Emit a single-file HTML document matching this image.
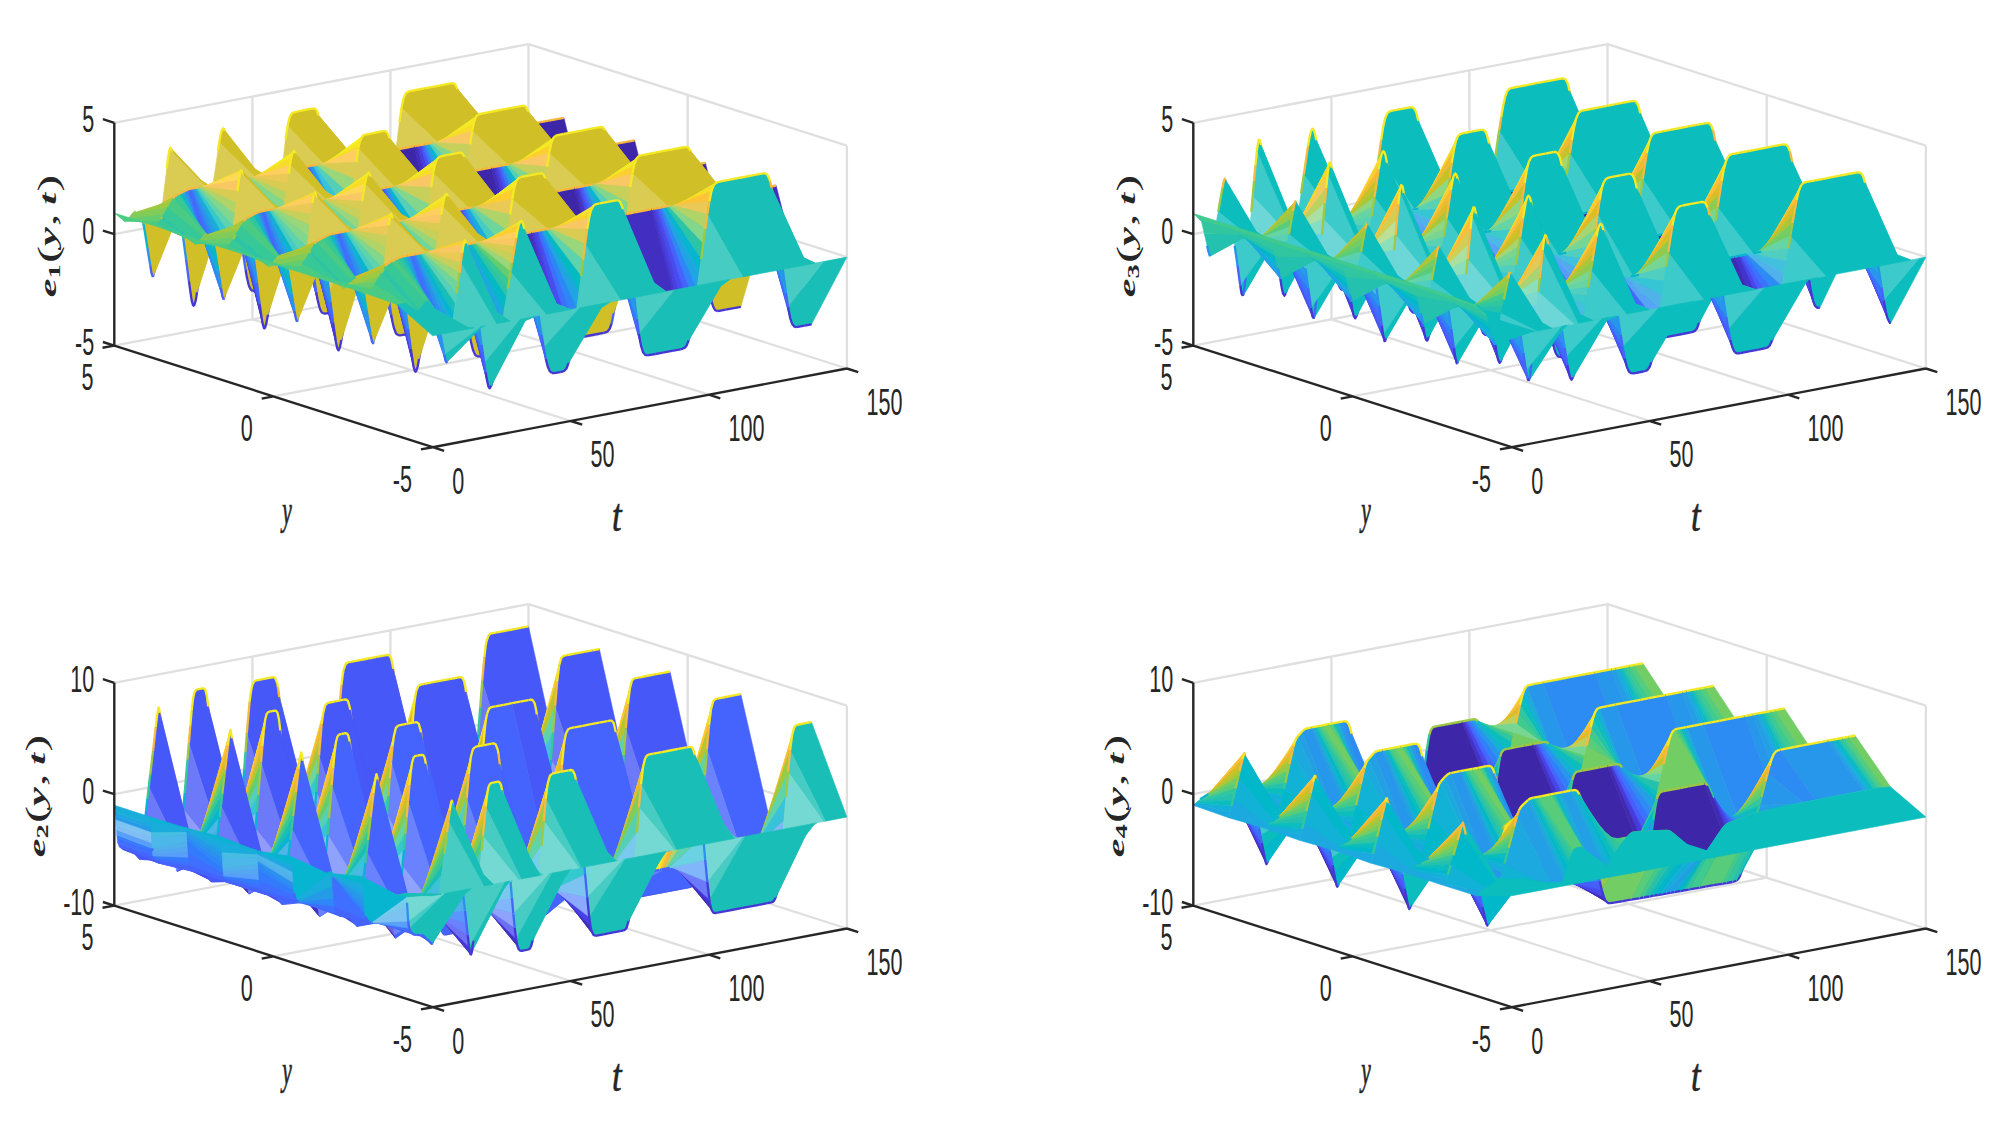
<!DOCTYPE html>
<html lang="en"><head><meta charset="utf-8"><title>e(y,t) mesh plots</title>
<style>
html,body{margin:0;padding:0;background:#fff}
svg{display:block}
.g{fill:none;stroke:#dfdfdf;stroke-width:2.3}
.a{fill:none;stroke:#262626;stroke-width:2.4}
.k{font-family:"Liberation Sans",Arial,sans-serif;font-size:37.5px;fill:#262626}
.m{font-family:"Liberation Serif","DejaVu Serif",serif;font-style:italic;font-size:40.5px;fill:#262626;stroke:#262626;stroke-width:.7px}
.n{font-size:46px}
.b{font-family:"Liberation Serif","DejaVu Serif",serif;font-style:italic;font-weight:bold;font-size:43px;fill:#262626}
.p{font-style:normal;font-weight:normal;font-size:52px}
.s{font-size:29px;font-style:normal}
.q path{stroke-width:.6}
.q path.l{fill:none;stroke-width:2.3;stroke-linejoin:round}
.c0{fill:#3e26a8;stroke:#3e26a8}.c1{fill:#402ab4;stroke:#402ab4}.c2{fill:#422ec0;stroke:#422ec0}.c3{fill:#4332cb;stroke:#4332cb}.c4{fill:#4537d5;stroke:#4537d5}.c5{fill:#463cde;stroke:#463cde}.c6{fill:#4741e5;stroke:#4741e5}.c7{fill:#4747eb;stroke:#4747eb}.c8{fill:#484df0;stroke:#484df0}.c9{fill:#4852f4;stroke:#4852f4}.c10{fill:#4758f8;stroke:#4758f8}.c11{fill:#465efb;stroke:#465efb}.c12{fill:#4563fd;stroke:#4563fd}.c13{fill:#4269fe;stroke:#4269fe}.c14{fill:#3e6fff;stroke:#3e6fff}.c15{fill:#3875fe;stroke:#3875fe}.c16{fill:#327cfc;stroke:#327cfc}.c17{fill:#2f81fa;stroke:#2f81fa}.c18{fill:#2e87f7;stroke:#2e87f7}.c19{fill:#2d8cf3;stroke:#2d8cf3}.c20{fill:#2b91ef;stroke:#2b91ef}.c21{fill:#2797eb;stroke:#2797eb}.c22{fill:#259be8;stroke:#259be8}.c23{fill:#23a0e5;stroke:#23a0e5}.c24{fill:#20a5e3;stroke:#20a5e3}.c25{fill:#1ca9df;stroke:#1ca9df}.c26{fill:#18addb;stroke:#18addb}.c27{fill:#12b1d6;stroke:#12b1d6}.c28{fill:#08b5d0;stroke:#08b5d0}.c29{fill:#01b8ca;stroke:#01b8ca}.c30{fill:#02bac3;stroke:#02bac3}.c31{fill:#0bbdbd;stroke:#0bbdbd}.c32{fill:#19bfb6;stroke:#19bfb6}.c33{fill:#24c1ae;stroke:#24c1ae}.c34{fill:#2cc4a7;stroke:#2cc4a7}.c35{fill:#31c69f;stroke:#31c69f}.c36{fill:#37c897;stroke:#37c897}.c37{fill:#3fca8e;stroke:#3fca8e}.c38{fill:#4acb84;stroke:#4acb84}.c39{fill:#57cc7a;stroke:#57cc7a}.c40{fill:#64cd6f;stroke:#64cd6f}.c41{fill:#72cd64;stroke:#72cd64}.c42{fill:#81cc59;stroke:#81cc59}.c43{fill:#8fcb4e;stroke:#8fcb4e}.c44{fill:#9dc943;stroke:#9dc943}.c45{fill:#abc739;stroke:#abc739}.c46{fill:#b9c431;stroke:#b9c431}.c47{fill:#c5c22a;stroke:#c5c22a}.c48{fill:#d1bf27;stroke:#d1bf27}.c49{fill:#dcbd29;stroke:#dcbd29}.c50{fill:#e6bb2d;stroke:#e6bb2d}.c51{fill:#f0ba36;stroke:#f0ba36}.c52{fill:#f8ba3d;stroke:#f8ba3d}.c53{fill:#febe3c;stroke:#febe3c}.c54{fill:#fec338;stroke:#fec338}.c55{fill:#fec934;stroke:#fec934}.c56{fill:#fccf30;stroke:#fccf30}.c57{fill:#fad62d;stroke:#fad62d}.c58{fill:#f7dc2a;stroke:#f7dc2a}.c59{fill:#f5e327;stroke:#f5e327}.c60{fill:#f5e924;stroke:#f5e924}.c61{fill:#f6ef20;stroke:#f6ef20}.c62{fill:#f7f51b;stroke:#f7f51b}.c63{fill:#f9fb15;stroke:#f9fb15}
.o2{fill-opacity:.2;stroke:none}.o3{fill-opacity:.3;stroke:none}.o4{fill-opacity:.4;stroke:none}.o5{fill-opacity:.5;stroke:none}.o6{fill-opacity:.6;stroke:none}.o7{fill-opacity:.7;stroke:none}.o8{fill-opacity:.8;stroke:none}.o9{fill-opacity:.9;stroke:none}
</style></head><body>
<svg width="2006" height="1133" viewBox="0 0 2006 1133">
<rect width="2006" height="1133" fill="#fff"/>
<g>
<path class="g" d="M114.3 345.6L528.5 266.9M846.9 368.5L528.5 266.9M273.5 396.4L687.7 317.7M570.8 421L252.4 319.4M708.8 394.7L390.4 293.1M252.4 319.4L252.4 96.6M390.4 293.1L390.4 70.3M528.5 266.9L528.5 44.1M114.3 234.2L528.5 155.5M114.3 122.8L528.5 44.1M687.7 317.7L687.7 94.9M846.9 368.5L846.9 145.7M846.9 257.1L528.5 155.5M846.9 145.7L528.5 44.1"/>
<g class="q"><path class="c48" d="M507.3 128.5l56.6-10.7-35.4 121.2-44.2 8.4-2.1 .1-2-1.2-2.1-4.6-.7-2.6-1.4-7-2-14.3-2.1-16.9z"/><path class="c4 l" d="M528.5 239l-6.9 1.4"/><path class="c4 l" d="M521.6 240.4l-8.3 1.5"/><path class="c4 l" d="M513.3 241.9l-8.3 1.6"/><path class="c4 l" d="M505 243.5l-8.3 1.6"/><path class="c4 l" d="M496.7 245.1l-8.2 1.6"/><path class="c4 l" d="M488.5 246.7l-4.2 .7-2.1 .1-2-1.2"/><path class="c4 l" d="M480.2 246.3l-2.1-4.6-.7-2.6-1.4-7-2-14.3"/><path class="c12 l" d="M474 217.8l-2.1-16.9"/><path fill="#dacc52" stroke="#dacc52" d="M496.9 130.5l10.4-2-35.4 72.4-10.4-88z"/><path class="c20 l" d="M471.9 200.9l-2.1-17.7"/><path class="c28 l" d="M469.8 183.2l-2-17.8"/><path class="c36 l" d="M467.8 165.4l-4.2-35.6"/><path class="c48" d="M492.8 131.3l4.1-.8-35.4-17.6-2-14.3-1.4-7-.7-2.6z"/><path class="c60 l" d="M459.5 98.6l-1.4-7-.7-2.6"/><path class="c48" d="M401.5 108.1l2-9.5 2.1-4.9 2.1-1.8 2.1-.7 2-.4 39.4-7.5 2.1 0 2 1.2 2.1 4.5 35.4 42.3-55.9 10.6z"/><path class="c60 l" d="M457.4 89l-2.1-4.5-2-1.2-2.1 0-2.1 .4"/><path class="c60 l" d="M449.1 83.7l-8.3 1.6"/><path class="c60 l" d="M440.8 85.3l-8.3 1.5"/><path class="c60 l" d="M432.5 86.8l-8.2 1.6"/><path class="c60 l" d="M424.3 88.4l-8.3 1.6"/><path class="c60 l" d="M416 90l-6.2 1.2-2.1 .7"/><path class="c60 l" d="M407.7 91.9l-2.1 1.8-2.1 4.9-2 9.5"/><path fill="#dacc52" stroke="#dacc52" d="M393.2 171.8l6.2-49.9 2.1-13.8 35.4 33.8-8.3 1.6z"/><path class="c60 l" d="M401.5 108.1l-2.1 13.8"/><path class="c48" d="M382.8 252.1l2.1-13.5 2.1-16 6.2-50.8 35.4-28.3-10.4 1.9z"/><path class="c36 l" d="M393.2 171.8l-2.1 17"/><path class="c28 l" d="M391.1 188.8l-2 17"/><path class="c20 l" d="M389.1 205.8l-4.2 32.8"/><path class="c12 l" d="M384.9 238.6l-2.1 13.5"/><path class="c48" d="M368.5 154.9l49.7-9.5-35.4 106.7-1.2 6.1-.8 3.1-2.1 4.6-2.1 1.7-2 .7-29 5.5-2.1 .4-2.1 0-2.1-1.4-2-5.1-.7-3-1.4-7.8-2.1-16.1z"/><path class="c4 l" d="M382.8 252.1l-1.2 6.1-.8 3.1-2.1 4.6-2.1 1.7-2 .7"/><path class="c4 l" d="M374.6 268.3l-8.3 1.6"/><path class="c4 l" d="M366.3 269.9l-8.3 1.5"/><path class="c4 l" d="M358 271.4l-8.3 1.6"/><path class="c4 l" d="M349.7 273l-6.2 1.2-2.1 0"/><path class="c4 l" d="M341.4 274.2l-2.1-1.4-2-5.1-.7-3-1.4-7.8"/><path class="c12 l" d="M335.2 256.9l-2.1-16.1"/><path fill="#dacc52" stroke="#dacc52" d="M362.3 156.1l6.2-1.2-35.4 85.9-6.2-58.8z"/><path class="c12 l" d="M333.1 240.8l-2-18.9"/><path class="c20 l" d="M331.1 221.9l-2.1-19.8"/><path fill="#e4d97d" stroke="#e4d97d" d="M360.2 156.5l2.1-.4-35.4 25.9-2-19.8z"/><path class="c28 l" d="M329 202.1l-2.1-20.1"/><path class="c36 l" d="M326.9 182l-2-19.8"/><path fill="#dacc52" stroke="#dacc52" d="M356.1 157.3l4.1-.8-35.3 5.7-2.1-19-2.1-16.4z"/><path class="c48" d="M354 157.6l2.1-.3-35.4-30.5-2.1-11.2z"/><path class="c60 l" d="M320.7 126.8l-2.1-11.2"/><path class="c48" d="M287.6 126l.7-3.4 1.3-5.1 2.1-3.9 2.1-1.3 2.1-.6 14.5-2.8 2-.3 2.1 0 2.1 1.6 2 5.4 35.4 42-31 6z"/><path class="c60 l" d="M318.6 115.6l-2-5.4-2.1-1.6-2.1 0-2 .3"/><path class="c60 l" d="M310.4 108.9l-8.3 1.6"/><path class="c60 l" d="M302.1 110.5l-8.3 1.8"/><path class="c60 l" d="M293.8 112.3l-2.1 1.3-2.1 3.9-1.3 5.1-.7 3.4"/><path fill="#dacc52" stroke="#dacc52" d="M279.3 192.3l6.2-52.9 2.1-13.4 35.4 37.6-8.3 1.5z"/><path class="c60 l" d="M287.6 126l-2.1 13.4"/><path class="c48" d="M268.9 276.4l2.1-13.2 2.1-16.5 6.2-54.4 35.4-27.2-10.4 2z"/><path class="c36 l" d="M279.3 192.3l-2.1 18.2"/><path class="c28 l" d="M277.2 210.5l-2.1 18.3"/><path class="c20 l" d="M275.1 228.8l-4.1 34.4"/><path class="c12 l" d="M271 263.2l-2.1 13.2"/><path class="c48" d="M273.9 172.9l30.4-5.8-35.4 109.3-.5 2.6-1.5 5.5-2.1 3.6-2.1 1.3-2 .5-6.3 1.1-2-.2-1.4-1-1.4-2.4-1.4-4.1-1.4-6.2-1.3-7.8-6.9-47.9z"/><path class="c4 l" d="M268.9 276.4l-.5 2.6-1.5 5.5-2.1 3.6-2.1 1.3-2 .5"/><path class="c4 l" d="M260.7 289.9l-6.3 1.1-2-.2"/><path class="c4 l" d="M252.4 290.8l-1.4-1-1.4-2.4-1.1-3.1-1.7-7.2-1.3-7.8"/><path class="c12 l" d="M245.5 269.3l-2.8-18.5"/><path class="c20 l" d="M242.7 250.8l-2.8-19.5"/><path class="c28 l" d="M239.9 231.3l-1.3-9.9"/><path fill="#dacc52" stroke="#dacc52" d="M264.3 174.7l9.6-1.8-35.3 48.5-9.7-68.6z"/><path class="c28 l" d="M238.6 221.4l-2.8-19.7"/><path class="c36 l" d="M235.8 201.7l-2.8-19.6"/><path class="c48" d="M260.1 175.5l4.2-.8-35.4-21.9-2.8-16.8-1.3-5.4z"/><path class="c60 l" d="M227.5 143.8l-1.4-7.8-1.3-5.4"/><path class="c48" d="M219.2 142.4l1.4-7.5 1.4-5.1 1.4-1.5 1.4 2.3 35.3 44.9-5.5 1z"/><path class="c60 l" d="M224.8 130.6l-1.4-2.3-1.4 1.5-1.4 5.1-1.4 7.5"/><path fill="#dacc52" stroke="#dacc52" d="M210.9 198.2l8.3-55.8 35.4 34.1-8.3 1.6z"/><path class="c60 l" d="M219.2 142.4l-1.4 8.7"/><path class="c48" d="M197.1 292.2l13.8-94 35.4-20.1-13.8 2.6z"/><path class="c36 l" d="M210.9 198.2l-2.7 18.9"/><path class="c28 l" d="M208.2 217.1l-4.2 28.3"/><path class="c20 l" d="M204 245.4l-2.7 18.9"/><path class="c12 l" d="M201.3 264.3l-4.2 27.9"/><path class="c48" d="M218.7 183.4l13.8-2.7-35.4 111.5-1.3 7.9-1.4 4.9-.8 .8-.6-.6-1.4-5.1-1.4-8.8-6.9-52.7z"/><path class="c4 l" d="M197.1 292.2l-1.3 7.9-1.4 4.9-.8 .8-.6-.6-1.4-5.1-2.7-19"/><path class="c12 l" d="M188.9 281.1l-2.8-21.2"/><path class="c20 l" d="M186.1 259.9l-2.8-21.3"/><path fill="#dacc52" stroke="#dacc52" d="M209 185.2l9.7-1.8-35.4 55.2-9.6-74.2z"/><path class="c28 l" d="M183.3 238.6l-2.7-21.2"/><path class="c36 l" d="M180.6 217.4l-2.8-21.2"/><path class="c48" d="M206.3 185.7l2.7-.5-35.3-20.8-1.4-9.7-1.4-6.4z"/><path class="c48" d="M169.5 149.4l.9-1.7 .5 .6 35.4 37.4-1.4 .3z"/><path class="c60 l" d="M172.3 154.7l-1.4-6.4-.5-.6-.9 1.7"/><path fill="#dacc52" stroke="#dacc52" d="M161.2 214.1l6.9-56.6 1.4-8.1 35.4 36.6-8.3 1.6z"/><path class="c60 l" d="M169.5 149.4l-1.4 8.1-1.3 11"/><path class="c48" d="M153 277l1.3-6.4 6.9-56.5 35.4-26.5-8.3 1.7z"/><path class="c36 l" d="M161.2 214.1l-1.3 11.4"/><path class="c28 l" d="M159.9 225.5l-2.8 22.8"/><path class="c20 l" d="M157.1 248.3l-2.8 22.3"/><path class="c12 l" d="M154.3 270.6l-1.3 6.4"/><path class="c48" d="M174.5 196.5l1.4-1 12.4-6.2-35.3 87.7-1.4-3.5-6.9-42.8-1.4-7.3-1.4-3.3-2.7-4z"/><path class="c12 l" d="M153 277l-1.4-3.5-1.4-8.2"/><path class="c20 l" d="M150.2 265.3l-2.8-17.3"/><path class="c28 l" d="M147.4 248l-2.7-17.3-1.4-7.3"/><path class="c46" d="M171.8 200.8l2.7-4.3-35.3 19.6-2.8-3.9z"/><path class="c36 l" d="M143.3 223.4l-1.4-3.3-5.5-7.9"/><path class="c44" d="M132.2 213.6l1.4-1.7 1.4-1.1 1.4 1.4 35.4-11.4-4.2 6.9z"/><path class="c42" d="M128.1 218.7l4.1-5.1 35.4-5.9-4.1 6.9z"/><path class="c40" d="M124 220.9l1.3 1 2.8-3.2 35.4-4.1-4.2 7z"/><path class="c38" d="M122.6 219.8l1.4 1.1 35.3 .7-1.3 2.1z"/><path class="c38" d="M149.7 224.3l8.3-.6-35.4-3.9-8.3-6.8z"/></g>
<g class="q"><path class="c0" d="M517.6 126.6l46.3-8.8 35.4 143.8-42.2 8-2 .4-2.1 .1z"/><path class="c52 l" d="M563.9 117.8l-6.9 1.3"/><path class="c52 l" d="M557 119.1l-8.3 1.6"/><path class="c52 l" d="M548.7 120.7l-8.3 1.5"/><path class="c52 l" d="M540.4 122.2l-8.3 1.6"/><path class="c52 l" d="M532.1 123.8l-8.3 1.6"/><path class="c2" d="M515.6 127l2-.4 35.4 143.5-2.1-1.3z"/><path class="c4" d="M512.8 127.5l2.8-.5 35.3 141.8-2-4.5-.7-2.6z"/><path class="c52 l" d="M523.8 125.4l-8.2 1.6"/><path class="c6" d="M511.4 127.7l1.4-.2 35.4 134.2-1.4-7z"/><path class="c12" d="M509.3 128.1l2.1-.4 35.4 127-2.1-14.3z"/><path class="c18" d="M542.6 223.5l2.1 16.9-35.4-112.3-2 .4z"/><path class="c24" d="M540.6 205.8l2 17.7-35.3-95-2.1 .4z"/><path class="c52 l" d="M515.6 127l-8.3 1.5"/><path class="c32" d="M538.5 187.9l2.1 17.9-35.4-76.9-2.1 .4z"/><path class="c38" d="M536.4 170.1l2.1 17.8-35.4-58.6-2 .4z"/><path fill="#b1d468" stroke="#b1d468" d="M534.4 152.4l2 17.7-35.3-40.4-2.1 .4z"/><path class="c52 l" d="M507.3 128.5l-6.2 1.2"/><path fill="#f9c864" stroke="#f9c864" d="M532.3 135.5l2.1 16.9-35.4-22.3-2.1 .4z"/><path fill="#fdd959" stroke="#fdd959" d="M530.2 121.2l2.1 14.3-35.4-5-2.1 .4z"/><path class="c60" d="M528.2 111.6l.6 2.6 1.4 7-35.4 9.7-2 .4z"/><path class="c62" d="M476.4 116.3l2-1.8 2.1-.7 41.4-7.9 2.1-.1 2.1 1.3 2.1 4.5-35.4 19.7-51.8 9.8z"/><path class="c52 l" d="M492.8 131.3l-8.3 1.6"/><path class="c52 l" d="M484.5 132.9l-8.3 1.5"/><path class="c52 l" d="M476.2 134.4l-8.3 1.6"/><path class="c52 l" d="M467.9 136l-8.3 1.6"/><path class="c52 l" d="M459.6 137.6l-8.2 1.6"/><path class="c52 l" d="M451.4 139.2l-8.3 1.5"/><path class="c60" d="M438.2 141.6l2.8-.5 35.4-24.8-2.1 4.9-.7 2.6z"/><path class="c52 l" d="M443.1 140.7l-2.1 .4"/><path class="c58" d="M436.9 141.9l1.3-.3 35.4-17.8-1.4 6.9z"/><path fill="#f9c864" stroke="#f9c864" d="M434.8 142.3l2.1-.4 35.3-11.2-2 13.7z"/><path fill="#c7d05a" stroke="#c7d05a" d="M432.7 142.7l2.1-.4 35.4 2.1-2.1 16.1z"/><path fill="#83d78c" stroke="#83d78c" d="M430.6 143.1l2.1-.4 35.4 17.8-2.1 16.9z"/><path fill="#56cfb9" stroke="#56cfb9" d="M428.6 143.5l2-.4 35.4 34.3-2 17z"/><path class="c28" d="M426.5 143.9l2.1-.4 35.4 50.9-2.1 17z"/><path class="c22" d="M424.4 144.3l2.1-.4 35.4 67.5-2.1 17z"/><path class="c16" d="M422.4 144.7l2-.4 35.4 84.1-2.1 16.8z"/><path class="c52 l" d="M432.7 142.7l-8.3 1.6"/><path class="c10" d="M420.3 145.1l2.1-.4 35.3 100.5-2 16z"/><path class="c6" d="M418.2 145.4l2.1-.3 35.4 116.1-2.1 13.5z"/><path class="c4" d="M417 145.7l1.2-.3 35.4 129.3-1.2 6.1z"/><path class="c2" d="M414.1 146.2l2.9-.5 35.4 135.1-.9 3.1-2 4.6z"/><path class="c52 l" d="M424.4 144.3l-8.3 1.5"/><path class="c52 l" d="M416.1 145.8l-2 .4"/><path class="c0" d="M376.8 153.3l37.3-7.1 35.4 142.3-2.1 1.7-2.1 .7-29 5.5-2.1 .4-2 0z"/><path class="c52 l" d="M414.1 146.2l-8.3 1.6"/><path class="c52 l" d="M405.8 147.8l-8.3 1.6"/><path class="c52 l" d="M397.5 149.4l-8.3 1.6"/><path class="c52 l" d="M389.2 151l-8.3 1.5"/><path class="c2" d="M374.7 153.7l2.1-.4 35.4 143.5-2.1-1.4z"/><path class="c4" d="M372 154.2l2.7-.5 35.4 141.7-2.1-5.2-.7-2.9z"/><path class="c52 l" d="M380.9 152.5l-8.2 1.6"/><path class="c8" d="M370.6 154.5l1.4-.3 35.3 133.1-1.3-7.9z"/><path class="c14" d="M403.9 263.4l2.1 16-35.4-124.9-2.1 .4z"/><path class="c20" d="M401.8 244.5l2.1 18.9-35.4-108.5-2.1 .4z"/><path class="c28" d="M399.7 224.6l2.1 19.9-35.4-89.2-2 .4z"/><path class="c36" d="M397.7 204.6l2 20-35.3-68.9-2.1 .4z"/><path class="c52 l" d="M372.7 154.1l-8.3 1.6"/><path fill="#9ad67a" stroke="#9ad67a" d="M395.6 184.7l2.1 19.9-35.4-48.5-2.1 .4z"/><path fill="#ebc957" stroke="#ebc957" d="M393.5 165.7l2.1 19-35.4-28.2-2 .4z"/><path class="c52 l" d="M364.4 155.7l-4.2 .8"/><path fill="#fdd959" stroke="#fdd959" d="M391.5 149.4l2 16.3-35.3-8.8-2.1 .4z"/><path fill="#f7ed50" stroke="#f7ed50" d="M389.9 140.6l1.6 8.8-35.4 7.9-1.5 .2z"/><path class="c60" d="M389.4 138.2l.5 2.4-35.3 16.9-.6 .1z"/><path class="c62" d="M362.5 136.2l2-1.4 2.1-.5 16.6-3.1 2.1 0 2 1.6 2.1 5.4-35.4 19.4-26.9 5.2z"/><path class="c52 l" d="M354 157.6l-8.3 1.6"/><path class="c52 l" d="M345.7 159.2l-8.3 1.6"/><path class="c52 l" d="M337.4 160.8l-8.2 1.6"/><path class="c62" d="M325 163.2l2.1-.4 35.4-26.6-2.1 3.9z"/><path class="c60" d="M323.6 163.4l1.4-.2 35.4-23.1-1.4 5z"/><path class="c52 l" d="M329.2 162.4l-4.2 .8"/><path class="c58" d="M323 163.6l.6-.2 35.4-18.3-.7 3.5z"/><path fill="#fecf60" stroke="#fecf60" d="M320.9 163.9l2.1-.3 35.3-15-2 13.4z"/><path fill="#dacc52" stroke="#dacc52" d="M318.8 164.3l2.1-.4 35.4-1.9-2.1 16.7z"/><path fill="#9ad67a" stroke="#9ad67a" d="M316.7 164.7l2.1-.4 35.4 14.4-2.1 17.9z"/><path fill="#56cfb9" stroke="#56cfb9" d="M314.7 165.1l2-.4 35.4 31.9-2.1 18.3z"/><path fill="#39c3da" stroke="#39c3da" d="M312.6 165.5l2.1-.4 35.3 49.8-2 18.2z"/><path class="c22" d="M310.5 165.9l2.1-.4 35.4 67.6-2.1 18.3z"/><path class="c16" d="M308.5 166.3l2-.4 35.4 85.5-2.1 17.9z"/><path class="c52 l" d="M318.8 164.3l-8.3 1.6"/><path class="c10" d="M306.4 166.7l2.1-.4 35.3 103-2 16.5z"/><path class="c4" d="M303.8 167.2l2.6-.5 35.4 119.1-2.7 15.8z"/><path class="c2" d="M302.2 167.5l1.6-.3 35.3 134.4-1.5 5.5z"/><path class="c52 l" d="M310.5 165.9l-8.3 1.6"/><path class="c0" d="M287.7 170.2l14.5-2.7 35.4 139.6-2.1 3.6-2 1.3-2.1 .5-6.2 1.1-2.1-.2z"/><path class="c52 l" d="M302.2 167.5l-8.2 1.6"/><path class="c2" d="M285 170.8l2.7-.6 35.4 143.2-1.4-1-1.3-2.4z"/><path class="c52 l" d="M294 169.1l-7.6 1.4"/><path class="c4" d="M283.6 171l1.4-.2 35.4 139.2-1.4-4.2z"/><path class="c6" d="M282.2 171.3l1.4-.3 35.4 134.8-1.4-6.1z"/><path class="c10" d="M280.8 171.6l1.4-.3 35.4 128.4-1.4-7.8z"/><path class="c12" d="M279.5 171.8l1.3-.2 35.4 120.3-1.4-9z"/><path class="c16" d="M313.5 273.4l1.3 9.5-35.3-111.1-1.4 .3z"/><path class="c20" d="M312.1 263.7l1.4 9.7-35.4-101.3-1.4 .2z"/><path class="c52 l" d="M286.4 170.5l-8.3 1.6"/><path class="c24" d="M310.7 253.8l1.4 9.9-35.4-91.4-1.4 .3z"/><path class="c28" d="M309.3 244l1.4 9.8-35.4-81.2-1.4 .3z"/><path class="c30" d="M307.9 234.2l1.4 9.8-35.4-71.1-1.3 .2z"/><path class="c34" d="M306.6 224.3l1.3 9.9-35.3-61.1-1.4 .3z"/><path class="c38" d="M305.2 214.5l1.4 9.8-35.4-50.9-1.4 .2z"/><path class="c42" d="M303.8 204.7l1.4 9.8-35.4-40.9-1.4 .3z"/><path class="c52 l" d="M278.1 172.1l-8.3 1.5"/><path fill="#c7d05a" stroke="#c7d05a" d="M302.4 194.8l1.4 9.9-35.4-30.8-1.4 .3z"/><path class="c52 l" d="M269.8 173.6l-1.4 .3"/><path fill="#ebc957" stroke="#ebc957" d="M301 185l1.4 9.8-35.4-20.6-1.3 .2z"/><path fill="#f9c864" stroke="#f9c864" d="M299.7 175.4l1.3 9.6-35.3-10.6-1.4 .3z"/><path fill="#fdd959" stroke="#fdd959" d="M298.3 166.3l1.4 9.1-35.4-.7-1.4 .3z"/><path fill="#f8e355" stroke="#f8e355" d="M296.9 158.6l1.4 7.7-35.4 8.7-1.4 .2z"/><path class="c62" d="M292.7 152.4l1.4-1.5 1.4 2.2 1.4 5.5-35.4 16.6-4.1 .8z"/><path class="c60" d="M256 176.3l1.4-.3 35.3-23.6-1.3 5z"/><path class="c52 l" d="M261.5 175.2l-4.1 .8"/><path class="c58" d="M254.6 176.5l1.4-.2 35.4-18.9-1.4 7.5z"/><path fill="#fecf60" stroke="#fecf60" d="M253.2 176.8l1.4-.3 35.4-11.6-1.4 8.8z"/><path fill="#ebc957" stroke="#ebc957" d="M251.8 177.1l1.4-.3 35.4-3.1-1.4 9.3z"/><path fill="#dacc52" stroke="#dacc52" d="M250.5 177.3l1.3-.2 35.4 5.9-1.4 9.4z"/><path fill="#b1d468" stroke="#b1d468" d="M249.1 177.6l1.4-.3 35.3 15.1-1.3 9.5z"/><path fill="#83d78c" stroke="#83d78c" d="M247.7 177.8l1.4-.2 35.4 24.3-1.4 9.4z"/><path fill="#6ed69d" stroke="#6ed69d" d="M246.3 178.1l1.4-.3 35.4 33.5-1.4 9.5z"/><path class="c34" d="M244.9 178.4l1.4-.3 35.4 42.7-1.4 9.4z"/><path class="c30" d="M243.6 178.6l1.3-.2 35.4 51.8-1.4 9.5z"/><path class="c28" d="M242.2 178.9l1.4-.3 35.3 61.1-1.3 9.4z"/><path class="c24" d="M240.8 179.2l1.4-.3 35.4 70.2-1.4 9.4z"/><path class="c20" d="M239.4 179.4l1.4-.2 35.4 79.3-1.4 9.5z"/><path class="c52 l" d="M249.1 177.6l-8.3 1.6"/><path class="c18" d="M238 179.7l1.4-.3 35.4 88.6-1.4 9.4z"/><path class="c14" d="M236.7 179.9l1.3-.2 35.4 97.7-1.4 9.5z"/><path class="c10" d="M235.3 180.2l1.4-.3 35.3 107-1.3 9.4z"/><path class="c8" d="M233.9 180.5l1.4-.3 35.4 116.1-1.4 9.4z"/><path class="c4" d="M232.5 180.7l1.4-.2 35.4 125.2-1.4 9.1z"/><path class="c2" d="M231.1 181l1.4-.3 35.4 134.1-1.4 7.8z"/><path class="c52 l" d="M240.8 179.2l-8.3 1.5"/><path class="c0" d="M228.4 181.5l2.7-.5 35.4 141.6-1.4 5-.8 .8-.5-.6z"/><path class="c2" d="M227 181.8l1.4-.3 35.4 146.3-1.4-5.2z"/><path class="c4" d="M225.6 182l1.4-.2 35.4 140.8-1.4-8.7z"/><path class="c8" d="M259.6 303.6l1.4 10.3-35.4-131.9-1.4 .3z"/><path class="c12" d="M258.2 293.1l1.4 10.5-35.4-121.3-1.3 .3z"/><path class="c52 l" d="M232.5 180.7l-8.3 1.6"/><path class="c16" d="M256.9 282.4l1.3 10.7-35.3-110.5-1.4 .2z"/><path class="c20" d="M255.5 271.8l1.4 10.6-35.4-99.6-1.4 .3z"/><path class="c24" d="M254.1 261.2l1.4 10.6-35.4-88.7-1.4 .3z"/><path class="c28" d="M252.7 250.6l1.4 10.6-35.4-77.8-1.4 .2z"/><path class="c32" d="M251.3 240l1.4 10.6-35.4-67-1.4 .3z"/><path class="c36" d="M249.9 229.4l1.4 10.6-35.4-56.1-1.3 .2z"/><path class="c52 l" d="M224.2 182.3l-8.3 1.6"/><path class="c40" d="M248.6 218.8l1.3 10.6-35.3-45.3-1.4 .3z"/><path fill="#b1d468" stroke="#b1d468" d="M247.2 208.2l1.4 10.6-35.4-34.4-1.4 .3z"/><path class="c52 l" d="M215.9 183.9l-2.7 .5"/><path fill="#dacc52" stroke="#dacc52" d="M245.8 197.5l1.4 10.7-35.4-23.5-1.4 .2z"/><path fill="#f9c864" stroke="#f9c864" d="M244.4 187l1.4 10.5-35.4-12.6-1.4 .3z"/><path fill="#fdd959" stroke="#fdd959" d="M243 177.2l1.4 9.8-35.4-1.8-1.3 .3z"/><path class="c58" d="M241.1 170.3l.6 .6 1.3 6.3-35.3 8.3-2 .3z"/><path class="c58" d="M204.9 186l.8-.2 35.4-15.5-.8 1.7z"/><path fill="#fdd959" stroke="#fdd959" d="M203.5 186.2l1.4-.2 35.4-14-1.4 8.1z"/><path fill="#f9c864" stroke="#f9c864" d="M202.1 186.5l1.4-.3 35.4-6.1-1.4 11z"/><path fill="#dacc52" stroke="#dacc52" d="M200.8 186.8l1.3-.3 35.4 4.6-1.4 11.4z"/><path fill="#b1d468" stroke="#b1d468" d="M199.4 187l1.4-.2 35.3 15.7-1.3 11.4z"/><path fill="#83d78c" stroke="#83d78c" d="M198 187.3l1.4-.3 35.4 26.9-1.4 11.4z"/><path fill="#5fd3ac" stroke="#5fd3ac" d="M196.6 187.6l1.4-.3 35.4 38-1.4 11.4z"/><path fill="#34c8cf" stroke="#34c8cf" d="M195.2 187.8l1.4-.2 35.4 49.1-1.4 11.4z"/><path class="c26" d="M193.9 188.1l1.3-.3 35.4 60.3-1.4 11.4z"/><path class="c22" d="M192.5 188.3l1.4-.2 35.3 71.4-1.3 11.4z"/><path class="c18" d="M191.1 188.6l1.4-.3 35.4 82.6-1.4 11.4z"/><path class="c14" d="M189.7 188.9l1.4-.3 35.4 93.7-1.4 10.9z"/><path class="c52 l" d="M199.4 187l-8.3 1.6"/><path class="c12" d="M188.3 189.3l1.4-.4 35.4 104.3-1.4 6.4z"/><path class="c14" d="M187 189.8l1.3-.5 35.4 110.3-1.4-3.5z"/><path class="c18" d="M185.6 190.5l1.4-.7 35.3 106.3-1.3-8.3z"/><path class="c20" d="M219.6 279.2l1.4 8.6-35.4-97.3-1.4 .8z"/><path class="c24" d="M218.2 270.5l1.4 8.7-35.4-87.9-1.4 .7z"/><path class="c26" d="M216.8 261.9l1.4 8.6-35.4-78.5-1.4 .7z"/><path class="c52 l" d="M191.1 188.6l-2.8 .7-5.5 2.7"/><path class="c30" d="M215.4 253.3l1.4 8.6-35.4-69.2-1.3 .7z"/><path class="c32" d="M214 246l1.4 7.3-35.3-59.9-1.4 .7z"/><path class="c34" d="M177.3 194.8l1.4-.7 35.3 51.9-1.3-3.4z"/><path class="c52 l" d="M182.8 192l-5.5 2.8"/><path class="c36" d="M173.1 198.5l1.4-2 2.8-1.7 35.4 47.8-4.2-5.9z"/><path class="c52 l" d="M177.3 194.8l-2.8 1.7-1.4 2"/><path class="c38" d="M167.6 207.7l5.5-9.2 35.4 38.2-1.4-1.9-1.3-1.5-1.4 1.2-1.4 1.7z"/><path class="c36" d="M162.1 216.9l5.5-9.2 35.4 28.5-5.5 6.8z"/><path class="c34" d="M160.7 219.3l1.4-2.4 35.4 26.1-1.4 1.4z"/><path class="c44 l" d="M162.1 216.9l-1.4 2.4"/><path class="c36" d="M155.2 224l2.8-.3 2.7-4.4 35.4 25.1-1.4-.9-4.1-3.4z"/><path class="c38" d="M152.4 224.2l2.8-.2 35.4 16.1-2.8-2.2z"/><path class="c38" d="M185.1 235.6l2.7 2.3-35.4-13.7-2.7 .1z"/></g>
<g class="q"><path class="c48" d="M578 151.1l56.6-10.7-35.3 121.2-44.2 8.4-2.1 .1-2.1-1.3-2-4.5-.7-2.6-1.4-7-2.1-14.3-2.1-16.9z"/><path class="c4 l" d="M599.3 261.6l-6.9 1.3"/><path class="c4 l" d="M592.4 262.9l-8.3 1.6"/><path class="c4 l" d="M584.1 264.5l-8.3 1.6"/><path class="c4 l" d="M575.8 266.1l-8.3 1.6"/><path class="c4 l" d="M567.5 267.7l-8.3 1.5"/><path class="c4 l" d="M559.2 269.2l-4.1 .8-2.1 .1-2.1-1.3"/><path class="c4 l" d="M550.9 268.8l-2-4.5-.7-2.6-1.4-7-2.1-14.3"/><path class="c12 l" d="M544.7 240.4l-2.1-16.9"/><path fill="#dacc52" stroke="#dacc52" d="M567.7 153.1l10.3-2-35.4 72.4-10.3-88z"/><path class="c20 l" d="M542.6 223.5l-2-17.7"/><path class="c28 l" d="M540.6 205.8l-2.1-17.9"/><path class="c36 l" d="M538.5 187.9l-4.1-35.5"/><path class="c48" d="M563.5 153.9l4.2-.8-35.4-17.6-2.1-14.3-1.4-7-.6-2.6z"/><path class="c60 l" d="M530.2 121.2l-1.4-7-.6-2.6"/><path class="c48" d="M472.2 130.7l2.1-9.5 2.1-4.9 2-1.8 2.1-.7 2.1-.4 39.3-7.5 2.1-.1 2.1 1.3 2.1 4.5 35.3 42.3-55.9 10.6z"/><path class="c60 l" d="M528.2 111.6l-2.1-4.5-2.1-1.3-2.1 .1-2 .4"/><path class="c60 l" d="M519.9 106.3l-8.3 1.5"/><path class="c60 l" d="M511.6 107.8l-8.3 1.6"/><path class="c60 l" d="M503.3 109.4l-8.3 1.6"/><path class="c60 l" d="M495 111l-8.3 1.6"/><path class="c60 l" d="M486.7 112.6l-6.2 1.2-2.1 .7"/><path class="c60 l" d="M478.4 114.5l-2 1.8-2.1 4.9-2.1 9.5"/><path fill="#dacc52" stroke="#dacc52" d="M464 194.4l6.2-50 2-13.7 35.4 33.8-8.3 1.6z"/><path class="c60 l" d="M472.2 130.7l-2 13.7"/><path class="c48" d="M453.6 274.7l2.1-13.5 2-16 6.3-50.8 35.3-28.3-10.3 1.9z"/><path class="c36 l" d="M464 194.4l-2.1 17"/><path class="c28 l" d="M461.9 211.4l-2.1 17"/><path class="c20 l" d="M459.8 228.4l-4.1 32.8"/><path class="c12 l" d="M455.7 261.2l-2.1 13.5"/><path class="c48" d="M439.3 177.5l49.7-9.5-35.4 106.7-1.2 6.1-.9 3.1-2 4.6-2.1 1.7-2.1 .7-29 5.5-2.1 .4-2 0-2.1-1.4-2.1-5.2-.7-2.9-1.3-7.9-2.1-16z"/><path class="c4 l" d="M453.6 274.7l-1.2 6.1-.9 3.1-2 4.6-2.1 1.7-2.1 .7"/><path class="c4 l" d="M445.3 290.9l-8.3 1.6"/><path class="c4 l" d="M437 292.5l-8.3 1.5"/><path class="c4 l" d="M428.7 294l-8.2 1.6"/><path class="c4 l" d="M420.5 295.6l-6.3 1.2-2 0"/><path class="c4 l" d="M412.2 296.8l-2.1-1.4-2.1-5.2-.7-2.9-1.3-7.9"/><path class="c12 l" d="M406 279.4l-2.1-16"/><path fill="#dacc52" stroke="#dacc52" d="M433.1 178.7l6.2-1.2-35.4 85.9-6.2-58.8z"/><path class="c12 l" d="M403.9 263.4l-2.1-18.9"/><path class="c20 l" d="M401.8 244.5l-2.1-19.9"/><path fill="#e4d97d" stroke="#e4d97d" d="M431 179l2.1-.3-35.4 25.9-2.1-19.9z"/><path class="c28 l" d="M399.7 224.6l-2-20"/><path class="c36 l" d="M397.7 204.6l-2.1-19.9"/><path fill="#dacc52" stroke="#dacc52" d="M426.8 179.8l4.2-.8-35.4 5.7-2.1-19-2-16.3z"/><path class="c48" d="M424.8 180.2l2-.4-35.3-30.4-2.1-11.2z"/><path class="c60 l" d="M391.5 149.4l-2.1-11.2"/><path class="c48" d="M358.3 148.6l.7-3.5 1.4-5 2.1-3.9 2-1.4 2.1-.5 14.5-2.8 2.1-.3 2.1 0 2 1.6 2.1 5.4 35.4 42-31.1 5.9z"/><path class="c60 l" d="M389.4 138.2l-2.1-5.4-2-1.6-2.1 0-2.1 .3"/><path class="c60 l" d="M381.1 131.5l-8.3 1.6"/><path class="c60 l" d="M372.8 133.1l-8.3 1.7"/><path class="c60 l" d="M364.5 134.8l-2 1.4-2.1 3.9-1.4 5-.7 3.5"/><path fill="#dacc52" stroke="#dacc52" d="M350 214.9l6.3-52.9 2-13.4 35.4 37.5-8.3 1.6z"/><path class="c60 l" d="M358.3 148.6l-2 13.4"/><path class="c48" d="M339.7 298.9l2.1-13.1 2-16.5 6.2-54.4 35.4-27.2-10.3 2z"/><path class="c36 l" d="M350 214.9l-2 18.2"/><path class="c28 l" d="M348 233.1l-2.1 18.3"/><path class="c20 l" d="M345.9 251.4l-4.1 34.4"/><path class="c12 l" d="M341.8 285.8l-2.1 13.1"/><path class="c48" d="M344.7 195.4l30.4-5.7-35.4 109.2-.6 2.7-1.5 5.5-2.1 3.6-2 1.3-2.1 .5-6.2 1.1-2.1-.2-1.4-1-1.3-2.4-1.4-4.2-1.4-6.1-1.4-7.8-6.9-47.9z"/><path class="c4 l" d="M339.7 298.9l-.6 2.7-1.5 5.5-2.1 3.6-2 1.3-2.1 .5"/><path class="c4 l" d="M331.4 312.5l-6.2 1.1-2.1-.2"/><path class="c4 l" d="M323.1 313.4l-1.4-1-1.3-2.4-1.1-3.2-1.7-7.1-1.4-7.8"/><path class="c12 l" d="M316.2 291.9l-2.7-18.5"/><path class="c20 l" d="M313.5 273.4l-2.8-19.6"/><path class="c28 l" d="M310.7 253.8l-1.4-9.8"/><path fill="#dacc52" stroke="#dacc52" d="M335 197.3l9.7-1.9-35.4 48.6-9.6-68.6z"/><path class="c28 l" d="M309.3 244l-2.7-19.7"/><path class="c36 l" d="M306.6 224.3l-2.8-19.6"/><path class="c48" d="M330.9 198.1l4.1-.8-35.3-21.9-2.8-16.8-1.4-5.5z"/><path class="c60 l" d="M298.3 166.3l-1.4-7.7-1.4-5.5"/><path class="c48" d="M290 164.9l1.4-7.5 1.3-5 1.4-1.5 1.4 2.2 35.4 45-5.5 1z"/><path class="c60 l" d="M295.5 153.1l-1.4-2.2-1.4 1.5-1.3 5-1.4 7.5"/><path fill="#dacc52" stroke="#dacc52" d="M281.7 220.8l8.3-55.9 35.4 34.2-8.3 1.6z"/><path class="c60 l" d="M290 164.9l-1.4 8.8"/><path class="c48" d="M267.9 314.8l13.8-94 35.4-20.1-13.8 2.6z"/><path class="c36 l" d="M281.7 220.8l-2.8 18.9"/><path class="c28 l" d="M278.9 239.7l-4.1 28.3"/><path class="c20 l" d="M274.8 268l-2.8 18.9"/><path class="c12 l" d="M272 286.9l-4.1 27.9"/><path class="c48" d="M289.5 205.9l13.8-2.6-35.4 111.5-1.4 7.8-1.4 5-.8 .8-.5-.6-1.4-5.2-1.4-8.7-6.9-52.7z"/><path class="c4 l" d="M267.9 314.8l-1.4 7.8-1.4 5-.8 .8-.5-.6-1.4-5.2-2.8-19"/><path class="c12 l" d="M259.6 303.6l-2.7-21.2"/><path class="c20 l" d="M256.9 282.4l-2.8-21.2"/><path fill="#dacc52" stroke="#dacc52" d="M279.8 207.8l9.7-1.9-35.4 55.3-9.7-74.2z"/><path class="c28 l" d="M254.1 261.2l-2.8-21.2"/><path class="c36 l" d="M251.3 240l-2.7-21.2"/><path class="c48" d="M277 208.3l2.8-.5-35.4-20.8-1.4-9.8-1.3-6.3z"/><path class="c48" d="M240.3 172l.8-1.7 .6 .6 35.3 37.4-1.3 .3z"/><path class="c60 l" d="M243 177.2l-1.3-6.3-.6-.6-.8 1.7"/><path fill="#dacc52" stroke="#dacc52" d="M232 236.7l6.9-56.6 1.4-8.1 35.4 36.6-8.3 1.5z"/><path class="c60 l" d="M240.3 172l-1.4 8.1-1.4 11"/><path class="c48" d="M223.7 299.6l1.4-6.4 6.9-56.5 35.4-26.6-8.3 1.7z"/><path class="c36 l" d="M232 236.7l-1.4 11.4"/><path class="c28 l" d="M230.6 248.1l-2.7 22.8"/><path class="c20 l" d="M227.9 270.9l-2.8 22.3"/><path class="c12 l" d="M225.1 293.2l-1.4 6.4"/><path class="c48" d="M245.3 219.1l1.4-1 12.4-6.3-35.4 87.8-1.4-3.5-6.9-42.8-1.4-7.3-1.3-3.4-2.8-3.9z"/><path class="c12 l" d="M223.7 299.6l-1.4-3.5-1.3-8.3"/><path class="c20 l" d="M221 287.8l-2.8-17.3"/><path class="c28 l" d="M218.2 270.5l-2.8-17.2-1.4-7.3"/><path class="c46" d="M242.5 223.4l2.8-4.3-35.4 19.6-2.8-3.9z"/><path class="c36 l" d="M214 246l-1.3-3.4-5.6-7.8"/><path class="c44" d="M203 236.2l1.4-1.7 1.4-1.2 1.3 1.5 35.4-11.4-4.1 6.9z"/><path class="c42" d="M198.9 241.3l4.1-5.1 35.4-5.9-4.2 6.9z"/><path class="c40" d="M194.7 243.5l1.4 .9 2.8-3.1 35.3-4.1-4.1 6.9z"/><path class="c38" d="M193.3 242.4l1.4 1.1 35.4 .6-1.4 2.2z"/><path class="c38" d="M220.4 246.9l8.3-.6-35.4-3.9-8.2-6.8z"/></g>
<g class="q"><path class="c0" d="M596.7 147.6l37.9-7.2 35.4 143.8-35.9 6.8-2.1 .3z"/><path class="c52 l" d="M634.6 140.4l-6.9 1.3"/><path class="c52 l" d="M627.7 141.7l-8.3 1.5"/><path class="c52 l" d="M619.4 143.2l-8.2 1.6"/><path class="c52 l" d="M611.2 144.8l-8.3 1.6"/><path class="c52 l" d="M602.9 146.4l-6.2 1.2"/><path class="c2" d="M592.5 148.4l4.2-.8 35.3 143.7-2-.6-2.1-3.1z"/><path class="c4" d="M591.1 148.6l1.4-.2 35.4 139.2-1.5-4.8z"/><path class="c6" d="M590.5 148.7l.6-.1 35.3 134.2-.6-2.7z"/><path class="c10" d="M588.4 149.1l2.1-.4 35.3 131.4-2-12.6z"/><path class="c16" d="M621.7 251.7l2.1 15.8-35.4-118.4-2.1 .4z"/><path class="c52 l" d="M596.7 147.6l-8.3 1.5"/><path class="c22" d="M619.6 234.4l2.1 17.3-35.4-102.2-2.1 .4z"/><path class="c28" d="M617.5 216.9l2.1 17.5-35.4-84.5-2 .4z"/><path class="c36" d="M615.5 199.3l2 17.6-35.3-66.6-2.1 .4z"/><path fill="#9ad67a" stroke="#9ad67a" d="M613.4 181.7l2.1 17.6-35.4-48.6-2.1 .4z"/><path class="c52 l" d="M588.4 149.1l-8.3 1.6"/><path fill="#dacc52" stroke="#dacc52" d="M611.3 164.6l2.1 17.1-35.4-30.6-2 .4z"/><path class="c52 l" d="M580.1 150.7l-2.1 .4"/><path fill="#fecf60" stroke="#fecf60" d="M609.3 149l2 15.6-35.3-13.1-2.1 .4z"/><path fill="#f8e355" stroke="#f8e355" d="M607.2 137l2.1 12-35.4 2.9-2.1 .4z"/><path class="c60" d="M606.8 135.4l.4 1.6-35.4 15.3-.4 .1z"/><path class="c62" d="M553.3 138l2.1-2.1 2.1-.7 43.5-8.2 2 .4 2.1 2.7 1.7 5.3-35.4 17-53.4 10.1z"/><path class="c52 l" d="M571.4 152.4l-7.9 1.5"/><path class="c52 l" d="M563.5 153.9l-8.3 1.5"/><path class="c52 l" d="M555.2 155.4l-8.2 1.6"/><path class="c52 l" d="M547 157l-8.3 1.6"/><path class="c52 l" d="M538.7 158.6l-8.3 1.6"/><path class="c52 l" d="M530.4 160.2l-8.3 1.5"/><path class="c60" d="M515.4 163l2.6-.5 35.3-24.5-2 5.2-.5 2z"/><path class="c52 l" d="M522.1 161.7l-4.1 .8"/><path class="c56" d="M513.8 163.3l1.6-.3 35.4-17.8-1.6 7.8z"/><path fill="#f9c864" stroke="#f9c864" d="M511.8 163.7l2-.4 35.4-10.3-2.1 13.8z"/><path fill="#c7d05a" stroke="#c7d05a" d="M509.7 164.1l2.1-.4 35.3 3.1-2 15.9z"/><path fill="#83d78c" stroke="#83d78c" d="M507.6 164.5l2.1-.4 35.4 18.6-2.1 16.6z"/><path fill="#56cfb9" stroke="#56cfb9" d="M505.5 164.9l2.1-.4 35.4 34.8-2.1 16.8z"/><path class="c28" d="M503.5 165.3l2-.4 35.4 51.2-2.1 16.7z"/><path class="c22" d="M501.4 165.7l2.1-.4 35.3 67.5-2 16.8z"/><path class="c16" d="M499.3 166.1l2.1-.4 35.4 83.9-2.1 16.6z"/><path class="c52 l" d="M509.7 164.1l-8.3 1.6"/><path class="c10" d="M497.3 166.5l2-.4 35.4 100.1-2.1 15.8z"/><path class="c6" d="M495.2 166.8l2.1-.3 35.3 115.5-2 13.5z"/><path class="c4" d="M493.8 167.1l1.4-.3 35.4 128.7-1.4 6.7z"/><path class="c2" d="M491 167.6l2.8-.5 35.4 135.1-.7 2.6-2.1 4.9z"/><path class="c52 l" d="M501.4 165.7l-8.3 1.5"/><path class="c52 l" d="M493.1 167.2l-2.1 .4"/><path class="c0" d="M453.8 174.7l37.2-7.1 35.4 142.1-2 1.8-2.1 .7-31.1 6-2.1 .2z"/><path class="c52 l" d="M491 167.6l-8.2 1.6"/><path class="c52 l" d="M482.8 169.2l-8.3 1.6"/><path class="c52 l" d="M474.5 170.8l-8.3 1.6"/><path class="c52 l" d="M466.2 172.4l-8.3 1.5"/><path class="c52 l" d="M457.9 173.9l-4.1 .8"/><path class="c2" d="M449.6 175.5l4.2-.8 35.3 143.7-2-.7-2.1-3.4z"/><path class="c4" d="M448.1 175.8l1.5-.3 35.4 138.8-1.5-5.4z"/><path class="c6" d="M447.6 175.9l.5-.1 35.4 133.1-.6-2.9z"/><path class="c10" d="M445.5 176.3l2.1-.4 35.3 130.1-2-14z"/><path class="c18" d="M478.8 274.3l2.1 17.7-35.4-115.7-2.1 .4z"/><path class="c52 l" d="M453.8 174.7l-8.3 1.6"/><path class="c24" d="M476.7 255l2.1 19.3-35.4-97.6-2.1 .4z"/><path class="c32" d="M474.6 235.3l2.1 19.7-35.4-77.9-2 .4z"/><path fill="#83d78c" stroke="#83d78c" d="M472.6 215.6l2 19.7-35.3-57.8-2.1 .4z"/><path fill="#c7d05a" stroke="#c7d05a" d="M470.5 196.3l2.1 19.3-35.4-37.7-2.1 .4z"/><path class="c52 l" d="M445.5 176.3l-8.3 1.6"/><path fill="#f9c864" stroke="#f9c864" d="M468.4 178.6l2.1 17.7-35.4-18-2 .4z"/><path fill="#f8e355" stroke="#f8e355" d="M466.4 164.8l2 13.8-35.3 .1-2.1 .3z"/><path class="c60" d="M465.8 162.2l.6 2.6-35.4 14.2-.5 .1z"/><path class="c62" d="M437.4 158.6l2-1.8 2.1-.7 16.6-3.2 2-.2 2.1 .6 2.1 3.3 1.5 5.6-35.3 16.9-28.5 5.5z"/><path class="c52 l" d="M430.5 179.1l-7.8 1.5"/><path class="c52 l" d="M422.7 180.6l-8.3 1.6"/><path class="c52 l" d="M414.4 182.2l-8.3 1.6"/><path class="c60" d="M399.1 185.1l2.9-.5 35.4-26-2.1 4.9-.8 3.3z"/><path class="c52 l" d="M406.1 183.8l-4.1 .8"/><path class="c58" d="M397.8 185.3l1.3-.2 35.4-18.3-1.3 6.4z"/><path fill="#f9c864" stroke="#f9c864" d="M395.8 185.7l2-.4 35.4-12.1-2 14.2z"/><path fill="#c7d05a" stroke="#c7d05a" d="M393.7 186.1l2.1-.4 35.4 1.7-2.1 16.9z"/><path fill="#83d78c" stroke="#83d78c" d="M391.6 186.5l2.1-.4 35.4 18.2-2.1 17.8z"/><path fill="#56cfb9" stroke="#56cfb9" d="M389.6 186.9l2-.4 35.4 35.6-2.1 18z"/><path class="c28" d="M387.5 187.3l2.1-.4 35.3 53.2-2 18z"/><path class="c20" d="M385.4 187.7l2.1-.4 35.4 70.8-2.1 17.9z"/><path class="c14" d="M383.4 188.1l2-.4 35.4 88.3-2.1 17.6z"/><path class="c52 l" d="M393.7 186.1l-8.3 1.6"/><path class="c8" d="M381.3 188.5l2.1-.4 35.3 105.5-2 15.9z"/><path class="c4" d="M378.9 188.9l2.4-.4 35.4 121-2.4 13.9z"/><path class="c2" d="M377.1 189.3l1.8-.4 35.4 134.5-1.8 6z"/><path class="c52 l" d="M385.4 187.7l-8.3 1.6"/><path class="c0" d="M362.6 192l14.5-2.7 35.4 140.1-2.1 3.2-2 1.2-8.3 1.6-2.1-.2z"/><path class="c52 l" d="M377.1 189.3l-8.2 1.5"/><path class="c2" d="M360.6 192.4l2-.4 35.4 143.2-2.1-1.9z"/><path class="c4" d="M358.5 192.8l2.1-.4 35.3 140.9-2-5.4z"/><path class="c52 l" d="M368.9 190.8l-8.3 1.6"/><path class="c6" d="M357.1 193.1l1.4-.3 35.4 135.1-1.4-6z"/><path class="c8" d="M355.7 193.3l1.4-.2 35.4 128.8-1.4-7.6z"/><path class="c12" d="M354.4 193.6l1.3-.3 35.4 121-1.4-8.7z"/><path class="c16" d="M388.4 296.2l1.3 9.4-35.3-112-1.4 .3z"/><path class="c20" d="M387 286.6l1.4 9.6-35.4-102.3-1.4 .2z"/><path class="c52 l" d="M360.6 192.4l-7.6 1.5"/><path class="c22" d="M385.6 277l1.4 9.6-35.4-92.5-1.4 .3z"/><path class="c26" d="M384.2 267.3l1.4 9.7-35.4-82.6-1.4 .3z"/><path class="c30" d="M382.8 257.6l1.4 9.7-35.4-72.6-1.3 .2z"/><path class="c34" d="M381.5 247.9l1.3 9.7-35.3-62.7-1.4 .3z"/><path class="c38" d="M380.1 238.2l1.4 9.7-35.4-52.7-1.4 .2z"/><path class="c40" d="M378.7 228.5l1.4 9.7-35.4-42.8-1.4 .3z"/><path class="c52 l" d="M353 193.9l-8.3 1.5"/><path fill="#b1d468" stroke="#b1d468" d="M377.3 218.8l1.4 9.7-35.4-32.8-1.4 .3z"/><path class="c52 l" d="M344.7 195.4l-1.4 .3"/><path fill="#dacc52" stroke="#dacc52" d="M375.9 209.2l1.4 9.6-35.4-22.8-1.3 .2z"/><path fill="#f9c864" stroke="#f9c864" d="M374.5 199.6l1.4 9.6-35.3-13-1.4 .3z"/><path fill="#fdd959" stroke="#fdd959" d="M373.2 190.5l1.3 9.1-35.3-3.1-1.4 .3z"/><path fill="#f8e355" stroke="#f8e355" d="M371.8 182.4l1.4 8.1-35.4 6.3-1.4 .2z"/><path class="c60" d="M370.4 176.3l1.4 6.1-35.4 14.6-1.4 .3z"/><path class="c62" d="M367.6 173.4l1-.7 .4 .3 1.4 3.3-35.4 21-2.7 .5z"/><path class="c60" d="M330.9 198.1l1.4-.3 35.3-24.4-1.3 3.9z"/><path class="c52 l" d="M335 197.3l-2.7 .5"/><path class="c58" d="M329.5 198.3l1.4-.2 35.4-20.8-1.4 6.7z"/><path fill="#fdd959" stroke="#fdd959" d="M328.1 198.6l1.4-.3 35.4-14.3-1.4 8.3z"/><path fill="#f9c864" stroke="#f9c864" d="M326.7 198.9l1.4-.3 35.4-6.3-1.4 9z"/><path fill="#dacc52" stroke="#dacc52" d="M325.4 199.1l1.3-.2 35.4 2.4-1.4 9.3z"/><path fill="#c7d05a" stroke="#c7d05a" d="M324 199.4l1.4-.3 35.3 11.5-1.3 9.3z"/><path fill="#9ad67a" stroke="#9ad67a" d="M322.6 199.6l1.4-.2 35.4 20.5-1.4 9.3z"/><path fill="#6ed69d" stroke="#6ed69d" d="M321.2 199.9l1.4-.3 35.4 29.6-1.4 9.3z"/><path class="c36" d="M319.8 200.2l1.4-.3 35.4 38.6-1.4 9.3z"/><path class="c32" d="M318.5 200.4l1.3-.2 35.4 47.6-1.4 9.3z"/><path class="c30" d="M317.1 200.7l1.4-.3 35.3 56.7-1.3 9.3z"/><path class="c26" d="M315.7 200.9l1.4-.2 35.4 65.7-1.4 9.3z"/><path class="c22" d="M314.3 201.2l1.4-.3 35.4 74.8-1.4 9.3z"/><path class="c52 l" d="M324 199.4l-8.3 1.5"/><path class="c20" d="M312.9 201.5l1.4-.3 35.4 83.8-1.4 9.3z"/><path class="c16" d="M311.6 201.7l1.3-.2 35.4 92.8-1.4 9.3z"/><path class="c12" d="M310.2 202l1.4-.3 35.3 101.9-1.3 9.4z"/><path class="c10" d="M308.8 202.3l1.4-.3 35.4 111-1.4 9.3z"/><path class="c6" d="M307.4 202.5l1.4-.2 35.4 120-1.4 9.1z"/><path class="c4" d="M306 202.8l1.4-.3 35.4 128.9-1.4 8.6z"/><path class="c52 l" d="M315.7 200.9l-8.3 1.6"/><path class="c52 l" d="M307.4 202.5l-1.4 .3"/><path class="c0" d="M301.9 203.6l4.1-.8 35.4 137.2-1.4 6.9-1.3 3.4-.4 0-1-1.8z"/><path class="c2" d="M300.5 203.8l1.4-.2 35.4 144.9-1.4-6.5z"/><path class="c6" d="M299.1 204.1l1.4-.3 35.4 138.2-1.4-9.3z"/><path class="c10" d="M333.1 322.4l1.4 10.3-35.4-128.6-1.3 .3z"/><path class="c14" d="M331.7 311.9l1.4 10.5-35.3-118-1.4 .2z"/><path class="c52 l" d="M306 202.8l-8.2 1.6"/><path class="c18" d="M330.4 301.5l1.3 10.4-35.3-107.3-1.4 .3z"/><path class="c22" d="M329 291l1.4 10.5-35.4-96.6-1.4 .2z"/><path class="c26" d="M327.6 280.6l1.4 10.4-35.4-85.9-1.4 .3z"/><path class="c30" d="M326.2 270.1l1.4 10.5-35.4-75.2-1.4 .3z"/><path class="c34" d="M324.8 259.7l1.4 10.4-35.4-64.4-1.3 .2z"/><path class="c38" d="M323.5 249.2l1.3 10.5-35.3-53.8-1.4 .3z"/><path class="c52 l" d="M297.8 204.4l-8.3 1.5"/><path class="c42" d="M322.1 238.8l1.4 10.4-35.4-43-1.4 .3z"/><path fill="#c7d05a" stroke="#c7d05a" d="M320.7 228.3l1.4 10.5-35.4-32.3-1.4 .2z"/><path class="c52 l" d="M289.5 205.9l-2.8 .6"/><path fill="#dacc52" stroke="#dacc52" d="M319.3 217.9l1.4 10.4-35.4-21.6-1.4 .3z"/><path fill="#f9c864" stroke="#f9c864" d="M317.9 207.5l1.4 10.4-35.4-10.9-1.3 .2z"/><path fill="#fdd959" stroke="#fdd959" d="M316.6 198.2l1.3 9.3-35.3-.3-1.4 .3z"/><path class="c58" d="M314.8 192.3l.4 .3 1.4 5.6-35.4 9.3-1.8 .3z"/><path class="c58" d="M278.4 208l1-.2 35.4-15.5-1 2.2z"/><path fill="#fecf60" stroke="#fecf60" d="M277 208.3l1.4-.3 35.4-13.5-1.4 8.5z"/><path fill="#ebc957" stroke="#ebc957" d="M275.7 208.6l1.3-.3 35.4-5.3-1.4 10.9z"/><path fill="#c7d05a" stroke="#c7d05a" d="M274.3 208.8l1.4-.2 35.3 5.3-1.3 11.3z"/><path fill="#9ad67a" stroke="#9ad67a" d="M272.9 209.1l1.4-.3 35.4 16.4-1.4 11.2z"/><path fill="#83d78c" stroke="#83d78c" d="M271.5 209.3l1.4-.2 35.4 27.3-1.4 11.2z"/><path fill="#5fd3ac" stroke="#5fd3ac" d="M270.1 209.6l1.4-.3 35.4 38.3-1.4 11.3z"/><path fill="#47ccc4" stroke="#47ccc4" d="M268.8 209.9l1.3-.3 35.4 49.3-1.4 11.2z"/><path class="c28" d="M267.4 210.1l1.4-.2 35.3 60.2-1.3 11.3z"/><path class="c24" d="M266 210.4l1.4-.3 35.4 71.3-1.4 11.2z"/><path class="c20" d="M264.6 210.7l1.4-.3 35.4 82.2-1.4 11.2z"/><path class="c52 l" d="M274.3 208.8l-8.3 1.6"/><path class="c16" d="M263.2 210.9l1.4-.2 35.4 93.1-1.4 10.8z"/><path class="c12" d="M261.7 211.2l1.5-.3 35.4 103.7-1.5 7.1z"/><path class="c14" d="M260.5 211.5l1.2-.3 35.4 110.5-1.2-2.9z"/><path class="c16" d="M259.1 211.8l1.4-.3 35.4 107.3-1.4-7.9z"/><path class="c20" d="M293.1 302.3l1.4 8.6-35.4-99.1-1.4 .6z"/><path class="c24" d="M291.7 293.8l1.4 8.5-35.4-89.9-1.4 .7z"/><path class="c52 l" d="M266 210.4l-5.5 1.1-2.8 .9"/><path class="c26" d="M290.3 285.3l1.4 8.5-35.4-80.7-1.3 .7z"/><path class="c30" d="M288.9 276.8l1.4 8.5-35.3-71.5-1.4 .7z"/><path class="c32" d="M287.3 268.1l1.6 8.7-35.3-62.3-1.7 .9z"/><path class="c34" d="M249.4 216.7l2.5-1.3 35.4 52.7-1.1-2.9-1.4-2z"/><path class="c36" d="M246.7 218.1l2.7-1.4 35.4 46.5-2.8-3.9z"/><path class="c52 l" d="M257.7 212.4l-8.3 4.3"/><path class="c52 l" d="M249.4 216.7l-2.7 1.4"/><path class="c38" d="M241.1 225.7l4.2-6.6 1.4-1 35.3 41.2-2.7-3.7-.4-.1-1 .6-1.4 1.7z"/><path class="c52 l" d="M246.7 218.1l-1.4 1-1.4 2"/><path class="c36" d="M235.6 234.9l5.5-9.2 35.4 32.1-5.5 6.7z"/><path class="c34" d="M232.9 239.5l2.7-4.6 35.4 29.6-1.9 2.1-.9-.5z"/><path class="c44 l" d="M235.6 234.9l-2.7 4.6"/><path class="c36" d="M227.3 246.5l1.4-.2 4.2-6.8 35.3 26.6-5.5-4.4z"/><path class="c38" d="M224.6 246.7l2.7-.2 35.4 15.2-2.7-2.2z"/><path class="c38" d="M257.9 257.8l2.1 1.7-35.4-12.8-2.1 .1z"/><path class="c38" d="M220.4 246.9l2.1-.1 35.4 11-2.1 .4z"/></g>
<g class="q"><path class="c48" d="M657.1 172.1l48.3-9.2-35.4 121.3-35.9 6.8-2.1 .3-2-.6-2.1-3.1-1.5-4.8-.6-2.7-2-12.6-2.1-15.8z"/><path class="c4 l" d="M670 284.2l-6.9 1.3"/><path class="c4 l" d="M663.1 285.5l-8.3 1.6"/><path class="c4 l" d="M654.8 287.1l-8.3 1.6"/><path class="c4 l" d="M646.5 288.7l-8.2 1.5"/><path class="c4 l" d="M638.3 290.2l-6.3 1.1-2-.6"/><path class="c4 l" d="M630 290.7l-2.1-3.1-1.5-4.8-.6-2.7-2-12.6"/><path class="c12 l" d="M623.8 267.5l-2.1-15.8"/><path fill="#dacc52" stroke="#dacc52" d="M644.6 174.5l12.5-2.4-35.4 79.6-10.4-87.1-2-15.6z"/><path class="c20 l" d="M621.7 251.7l-4.2-34.8"/><path class="c28 l" d="M617.5 216.9l-2-17.6"/><path class="c36 l" d="M615.5 199.3l-2.1-17.6"/><path class="c48" d="M640.5 175.3l4.1-.8-35.3-25.5-2.1-12-2.1-6.9z"/><path class="c60 l" d="M607.2 137l-2.1-6.9"/><path class="c48" d="M549.2 153l2.1-9.8 2-5.2 2.1-2.1 2.1-.7 2.1-.4 41.4-7.8 2 .4 2.1 2.7 35.4 45.2-55.9 10.6z"/><path class="c60 l" d="M605.1 130.1l-2.1-2.7-2-.4-4.2 .7"/><path class="c60 l" d="M596.8 127.7l-8.2 1.5"/><path class="c60 l" d="M588.6 129.2l-8.3 1.6"/><path class="c60 l" d="M580.3 130.8l-8.3 1.6"/><path class="c60 l" d="M572 132.4l-8.3 1.6"/><path class="c60 l" d="M563.7 134l-6.2 1.2-2.1 .7"/><path class="c60 l" d="M555.4 135.9l-2.1 2.1-2 5.2-2.1 9.8"/><path fill="#dacc52" stroke="#dacc52" d="M540.9 216.1l6.2-49.3 2.1-13.8 35.4 32.9-8.3 1.6z"/><path class="c60 l" d="M549.2 153l-2.1 13.8"/><path class="c48" d="M530.6 295.5l2-13.5 2.1-15.8 6.2-50.1 35.4-28.6-10.4 1.9z"/><path class="c36 l" d="M540.9 216.1l-2.1 16.7"/><path class="c28 l" d="M538.8 232.8l-2 16.8"/><path class="c20 l" d="M536.8 249.6l-4.2 32.4"/><path class="c12 l" d="M532.6 282l-2 13.5"/><path class="c48" d="M514.2 199.3l51.7-9.9-35.3 106.1-2.1 9.3-2.1 4.9-2 1.8-2.1 .7-2.1 .5-29 5.5-2.1 .2-2-.7-2.1-3.4-1.5-5.4-.6-2.9-2-14-2.1-17.7z"/><path class="c4 l" d="M530.6 295.5l-2.1 9.3-2.1 4.9-2 1.8-2.1 .7"/><path class="c4 l" d="M522.3 312.2l-8.3 1.6"/><path class="c4 l" d="M514 313.8l-8.3 1.6"/><path class="c4 l" d="M505.7 315.4l-8.3 1.6"/><path class="c4 l" d="M497.4 317l-6.2 1.2-2.1 .2"/><path class="c4 l" d="M489.1 318.4l-2-.7-2.1-3.4-1.5-5.4-.6-2.9-2-14"/><path class="c12 l" d="M480.9 292l-2.1-17.7"/><path fill="#dacc52" stroke="#dacc52" d="M510 200l4.2-.7-35.4 75-4.2-39z"/><path class="c20 l" d="M478.8 274.3l-2.1-19.3"/><path class="c28 l" d="M476.7 255l-2.1-19.7"/><path fill="#e4d97d" stroke="#e4d97d" d="M505.9 200.8l4.1-.8-35.4 35.3-4.1-39z"/><path class="c36 l" d="M474.6 235.3l-2-19.7"/><path fill="#dacc52" stroke="#dacc52" d="M503.8 201.2l2.1-.4-35.4-4.5-2.1-17.7z"/><path class="c48" d="M499.7 202l4.1-.8-35.4-22.6-2-13.8-.6-2.6-1.5-5.6z"/><path class="c60 l" d="M466.4 164.8l-.6-2.6-1.5-5.6"/><path class="c48" d="M433.2 173.2l1.3-6.4 .8-3.3 2.1-4.9 2-1.8 2.1-.7 2.1-.4 14.5-2.8 2-.2 2.1 .6 2.1 3.3 35.4 45.4-31.1 5.9z"/><path class="c60 l" d="M464.3 156.6l-2.1-3.3-2.1-.6-4.1 .6"/><path class="c60 l" d="M456 153.3l-8.3 1.6"/><path class="c60 l" d="M447.7 154.9l-6.2 1.2-2.1 .7"/><path class="c60 l" d="M439.4 156.8l-2 1.8-2.1 4.9-.8 3.3-1.3 6.4"/><path fill="#dacc52" stroke="#dacc52" d="M424.9 240.1l6.3-52.7 2-14.2 35.4 34.7-8.3 1.6z"/><path class="c60 l" d="M433.2 173.2l-2 14.2"/><path class="c48" d="M414.6 321.9l2.1-12.4 2-15.9 6.2-53.5 35.4-30.6-10.3 2z"/><path class="c36 l" d="M424.9 240.1l-2 18"/><path class="c28 l" d="M422.9 258.1l-2.1 17.9"/><path class="c20 l" d="M420.8 276l-2.1 17.6"/><path class="c12 l" d="M418.7 293.6l-2 15.9-2.1 12.4"/><path class="c48" d="M419.6 217.2l30.4-5.7-35.4 110.4-2.1 7.5-2.1 3.2-2 1.2-8.3 1.6-2.1-.2-2.1-1.9-2-5.4-1.4-6-1.4-7.6-6.9-47z"/><path class="c4 l" d="M414.6 321.9l-2.1 7.5-2.1 3.2-2 1.2-2.1 .5"/><path class="c4 l" d="M406.3 334.3l-6.2 1.1-2.1-.2"/><path class="c4 l" d="M398 335.2l-2.1-1.9-2-5.4-1.4-6-1.4-7.6"/><path class="c12 l" d="M391.1 314.3l-2.7-18.1"/><path class="c20 l" d="M388.4 296.2l-4.2-28.9"/><path fill="#dacc52" stroke="#dacc52" d="M409.9 219.1l9.7-1.9-35.4 50.1-9.7-67.7z"/><path class="c28 l" d="M384.2 267.3l-2.7-19.4"/><path class="c36 l" d="M381.5 247.9l-2.8-19.4"/><path class="c48" d="M405.8 219.9l4.1-.8-35.4-19.5-2.7-17.2-1.4-6.1z"/><path class="c60 l" d="M373.2 190.5l-1.4-8.1-1.4-6.1"/><path class="c48" d="M364.9 184l1.4-6.7 1.3-3.9 1-.7 .4 .3 1.4 3.3 35.4 43.6-5.5 1z"/><path class="c60 l" d="M370.4 176.3l-1.4-3.3-.4-.3-1 .7-1.3 3.9-1.4 6.7"/><path fill="#dacc52" stroke="#dacc52" d="M356.6 238.5l5.5-37.2 2.8-17.3 35.4 36.9-8.3 1.6z"/><path class="c60 l" d="M364.9 184l-2.8 17.3"/><path class="c48" d="M341.4 340l15.2-101.5 35.4-16-15.2 2.9z"/><path class="c36 l" d="M356.6 238.5l-4.1 27.9"/><path class="c28 l" d="M352.5 266.4l-2.8 18.6"/><path class="c20 l" d="M349.7 285l-4.1 28"/><path class="c12 l" d="M345.6 313l-2.8 18.4"/><path class="c4 l" d="M342.8 331.4l-1.4 8.6"/><path class="c48" d="M364.4 227.7l12.4-2.3-35.4 114.6-1.4 6.9-1.3 3.4-.4 0-1-1.8-1.4-6.5-1.4-9.3-5.5-41.7z"/><path class="c4 l" d="M341.4 340l-1.4 6.9-1.3 3.4-.4 0-1-1.8-1.4-6.5-2.8-19.6"/><path class="c12 l" d="M333.1 322.4l-2.7-20.9"/><path class="c20 l" d="M330.4 301.5l-1.4-10.5"/><path fill="#dacc52" stroke="#dacc52" d="M353.3 229.8l11.1-2.1-35.4 63.3-11.1-83.5z"/><path class="c20 l" d="M329 291l-1.4-10.4"/><path class="c28 l" d="M327.6 280.6l-2.8-20.9"/><path class="c36 l" d="M324.8 259.7l-2.7-20.9"/><path class="c48" d="M350.6 230.3l2.7-.5-35.4-22.3-1.3-9.3-1.4-5.6z"/><path class="c48" d="M313.8 194.5l1-2.2 .4 .3 35.4 37.7-1.4 .3z"/><path class="c60 l" d="M316.6 198.2l-1.4-5.6-.4-.3-1 2.2"/><path fill="#dacc52" stroke="#dacc52" d="M305.5 258.9l6.9-55.9 1.4-8.5 35.4 36.1-8.3 1.6z"/><path class="c60 l" d="M313.8 194.5l-1.4 8.5"/><path class="c48" d="M297.1 321.7l1.5-7.1 6.9-55.7 35.4-26.7-8.4 1.6z"/><path class="c36 l" d="M305.5 258.9l-2.7 22.5"/><path class="c28 l" d="M302.8 281.4l-2.8 22.4"/><path class="c20 l" d="M300 303.8l-1.4 10.8-1.5 7.1"/><path class="c48" d="M316 241.6l1.4-.9 11.1-5.7 1.3-.6 2.7-.6-35.4 87.9-1.2-2.9-7-42-1.6-8.7-1.1-2.9-5.5-7.8z"/><path class="c12 l" d="M297.1 321.7l-1.2-2.9-1.4-7.9"/><path class="c20 l" d="M294.5 310.9l-2.8-17.1"/><path class="c28 l" d="M291.7 293.8l-4.1-24.7"/><path class="c46" d="M314.7 243.7l1.3-2.1-35.3 15.8-1.4-1.8z"/><path class="c46" d="M277.9 256.1l1-.6 .4 .1 35.4-11.9-1.4 2.3z"/><path class="c36 l" d="M287.6 269.1l-1.4-3.9-6.9-9.6"/><path class="c36 l" d="M279.3 255.6l-.4-.1-1 .6"/><path class="c44" d="M273.8 261.1l4.1-5 35.4-10.1-4.2 6.9z"/><path class="c42" d="M269.6 266.2l4.2-5.1 35.3-8.2-4.1 6.9z"/><path class="c40" d="M265.5 263.9l2.7 2.2 .9 .5 .5-.4 35.4-6.4-4.1 6.9z"/><path class="c38" d="M264.1 262.8l1.4 1.1 35.4 2.8-1.4 2.2z"/><path class="c38" d="M293.3 269.4l6.2-.5-35.4-6.1-6.2-5z"/><path class="c38" d="M255.8 258.2l2.1-.4 35.4 11.6-2.1 .1z"/></g>
<g class="q"><path class="c0" d="M681.9 167.4l23.5-4.5 35.4 143.9-21.4 4-2.1 .2z"/><path class="c52 l" d="M705.4 162.9l-6.9 1.3"/><path class="c52 l" d="M698.5 164.2l-8.3 1.6"/><path class="c52 l" d="M690.2 165.8l-8.3 1.6"/><path class="c2" d="M677.8 168.2l4.1-.8 35.4 143.6-2.1-.8-2-3.5z"/><path class="c4" d="M676.6 168.4l1.2-.2 35.4 138.5-1.3-4.1z"/><path class="c6" d="M675.7 168.6l.9-.2 35.3 134.2-.8-3.8z"/><path class="c10" d="M673.6 169l2.1-.4 35.4 130.2-2.1-12.6z"/><path class="c16" d="M706.9 270.7l2.1 15.5-35.4-117.2-2 .4z"/><path class="c52 l" d="M681.9 167.4l-8.3 1.6"/><path class="c22" d="M704.9 253.9l2 16.8-35.3-101.3-2.1 .3z"/><path class="c28" d="M702.8 236.9l2.1 17-35.4-84.2-2.1 .4z"/><path class="c36" d="M700.7 219.8l2.1 17.1-35.4-66.8-2.1 .4z"/><path fill="#9ad67a" stroke="#9ad67a" d="M698.7 202.7l2 17.1-35.4-49.3-2 .4z"/><path class="c52 l" d="M673.6 169l-8.3 1.5"/><path fill="#dacc52" stroke="#dacc52" d="M696.6 186l2.1 16.7-35.4-31.8-2.1 .4z"/><path class="c52 l" d="M665.3 170.5l-2 .4"/><path fill="#fecf60" stroke="#fecf60" d="M694.5 170.6l2.1 15.4-35.4-14.7-2.1 .4z"/><path fill="#f8e355" stroke="#f8e355" d="M692.4 158.4l2.1 12.2-35.4 1.1-2 .4z"/><path class="c60" d="M690.4 150.8l1.3 4.5 .7 3.1-35.3 13.7-2.1 .4z"/><path class="c62" d="M636.5 158.5l2.1-2.2 2.1-.9 43.5-8.3 2-.2 2.1 .7 2.1 3.2-35.4 21.7-53.9 10.2z"/><path class="c52 l" d="M655 172.5l-8.3 1.6"/><path class="c52 l" d="M646.7 174.1l-8.3 1.6"/><path class="c52 l" d="M638.4 175.7l-8.3 1.5"/><path class="c52 l" d="M630.1 177.2l-8.2 1.6"/><path class="c52 l" d="M621.9 178.8l-8.3 1.6"/><path class="c52 l" d="M613.6 180.4l-8.3 1.5"/><path class="c60" d="M598.7 183.2l2.4-.5 35.4-24.2-2 5.4-.4 1.5z"/><path class="c52 l" d="M605.3 181.9l-4.2 .8"/><path class="c56" d="M597 183.5l1.7-.3 35.4-17.8-1.7 8.2z"/><path fill="#f9c864" stroke="#f9c864" d="M594.9 183.9l2.1-.4 35.4-9.9-2.1 13.5z"/><path fill="#c7d05a" stroke="#c7d05a" d="M592.9 184.3l2-.4 35.4 3.2-2.1 15.5z"/><path fill="#83d78c" stroke="#83d78c" d="M590.8 184.7l2.1-.4 35.3 18.3-2 16.1z"/><path fill="#56cfb9" stroke="#56cfb9" d="M588.7 185.1l2.1-.4 35.4 34-2.1 16.3z"/><path class="c28" d="M586.7 185.5l2-.4 35.4 49.9-2.1 16.3z"/><path class="c24" d="M584.6 185.9l2.1-.4 35.3 65.8-2 16.3z"/><path class="c18" d="M582.5 186.3l2.1-.4 35.4 81.7-2.1 16.2z"/><path class="c52 l" d="M592.9 184.3l-8.3 1.6"/><path class="c12" d="M580.4 186.7l2.1-.4 35.4 97.5-2.1 15.6z"/><path class="c8" d="M578.4 187.1l2-.4 35.4 112.7-2.1 13.7z"/><path class="c4" d="M576.3 187.5l2.1-.4 35.3 126-2 10.2z"/><path class="c2" d="M574.2 187.9l2.1-.4 35.4 135.8-2.1 5.7z"/><path class="c52 l" d="M584.6 185.9l-8.3 1.6"/><path class="c52 l" d="M576.3 187.5l-2.1 .4"/><path class="c0" d="M534.9 195.3l39.3-7.4 35.4 141.1-2.1 2.5-2 .9-31.1 6-4.1 .5z"/><path class="c52 l" d="M574.2 187.9l-8.3 1.5"/><path class="c52 l" d="M565.9 189.4l-8.2 1.6"/><path class="c52 l" d="M557.7 191l-8.3 1.6"/><path class="c52 l" d="M549.4 192.6l-8.3 1.5"/><path class="c52 l" d="M541.1 194.1l-6.2 1.2"/><path class="c2" d="M530.7 196.1l4.2-.8 35.4 143.6-2.1-.9-2.1-3.9z"/><path class="c4" d="M529.5 196.4l1.2-.3 35.4 138-1.2-4.7z"/><path class="c6" d="M528.7 196.5l.8-.1 35.4 133-.9-4.1z"/><path class="c12" d="M526.6 196.9l2.1-.4 35.3 128.8-2-14z"/><path class="c18" d="M559.9 293.9l2.1 17.4-35.4-114.4-2.1 .4z"/><path class="c52 l" d="M534.9 195.3l-8.3 1.6"/><path class="c24" d="M557.8 275.2l2.1 18.7-35.4-96.6-2 .4z"/><path class="c32" d="M555.8 256l2 19.2-35.3-77.5-2.1 .4z"/><path fill="#6ed69d" stroke="#6ed69d" d="M553.7 236.9l2.1 19.1-35.4-57.9-2.1 .4z"/><path fill="#c7d05a" stroke="#c7d05a" d="M551.6 218.2l2.1 18.7-35.4-38.4-2.1 .4z"/><path class="c52 l" d="M526.6 196.9l-8.3 1.6"/><path fill="#f9c864" stroke="#f9c864" d="M549.5 200.8l2.1 17.4-35.4-19.3-2 .4z"/><path fill="#f8e355" stroke="#f8e355" d="M547.5 186.9l2 13.9-35.3-1.5-2.1 .4z"/><path class="c60" d="M545.4 178.1l1.3 4.8 .8 4-35.4 12.8-2.1 .3z"/><path class="c62" d="M518.5 178.2l2.1-1 2-.5 16.6-3.2 2.1-.1 2 .9 2.1 3.8-35.4 21.9-26.9 5.2z"/><path class="c52 l" d="M510 200l-8.3 1.6"/><path class="c52 l" d="M501.7 201.6l-8.2 1.6"/><path class="c52 l" d="M493.5 203.2l-8.3 1.6"/><path class="c62" d="M481 205.6l2.1-.4 35.4-27-2.1 3z"/><path class="c60" d="M479 206l2-.4 35.4-24.4-2.1 6.7z"/><path class="c52 l" d="M485.2 204.8l-4.2 .8"/><path class="c56" d="M476.9 206.3l2.1-.3 35.3-18.1-2 11.4z"/><path fill="#ebc957" stroke="#ebc957" d="M474.8 206.7l2.1-.4 35.4-7-2.1 15.1z"/><path fill="#b1d468" stroke="#b1d468" d="M472.7 207.1l2.1-.4 35.4 7.7-2.1 16.8z"/><path fill="#6ed69d" stroke="#6ed69d" d="M470.7 207.5l2-.4 35.4 24.1-2 17.5z"/><path fill="#47ccc4" stroke="#47ccc4" d="M468.6 207.9l2.1-.4 35.4 41.2-2.1 17.5z"/><path class="c26" d="M466.5 208.3l2.1-.4 35.4 58.3-2.1 17.5z"/><path class="c20" d="M464.5 208.7l2-.4 35.4 75.4-2.1 17.4z"/><path class="c14" d="M462.4 209.1l2.1-.4 35.3 92.4-2 16.8z"/><path class="c52 l" d="M472.7 207.1l-8.2 1.6"/><path class="c8" d="M460.3 209.5l2.1-.4 35.4 108.8-2.1 15.1z"/><path class="c4" d="M458.2 209.9l2.1-.4 35.4 123.5-2.1 11.3z"/><path class="c2" d="M456.2 210.3l2-.4 35.4 134.4-2 6.6z"/><path class="c52 l" d="M464.5 208.7l-8.3 1.6"/><path class="c0" d="M441.7 213l14.5-2.7 35.4 140.6-2.1 2.9-2.1 1-8.3 1.6-2-.1z"/><path class="c52 l" d="M456.2 210.3l-8.3 1.6"/><path class="c2" d="M439.6 213.4l2.1-.4 35.4 143.3-2.1-1.7z"/><path class="c4" d="M437.5 213.8l2.1-.4 35.4 141.2-2.1-4.9z"/><path class="c52 l" d="M447.9 211.9l-8.3 1.5"/><path class="c6" d="M435.5 214.2l2-.4 35.4 135.9-2.1-8.5z"/><path class="c12" d="M433.4 214.6l2.1-.4 35.3 127-2-12z"/><path class="c16" d="M466.7 315.7l2.1 13.5-35.4-114.6-2.1 .4z"/><path class="c22" d="M464.6 301.7l2.1 14-35.4-100.7-2 .4z"/><path class="c52 l" d="M439.6 213.4l-8.3 1.6"/><path class="c26" d="M463.3 292.3l1.3 9.4-35.3-86.3-1.4 .3z"/><path class="c28" d="M461.9 282.8l1.4 9.5-35.4-76.6-1.4 .2z"/><path class="c32" d="M460.5 273.4l1.4 9.4-35.4-66.9-1.4 .3z"/><path class="c36" d="M459.1 264l1.4 9.4-35.4-57.2-1.4 .2z"/><path class="c40" d="M457.7 254.6l1.4 9.4-35.4-47.6-1.3 .3z"/><path class="c52 l" d="M431.3 215l-7.6 1.4"/><path class="c42" d="M456.3 245.2l1.4 9.4-35.3-37.9-1.4 .3z"/><path fill="#c7d05a" stroke="#c7d05a" d="M455 235.8l1.3 9.4-35.3-28.2-1.4 .2z"/><path class="c52 l" d="M423.7 216.4l-2.7 .6"/><path fill="#ebc957" stroke="#ebc957" d="M453.6 226.5l1.4 9.3-35.4-18.6-1.4 .3z"/><path fill="#fecf60" stroke="#fecf60" d="M452.2 217.3l1.4 9.2-35.4-9-1.4 .3z"/><path fill="#fdd959" stroke="#fdd959" d="M450.8 208.7l1.4 8.6-35.4 .5-1.4 .2z"/><path fill="#f7ed50" stroke="#f7ed50" d="M449.4 201.4l1.4 7.3-35.4 9.3-1.3 .3z"/><path class="c62" d="M445.3 195.2l1.3-1.3 1.5 2.3 1.3 5.2-35.3 16.9-4.2 .8z"/><path class="c60" d="M408.5 219.3l1.4-.2 35.4-23.9-1.4 4.5z"/><path class="c52 l" d="M414.1 218.3l-4.2 .8"/><path class="c58" d="M407.2 219.6l1.3-.3 35.4-19.6-1.4 6.9z"/><path fill="#fecf60" stroke="#fecf60" d="M405.8 219.9l1.4-.3 35.3-13-1.3 8.2z"/><path fill="#f9c864" stroke="#f9c864" d="M404.4 220.1l1.4-.2 35.4-5.1-1.4 8.9z"/><path fill="#dacc52" stroke="#dacc52" d="M403 220.4l1.4-.3 35.4 3.6-1.4 9z"/><path fill="#c7d05a" stroke="#c7d05a" d="M401.6 220.6l1.4-.2 35.4 12.3-1.4 9.1z"/><path fill="#9ad67a" stroke="#9ad67a" d="M400.3 220.9l1.3-.3 35.4 21.2-1.4 9z"/><path fill="#6ed69d" stroke="#6ed69d" d="M398.9 221.2l1.4-.3 35.3 29.9-1.3 9.1z"/><path class="c36" d="M397.5 221.4l1.4-.2 35.4 38.7-1.4 9z"/><path class="c32" d="M396.1 221.7l1.4-.3 35.4 47.5-1.4 9.1z"/><path class="c30" d="M394.7 222l1.4-.3 35.4 56.3-1.4 9z"/><path class="c26" d="M393.4 222.2l1.3-.2 35.4 65-1.4 9.1z"/><path class="c22" d="M392 222.5l1.4-.3 35.3 73.9-1.3 9z"/><path class="c52 l" d="M401.6 220.6l-8.2 1.6"/><path class="c20" d="M390.6 222.7l1.4-.2 35.4 82.6-1.4 9.1z"/><path class="c16" d="M389.2 223l1.4-.3 35.4 91.5-1.4 9z"/><path class="c14" d="M387.8 223.3l1.4-.3 35.4 100.2-1.4 9.1z"/><path class="c10" d="M386.5 223.5l1.3-.2 35.4 109-1.4 9z"/><path class="c6" d="M385.1 223.8l1.4-.3 35.3 117.8-1.3 9z"/><path class="c4" d="M383.7 224.1l1.4-.3 35.4 126.5-1.4 8.6z"/><path class="c52 l" d="M393.4 222.2l-8.3 1.6"/><path class="c2" d="M382.3 224.3l1.4-.2 35.4 134.8-1.4 7.4z"/><path class="c0" d="M379.6 224.8l2.7-.5 35.4 142-1.4 4.7-.8 .7-.6-.5z"/><path class="c2" d="M378.2 225.1l1.4-.3 35.3 146.4-1.4-4.7z"/><path class="c4" d="M376.8 225.4l1.4-.3 35.3 141.4-1.3-8.2z"/><path class="c8" d="M375.4 225.6l1.4-.2 35.4 132.9-1.4-9.7z"/><path class="c52 l" d="M385.1 223.8l-8.3 1.6"/><path class="c12" d="M409.4 338.5l1.4 10.1-35.4-123-1.4 .3z"/><path class="c16" d="M408 328.4l1.4 10.1-35.4-112.6-1.4 .3z"/><path class="c20" d="M406.6 318.2l1.4 10.2-35.4-102.2-1.3 .2z"/><path class="c24" d="M405.3 308.1l1.3 10.1-35.3-91.8-1.4 .3z"/><path class="c28" d="M403.9 297.9l1.4 10.2-35.4-81.4-1.4 .2z"/><path class="c30" d="M402.5 287.8l1.4 10.1-35.4-71-1.4 .3z"/><path class="c52 l" d="M376.8 225.4l-8.3 1.5"/><path class="c34" d="M401.1 277.6l1.4 10.2-35.4-60.6-1.4 .3z"/><path class="c38" d="M399.7 267.5l1.4 10.1-35.4-50.1-1.3 .2z"/><path fill="#9ad67a" stroke="#9ad67a" d="M398.4 257.3l1.3 10.2-35.3-39.8-1.4 .3z"/><path fill="#c7d05a" stroke="#c7d05a" d="M397 247.2l1.4 10.1-35.4-29.3-1.4 .2z"/><path class="c52 l" d="M368.5 226.9l-5.5 1.1"/><path fill="#ebc957" stroke="#ebc957" d="M395.6 237l1.4 10.2-35.4-19-1.4 .3z"/><path fill="#fecf60" stroke="#fecf60" d="M394.2 227.1l1.4 9.9-35.4-8.5-1.4 .3z"/><path fill="#fdd959" stroke="#fdd959" d="M392.8 218.4l1.4 8.7-35.4 1.7-1.3 .2z"/><path class="c58" d="M391.2 213.8l1.6 4.6-35.3 10.6-1.6 .3z"/><path class="c58" d="M354.7 229.6l1.2-.3 35.3-15.5-1.1 2.9z"/><path fill="#fecf60" stroke="#fecf60" d="M353.3 229.8l1.4-.2 35.4-12.9-1.4 8.7z"/><path fill="#ebc957" stroke="#ebc957" d="M351.9 230.1l1.4-.3 35.4-4.4-1.4 10.6z"/><path fill="#c7d05a" stroke="#c7d05a" d="M350.6 230.3l1.3-.2 35.4 5.9-1.4 11z"/><path fill="#b1d468" stroke="#b1d468" d="M349.2 230.6l1.4-.3 35.3 16.7-1.3 10.9z"/><path fill="#83d78c" stroke="#83d78c" d="M347.8 230.9l1.4-.3 35.4 27.3-1.4 10.9z"/><path fill="#5fd3ac" stroke="#5fd3ac" d="M346.4 231.1l1.4-.2 35.4 37.9-1.4 11z"/><path fill="#47ccc4" stroke="#47ccc4" d="M345 231.4l1.4-.3 35.4 48.7-1.4 10.9z"/><path class="c28" d="M343.7 231.7l1.3-.3 35.4 59.3-1.4 10.9z"/><path class="c24" d="M342.3 231.9l1.4-.2 35.3 69.9-1.3 10.9z"/><path class="c20" d="M340.9 232.2l1.4-.3 35.4 80.6-1.4 11z"/><path class="c16" d="M339.5 232.4l1.4-.2 35.4 91.3-1.4 10.7z"/><path class="c52 l" d="M349.2 230.6l-8.3 1.6"/><path class="c14" d="M338.1 232.7l1.4-.3 35.4 101.8-1.4 8.1z"/><path class="c12" d="M337.7 232.8l.4-.1 35.4 109.6-.4 .9z"/><path class="c14" d="M336.8 233l.9-.2 35.4 110.4-1-1.3z"/><path class="c16" d="M335.4 233.2l1.4-.2 35.3 108.9-1.4-7z"/><path class="c20" d="M369.4 326.6l1.3 8.3-35.3-101.7-1.4 .3z"/><path class="c22" d="M368 318.3l1.4 8.3-35.4-93.1-1.4 .3z"/><path class="c26" d="M366.6 310.1l1.4 8.2-35.4-84.5-1.4 .2z"/><path class="c52 l" d="M340.9 232.2l-8.3 1.6"/><path class="c28" d="M365.2 301.8l1.4 8.3-35.4-76.1-1.4 .4z"/><path class="c32" d="M363 289.7l2.2 12.1-35.4-67.4-2.2 1z"/><path class="c34" d="M325.7 236.4l1.9-1 35.4 54.3-.5-1.6-1.4-2.3z"/><path class="c52 l" d="M332.6 233.8l-2.8 .6-4.1 2"/><path class="c36" d="M321.6 238.5l4.1-2.1 35.4 49.4-4.2-5.6z"/><path class="c52 l" d="M325.7 236.4l-4.1 2.1"/><path class="c38" d="M316 241.6l1.4-.9 4.2-2.2 35.3 41.7-1.3-1.9-1.4-1.1-1.4 1.2-1.4 1.6z"/><path class="c52 l" d="M321.6 238.5l-4.2 2.2-1.4 .9"/><path class="c36" d="M310.5 250.6l5.5-9 35.4 38.4-5.5 6.6z"/><path class="c52 l" d="M316 241.6l-1.3 2.1"/><path class="c34" d="M308.9 253.4l1.6-2.8 35.4 36-1.7 1.7z"/><path class="c44 l" d="M310.5 250.6l-1.6 2.8"/><path class="c36" d="M302.2 264.4l6.7-11 35.3 34.9-1.1-.6-5.5-4.3z"/><path class="c38" d="M298.1 269.1l1.4-.2 2.7-4.5 35.4 19-4.1-3.2z"/><path class="c38" d="M332.7 279.6l.8 .6-35.4-11.1-.8 0z"/><path class="c38" d="M291.2 269.5l6.1-.4 35.4 10.5-6.1 1.2z"/></g>
<g class="q"><path class="c48" d="M740.2 192.3l35.9-6.8-35.3 121.3-21.4 4-2.1 .2-2.1-.8-2-3.5-1.3-4.1-.8-3.8-2.1-12.6-4.1-32.3z"/><path class="c4 l" d="M740.8 306.8l-6.9 1.3"/><path class="c4 l" d="M733.9 308.1l-8.3 1.6"/><path class="c4 l" d="M725.6 309.7l-6.2 1.1-2.1 .2"/><path class="c4 l" d="M717.3 311l-2.1-.8-2-3.5-1.3-4.1-.8-3.8-2.1-12.6"/><path class="c12 l" d="M709 286.2l-2.1-15.5"/><path class="c20 l" d="M706.9 270.7l-2-16.8"/><path fill="#dacc52" stroke="#dacc52" d="M729.9 194.3l10.3-2-35.3 61.6-8.3-67.9-2.1-15.4z"/><path class="c20 l" d="M704.9 253.9l-2.1-17"/><path class="c28 l" d="M702.8 236.9l-2.1-17.1"/><path class="c36 l" d="M700.7 219.8l-2-17.1"/><path class="c48" d="M725.8 195.1l4.1-.8-35.4-23.7-2.1-12.2-.7-3.1-1.3-4.5z"/><path class="c60 l" d="M692.4 158.4l-.7-3.1-1.3-4.5"/><path class="c48" d="M632.4 173.6l2.1-9.7 2-5.4 2.1-2.2 2.1-.9 43.5-8.3 2-.2 2.1 .7 2.1 3.2 35.4 44.3-58 11z"/><path class="c60 l" d="M690.4 150.8l-2.1-3.2-2.1-.7-4.1 .6"/><path class="c60 l" d="M682.1 147.5l-8.3 1.6"/><path class="c60 l" d="M673.8 149.1l-8.3 1.5"/><path class="c60 l" d="M665.5 150.6l-8.3 1.6"/><path class="c60 l" d="M657.2 152.2l-8.2 1.6"/><path class="c60 l" d="M649 153.8l-8.3 1.6"/><path class="c60 l" d="M640.7 155.4l-2.1 .9-2.1 2.2-2 5.4-2.1 9.7"/><path fill="#dacc52" stroke="#dacc52" d="M624.1 235l6.2-47.9 2.1-13.5 35.4 32.5-8.3 1.6z"/><path class="c60 l" d="M632.4 173.6l-2.1 13.5"/><path class="c48" d="M613.7 313.1l2.1-13.7 2.1-15.6 6.2-48.8 35.4-27.3-10.4 1.9z"/><path class="c36 l" d="M624.1 235l-2.1 16.3"/><path class="c28 l" d="M622 251.3l-4.1 32.5"/><path class="c20 l" d="M617.9 283.8l-2.1 15.6"/><path class="c12 l" d="M615.8 299.4l-2.1 13.7"/><path class="c48" d="M595.3 219.9l53.8-10.3-35.4 103.5-2 10.2-2.1 5.7-2.1 2.5-2 .9-2.1 .5-31.1 5.9-2 .1-2.1-.9-2.1-3.9-1.2-4.7-.9-4.1-2-14-2.1-17.4z"/><path class="c12 l" d="M613.7 313.1l-2 10.2"/><path class="c4 l" d="M611.7 323.3l-2.1 5.7-2.1 2.5-2 .9-2.1 .5"/><path class="c4 l" d="M603.4 332.9l-8.3 1.6"/><path class="c4 l" d="M595.1 334.5l-8.3 1.5"/><path class="c4 l" d="M586.8 336l-8.3 1.6"/><path class="c4 l" d="M578.5 337.6l-6.2 1.2-2 .1"/><path class="c4 l" d="M570.3 338.9l-2.1-.9-2.1-3.9-1.2-4.7-.9-4.1-2-14"/><path class="c12 l" d="M562 311.3l-2.1-17.4"/><path fill="#dacc52" stroke="#dacc52" d="M584.9 221.8l10.4-1.9-35.4 74-8.3-75.7-2.1-17.4z"/><path class="c20 l" d="M559.9 293.9l-2.1-18.7"/><path class="c28 l" d="M557.8 275.2l-2-19.2"/><path class="c36 l" d="M555.8 256l-4.2-37.8"/><path class="c48" d="M580.8 222.6l4.1-.8-35.4-21-2-13.9-.8-4-1.3-4.8z"/><path class="c60 l" d="M547.5 186.9l-.8-4-1.3-4.8"/><path class="c48" d="M512.3 199.3l2-11.4 2.1-6.7 2.1-3 2.1-1 2-.5 16.6-3.2 2.1-.1 2 .9 2.1 3.8 35.4 44.5-33.2 6.3z"/><path class="c60 l" d="M545.4 178.1l-2.1-3.8-2-.9-4.2 .5"/><path class="c60 l" d="M537.1 173.9l-8.3 1.6"/><path class="c60 l" d="M528.8 175.5l-8.2 1.7"/><path class="c60 l" d="M520.6 177.2l-2.1 1-2.1 3-2.1 6.7-2 11.4"/><path fill="#dacc52" stroke="#dacc52" d="M504 266.2l6.2-51.8 2.1-15.1 35.3 29.6-8.2 1.6z"/><path class="c60 l" d="M512.3 199.3l-2.1 15.1"/><path class="c36 l" d="M506.1 248.7l-2.1 17.5"/><path class="c48" d="M495.7 333l2.1-15.1 6.2-51.7 35.4-35.7-8.3 1.6z"/><path class="c36 l" d="M504 266.2l-2.1 17.5"/><path class="c28 l" d="M501.9 283.7l-2.1 17.4"/><path class="c20 l" d="M499.8 301.1l-2 16.8"/><path class="c12 l" d="M497.8 317.9l-2.1 15.1"/><path class="c48" d="M498.6 238.2l32.5-6.1-35.4 100.9-2.1 11.3-2 6.6-2.1 2.9-2.1 1-8.3 1.6-2-.1-2.1-1.7-2.1-4.9-2.1-8.5-2-12-5.5-36.9z"/><path class="c12 l" d="M495.7 333l-2.1 11.3"/><path class="c4 l" d="M493.6 344.3l-2 6.6-2.1 2.9-2.1 1-2.1 .5"/><path class="c4 l" d="M485.3 355.3l-6.2 1.1-2-.1"/><path class="c4 l" d="M477.1 356.3l-2.1-1.7-2.1-4.9-2.1-8.5-2-12"/><path class="c12 l" d="M468.8 329.2l-2.1-13.5"/><path class="c20 l" d="M466.7 315.7l-3.4-23.4"/><path fill="#dacc52" stroke="#dacc52" d="M487.6 240.3l11-2.1-35.3 54.1-11.1-75z"/><path class="c28 l" d="M463.3 292.3l-2.8-18.9"/><path class="c36 l" d="M460.5 273.4l-2.8-18.8"/><path class="c48" d="M483.4 241.1l4.2-.8-35.4-23-2.8-15.9-1.3-5.2z"/><path class="c60 l" d="M450.8 208.7l-1.4-7.3-1.3-5.2"/><path class="c48" d="M442.5 206.6l1.4-6.9 1.4-4.5 1.3-1.3 1.5 2.3 35.3 44.9-5.5 1.1z"/><path class="c60 l" d="M448.1 196.2l-1.5-2.3-1.3 1.3-1.4 4.5-1.4 6.9"/><path fill="#dacc52" stroke="#dacc52" d="M434.3 259.9l8.2-53.3 35.4 35.6-8.3 1.5z"/><path class="c60 l" d="M442.5 206.6l-1.3 8.2"/><path class="c48" d="M419.1 358.9l15.2-99 35.3-16.2-15.2 2.9z"/><path class="c36 l" d="M434.3 259.9l-4.2 27.1"/><path class="c28 l" d="M430.1 287l-2.7 18.1"/><path class="c20 l" d="M427.4 305.1l-4.2 27.2"/><path class="c12 l" d="M423.2 332.3l-2.7 18"/><path class="c4 l" d="M420.5 350.3l-1.4 8.6"/><path class="c48" d="M440.6 249.3l13.8-2.7-35.3 112.3-1.4 7.4-1.4 4.7-.8 .7-.6-.5-1.4-4.7-2.7-17.9-5.5-40.5z"/><path class="c4 l" d="M419.1 358.9l-1.4 7.4-1.4 4.7-.8 .7-.6-.5-1.4-4.7-2.7-17.9"/><path class="c12 l" d="M410.8 348.6l-2.8-20.2"/><path class="c20 l" d="M408 328.4l-2.7-20.3"/><path fill="#dacc52" stroke="#dacc52" d="M429.6 251.4l11-2.1-35.3 58.8-11.1-81z"/><path class="c28 l" d="M405.3 308.1l-4.2-30.5"/><path class="c36 l" d="M401.1 277.6l-2.7-20.3"/><path class="c48" d="M426.6 251.9l3-.5-35.4-24.3-1.4-8.7-1.6-4.6z"/><path class="c48" d="M390.1 216.7l1.1-2.9 35.4 38.1-1.1 .2z"/><path class="c60 l" d="M392.8 218.4l-1.6-4.6-1.1 2.9"/><path fill="#dacc52" stroke="#dacc52" d="M381.8 279.8l6.9-54.4 1.4-8.7 35.4 35.4-8.3 1.6z"/><path class="c60 l" d="M390.1 216.7l-1.4 8.7"/><path class="c48" d="M373.5 342.3l1.4-8.1 6.9-54.4 35.4-26.1-8.3 1.6z"/><path class="c36 l" d="M381.8 279.8l-2.8 21.8"/><path class="c28 l" d="M379 301.6l-2.7 21.9"/><path class="c20 l" d="M376.3 323.5l-1.4 10.7-1.4 8.1"/><path class="c48" d="M389.6 262.5l11-5.5 8.3-1.7-35.4 87-.4 .9-1-1.3-1.4-7-6.9-41.1-.8-4.1-.5-1.6-1.4-2.3-5.5-7.5-1.4-1.1z"/><path class="c12 l" d="M373.5 342.3l-.4 .9-1-1.3-1.4-7"/><path class="c20 l" d="M370.7 334.9l-4.1-24.8"/><path class="c28 l" d="M366.6 310.1l-2.8-16.3"/><path class="c36 l" d="M363.8 293.8l-.8-4.1-.5-1.6-1.4-2.3-5.5-7.5"/><path class="c48" d="M351.4 280l1.4-1.6 1.4-1.2 35.4-14.7-2.8 1.7z"/><path class="c46" d="M348.7 283.3l2.7-3.3 35.4-15.8-2.8 4.3z"/><path class="c36 l" d="M355.6 278.3l-1.4-1.1-1.4 1.2-4.1 4.9"/><path class="c44" d="M344.2 288.3l4.5-5 35.3-14.8-4.4 7.4z"/><path class="c42" d="M340.4 285.6l2.7 2.1 1.1 .6 35.4-12.4-3.8 6.5z"/><path class="c40" d="M336.2 282.3l4.2 3.3 35.4-3.2-4.2 6.9z"/><path class="c38" d="M334.9 281.3l1.3 1 35.4 7-1.4 2.2z"/><path class="c38" d="M368.1 291.7l2.1-.2-35.3-10.2-2.2-1.7z"/><path class="c38" d="M326.6 280.8l6.1-1.2 35.4 12.1-6.2 .4z"/></g>
<g class="q"><path class="c2" d="M758.9 188.8l17.2-3.3 35.4 138.8-13.1 2.5-2.1 .3-2-.5z"/><path class="c52 l" d="M776.1 185.5l-6.9 1.3"/><path class="c52 l" d="M769.2 186.8l-8.2 1.6"/><path class="c4" d="M756.8 189.2l2.1-.4 35.4 137.8-2.1-2.5z"/><path class="c6" d="M754.7 189.6l2.1-.4 35.4 134.9-2.1-6.3z"/><path class="c10" d="M752.7 190l2-.4 35.4 128.2-2-10.7z"/><path class="c16" d="M786 293.2l2.1 13.9-35.4-117.1-2.1 .4z"/><path class="c52 l" d="M761 188.4l-8.3 1.6"/><path class="c22" d="M783.9 277.9l2.1 15.3-35.4-102.8-2.1 .4z"/><path class="c28" d="M781.8 262.2l2.1 15.7-35.4-87.1-2 .3z"/><path class="c32" d="M779.8 246.4l2 15.8-35.3-71.1-2.1 .4z"/><path class="c38" d="M777.7 230.6l2.1 15.8-35.4-54.9-2.1 .4z"/><path class="c52 l" d="M752.7 190l-8.3 1.5"/><path fill="#b1d468" stroke="#b1d468" d="M775.6 215l2.1 15.6-35.4-38.7-2.1 .4z"/><path class="c52 l" d="M744.4 191.5l-2.1 .4"/><path fill="#ebc957" stroke="#ebc957" d="M773.6 200.2l2 14.8-35.4-22.7-2 .4z"/><path fill="#fecf60" stroke="#fecf60" d="M771.5 187.6l2.1 12.6-35.4-7.5-2.1 .4z"/><path class="c58" d="M769.4 179l2.1 8.6-35.4 5.5-2.1 .4z"/><path class="c60" d="M715.6 183.1l2-1 2.1-.5 43.5-8.2 2.1 0 2 1.3 2.1 4.3-35.4 14.5-53.8 10.2z"/><path class="c60" d="M678.1 204.1l2.1-.4 35.4-20.6-2.1 2.6z"/><path class="c58" d="M676 204.5l2.1-.4 35.4-18.4-2.1 5.9z"/><path class="c54" d="M674 204.9l2-.4 35.4-12.9-2 9.8z"/><path fill="#ebc957" stroke="#ebc957" d="M671.9 205.3l2.1-.4 35.4-3.5-2.1 13z"/><path fill="#b1d468" stroke="#b1d468" d="M669.8 205.7l2.1-.4 35.4 9.1-2.1 14.6z"/><path fill="#83d78c" stroke="#83d78c" d="M667.8 206.1l2-.4 35.4 23.3-2.1 15z"/><path class="c34" d="M665.7 206.5l2.1-.4 35.3 37.9-2 15.1z"/><path class="c28" d="M663.6 206.9l2.1-.4 35.4 52.6-2.1 15.1z"/><path class="c24" d="M661.5 207.3l2.1-.4 35.4 67.3-2.1 15.1z"/><path class="c18" d="M659.5 207.7l2-.4 35.4 82-2 15z"/><path class="c52 l" d="M669.8 205.7l-8.3 1.6"/><path class="c12" d="M657.4 208.1l2.1-.4 35.4 96.6-2.1 14.4z"/><path class="c8" d="M655.3 208.5l2.1-.4 35.4 110.6-2.1 12.6z"/><path class="c6" d="M653.3 208.9l2-.4 35.4 122.8-2.1 9.2z"/><path class="c4" d="M651.2 209.2l2.1-.3 35.3 131.6-2 5.2z"/><path class="c52 l" d="M661.5 207.3l-8.2 1.6"/><path class="c52 l" d="M653.3 208.9l-2.1 .3"/><path class="c2" d="M609.8 217.1l41.4-7.9 35.4 136.5-2.1 2.2-2.1 .9-33.1 6.4-2.1 .2-2-.5z"/><path class="c52 l" d="M651.2 209.2l-8.3 1.6"/><path class="c52 l" d="M642.9 210.8l-8.3 1.6"/><path class="c52 l" d="M634.6 212.4l-8.3 1.6"/><path class="c52 l" d="M626.3 214l-8.2 1.5"/><path class="c4" d="M607.7 217.5l2.1-.4 35.4 137.8-2.1-2.6z"/><path class="c52 l" d="M618.1 215.5l-8.3 1.6"/><path class="c6" d="M605.6 217.9l2.1-.4 35.4 134.8-2.1-6.7z"/><path class="c10" d="M603.6 218.3l2-.4 35.4 127.7-2.1-11.6z"/><path class="c16" d="M636.9 318.7l2 15.3-35.3-115.7-2.1 .4z"/><path class="c22" d="M634.8 301.6l2.1 17.1-35.4-100-2.1 .4z"/><path class="c52 l" d="M609.8 217.1l-8.3 1.6"/><path class="c30" d="M632.7 283.9l2.1 17.7-35.4-82.5-2.1 .4z"/><path class="c36" d="M630.7 266.2l2 17.7-35.4-64.4-2 .4z"/><path fill="#9ad67a" stroke="#9ad67a" d="M628.6 248.7l2.1 17.5-35.4-46.3-2.1 .4z"/><path fill="#dacc52" stroke="#dacc52" d="M626.5 232l2.1 16.7-35.4-28.4-2.1 .4z"/><path class="c52 l" d="M601.5 218.7l-8.3 1.6"/><path fill="#fecf60" stroke="#fecf60" d="M624.4 217.6l2.1 14.4-35.4-11.3-2 .4z"/><path class="c58" d="M622.4 207.4l2 10.2-35.3 3.5-2.1 .3z"/><path class="c60" d="M618.2 200.4l2.1 1.8 2.1 5.2-35.4 14-4.1 .8z"/><path class="c62" d="M597.5 203.8l16.6-3.2 2.1-.3 2 .1-35.3 21.8-20.8 4z"/><path class="c52 l" d="M582.9 222.2l-8.3 1.6"/><path class="c52 l" d="M574.6 223.8l-8.3 1.6"/><path class="c52 l" d="M566.3 225.4l-4.2 .8"/><path class="c60" d="M593.4 205.9l2-1.5 2.1-.6-35.4 22.4-4.1 .8z"/><path class="c60" d="M555.9 227.3l2.1-.3 35.4-21.1-2.1 3.8z"/><path class="c58" d="M554.6 227.6l1.3-.3 35.4-17.6-1.3 4.3z"/><path class="c56" d="M553.9 227.7l.7-.1 35.4-13.6-.8 3.5z"/><path fill="#f9c864" stroke="#f9c864" d="M551.8 228.1l2.1-.4 35.3-10.2-2 11.9z"/><path fill="#dacc52" stroke="#dacc52" d="M549.7 228.5l2.1-.4 35.4 1.3-2.1 14.7z"/><path fill="#9ad67a" stroke="#9ad67a" d="M547.6 228.9l2.1-.4 35.4 15.6-2.1 15.9z"/><path fill="#5fd3ac" stroke="#5fd3ac" d="M545.6 229.3l2-.4 35.4 31.1-2 16.2z"/><path class="c30" d="M543.5 229.7l2.1-.4 35.4 46.9-2.1 16.2z"/><path class="c24" d="M541.4 230.1l2.1-.4 35.4 62.7-2.1 16.3z"/><path class="c18" d="M539.4 230.5l2-.4 35.4 78.6-2.1 16.1z"/><path class="c52 l" d="M549.7 228.5l-8.3 1.6"/><path class="c14" d="M537.3 230.9l2.1-.4 35.3 94.3-2 15.3z"/><path class="c8" d="M535.2 231.3l2.1-.4 35.4 109.2-2.1 13.4z"/><path class="c6" d="M533.1 231.7l2.1-.4 35.4 122.2-2.1 9.6z"/><path class="c4" d="M531.1 232.1l2-.4 35.4 131.4-2 5.4z"/><path class="c52 l" d="M541.4 230.1l-8.3 1.6"/><path class="c52 l" d="M533.1 231.7l-2 .4"/><path class="c2" d="M516.6 234.8l14.5-2.7 35.4 136.4-2.1 2.3-2.1 .8-8.3 1.6-2-.2z"/><path class="c52 l" d="M531.1 232.1l-8.3 1.5"/><path class="c4" d="M514.5 235.2l2.1-.4 35.4 138.2-2.1-1.6z"/><path class="c6" d="M512.4 235.6l2.1-.4 35.4 136.2-2.1-4.6z"/><path class="c52 l" d="M522.8 233.6l-8.3 1.6"/><path class="c8" d="M510.4 236l2-.4 35.4 131.2-2.1-8.2z"/><path class="c12" d="M508.3 236.4l2.1-.4 35.3 122.6-2-11.1z"/><path class="c18" d="M506.2 236.8l2.1-.4 35.4 111.1-2.1-12.5z"/><path class="c22" d="M539.5 322l2.1 13-35.4-98.2-2 .4z"/><path class="c52 l" d="M514.5 235.2l-8.3 1.6"/><path class="c26" d="M537.5 309l2 13-35.3-84.8-2.1 .4z"/><path class="c32" d="M535.4 295.9l2.1 13.1-35.4-71.4-2.1 .4z"/><path class="c36" d="M534 287.2l1.4 8.7-35.4-57.9-1.4 .2z"/><path class="c38" d="M532.6 278.5l1.4 8.7-35.4-49-1.4 .3z"/><path class="c52 l" d="M506.2 236.8l-7.6 1.4"/><path class="c42" d="M531.2 269.8l1.4 8.7-35.4-40-1.3 .3z"/><path class="c44" d="M529.9 261.1l1.3 8.7-35.3-31-1.4 .2z"/><path class="c52 l" d="M498.6 238.2l-2.7 .6"/><path fill="#dacc52" stroke="#dacc52" d="M528.5 252.5l1.4 8.6-35.4-22.1-1.4 .3z"/><path fill="#f9c864" stroke="#f9c864" d="M527.1 244l1.4 8.5-35.4-13.2-1.4 .2z"/><path fill="#fecf60" stroke="#fecf60" d="M525.7 236l1.4 8-35.4-4.5-1.4 .3z"/><path class="c56" d="M524.3 228.9l1.4 7.1-35.4 3.8-1.3 .3z"/><path class="c58" d="M523 223.7l1.3 5.2-35.3 11.2-1.4 .2z"/><path class="c60" d="M520.2 221.5l1-.6 .4 .2 1.4 2.6-35.4 16.6-2.8 .6z"/><path class="c58" d="M483.4 241.1l1.4-.2 35.4-19.4-1.4 3.6z"/><path class="c56" d="M482.1 241.4l1.3-.3 35.4-16-1.4 6z"/><path fill="#fecf60" stroke="#fecf60" d="M480.7 241.6l1.4-.2 35.3-10.3-1.3 7.4z"/><path fill="#f9c864" stroke="#f9c864" d="M479.3 241.9l1.4-.3 35.4-3.1-1.4 8.1z"/><path fill="#dacc52" stroke="#dacc52" d="M477.9 242.2l1.4-.3 35.4 4.7-1.4 8.4z"/><path fill="#c7d05a" stroke="#c7d05a" d="M476.5 242.4l1.4-.2 35.4 12.8-1.4 8.4z"/><path fill="#9ad67a" stroke="#9ad67a" d="M475.2 242.7l1.3-.3 35.4 21-1.4 8.4z"/><path class="c40" d="M473.8 243l1.4-.3 35.3 29.1-1.3 8.4z"/><path class="c36" d="M472.4 243.2l1.4-.2 35.4 37.2-1.4 8.4z"/><path class="c34" d="M471 243.5l1.4-.3 35.4 45.4-1.4 8.4z"/><path class="c30" d="M469.6 243.7l1.4-.2 35.4 53.5-1.4 8.4z"/><path class="c28" d="M468.3 244l1.3-.3 35.4 61.7-1.4 8.4z"/><path class="c24" d="M466.9 244.3l1.4-.3 35.3 69.8-1.3 8.4z"/><path class="c52 l" d="M476.5 242.4l-8.2 1.6"/><path class="c22" d="M465.5 244.5l1.4-.2 35.4 77.9-1.4 8.4z"/><path class="c18" d="M464.1 244.8l1.4-.3 35.4 86.1-1.4 8.4z"/><path class="c16" d="M462.7 245.1l1.4-.3 35.4 94.2-1.4 8.4z"/><path class="c12" d="M461.4 245.3l1.3-.2 35.4 102.3-1.4 8.4z"/><path class="c10" d="M460 245.6l1.4-.3 35.3 110.5-1.4 8.4z"/><path class="c6" d="M458.6 245.8l1.4-.2 35.3 118.6-1.3 8.2z"/><path class="c52 l" d="M468.3 244l-8.3 1.6"/><path class="c4" d="M457.2 246.1l1.4-.3 35.4 126.6-1.4 7.6z"/><path class="c52 l" d="M460 245.6l-2.8 .5"/><path class="c2" d="M453.1 246.9l4.1-.8 35.4 133.9-1.4 5.9-1.6 2.5-1.2-1.9z"/><path class="c4" d="M451.7 247.2l1.4-.3 35.3 139.6-1.3-5.9z"/><path class="c8" d="M450.3 247.4l1.4-.2 35.4 133.4-1.4-8.4z"/><path class="c10" d="M448.9 247.7l1.4-.3 35.4 124.8-1.4-9.1z"/><path class="c14" d="M482.9 353.7l1.4 9.4-35.4-115.4-1.4 .2z"/><path class="c52 l" d="M457.2 246.1l-8.3 1.6"/><path class="c18" d="M481.5 344.3l1.4 9.4-35.4-105.8-1.3 .3z"/><path class="c22" d="M480.2 334.9l1.3 9.4-35.3-96.1-1.4 .3z"/><path class="c24" d="M478.8 325.5l1.4 9.4-35.4-86.4-1.4 .2z"/><path class="c28" d="M477.4 316.2l1.4 9.3-35.4-76.8-1.4 .3z"/><path class="c32" d="M476 306.8l1.4 9.4-35.4-67.2-1.4 .3z"/><path class="c36" d="M474.6 297.4l1.4 9.4-35.4-57.5-1.3 .2z"/><path class="c52 l" d="M448.9 247.7l-8.3 1.6"/><path class="c40" d="M473.3 288l1.3 9.4-35.3-47.9-1.4 .3z"/><path class="c42" d="M471.9 278.6l1.4 9.4-35.4-38.2-1.4 .2z"/><path fill="#c7d05a" stroke="#c7d05a" d="M470.5 269.3l1.4 9.3-35.4-28.6-1.4 .3z"/><path class="c52 l" d="M440.6 249.3l-4.1 .7"/><path fill="#ebc957" stroke="#ebc957" d="M469.1 259.9l1.4 9.4-35.4-19-1.4 .3z"/><path fill="#f9c864" stroke="#f9c864" d="M467.7 250.8l1.4 9.1-35.4-9.3-1.3 .2z"/><path fill="#fdd959" stroke="#fdd959" d="M466.4 243.3l1.3 7.5-35.3 0-1.4 .3z"/><path class="c56" d="M465 240.4l1.4 2.9-35.4 7.8-1.4 .3z"/><path class="c56" d="M428.2 251.6l1.4-.2 35.4-11-1.4 3.9z"/><path fill="#f9c864" stroke="#f9c864" d="M426.8 251.9l1.4-.3 35.4-7.3-1.4 8.6z"/><path fill="#ebc957" stroke="#ebc957" d="M425.5 252.1l1.3-.2 35.4 1-1.4 10z"/><path fill="#c7d05a" stroke="#c7d05a" d="M424.1 252.4l1.4-.3 35.3 10.8-1.3 10.1z"/><path fill="#9ad67a" stroke="#9ad67a" d="M422.7 252.7l1.4-.3 35.4 20.6-1.4 10.1z"/><path fill="#6ed69d" stroke="#6ed69d" d="M421.3 252.9l1.4-.2 35.4 30.4-1.4 10.2z"/><path fill="#56cfb9" stroke="#56cfb9" d="M419.9 253.2l1.4-.3 35.4 40.4-1.4 10.1z"/><path class="c32" d="M418.6 253.5l1.3-.3 35.4 50.2-1.4 10.2z"/><path class="c28" d="M417.2 253.7l1.4-.2 35.3 60.1-1.4 10.1z"/><path class="c24" d="M415.8 254l1.4-.3 35.3 70-1.3 10.1z"/><path class="c20" d="M414.4 254.2l1.4-.2 35.4 79.8-1.4 10.2z"/><path class="c52 l" d="M424.1 252.4l-8.3 1.6"/><path class="c16" d="M413 254.5l1.4-.3 35.4 89.8-1.4 9.9z"/><path class="c14" d="M410.3 255l2.7-.5 35.4 99.4-1.4 7.5-.4 .9-1-1.2z"/><path class="c16" d="M408.9 255.3l1.4-.3 35.3 106.1-1.3-6.4z"/><path class="c20" d="M407.5 255.5l1.4-.2 35.4 99.4-1.4-7.7z"/><path class="c22" d="M441.5 339.4l1.4 7.6-35.4-91.5-1.4 .3z"/><path class="c52 l" d="M415.8 254l-8.3 1.5"/><path class="c26" d="M440.1 331.8l1.4 7.6-35.4-83.6-1.4 .3z"/><path class="c28" d="M438.7 324.1l1.4 7.7-35.4-75.7-1.3 .2z"/><path class="c32" d="M436.3 312.1l2.4 12-35.3-67.8-2.4 .6z"/><path class="c34" d="M397.8 258.3l3.2-1.4 35.3 55.2-.3-1.1-1.4-2.3-1.4-1.8z"/><path class="c52 l" d="M407.5 255.5l-5.5 1.1-2.8 1"/><path class="c36" d="M395.1 259.7l2.7-1.4 35.4 48.6-2.7-3.4z"/><path class="c52 l" d="M399.2 257.6l-4.1 2.1"/><path class="c38" d="M390.9 261.8l4.2-2.1 35.4 43.8-1.4-1.7-1.5-1.4-1.3 .9z"/><path class="c52 l" d="M395.1 259.7l-4.2 2.1"/><path class="c36" d="M384 268.5l2.8-4.3 1.4-1 2.7-1.4 35.4 39.5-6.9 7.7z"/><path class="c52 l" d="M390.9 261.8l-2.7 1.4-1.4 1-1.4 2"/><path class="c34" d="M381.3 273.2l2.7-4.7 35.4 40.5-2.1 2.1-.6-.3z"/><path class="c44 l" d="M384 268.5l-2.7 4.7"/><path class="c36" d="M374.4 284.7l6.9-11.5 35.4 37.6-7-4.8z"/><path class="c38" d="M361.9 292.1l8.3-.6 4.2-6.8 35.3 21.3-4.1-3-8.3 1.6z"/></g>
<g class="q"><path class="c32" d="M823.4 261.6l23.5-4.5-35.4 67.2-13.1 2.5-2.1 .3-2-.5-2.1-2.5-1.7-4.8-2.4-12.2z"/><path class="c4 l" d="M811.5 324.3l-6.9 1.4"/><path class="c4 l" d="M804.6 325.7l-8.3 1.4"/><path class="c4 l" d="M796.3 327.1l-2-.5-2.1-2.5-2.1-6.3-2-10.7"/><path fill="#47ccc4" stroke="#47ccc4" d="M815.1 263.1l8.3-1.5-35.3 45.5-2.1-13.9-6.2-46.8z"/><path class="c12 l" d="M788.1 307.1l-2.1-13.9"/><path class="c20 l" d="M786 293.2l-4.2-31"/><path class="c32" d="M806.9 264.7l8.2-1.6-35.3-16.7-6.2-46.2-2.1-12.6z"/><path class="c44 l" d="M775.6 215l-2-14.8"/><path class="c52 l" d="M773.6 200.2l-2.1-12.6"/><path class="c32" d="M707.3 214.4l2.1-13 2-9.8 2.1-5.9 2.1-2.6 2-1 43.5-8.4 2.1-.3 2.1 0 2 1.3 2.1 4.3 2.1 8.6 35.4 77.1-64.2 12.2z"/><path class="c52 l" d="M771.5 187.6l-1.5-6.5"/><path class="c60 l" d="M770 181.1l-.6-2.1-2.1-4.3-2-1.3-2.1 0"/><path class="c60 l" d="M763.2 173.4l-8.3 1.5"/><path class="c60 l" d="M754.9 174.9l-8.3 1.6"/><path class="c60 l" d="M746.6 176.5l-8.3 1.5"/><path class="c60 l" d="M738.3 178l-8.2 1.6"/><path class="c60 l" d="M730.1 179.6l-8.3 1.6"/><path class="c60 l" d="M721.8 181.2l-4.2 .9-2 1-2.1 2.6"/><path class="c60 l" d="M713.5 185.7l-2.1 5.9-2 9.8"/><path class="c52 l" d="M709.4 201.4l-2.1 13"/><path fill="#47ccc4" stroke="#47ccc4" d="M694.9 304.3l12.4-89.9 35.4 62.5-12.5 2.4z"/><path class="c52 l" d="M707.3 214.4l-2.1 14.6"/><path class="c44 l" d="M705.2 229l-4.1 30.1"/><path class="c32" d="M688.6 340.5l2.1-9.2 2.1-12.6 2.1-14.4 35.3-25-6.2 1.1z"/><path class="c20 l" d="M694.9 304.3l-2.1 14.4"/><path class="c12 l" d="M692.8 318.7l-2.1 12.6-1.8 8.1"/><path class="c4 l" d="M688.9 339.4l-.3 1.1"/><path class="c32" d="M674.3 289.9l49.7-9.5-35.4 60.1-2 5.2-2.1 2.2-2.1 .9-31 6-4.2 .6-2-.5-2.1-2.6-2.1-6.7-2.1-11.6z"/><path class="c4 l" d="M688.6 340.5l-2 5.2-2.1 2.2-2.1 .9-2 .5"/><path class="c4 l" d="M680.4 349.3l-8.3 1.5"/><path class="c4 l" d="M672.1 350.8l-8.3 1.6"/><path class="c4 l" d="M663.8 352.4l-8.3 1.6"/><path class="c4 l" d="M655.5 354l-8.3 1.4"/><path class="c4 l" d="M647.2 355.4l-2-.5-2.1-2.6-2.1-6.7-2.1-11.6"/><path fill="#47ccc4" stroke="#47ccc4" d="M666 291.5l8.3-1.6-35.4 44.1-2-15.3-6.2-52.5z"/><path class="c12 l" d="M638.9 334l-2-15.3"/><path class="c20 l" d="M636.9 318.7l-4.2-34.8"/><path class="c32" d="M658.2 293l7.8-1.5-35.3-25.3-4.2-34.2-2.1-14.4-1.6-8.5z"/><path class="c44 l" d="M628.6 248.7l-2.1-16.7"/><path class="c52 l" d="M626.5 232l-2.1-14.4-1.6-8.5"/><path class="c32" d="M585.1 244.1l2.1-14.7 2-11.9 .8-3.5 1.3-4.3 2.1-3.8 2-1.5 2.1-.6 16.6-3.2 2.1-.3 2 .1 2.1 1.8 2.1 5.2 .4 1.7 35.4 83.9-37.7 7.1z"/><path class="c60 l" d="M622.8 209.1l-.4-1.7-2.1-5.2-2.1-1.8-2-.1"/><path class="c60 l" d="M616.2 200.3l-8.3 1.5"/><path class="c60 l" d="M607.9 201.8l-8.3 1.6"/><path class="c60 l" d="M599.6 203.4l-4.2 1-2 1.5-2.1 3.8"/><path class="c60 l" d="M591.3 209.7l-1.3 4.3-.8 3.5-2 11.9"/><path class="c52 l" d="M587.2 229.4l-2.1 14.7"/><path fill="#47ccc4" stroke="#47ccc4" d="M574.7 324.8l10.4-80.7 35.4 56-10.4 2z"/><path class="c52 l" d="M585.1 244.1l-2.1 15.9"/><path class="c44 l" d="M583 260l-2 16.2"/><path class="c32" d="M568.5 363.1l2.1-9.6 2.1-13.4 2-15.3 35.4-22.7-6.2 1.2z"/><path class="c20 l" d="M574.7 324.8l-2 15.3"/><path class="c12 l" d="M572.7 340.1l-2.1 13.4-1.7 8.1"/><path class="c4 l" d="M568.9 361.6l-.4 1.5"/><path class="c32" d="M579.1 308l24.8-4.7-35.4 59.8-2 5.4-2.1 2.3-2.1 .8-6.2 1.3-2.1 .3-2-.2-2.1-1.6-2.1-4.6-2.1-8.2-2-11.1z"/><path class="c4 l" d="M568.5 363.1l-2 5.4-2.1 2.3-2.1 .8-2.1 .5"/><path class="c4 l" d="M560.2 372.1l-6.2 1.1-2-.2"/><path class="c4 l" d="M552 373l-2.1-1.6-2.1-4.6-2.1-8.2"/><path class="c12 l" d="M545.7 358.6l-2-11.1"/><path fill="#47ccc4" stroke="#47ccc4" d="M570.8 309.6l8.3-1.6-35.4 39.5-8.3-51.6z"/><path class="c12 l" d="M543.7 347.5l-2.1-12.5"/><path class="c20 l" d="M541.6 335l-4.1-26"/><path class="c32" d="M559.7 311.7l11.1-2.1-35.4-13.7-8.3-51.9-2.8-15.1z"/><path class="c44 l" d="M531.2 269.8l-2.7-17.3"/><path class="c52 l" d="M528.5 252.5l-2.8-16.5-1.4-7.1"/><path class="c32" d="M510.5 271.8l5.6-33.3 1.3-7.4 1.4-6 1.4-3.6 1-.6 .4 .2 1.4 2.6 1.3 5.2 35.4 82.8-13.8 2.6z"/><path class="c60 l" d="M524.3 228.9l-1.3-5.2-1.4-2.6-.4-.2-1 .6-1.4 3.6-1.4 6-1.3 7.4"/><path class="c52 l" d="M516.1 238.5l-4.2 24.9"/><path class="c44 l" d="M511.9 263.4l-1.4 8.4"/><path fill="#47ccc4" stroke="#47ccc4" d="M500.9 330.6l9.6-58.8 35.4 42.5-9.7 1.8z"/><path class="c44 l" d="M510.5 271.8l-2.7 16.8"/><path class="c32" d="M491.2 385.9l1.4-5.9 1.4-7.6 6.9-41.8 35.3-14.5-9.6 1.9z"/><path class="c20 l" d="M500.9 330.6l-4.2 25.2"/><path class="c12 l" d="M496.7 355.8l-2.7 16.6"/><path class="c4 l" d="M494 372.4l-1.4 7.6-1.4 5.9"/><path class="c32" d="M519.7 319.3l6.9-1.3-35.4 67.9-1.6 2.5-1.2-1.9-1.3-5.9-2.8-17.5z"/><path class="c4 l" d="M491.2 385.9l-1.6 2.5-1.2-1.9-1.3-5.9-1.4-8.4"/><path class="c12 l" d="M485.7 372.2l-1.4-9.1"/><path fill="#47ccc4" stroke="#47ccc4" d="M510 321.1l9.7-1.8-35.4 43.8-9.7-65.7z"/><path class="c12 l" d="M484.3 363.1l-2.8-18.8"/><path class="c20 l" d="M481.5 344.3l-2.7-18.8"/><path class="c32" d="M501.7 322.7l8.3-1.6-35.4-23.7-6.9-46.6-1.3-7.5z"/><path class="c44 l" d="M473.3 288l-4.2-28.1"/><path class="c52 l" d="M469.1 259.9l-1.4-9.1-1.3-7.5"/><path class="c32" d="M460.8 262.9l2.8-18.6 1.4-3.9 1.4 2.9 35.3 79.4-5.5 1z"/><path class="c60 l" d="M466.4 243.3l-1.4-2.9-1.4 3.9-1.4 8.6"/><path class="c52 l" d="M462.2 252.9l-1.4 10"/><path fill="#47ccc4" stroke="#47ccc4" d="M449.8 344l11-81.1 35.4 60.8-11 2.1z"/><path class="c52 l" d="M460.8 262.9l-1.3 10.1"/><path class="c44 l" d="M459.5 273l-2.8 20.3"/><path class="c32" d="M446.6 362.3l.4-.9 1.4-7.5 1.4-9.9 35.4-18.2-3.2 .6z"/><path class="c20 l" d="M449.8 344l-1.4 9.9-1.4 7.5"/><path class="c32" d="M479.6 326.9l2.4-.5-35.4 35.9-1-1.2-1.3-6.4z"/><path class="c12 l" d="M447 361.4l-.4 .9-1-1.2-1.3-6.4"/><path fill="#47ccc4" stroke="#47ccc4" d="M474.1 327.9l5.5-1-35.3 27.8-5.6-30.6z"/><path class="c20 l" d="M444.3 354.7l-4.2-22.9"/><path class="c32" d="M470 328.7l4.1-.8-35.4-3.8-2.4-12-.3-1.1-1.4-2.3z"/><path class="c32" d="M397.3 304.6l8.3-1.6 11.1 7.8 .6 .3 .7-.6 8.3-9.2 1.3-.9 1.5 1.4 5.5 6.9 35.4 20-37.3 7.1z"/></g>
<path class="a" d="M114.3 345.6L114.3 122.8M114.3 345.6L432.7 447.2M432.7 447.2L846.9 368.5M432.7 447.2L444.1 450.8M570.8 421L582.2 424.6M708.8 394.7L720.3 398.4M846.9 368.5L858.3 372.1M432.7 447.2L420.9 449.4M273.5 396.4L261.7 398.6M114.3 345.6L102.5 347.8M114.3 345.6L102.9 342M114.3 234.2L102.9 230.6M114.3 122.8L102.9 119.2"/>
<text class="k" text-anchor="start" transform="translate(452.3 493.5) scale(0.575 1)">0</text>
<text class="k" text-anchor="start" transform="translate(590.4 467.3) scale(0.575 1)">50</text>
<text class="k" text-anchor="start" transform="translate(728.4 441) scale(0.575 1)">100</text>
<text class="k" text-anchor="start" transform="translate(866.5 414.8) scale(0.575 1)">150</text>
<text class="k" text-anchor="end" transform="translate(411.9 491.5) scale(0.575 1)">-5</text>
<text class="k" text-anchor="end" transform="translate(252.7 440.7) scale(0.575 1)">0</text>
<text class="k" text-anchor="end" transform="translate(93.5 389.9) scale(0.575 1)">5</text>
<text class="k" text-anchor="end" transform="translate(94.3 355.2) scale(0.575 1)">-5</text>
<text class="k" text-anchor="end" transform="translate(94.3 243.8) scale(0.575 1)">0</text>
<text class="k" text-anchor="end" transform="translate(94.3 132.4) scale(0.575 1)">5</text>
<text class="m" text-anchor="middle" transform="translate(286.9 524.2) scale(.53 1)">y</text>
<text class="m n" text-anchor="middle" transform="translate(616.9 530.6) scale(.75 1)">t</text>
<text class="b" text-anchor="middle" transform="translate(56.2 236) rotate(-90) scale(.985 .56)">e<tspan class="s" dy="7">1</tspan><tspan class="p" dy="-4" dx="1">(</tspan><tspan dy="-3">y</tspan><tspan class="p" dx="1">,</tspan><tspan dx="9">t</tspan><tspan class="p" dy="3" dx="1">)</tspan></text>
</g>
<g>
<path class="g" d="M114.3 905.6L528.5 826.9M846.9 928.5L528.5 826.9M273.5 956.4L687.7 877.7M570.8 981L252.4 879.4M708.8 954.7L390.4 853.1M252.4 879.4L252.4 656.6M390.4 853.1L390.4 630.3M528.5 826.9L528.5 604.1M114.3 794.2L528.5 715.5M114.3 682.8L528.5 604.1M687.7 877.7L687.7 654.9M846.9 928.5L846.9 705.7M846.9 817.1L528.5 715.5M846.9 705.7L528.5 604.1"/>
<g class="q"><path class="c10" d="M482.2 680.9l2.1-23.5 1.4-11.5 .7-4.1 2.1-6.4 2-1.7 2.1-.5 35.9-6.8 35.4 161.7-46.3 8.7z"/><path class="c60 l" d="M528.5 626.4l-6.9 1.3"/><path class="c60 l" d="M521.6 627.7l-8.3 1.6"/><path class="c60 l" d="M513.3 629.3l-8.3 1.5"/><path class="c60 l" d="M505 630.8l-8.3 1.6"/><path class="c60 l" d="M496.7 632.4l-6.2 1.3-2 1.7"/><path class="c60 l" d="M488.5 635.4l-2.1 6.4-.7 4.1-1.4 11.5"/><path class="c52 l" d="M484.3 657.4l-2.1 23.5"/><path fill="#6c79f9" stroke="#6c79f9" d="M478.1 735.1l4.1-54.2 35.4 115.9-4.1 .8z"/><path class="c44 l" d="M482.2 680.9l-2 26.8"/><path class="c36 l" d="M480.2 707.7l-2.1 27.4"/><path fill="#919bfb" stroke="#919bfb" d="M474 787.9l4.1-52.8 35.4 62.5-4.2 .7z"/><path class="c28 l" d="M478.1 735.1l-2.1 27.2"/><path fill="#6c79f9" stroke="#6c79f9" d="M471.6 809.6l2.4-21.7 35.3 10.4-2.3 .5z"/><path class="c20 l" d="M476 762.3l-2 25.6"/><path class="c10" d="M467.8 821.3l2-3.3 1.8-8.4 35.4-10.8-3.9 .7z"/><path class="c10" d="M443.1 810.8l60-11.3-35.3 21.8-2.1 .8-53.9 10.2-2-.9-2.1-5.5z"/><path fill="#6c79f9" stroke="#6c79f9" d="M436.9 812l6.2-1.2-35.4 15.1-.7-3.7-1.4-10.6-2.1-22.1-2-25.3z"/><path class="c10" d="M428.6 813.6l8.3-1.6-35.4-47.8-6.2-76-2.1-19.5z"/><path class="c20 l" d="M401.5 764.2l-2.1-25.8"/><path class="c36 l" d="M399.4 738.4l-2.1-25.8"/><path class="c44 l" d="M397.3 712.6l-2-24.4"/><path class="c52 l" d="M395.3 688.2l-2.1-19.5"/><path class="c10" d="M339.3 709.4l2.1-23.8 1.3-10.5 .8-4.9 2.1-6.1 2-1.6 2.1-.5 37.3-7 2.1 .1 2 3.1 1.5 6.8 .6 3.7 35.4 144.9-53.9 10.1z"/><path class="c60 l" d="M393.2 668.7l-.6-3.7-1.5-6.8-2-3.1-2.1-.1-2.1 .3"/><path class="c60 l" d="M384.9 655.3l-8.3 1.6"/><path class="c60 l" d="M376.6 656.9l-8.3 1.6"/><path class="c60 l" d="M368.3 658.5l-8.2 1.6"/><path class="c60 l" d="M360.1 660.1l-8.3 1.5"/><path class="c60 l" d="M351.8 661.6l-4.2 .9-2 1.6-2.1 6.1"/><path class="c60 l" d="M343.5 670.2l-.8 4.9-1.3 10.5"/><path class="c52 l" d="M341.4 685.6l-2.1 23.8"/><path fill="#6c79f9" stroke="#6c79f9" d="M335.2 765.1l4.1-55.7 35.4 114.3-4.1 .8z"/><path class="c44 l" d="M339.3 709.4l-2 27.5"/><path class="c36 l" d="M337.3 736.9l-2.1 28.2"/><path fill="#919bfb" stroke="#919bfb" d="M331.1 818.6l4.1-53.5 35.4 59.4-4.2 .8z"/><path class="c28 l" d="M335.2 765.1l-2.1 28"/><path fill="#6c79f9" stroke="#6c79f9" d="M329 837.2l2.1-18.6 35.3 6.7-2 .4z"/><path class="c20 l" d="M333.1 793.1l-2 25.5"/><path class="c10" d="M324.9 848.6l2-2.5 2.1-8.9 35.4-11.5-4.2 .8z"/><path class="c10" d="M327.5 832.6l32.7-6.1-35.3 22.1-2.1 .7-24.9 4.7-2-.1-2.1-2.8-1.7-7.3z"/><path fill="#6c79f9" stroke="#6c79f9" d="M320.9 833.9l6.6-1.3-35.4 11.2-2.5-22.1-4.1-50.8z"/><path class="c20 l" d="M287.6 797.1l-2.1-26.2"/><path class="c10" d="M314.7 835.1l6.2-1.2-35.4-63-4.1-51.8-2.1-22.1z"/><path class="c28 l" d="M285.5 770.9l-2.1-26.3"/><path class="c36 l" d="M283.4 744.6l-2-25.5"/><path class="c44 l" d="M281.4 719.1l-2.1-22.1"/><path class="c10" d="M246.8 733.7l2.8-31.8 1.1-8.9 1.7-8.2 2-3.6 2.1-.9 14.5-2.8 2.1-.3 2 .7 2.1 5.2 .8 4.4 1.3 9.5 35.4 138.1-32.5 6.1z"/><path class="c52 l" d="M279.3 697l-1.3-9.5"/><path class="c60 l" d="M278 687.5l-.8-4.4-2.1-5.2-2-.7-2.1 .3"/><path class="c60 l" d="M271 677.5l-8.3 1.6"/><path class="c60 l" d="M262.7 679.1l-6.2 1.2-2.1 .9"/><path class="c60 l" d="M254.4 681.2l-2 3.6-1.4 6.4-1.4 10.7"/><path class="c52 l" d="M249.6 701.9l-2.8 31.8"/><path fill="#6c79f9" stroke="#6c79f9" d="M242.7 788.9l4.1-55.2 35.4 107.5-4.1 .8z"/><path class="c44 l" d="M246.8 733.7l-1.3 18.2"/><path class="c36 l" d="M245.5 751.9l-1.4 18.4"/><path class="c28 l" d="M244.1 770.3l-1.4 18.6"/><path fill="#919bfb" stroke="#919bfb" d="M238.6 840.7l4.1-51.8 35.4 53.1-4.2 .7z"/><path class="c28 l" d="M242.7 788.9l-1.4 18.3"/><path class="c20 l" d="M241.3 807.2l-1.4 17.7"/><path fill="#6c79f9" stroke="#6c79f9" d="M236.9 855.1l1.7-14.4 35.3 2-1.6 .4z"/><path class="c10" d="M233 867l1.4-1.7 1.4-4.1 1.1-6.1 35.4-12-3.9 .7z"/><path class="c10" d="M256.3 846.1l12.1-2.3-35.4 23.2-1.3 .7-4.2 .8-1.4 .2-1.3-.1-1.4-1.1-1.4-3.4-1.1-5.6z"/><path fill="#6c79f9" stroke="#6c79f9" d="M254.6 846.4l1.7-.3-35.4 12.4-1.7-14z"/><path fill="#919bfb" stroke="#919bfb" d="M253.2 846.6l1.4-.2-35.4-1.9-1.4-15.7z"/><path fill="#6c79f9" stroke="#6c79f9" d="M250.5 847.2l2.7-.6-35.4-17.8-2.7-35.6z"/><path class="c20 l" d="M216.5 811.3l-1.4-18.1"/><path class="c10" d="M243.6 848.5l6.9-1.3-35.4-54-4.2-54.5-2.7-32.4z"/><path class="c28 l" d="M215.1 793.2l-1.4-18.2"/><path class="c36 l" d="M213.7 775l-2.8-36.3"/><path class="c44 l" d="M210.9 738.7l-1.3-17.3"/><path class="c52 l" d="M209.6 721.4l-1.4-15.1"/><path class="c10" d="M188.9 743.2l2.7-31.9 1.4-12.1 1.4-6.6 1.4-2.5 1.3-.7 5.6-1.1 1.3 .1 1.4 1.7 1.4 5.5 1.4 10.7 35.4 142.2-19.4 3.6z"/><path class="c60 l" d="M208.2 706.3l-1.4-10.7-1.4-5.5-1.4-1.7-1.3-.1-2.8 .5"/><path class="c60 l" d="M199.9 688.8l-2.8 .6-1.3 .7-1.4 2.5-1.4 6.6-1.4 12.1"/><path class="c60 l" d="M191.6 711.3l-1.4 15.4"/><path class="c52 l" d="M190.2 726.7l-1.3 16.5"/><path fill="#6c79f9" stroke="#6c79f9" d="M183.3 809.5l5.6-66.3 35.3 108.9-5.5 1.1z"/><path class="c44 l" d="M188.9 743.2l-1.4 16.5"/><path class="c36 l" d="M187.5 759.7l-2.8 33.2"/><path class="c28 l" d="M184.7 792.9l-1.4 16.6"/><path fill="#919bfb" stroke="#919bfb" d="M179.2 858.5l4.1-49 35.4 43.7-4.1 .7z"/><path class="c20 l" d="M183.3 809.5l-1.3 16.6"/><path fill="#6c79f9" stroke="#6c79f9" d="M177.8 869.9l1.4-11.4 35.4-4.6-1.4 .3z"/><path class="c10" d="M177.3 871.6l.5-1.7 35.4-15.7-.6 .1z"/><path class="c10" d="M211.8 854.5l.8-.2-35.3 17.3-.9-1.2z"/><path fill="#6c79f9" stroke="#6c79f9" d="M210.4 854.7l1.4-.2-35.4 15.9-1.4-9.9z"/><path fill="#919bfb" stroke="#919bfb" d="M209 855l1.4-.3-35.4 5.8-1.3-13.2z"/><path fill="#6c79f9" stroke="#6c79f9" d="M206.3 855.5l2.7-.5-35.3-7.7-2.8-27.1z"/><path class="c10" d="M195.2 857.6l11.1-2.1-35.4-35.3-11-107.4z"/><path class="c20 l" d="M170.9 820.2l-2.8-27.1"/><path class="c28 l" d="M168.1 793.1l-1.3-13.5"/><path class="c36 l" d="M166.8 779.6l-2.8-27.1"/><path class="c44 l" d="M164 752.5l-1.4-13.5"/><path class="c52 l" d="M162.6 739l-2.7-26.2"/><path class="c10" d="M148.8 786.8l8.3-71.3 1.4-7.8 .3-.1 1.1 5.2 35.3 144.8-11 2.1z"/><path class="c60 l" d="M159.9 712.8l-1.1-5.2-.3 .1-1.4 7.8-1.4 11.8"/><path class="c52 l" d="M155.7 727.3l-2.7 23.8"/><path class="c44 l" d="M153 751.1l-2.8 23.8"/><path class="c36 l" d="M150.2 774.9l-1.4 11.9"/><path fill="#6c79f9" stroke="#6c79f9" d="M140.5 857.2l8.3-70.4 35.4 72.9-8.3 1.5z"/><path class="c36 l" d="M148.8 786.8l-1.4 11.9"/><path class="c28 l" d="M147.4 798.7l-1.3 11.9"/><path class="c20 l" d="M146.1 810.6l-2.8 23.8"/><path class="c10" d="M139.2 859.3l1.1-.7 .2-1.4 35.4 4-1.4 .3z"/><path class="c10" d="M166.2 863l8.3-1.5-35.3-2.2-8.3-9.1z"/><path class="c10" d="M122.6 849.4l8.3 .8 35.3 12.8-8.2-.1z"/><path class="c10" d="M154.9 860.5l3.1 2.4-35.4-13.5-3.1-2.4z"/><path class="c12" d="M153 855.9l1.4 3.7 .5 .9-35.4-13.5-.5-1-1.4-3.5z"/><path class="c14" d="M152.4 851l.6 4.9-35.4-13.4-.5-5z"/><path class="c16" d="M152.2 848.4l.2 2.6-35.3-13.5-.3-2.6z"/><path fill="#579ff9" stroke="#579ff9" d="M151.9 842.9l.3 5.5-35.4-13.5-.3-5.1z"/><path fill="#80bdf5" stroke="#80bdf5" d="M151.6 837.4l.3 5.5-35.4-13.1-.3-5.1z"/><path fill="#7cc3f1" stroke="#7cc3f1" d="M151.3 831.9l.3 5.5-35.4-12.7-.2-5.2z"/><path class="c22" d="M151.1 828.2l.2 3.7-35.3-12.4-.3-3.5z"/><path class="c24" d="M150.8 824.6l.3 3.6-35.4-12.2-.3-3.4z"/><path class="c26" d="M149.7 816.7l.8 4.3 .3 3.6-35.4-12-.3-3.5-.8-3.8z"/></g>
<g class="q"><path class="c62" d="M561.3 657.9l2.1-2 2-.5 33.9-6.4-35.4 139.1-38 7.1z"/><path class="c12 l" d="M563.9 788.1l-6.9 1.3"/><path class="c12 l" d="M557 789.4l-8.3 1.5"/><path class="c12 l" d="M548.7 790.9l-8.3 1.6"/><path class="c12 l" d="M540.4 792.5l-8.3 1.5"/><path class="c60" d="M559.2 665.3l2.1-7.4-35.4 137.3-2.1 .4z"/><path class="c58" d="M558.8 668.1l.4-2.8-35.4 130.3-.4 .1z"/><path class="c12 l" d="M532.1 794l-8.3 1.6"/><path class="c54" d="M521.8 796l1.6-.3 35.4-127.6-1.7 13.8z"/><path class="c46" d="M519.7 796.4l2.1-.4 35.3-114.1-2 24z"/><path fill="#5fd3ac" stroke="#5fd3ac" d="M517.6 796.8l2.1-.4 35.4-90.5-2.1 26.8z"/><path fill="#46bee2" stroke="#46bee2" d="M515.6 797.2l2-.4 35.4-64.1-2.1 27.3z"/><path fill="#84b0fd" stroke="#84b0fd" d="M513.5 797.6l2.1-.4 35.3-37.2-2 27.1z"/><path class="c12 l" d="M523.8 795.6l-8.2 1.6"/><path fill="#9194f6" stroke="#9194f6" d="M511.4 798l2.1-.4 35.4-10.5-2.1 25.1z"/><path fill="#6858cc" stroke="#6858cc" d="M509.3 798.4l2.1-.4 35.4 14.2-2.2 19.5z"/><path class="c12 l" d="M511.4 798l-2.1 .4"/><path class="c0" d="M447.2 810.1l62.1-11.7 35.3 33.3-2 9-2 2.9-2.1 .7-51.8 9.8-2 .3-2.1-.7z"/><path class="c12 l" d="M509.3 798.4l-8.2 1.5"/><path class="c12 l" d="M501.1 799.9l-8.3 1.6"/><path class="c12 l" d="M492.8 801.5l-8.3 1.5"/><path class="c12 l" d="M484.5 803l-8.3 1.6"/><path class="c12 l" d="M476.2 804.6l-8.3 1.6"/><path class="c12 l" d="M467.9 806.2l-8.3 1.5"/><path class="c12 l" d="M459.6 807.7l-8.2 1.6"/><path class="c0" d="M479.8 844.4l.7 4 2.1 5.3-35.4-43.6-2.8 .5z"/><path fill="#6a5fde" stroke="#6a5fde" d="M478.4 834.5l1.4 9.9-35.4-33.8-1.3 .2z"/><path class="c12 l" d="M451.4 809.3l-7 1.3"/><path fill="#8fa2fe" stroke="#8fa2fe" d="M476.4 812.7l2 21.8-35.3-23.7-2.1 .4z"/><path fill="#7cc3f1" stroke="#7cc3f1" d="M474.3 787.6l2.1 25.1-35.4-1.5-2.1 .4z"/><path fill="#47ccc4" stroke="#47ccc4" d="M472.2 761.9l2.1 25.7-35.4 24-2 .4z"/><path fill="#83d78c" stroke="#83d78c" d="M470.2 736.2l2 25.7-35.3 50.1-2.1 .4z"/><path class="c50" d="M468.1 711.7l2.1 24.5-35.4 76.2-2.1 .4z"/><path class="c56" d="M466 691.9l2.1 19.8-35.4 101.1-2.1 .4z"/><path class="c12 l" d="M441 811.2l-8.3 1.6"/><path class="c58" d="M465.3 687.2l.7 4.7-35.4 121.3-.6 .1z"/><path class="c60" d="M464 680.8l1.3 6.4-35.3 126.1-1.4 .3z"/><path class="c12 l" d="M432.7 812.8l-4.1 .8"/><path class="c62" d="M418.4 685.9l2.1-1.2 2-.5 37.3-7 2.1 .2 2.1 3.4-35.4 132.8-45.6 8.6z"/><path class="c12 l" d="M428.6 813.6l-8.3 1.5"/><path class="c12 l" d="M420.3 815.1l-8.3 1.6"/><path class="c12 l" d="M412 816.7l-8.3 1.6"/><path class="c12 l" d="M403.7 818.3l-8.3 1.5"/><path class="c12 l" d="M395.4 819.8l-8.2 1.6"/><path class="c60" d="M416.3 691l2.1-5.1-35.4 136.3-2.1 .4z"/><path class="c58" d="M415.2 697.4l1.1-6.4-35.4 131.6-1.1 .2z"/><path class="c56" d="M378.9 823l.9-.2 35.4-125.4-1 7.3z"/><path class="c48" d="M376.8 823.3l2.1-.3 35.3-118.3-2 22.6z"/><path class="c12 l" d="M387.2 821.4l-8.3 1.6"/><path fill="#6ed69d" stroke="#6ed69d" d="M374.7 823.7l2.1-.4 35.4-96-2.1 27.1z"/><path fill="#39c3da" stroke="#39c3da" d="M372.7 824.1l2-.4 35.4-69.3-2.1 28.1z"/><path fill="#81b7fa" stroke="#81b7fa" d="M370.6 824.5l2.1-.4 35.3-41.6-2 28z"/><path class="c12 l" d="M378.9 823l-6.2 1.1"/><path fill="#9194f6" stroke="#9194f6" d="M368.5 824.9l2.1-.4 35.4-14-2.1 26.1z"/><path fill="#6858cc" stroke="#6858cc" d="M366.2 825.3l2.3-.4 35.4 11.7-2.3 22z"/><path class="c12 l" d="M368.5 824.9l-2.3 .4"/><path class="c0" d="M331.2 831.9l35-6.6 35.4 33.3-1.9 8.7-2 3.4-2.1 .8-24.8 4.7-2.1 .1-2.1-1.7z"/><path class="c12 l" d="M366.2 825.3l-8 1.6"/><path class="c12 l" d="M358.2 826.9l-8.3 1.5"/><path class="c12 l" d="M349.9 828.4l-8.3 1.6"/><path class="c12 l" d="M341.6 830l-8.3 1.5"/><path class="c2" d="M364.4 866.1l2.2 8.5-35.4-42.7-2.2 .4z"/><path fill="#6c70f3" stroke="#6c70f3" d="M362.5 849.8l1.9 16.3-35.4-33.8-1.9 .4z"/><path class="c12 l" d="M333.3 831.5l-4.3 .8"/><path fill="#84b0fd" stroke="#84b0fd" d="M360.4 826.1l2.1 23.7-35.4-17.1-2.1 .4z"/><path fill="#75ceea" stroke="#75ceea" d="M358.3 800.3l2.1 25.8-35.4 7-2 .4z"/><path fill="#56cfb9" stroke="#56cfb9" d="M356.3 774.1l2 26.2-35.3 33.2-2.1 .4z"/><path fill="#b1d468" stroke="#b1d468" d="M354.2 748.2l2.1 25.9-35.4 59.8-2.1 .4z"/><path class="c52" d="M352.1 724.8l2.1 23.4-35.4 86.1-2.1 .4z"/><path class="c58" d="M350 708.3l2.1 16.5-35.4 109.9-2 .4z"/><path class="c12 l" d="M325 833.1l-8.3 1.6"/><path class="c12 l" d="M316.7 834.7l-2 .4"/><path class="c62" d="M325.2 705.3l2.1-2.2 2-.6 14.5-2.8 2.1-.2 2.1 1.5 2 7.3-35.3 126.8-24.9 4.6z"/><path class="c12 l" d="M314.7 835.1l-8.3 1.5"/><path class="c12 l" d="M306.4 836.6l-8.3 1.6"/><path class="c58" d="M322.8 715.3l.3-1.8 2.1-8.2-35.4 134.4-2.3 .5z"/><path class="c12 l" d="M298.1 838.2l-8.3 1.5"/><path class="c54" d="M286.4 840.4l1.1-.2 35.3-124.9-1.1 8.8z"/><path class="c50" d="M285 840.7l1.4-.3 35.3-116.3-1.3 14.6z"/><path class="c44" d="M283.6 840.9l1.4-.2 35.4-102-1.4 17z"/><path fill="#6ed69d" stroke="#6ed69d" d="M282.2 841.2l1.4-.3 35.4-85.2-1.4 18.1z"/><path fill="#34c8cf" stroke="#34c8cf" d="M280.8 841.4l1.4-.2 35.4-67.4-1.4 18.4z"/><path class="c12 l" d="M289.8 839.7l-7.6 1.5"/><path fill="#79c9ee" stroke="#79c9ee" d="M279.5 841.7l1.3-.3 35.4-49.2-1.4 18.5z"/><path fill="#81b7fa" stroke="#81b7fa" d="M278.1 842l1.4-.3 35.3-31-1.3 18.2z"/><path class="c12 l" d="M282.2 841.2l-2.7 .5"/><path fill="#8fa2fe" stroke="#8fa2fe" d="M276.7 842.2l1.4-.2 35.4-13.1-1.4 17.7z"/><path fill="#918df0" stroke="#918df0" d="M275.3 842.5l1.4-.3 35.4 4.4-1.4 15.9z"/><path fill="#6858cc" stroke="#6858cc" d="M273.9 842.7l1.4-.2 35.4 20-1.4 12.5z"/><path fill="#6452ba" stroke="#6452ba" d="M273.6 842.8l.3-.1 35.4 32.3-.3 2.5z"/><path class="c12 l" d="M275.3 842.5l-1.7 .3"/><path class="c0" d="M258.8 845.6l14.8-2.8 35.4 34.7-1.1 5.8-1.3 4.2-1.4 1.8-1.4 .7-1.4 .3-4.1 .7-1.4 0-1.4-1-1.4-3.2z"/><path class="c12 l" d="M273.6 842.8l-7.9 1.5"/><path class="c2" d="M292.7 879.8l1.4 7-35.3-41.2-1.4 .3z"/><path fill="#6c67ea" stroke="#6c67ea" d="M291.4 868.2l1.3 11.6-35.3-33.9-1.4 .2z"/><path class="c12 l" d="M265.7 844.3l-8.3 1.6"/><path fill="#919bfb" stroke="#919bfb" d="M290 852.8l1.4 15.4-35.4-22.1-1.4 .3z"/><path fill="#81b7fa" stroke="#81b7fa" d="M288.6 835.5l1.4 17.3-35.4-6.4-1.4 .2z"/><path fill="#79c9ee" stroke="#79c9ee" d="M287.2 817.5l1.4 18-35.4 11.1-1.4 .3z"/><path fill="#34c8cf" stroke="#34c8cf" d="M285.8 799.3l1.4 18.2-35.4 29.4-1.3 .3z"/><path fill="#5fd3ac" stroke="#5fd3ac" d="M284.5 781.2l1.3 18.1-35.3 47.9-1.4 .2z"/><path fill="#b1d468" stroke="#b1d468" d="M283.1 763.2l1.4 18-35.4 66.2-1.4 .3z"/><path fill="#ebc957" stroke="#ebc957" d="M281.7 745.8l1.4 17.4-35.4 84.5-1.4 .3z"/><path class="c56" d="M280.3 730.3l1.4 15.5-35.4 102.2-1.4 .2z"/><path class="c60" d="M278.9 719l1.4 11.3-35.4 117.9-1.3 .3z"/><path class="c12 l" d="M253.2 846.6l-8.3 1.6"/><path class="c12 l" d="M244.9 848.2l-1.3 .3"/><path class="c62" d="M266.5 714.3l1.4-2 1.4-.6 5.5-1.1 1.4 .3 1.4 2 1.3 6.1-35.3 129.5-12.5 2.3z"/><path class="c12 l" d="M243.6 848.5l-8.3 1.5"/><path class="c60" d="M265.1 720.1l1.4-5.8-35.4 136.5-1.3 .3z"/><path class="c56" d="M228.4 851.3l1.4-.2 35.3-131-1.3 11.1z"/><path class="c52" d="M227 851.6l1.4-.3 35.4-120.1-1.4 15z"/><path class="c46" d="M225.6 851.9l1.4-.3 35.4-105.4-1.4 16.3z"/><path class="c12 l" d="M235.3 850l-8.3 1.6"/><path class="c40" d="M224.2 852.1l1.4-.2 35.4-89.4-1.4 16.5z"/><path fill="#56cfb9" stroke="#56cfb9" d="M222.9 852.4l1.3-.3 35.4-73.1-1.4 16.5z"/><path fill="#39c3da" stroke="#39c3da" d="M221.5 852.6l1.4-.2 35.3-56.9-1.3 16.5z"/><path fill="#7cc3f1" stroke="#7cc3f1" d="M220.1 852.9l1.4-.3 35.4-40.6-1.4 16.6z"/><path fill="#84b0fd" stroke="#84b0fd" d="M218.7 853.2l1.4-.3 35.4-24.3-1.4 16.5z"/><path class="c12 l" d="M227 851.6l-6.9 1.3"/><path fill="#919bfb" stroke="#919bfb" d="M217.3 853.4l1.4-.2 35.4-8.1-1.4 16.5z"/><path fill="#8f87e6" stroke="#8f87e6" d="M215.9 853.7l1.4-.3 35.4 8.2-1.4 16.1z"/><path fill="#6452ba" stroke="#6452ba" d="M214.6 853.9l1.3-.2 35.4 24-1.4 12.8z"/><path class="c0" d="M213.2 854.2l1.4-.3 35.3 36.6-.8 3.5-.5-.3z"/><path class="c2" d="M247.2 885.6l1.4 8.1-35.4-39.5-1.4 .3z"/><path fill="#6c67ea" stroke="#6c67ea" d="M245.8 872.7l1.4 12.9-35.4-31.1-1.4 .2z"/><path class="c12 l" d="M215.9 853.7l-4.1 .8"/><path fill="#8fa2fe" stroke="#8fa2fe" d="M244.4 859.3l1.4 13.4-35.4-18-1.4 .3z"/><path fill="#84b0fd" stroke="#84b0fd" d="M243 845.8l1.4 13.5-35.4-4.3-1.3 .2z"/><path fill="#51afec" stroke="#51afec" d="M241.7 832.3l1.3 13.5-35.3 9.4-1.4 .3z"/><path fill="#46bee2" stroke="#46bee2" d="M240.3 818.8l1.4 13.5-35.4 23.2-1.4 .3z"/><path fill="#47ccc4" stroke="#47ccc4" d="M238.9 805.3l1.4 13.5-35.4 37-1.4 .2z"/><path fill="#5fd3ac" stroke="#5fd3ac" d="M237.5 791.9l1.4 13.4-35.4 50.7-1.4 .3z"/><path class="c42" d="M236.1 778.4l1.4 13.5-35.4 64.4-1.3 .2z"/><path class="c46" d="M234.8 764.9l1.3 13.5-35.3 78.1-1.4 .3z"/><path class="c52" d="M233.4 751.4l1.4 13.5-35.4 91.9-1.4 .3z"/><path class="c12 l" d="M207.7 855.2l-8.3 1.6"/><path class="c56" d="M232 738.3l1.4 13.1-35.4 105.7-1.4 .2z"/><path class="c60" d="M230.5 729.9l1.5 8.4-35.4 119-1.5 .3z"/><path class="c58" d="M229.2 734.9l1.3-5-35.4 127.7-1.2 .2z"/><path class="c54" d="M192.5 858.1l1.4-.3 35.3-122.9-1.3 11.4z"/><path class="c50" d="M191.1 858.4l1.4-.3 35.4-111.8-1.4 11.9z"/><path class="c46" d="M189.7 858.6l1.4-.2 35.4-100.2-1.4 11.9z"/><path class="c12 l" d="M199.4 856.8l-8.3 1.6"/><path class="c40" d="M188.3 858.9l1.4-.3 35.4-88.5-1.4 11.8z"/><path class="c36" d="M187 859.1l1.3-.2 35.4-77-1.4 11.9z"/><path class="c32" d="M185.6 859.4l1.4-.3 35.3-65.3-1.3 11.8z"/><path class="c28" d="M184.2 859.7l1.4-.3 35.4-53.8-1.4 11.9z"/><path fill="#4cb7e8" stroke="#4cb7e8" d="M182.8 859.9l1.4-.2 35.4-42.2-1.4 11.8z"/><path fill="#55a7f2" stroke="#55a7f2" d="M181.4 860.2l1.4-.3 35.4-30.6-1.4 11.9z"/><path class="c12 l" d="M191.1 858.4l-8.3 1.5"/><path fill="#5b96fd" stroke="#5b96fd" d="M180.1 860.4l1.3-.2 35.4-19-1.4 11.8z"/><path fill="#6a82fd" stroke="#6a82fd" d="M178.7 860.7l1.4-.3 35.3-7.4-1.4 11.9z"/><path fill="#6c70f3" stroke="#6c70f3" d="M177.3 861l1.4-.3 35.3 4.2-1.3 11.6z"/><path fill="#6c67ea" stroke="#6c67ea" d="M176.6 861.1l.7-.1 35.4 15.5-.8 4.5z"/><path class="c6" d="M173.1 861.8l3.5-.7 35.3 19.9-.6 1-2.8-2.8z"/><path class="c8" d="M171.8 862l1.3-.2 35.4 17.4-1.4-1.6z"/><path class="c8" d="M204.4 874.6l2.7 3-35.3-15.6-2.8 .5z"/><path class="c10" d="M202.5 872.6l1.9 2-35.4-12.1-1.9 .4z"/><path class="c10" d="M158.8 863l6.1 0 2.2-.1 35.4 9.7-8.3-.8z"/><path class="c10" d="M193.3 871.2l.9 .6-35.4-8.8-.8-.1z"/><path class="c12" d="M189.7 866.3l1.2 2.8 2.4 2.1-35.3-8.3-3.1-2.4-.5-.9z"/><path class="c14" d="M188.9 862.3l.3 2.5 .5 1.5-35.3-6.7-.9-2.1z"/><path class="c16" d="M188.4 857.2l.5 5.1-35.4-4.8-.5-1.6z"/><path fill="#579ff9" stroke="#579ff9" d="M188.1 852.1l.3 5.1-35.4-1.3-.3-2.3z"/><path fill="#55a7f2" stroke="#55a7f2" d="M187.8 846.9l.3 5.2-35.4 1.5-.3-2.6z"/><path fill="#51afec" stroke="#51afec" d="M187.5 841.8l.3 5.1-35.4 4.1-.2-2.6z"/><path fill="#4cb7e8" stroke="#4cb7e8" d="M187 834.9l.5 6.9-35.3 6.6-.6-11z"/><path class="c12 l" d="M152.4 851l-.2-2.6"/><path fill="#46bee2" stroke="#46bee2" d="M186.7 831.5l.3 3.4-35.4 2.5-.3-5.5z"/><path class="c26" d="M185.9 827.8l.8 3.7-35.4 .4-.8-10.9z"/><path class="c28" d="M185.1 827.9l.8-.1-35.4-6.8-.8-4.3z"/></g>
<g class="q"><path class="c10" d="M555.1 705.9l2-24 1.7-13.8 .4-2.8 2.1-7.4 2.1-2 2-.5 33.9-6.4 35.3 159-44.1 8.3z"/><path class="c60 l" d="M599.3 649l-6.9 1.3"/><path class="c60 l" d="M592.4 650.3l-8.3 1.5"/><path class="c60 l" d="M584.1 651.8l-8.3 1.6"/><path class="c60 l" d="M575.8 653.4l-8.3 1.6"/><path class="c60 l" d="M567.5 655l-4.1 .9-2.1 2-2.1 7.4"/><path class="c60 l" d="M559.2 665.3l-2.1 16.6"/><path class="c52 l" d="M557.1 681.9l-2 24"/><path fill="#6c79f9" stroke="#6c79f9" d="M550.9 760l4.2-54.1 35.4 110.4-4.2 .8z"/><path class="c44 l" d="M555.1 705.9l-2.1 26.8"/><path class="c36 l" d="M553 732.7l-2.1 27.3"/><path fill="#919bfb" stroke="#919bfb" d="M546.8 812.2l4.1-52.2 35.4 57.1-4.1 .8z"/><path class="c28 l" d="M550.9 760l-2 27.1"/><path fill="#6c79f9" stroke="#6c79f9" d="M544.6 831.7l2.2-19.5 35.4 5.7-2.2 .4z"/><path class="c20 l" d="M548.9 787.1l-2.1 25.1"/><path class="c10" d="M540.6 843.6l2-2.9 2-9 35.4-13.4-4 .7z"/><path class="c10" d="M515.9 830.4l60.1-11.4-35.4 24.6-2.1 .7-53.8 10.1-2.1-.7-2.1-5.3z"/><path fill="#6c79f9" stroke="#6c79f9" d="M513.8 830.7l2.1-.3-35.4 18-.7-4-1.4-9.9z"/><path fill="#919bfb" stroke="#919bfb" d="M511.8 831.1l2-.4-35.4 3.8-2-21.8z"/><path fill="#6c79f9" stroke="#6c79f9" d="M509.7 831.5l2.1-.4-35.4-18.4-2.1-25.1z"/><path class="c10" d="M501.4 833.1l8.3-1.6-35.4-43.9-6.2-75.9-2.1-19.8z"/><path class="c20 l" d="M474.3 787.6l-2.1-25.7"/><path class="c36 l" d="M472.2 761.9l-2-25.7"/><path class="c44 l" d="M470.2 736.2l-2.1-24.5"/><path class="c52 l" d="M468.1 711.7l-2.1-19.8"/><path class="c10" d="M412.2 727.3l2-22.6 1-7.3 1.1-6.4 2.1-5.1 2.1-1.2 2-.5 37.3-7 2.1 .2 2.1 3.4 1.3 6.4 .7 4.7 35.4 141.2-53.8 10.1z"/><path class="c60 l" d="M466 691.9l-.7-4.7-1.3-6.4-2.1-3.4-2.1-.2-2.1 .3"/><path class="c60 l" d="M457.7 677.5l-8.2 1.6"/><path class="c60 l" d="M449.5 679.1l-8.3 1.6"/><path class="c60 l" d="M441.2 680.7l-8.3 1.5"/><path class="c60 l" d="M432.9 682.2l-8.3 1.6"/><path class="c60 l" d="M424.6 683.8l-4.1 .9-2.1 1.2-2.1 5.1"/><path class="c60 l" d="M416.3 691l-1.1 6.4-1 7.3-2 22.6"/><path fill="#6c79f9" stroke="#6c79f9" d="M408 782.5l4.2-55.2 35.4 115.9-4.2 .8z"/><path class="c52 l" d="M412.2 727.3l-2.1 27.1"/><path class="c36 l" d="M410.1 754.4l-2.1 28.1"/><path fill="#919bfb" stroke="#919bfb" d="M403.9 836.6l4.1-54.1 35.4 61.5-4.1 .8z"/><path class="c28 l" d="M408 782.5l-2 28"/><path fill="#6c79f9" stroke="#6c79f9" d="M401.6 858.6l2.3-22 35.4 8.2-2.3 .4z"/><path class="c20 l" d="M406 810.5l-2.1 26.1"/><path class="c10" d="M397.7 870.7l2-3.4 1.9-8.7 35.4-13.4-3.9 .8z"/><path class="c10" d="M399.8 852.3l33.3-6.3-35.4 24.7-2.1 .8-24.8 4.7-2.1 .1-2.1-1.7-2.2-8.5z"/><path fill="#6c79f9" stroke="#6c79f9" d="M393.7 853.4l6.1-1.1-35.4 13.8-1.9-16.3-4.2-49.5z"/><path class="c20 l" d="M360.4 826.1l-2.1-25.8"/><path class="c10" d="M385.7 854.9l8-1.5-35.4-53.1-4.1-52.1-2.1-23.4-1.8-15z"/><path class="c28 l" d="M358.3 800.3l-2-26.2"/><path class="c36 l" d="M356.3 774.1l-2.1-25.9"/><path class="c44 l" d="M354.2 748.2l-2.1-23.4"/><path class="c52 l" d="M352.1 724.8l-1.8-15"/><path class="c10" d="M319 755.7l2.7-31.6 1.4-10.6 2.1-8.2 2.1-2.2 2-.6 14.5-2.8 2.1-.2 2.1 1.5 2 7.3 .3 1.5 35.4 145.1-31.3 5.9z"/><path class="c60 l" d="M350.3 709.8l-.3-1.5-2-7.3-2.1-1.5-2.1 .2"/><path class="c60 l" d="M343.8 699.7l-8.3 1.6"/><path class="c60 l" d="M335.5 701.3l-6.2 1.2-2 .6"/><path class="c60 l" d="M327.3 703.1l-2.1 2.2-2.1 8.2-1.4 10.6"/><path fill="#6c79f9" stroke="#6c79f9" d="M316.2 792.2l2.8-36.5 35.4 105.1-2.8 .5z"/><path class="c52 l" d="M321.7 724.1l-2.7 31.6"/><path class="c44 l" d="M319 755.7l-1.4 18.1"/><path class="c36 l" d="M317.6 773.8l-1.4 18.4"/><path fill="#919bfb" stroke="#919bfb" d="M310.7 862.5l1.4-15.9 4.1-54.4 35.4 69.1-5.5 1.1z"/><path class="c28 l" d="M316.2 792.2l-2.7 36.7"/><path class="c20 l" d="M313.5 828.9l-1.4 17.7"/><path fill="#6c79f9" stroke="#6c79f9" d="M309 877.5l1.7-15 35.4-.1-1.7 .3z"/><path class="c10" d="M305.2 889.3l1.4-1.8 1.3-4.2 1.1-5.8 35.4-14.8-3.8 .7z"/><path class="c10" d="M328.1 865.8l12.5-2.4-35.4 25.9-1.4 .7-5.5 1-1.4 0-1.4-1-1.4-3.2-1.4-7z"/><path fill="#6c79f9" stroke="#6c79f9" d="M326.7 866l1.4-.2-35.4 14-1.3-11.6z"/><path fill="#919bfb" stroke="#919bfb" d="M324 866.6l2.7-.6-35.3 2.2-2.8-32.7z"/><path fill="#6c79f9" stroke="#6c79f9" d="M321.2 867.1l2.8-.5-35.4-31.1-2.8-36.2z"/><path class="c20 l" d="M288.6 835.5l-1.4-18"/><path class="c28 l" d="M287.2 817.5l-1.4-18.2"/><path class="c10" d="M315.7 868.1l5.5-1-35.4-67.8-4.1-53.5-1.4-15.5z"/><path class="c28 l" d="M285.8 799.3l-1.3-18.1"/><path class="c36 l" d="M284.5 781.2l-1.4-18"/><path class="c44 l" d="M283.1 763.2l-1.4-17.4"/><path class="c52 l" d="M281.7 745.8l-1.4-15.5"/><path class="c10" d="M261 762.5l2.8-31.3 1.3-11.1 1.4-5.8 1.4-2 1.4-.6 5.5-1.1 1.4 .3 1.4 2 1.3 6.1 1.4 11.3 35.4 137.8-19.3 3.7z"/><path class="c60 l" d="M280.3 730.3l-1.4-11.3-1.3-6.1-1.4-2-1.4-.3-2.8 .5"/><path class="c60 l" d="M272 711.1l-2.7 .6-1.4 .6-1.4 2-1.4 5.8-1.3 11.1"/><path class="c60 l" d="M263.8 731.2l-1.4 15"/><path class="c52 l" d="M262.4 746.2l-1.4 16.3"/><path fill="#6c79f9" stroke="#6c79f9" d="M255.5 828.6l5.5-66.1 35.4 109.3-5.6 1z"/><path class="c44 l" d="M261 762.5l-2.8 33"/><path class="c36 l" d="M258.2 795.5l-1.3 16.5"/><path class="c28 l" d="M256.9 812l-1.4 16.6"/><path fill="#919bfb" stroke="#919bfb" d="M251.3 877.7l4.2-49.1 35.3 44.2-4.1 .8z"/><path class="c20 l" d="M255.5 828.6l-2.8 33"/><path fill="#6c79f9" stroke="#6c79f9" d="M249.9 890.5l1.4-12.8 35.4-4.1-1.4 .2z"/><path class="c10" d="M249.1 894l.8-3.5 35.4-16.7-.8 .2z"/><path class="c10" d="M283.9 874.1l.6-.1-35.4 20-.5-.3z"/><path fill="#6c79f9" stroke="#6c79f9" d="M282.6 874.4l1.3-.3-35.3 19.6-1.4-8.1z"/><path fill="#919bfb" stroke="#919bfb" d="M281.2 874.6l1.4-.2-35.4 11.2-1.4-12.9z"/><path fill="#6c79f9" stroke="#6c79f9" d="M277 875.4l4.2-.8-35.4-1.9-4.1-40.4z"/><path class="c20 l" d="M243 845.8l-1.3-13.5"/><path class="c10" d="M267.4 877.2l9.6-1.8-35.3-43.1-9.7-94z"/><path class="c20 l" d="M241.7 832.3l-1.4-13.5"/><path class="c28 l" d="M240.3 818.8l-1.4-13.5"/><path class="c36 l" d="M238.9 805.3l-2.8-26.9"/><path class="c44 l" d="M236.1 778.4l-2.7-27"/><path class="c52 l" d="M233.4 751.4l-1.4-13.1"/><path class="c10" d="M221 805.6l8.2-70.7 1.3-5 1.5 8.4 35.4 138.9-11.1 2.1z"/><path class="c60 l" d="M232 738.3l-1.5-8.4-1.3 5-1.3 11.4"/><path class="c52 l" d="M227.9 746.3l-2.8 23.8"/><path class="c44 l" d="M225.1 770.1l-2.8 23.7"/><path class="c36 l" d="M222.3 793.8l-1.3 11.8"/><path fill="#6c79f9" stroke="#6c79f9" d="M211.9 881l.8-4.5 8.3-70.9 35.3 73.7-9 1.7z"/><path class="c36 l" d="M221 805.6l-1.4 11.9"/><path class="c28 l" d="M219.6 817.5l-2.8 23.7"/><path class="c20 l" d="M216.8 841.2l-2.8 23.7"/><path class="c10" d="M211.3 882l.6-1 35.4 0-.6 .1z"/><path class="c10" d="M237.9 882.8l8.8-1.7-35.4 .9-8.8-9.4z"/><path class="c10" d="M194.2 871.8l8.3 .8 35.4 10.2-2.3 .1-6 0z"/><path class="c10" d="M228.7 882.8l.9 .1-35.4-11.1-.9-.6z"/><path class="c12" d="M224.6 878.1l.8 2 3.3 2.7-35.4-11.6-2.4-2.1-1.7-4.3z"/><path class="c14" d="M223.5 873.5l.2 2.4 .9 2.2-35.4-13.3-.8-7.6-.3-5.1z"/><path class="c16" d="M222.9 868.3l.6 5.2-35.4-21.4-.6-10.3z"/><path class="c18" d="M222.6 862.8l.3 5.5-35.4-26.5-.2-3.4z"/><path class="c20" d="M222.4 857.3l.2 5.5-35.3-24.4-.3-3.5z"/><path class="c22" d="M222.1 851.9l.3 5.4-35.4-22.4-.3-3.4z"/><path class="c24" d="M221.8 848.2l.3 3.7-35.4-20.4-.3-1.3z"/><path class="c26" d="M221 839.4l.3 1.5 .5 7.3-35.4-18-.5-2.4-.3 0z"/><path class="c28" d="M220.4 836.6l.6 2.8-35.4-11.6-.5 .1z"/></g>
<g class="q"><path class="c62" d="M632 680.5l2.1-2 2.1-.5 33.8-6.5-35.4 136.5-37.9 7.1z"/><path class="c12 l" d="M634.6 808l-6.9 1.3"/><path class="c12 l" d="M627.7 809.3l-8.3 1.5"/><path class="c12 l" d="M619.4 810.8l-8.2 1.6"/><path class="c12 l" d="M611.2 812.4l-8.3 1.6"/><path class="c60" d="M630 687.9l2-7.4-35.3 134.6-2.1 .4z"/><path class="c58" d="M629.5 690.6l.5-2.7-35.4 127.6-.5 .1z"/><path class="c12 l" d="M602.9 814l-8.3 1.5"/><path class="c54" d="M592.5 815.9l1.6-.3 35.4-125-1.6 13.9z"/><path class="c46" d="M590.5 816.3l2-.4 35.4-111.4-2.1 24z"/><path fill="#5fd3ac" stroke="#5fd3ac" d="M588.4 816.7l2.1-.4 35.3-87.8-2 26.8z"/><path fill="#46bee2" stroke="#46bee2" d="M586.3 817.1l2.1-.4 35.4-61.4-2.1 27.3z"/><path fill="#84b0fd" stroke="#84b0fd" d="M584.2 817.5l2.1-.4 35.4-34.5-2.1 27z"/><path class="c12 l" d="M594.6 815.5l-8.3 1.6"/><path fill="#9194f6" stroke="#9194f6" d="M582.2 817.9l2-.4 35.4-7.9-2.1 25.2z"/><path fill="#6858cc" stroke="#6858cc" d="M580 818.3l2.2-.4 35.3 16.9-2.1 19.5z"/><path class="c12 l" d="M582.2 817.9l-2.2 .4"/><path class="c0" d="M515.9 830.4l64.1-12.1 35.4 36-2 8.9-2.1 3-2 .7-53.9 10.1-2.1-.8-2-5.2z"/><path class="c12 l" d="M580 818.3l-8.2 1.5"/><path class="c12 l" d="M571.8 819.8l-8.3 1.6"/><path class="c12 l" d="M563.5 821.4l-8.3 1.5"/><path class="c12 l" d="M555.2 822.9l-8.2 1.6"/><path class="c12 l" d="M547 824.5l-8.3 1.6"/><path class="c12 l" d="M538.7 826.1l-8.3 1.5"/><path class="c12 l" d="M530.4 827.6l-8.3 1.6"/><path class="c0" d="M550.5 867l.8 4-35.4-40.6-.8 .1z"/><path fill="#6a5fde" stroke="#6a5fde" d="M549.2 857l1.3 10-35.4-36.5-1.3 .2z"/><path class="c12 l" d="M522.1 829.2l-7 1.3"/><path fill="#8fa2fe" stroke="#8fa2fe" d="M547.1 835.3l2.1 21.7-35.4-26.3-2 .4z"/><path fill="#7cc3f1" stroke="#7cc3f1" d="M545.1 810.2l2 25.1-35.3-4.2-2.1 .4z"/><path fill="#47ccc4" stroke="#47ccc4" d="M543 784.4l2.1 25.8-35.4 21.3-2.1 .4z"/><path fill="#83d78c" stroke="#83d78c" d="M540.9 758.8l2.1 25.6-35.4 47.5-2.1 .4z"/><path fill="#ebc957" stroke="#ebc957" d="M538.8 734.3l2.1 24.5-35.4 73.5-2 .4z"/><path class="c56" d="M536.8 714.4l2 19.9-35.3 98.4-2.1 .4z"/><path class="c12 l" d="M511.8 831.1l-8.3 1.6"/><path class="c58" d="M536.1 709.7l.7 4.7-35.4 118.7-.7 .1z"/><path class="c60" d="M534.7 703.4l1.4 6.3-35.4 123.5-1.4 .3z"/><path class="c12 l" d="M503.5 832.7l-4.2 .8"/><path class="c62" d="M489.1 708.5l2.1-1.3 2.1-.4 37.3-7.1 2 .3 2.1 3.4-35.4 130.1-45.5 8.6z"/><path class="c12 l" d="M499.3 833.5l-8.3 1.5"/><path class="c12 l" d="M491 835l-8.2 1.6"/><path class="c12 l" d="M482.8 836.6l-8.3 1.6"/><path class="c12 l" d="M474.5 838.2l-8.3 1.5"/><path class="c12 l" d="M466.2 839.7l-8.3 1.6"/><path class="c60" d="M487.1 713.6l2-5.1-35.3 133.6-2.1 .4z"/><path class="c58" d="M485.9 720l1.2-6.4-35.4 128.9-1.2 .2z"/><path class="c56" d="M449.6 842.9l.9-.2 35.4-122.7-.9 7.3z"/><path class="c48" d="M447.6 843.2l2-.3 35.4-115.6-2.1 22.6z"/><path class="c12 l" d="M457.9 841.3l-8.3 1.6"/><path fill="#6ed69d" stroke="#6ed69d" d="M445.5 843.6l2.1-.4 35.3-93.3-2 27.1z"/><path fill="#39c3da" stroke="#39c3da" d="M443.4 844l2.1-.4 35.4-66.6-2.1 28.1z"/><path fill="#81b7fa" stroke="#81b7fa" d="M441.3 844.4l2.1-.4 35.4-38.9-2.1 27.9z"/><path class="c12 l" d="M449.6 842.9l-6.2 1.1"/><path fill="#9194f6" stroke="#9194f6" d="M439.3 844.8l2-.4 35.4-11.4-2.1 26.2z"/><path fill="#6858cc" stroke="#6858cc" d="M437 845.2l2.3-.4 35.3 14.4-2.3 21.9z"/><path class="c12 l" d="M439.3 844.8l-2.3 .4"/><path class="c0" d="M402 851.8l35-6.6 35.3 35.9-1.8 8.8-2.1 3.3-2 .8-24.9 4.8-2.1 .1-2-1.7z"/><path class="c12 l" d="M437 845.2l-8.1 1.6"/><path class="c12 l" d="M428.9 846.8l-8.3 1.5"/><path class="c12 l" d="M420.6 848.3l-8.3 1.6"/><path class="c12 l" d="M412.3 849.9l-8.2 1.5"/><path class="c2" d="M435.2 888.7l2.2 8.5-35.4-45.4-2.2 .5z"/><path fill="#6c70f3" stroke="#6c70f3" d="M433.2 872.4l2 16.3-35.4-36.4-2 .3z"/><path class="c12 l" d="M404.1 851.4l-4.3 .9"/><path fill="#84b0fd" stroke="#84b0fd" d="M431.2 848.7l2 23.7-35.4-19.8-2 .4z"/><path fill="#75ceea" stroke="#75ceea" d="M429.1 822.8l2.1 25.9-35.4 4.3-2.1 .4z"/><path fill="#56cfb9" stroke="#56cfb9" d="M427 796.6l2.1 26.2-35.4 30.6-2.1 .4z"/><path fill="#b1d468" stroke="#b1d468" d="M424.9 770.8l2.1 25.8-35.4 57.2-2 .4z"/><path class="c52" d="M422.9 747.4l2 23.4-35.3 83.4-2.1 .4z"/><path class="c58" d="M420.8 730.9l2.1 16.5-35.4 107.2-2.1 .4z"/><path class="c12 l" d="M395.8 853l-8.3 1.6"/><path class="c12 l" d="M387.5 854.6l-2.1 .4"/><path class="c62" d="M395.9 727.9l2.1-2.3 2.1-.5 14.5-2.8 2.1-.2 2 1.5 2.1 7.3-35.4 124.1-24.8 4.7z"/><path class="c12 l" d="M385.4 855l-8.3 1.5"/><path class="c12 l" d="M377.1 856.5l-8.2 1.6"/><path class="c58" d="M393.6 737.8l.3-1.8 2-8.1-35.3 131.8-2.4 .4z"/><path class="c12 l" d="M368.9 858.1l-8.3 1.6"/><path class="c54" d="M357.1 860.3l1.1-.2 35.4-122.3-1.1 8.9z"/><path class="c50" d="M355.7 860.6l1.4-.3 35.4-113.6-1.4 14.6z"/><path class="c44" d="M354.4 860.8l1.3-.2 35.4-99.3-1.4 17z"/><path fill="#6ed69d" stroke="#6ed69d" d="M353 861.1l1.4-.3 35.3-82.5-1.3 18.1z"/><path fill="#34c8cf" stroke="#34c8cf" d="M351.6 861.3l1.4-.2 35.4-64.7-1.4 18.4z"/><path class="c12 l" d="M360.6 859.7l-7.6 1.4"/><path fill="#79c9ee" stroke="#79c9ee" d="M350.2 861.6l1.4-.3 35.4-46.5-1.4 18.4z"/><path fill="#81b7fa" stroke="#81b7fa" d="M348.8 861.9l1.4-.3 35.4-28.4-1.4 18.3z"/><path class="c12 l" d="M353 861.1l-2.8 .5"/><path fill="#8fa2fe" stroke="#8fa2fe" d="M347.5 862.1l1.3-.2 35.4-10.4-1.4 17.7z"/><path fill="#918df0" stroke="#918df0" d="M346.1 862.4l1.4-.3 35.3 7.1-1.3 15.8z"/><path fill="#6858cc" stroke="#6858cc" d="M344.7 862.6l1.4-.2 35.4 22.6-1.4 12.6z"/><path fill="#6452ba" stroke="#6452ba" d="M344.4 862.7l.3-.1 35.4 35-.4 2.4z"/><path class="c12 l" d="M346.1 862.4l-1.7 .3"/><path class="c0" d="M329.5 865.5l14.9-2.8 35.3 37.3-1 5.8-1.4 4.3-1.4 1.8-1.4 .6-1.3 .4-4.2 .7-1.4-.1-1.3-.9-1.4-3.2z"/><path class="c12 l" d="M344.4 862.7l-8 1.5"/><path class="c2" d="M363.5 902.4l1.4 7-35.4-43.9-1.4 .3z"/><path fill="#6c67ea" stroke="#6c67ea" d="M362.1 890.8l1.4 11.6-35.4-36.6-1.4 .2z"/><path class="c12 l" d="M336.4 864.2l-8.3 1.6"/><path fill="#919bfb" stroke="#919bfb" d="M360.7 875.4l1.4 15.4-35.4-24.8-1.3 .3z"/><path fill="#81b7fa" stroke="#81b7fa" d="M359.4 858.1l1.3 17.3-35.3-9.1-1.4 .3z"/><path fill="#79c9ee" stroke="#79c9ee" d="M358 840.1l1.4 18-35.4 8.5-1.4 .2z"/><path fill="#67d6db" stroke="#67d6db" d="M356.6 821.9l1.4 18.2-35.4 26.7-1.4 .3z"/><path fill="#5fd3ac" stroke="#5fd3ac" d="M355.2 803.8l1.4 18.1-35.4 45.2-1.4 .2z"/><path fill="#b1d468" stroke="#b1d468" d="M353.8 785.7l1.4 18.1-35.4 63.5-1.3 .3z"/><path fill="#ebc957" stroke="#ebc957" d="M352.5 768.3l1.3 17.4-35.3 81.9-1.4 .3z"/><path class="c56" d="M351.1 752.9l1.4 15.4-35.4 99.6-1.4 .2z"/><path class="c60" d="M349.7 741.6l1.4 11.3-35.4 115.2-1.4 .3z"/><path class="c12 l" d="M324 866.6l-8.3 1.5"/><path class="c12 l" d="M315.7 868.1l-1.4 .3"/><path class="c62" d="M337.3 736.9l1.4-2.1 1.3-.5 5.6-1.1 1.3 .3 1.4 2 1.4 6.1-35.4 126.8-12.4 2.3z"/><path class="c12 l" d="M314.3 868.4l-8.3 1.5"/><path class="c60" d="M335.9 742.6l1.4-5.7-35.4 133.8-1.4 .3z"/><path class="c56" d="M299.1 871.2l1.4-.2 35.4-128.4-1.4 11.2z"/><path class="c52" d="M297.8 871.5l1.3-.3 35.4-117.4-1.4 14.9z"/><path class="c46" d="M296.4 871.8l1.4-.3 35.3-102.8-1.4 16.4z"/><path class="c12 l" d="M306 869.9l-8.2 1.6"/><path class="c40" d="M295 872l1.4-.2 35.3-86.7-1.3 16.5z"/><path fill="#56cfb9" stroke="#56cfb9" d="M293.6 872.3l1.4-.3 35.4-70.4-1.4 16.5z"/><path fill="#39c3da" stroke="#39c3da" d="M292.2 872.5l1.4-.2 35.4-54.2-1.4 16.5z"/><path fill="#7cc3f1" stroke="#7cc3f1" d="M290.8 872.8l1.4-.3 35.4-37.9-1.4 16.6z"/><path fill="#84b0fd" stroke="#84b0fd" d="M289.5 873.1l1.3-.3 35.4-21.6-1.4 16.5z"/><path class="c12 l" d="M297.8 871.5l-7 1.3"/><path fill="#919bfb" stroke="#919bfb" d="M288.1 873.3l1.4-.2 35.3-5.4-1.3 16.5z"/><path fill="#8f87e6" stroke="#8f87e6" d="M286.7 873.6l1.4-.3 35.4 10.9-1.4 16.1z"/><path fill="#6452ba" stroke="#6452ba" d="M285.3 873.8l1.4-.2 35.4 26.7-1.4 12.8z"/><path class="c0" d="M283.9 874.1l1.4-.3 35.4 39.3-.9 3.5-.5-.3z"/><path class="c2" d="M317.9 908.2l1.4 8.1-35.4-42.2-1.3 .3z"/><path fill="#6c67ea" stroke="#6c67ea" d="M316.6 895.3l1.3 12.9-35.3-33.8-1.4 .2z"/><path class="c12 l" d="M286.7 873.6l-4.1 .8"/><path fill="#8fa2fe" stroke="#8fa2fe" d="M315.2 881.8l1.4 13.5-35.4-20.7-1.4 .3z"/><path fill="#84b0fd" stroke="#84b0fd" d="M313.8 868.4l1.4 13.4-35.4-6.9-1.4 .2z"/><path fill="#7cc3f1" stroke="#7cc3f1" d="M312.4 854.9l1.4 13.5-35.4 6.7-1.4 .3z"/><path fill="#46bee2" stroke="#46bee2" d="M311 841.4l1.4 13.5-35.4 20.5-1.3 .3z"/><path fill="#47ccc4" stroke="#47ccc4" d="M309.7 827.9l1.3 13.5-35.3 34.3-1.4 .2z"/><path fill="#5fd3ac" stroke="#5fd3ac" d="M308.3 814.4l1.4 13.5-35.4 48-1.4 .3z"/><path fill="#9ad67a" stroke="#9ad67a" d="M306.9 800.9l1.4 13.5-35.4 61.8-1.4 .2z"/><path class="c46" d="M305.5 787.5l1.4 13.4-35.4 75.5-1.4 .3z"/><path class="c52" d="M304.1 774l1.4 13.5-35.4 89.2-1.3 .3z"/><path class="c12 l" d="M278.4 875.1l-8.3 1.6"/><path class="c56" d="M302.8 760.8l1.3 13.2-35.3 103-1.4 .2z"/><path class="c60" d="M301.3 752.5l1.5 8.3-35.4 116.4-1.5 .3z"/><path class="c58" d="M300 757.5l1.3-5-35.4 125-1.3 .3z"/><path class="c54" d="M263.2 878l1.4-.2 35.4-120.3-1.4 11.4z"/><path class="c50" d="M261.9 878.3l1.3-.3 35.4-109.1-1.4 11.9z"/><path class="c46" d="M260.5 878.5l1.4-.2 35.3-97.5-1.3 11.8z"/><path class="c12 l" d="M270.1 876.7l-8.2 1.6"/><path class="c40" d="M259.1 878.8l1.4-.3 35.4-85.9-1.4 11.9z"/><path class="c36" d="M257.7 879.1l1.4-.3 35.4-74.3-1.4 11.8z"/><path class="c32" d="M256.3 879.3l1.4-.2 35.4-62.8-1.4 11.9z"/><path class="c28" d="M255 879.6l1.3-.3 35.4-51.1-1.4 11.8z"/><path fill="#4cb7e8" stroke="#4cb7e8" d="M253.6 879.8l1.4-.2 35.3-39.6-1.4 11.9z"/><path fill="#55a7f2" stroke="#55a7f2" d="M252.2 880.1l1.4-.3 35.3-27.9-1.3 11.9z"/><path class="c12 l" d="M261.9 878.3l-8.3 1.5"/><path fill="#5b96fd" stroke="#5b96fd" d="M250.8 880.4l1.4-.3 35.4-16.3-1.4 11.8z"/><path fill="#6a82fd" stroke="#6a82fd" d="M249.4 880.6l1.4-.2 35.4-4.8-1.4 11.9z"/><path fill="#6c70f3" stroke="#6c70f3" d="M248 880.9l1.4-.3 35.4 6.9-1.4 11.6z"/><path fill="#6c67ea" stroke="#6c67ea" d="M247.3 881l.7-.1 35.4 18.2-.7 4.4z"/><path class="c6" d="M243.9 881.7l3.4-.7 35.4 22.5-.7 1.1-2.7-2.9z"/><path class="c8" d="M241.1 882.2l2.8-.5 35.4 20-2.8-3z"/><path class="c8" d="M275.1 897.2l1.4 1.5-35.4-16.5-1.3 .2z"/><path class="c10" d="M273.8 895.6l1.3 1.6-35.3-14.8-1.4 .3z"/><path class="c10" d="M229.6 882.9l7.4 0 1.4-.2 35.4 12.9-.5-.4-.9-.2-7.4-.6z"/><path class="c10" d="M264.1 893.7l.9 .7-35.4-11.5-.9-.1z"/><path class="c12" d="M260.5 888.9l1.1 2.8 2.5 2-35.4-10.9-3-2.4-.6-.9z"/><path class="c14" d="M259.7 884.9l.3 2.5 .5 1.5-35.4-9.4-.8-2.1z"/><path class="c16" d="M259.1 879.7l.6 5.2-35.4-7.5-.6-1.5z"/><path fill="#579ff9" stroke="#579ff9" d="M258.8 874.6l.3 5.1-35.4-3.8-.2-2.4z"/><path fill="#55a7f2" stroke="#55a7f2" d="M258.6 869.5l.2 5.1-35.3-1.1-.3-2.6z"/><path fill="#51afec" stroke="#51afec" d="M258.3 864.4l.3 5.1-35.4 1.4-.3-2.6z"/><path fill="#4cb7e8" stroke="#4cb7e8" d="M257.7 857.5l.6 6.9-35.4 3.9-.5-11z"/><path fill="#46bee2" stroke="#46bee2" d="M257.5 854.1l.2 3.4-35.3-.2-.3-5.4z"/><path class="c26" d="M256.6 850.3l.9 3.8-35.4-2.2-.8-11z"/><path class="c28" d="M255.8 850.5l.8-.2-35.3-9.4-.9-4.3z"/></g>
<g class="q"><path class="c10" d="M625.8 728.5l2.1-24 1.6-13.9 .5-2.7 2-7.4 2.1-2 2.1-.5 33.8-6.5 35.4 156.4-44.2 8.3z"/><path class="c60 l" d="M670 671.5l-6.9 1.3"/><path class="c60 l" d="M663.1 672.8l-8.3 1.6"/><path class="c60 l" d="M654.8 674.4l-8.3 1.6"/><path class="c60 l" d="M646.5 676l-8.2 1.6"/><path class="c60 l" d="M638.3 677.6l-4.2 .9-2.1 2-2 7.4"/><path class="c60 l" d="M630 687.9l-2.1 16.6"/><path class="c52 l" d="M627.9 704.5l-2.1 24"/><path fill="#6c79f9" stroke="#6c79f9" d="M621.7 782.6l4.1-54.1 35.4 107.7-4.1 .8z"/><path class="c44 l" d="M625.8 728.5l-2 26.8"/><path class="c36 l" d="M623.8 755.3l-2.1 27.3"/><path fill="#919bfb" stroke="#919bfb" d="M617.5 834.8l4.2-52.2 35.4 54.4-4.2 .8z"/><path class="c28 l" d="M621.7 782.6l-2.1 27"/><path fill="#6c79f9" stroke="#6c79f9" d="M615.4 854.3l2.1-19.5 35.4 3-2.1 .4z"/><path class="c20 l" d="M619.6 809.6l-2.1 25.2"/><path class="c10" d="M611.3 866.2l2.1-3 2-8.9 35.4-16.1-4.1 .7z"/><path class="c10" d="M586.7 850.3l60-11.4-35.4 27.3-2 .7-53.9 10.1-2.1-.8-2-5.2z"/><path fill="#6c79f9" stroke="#6c79f9" d="M584.6 850.7l2.1-.4-35.4 20.7-.8-4-1.3-10z"/><path fill="#919bfb" stroke="#919bfb" d="M582.5 851l2.1-.3-35.4 6.3-2.1-21.7z"/><path fill="#6c79f9" stroke="#6c79f9" d="M580.4 851.4l2.1-.4-35.4-15.7-2-25.1z"/><path class="c10" d="M572.2 853l8.2-1.6-35.3-41.2-6.3-75.9-2-19.9z"/><path class="c20 l" d="M545.1 810.2l-2.1-25.8"/><path class="c36 l" d="M543 784.4l-2.1-25.6"/><path class="c44 l" d="M540.9 758.8l-2.1-24.5"/><path class="c52 l" d="M538.8 734.3l-2-19.9"/><path class="c10" d="M511.9 703.2l18.7-3.5 2 .3 2.1 3.4 1.4 6.3 .7 4.7 35.4 138.6-24.9 4.7z"/><path class="c60 l" d="M536.8 714.4l-.7-4.7-1.4-6.3-2.1-3.4-2-.3-2.1 .4"/><path class="c60 l" d="M528.5 700.1l-8.3 1.6"/><path class="c60 l" d="M520.2 701.7l-8.3 1.5"/><path class="c12" d="M482.9 749.9l2.1-22.6 .9-7.3 1.2-6.4 2-5.1 2.1-1.3 20.7-4 35.4 154.5-29 5.5z"/><path class="c60 l" d="M511.9 703.2l-8.3 1.6"/><path class="c60 l" d="M503.6 704.8l-8.2 1.6"/><path class="c60 l" d="M495.4 706.4l-4.2 .8-2.1 1.3-2 5.1"/><path class="c60 l" d="M487.1 713.6l-1.2 6.4-.9 7.3-2.1 22.6"/><path fill="#6a82fd" stroke="#6a82fd" d="M478.8 805.1l4.1-55.2 35.4 113.3-4.1 .7z"/><path class="c52 l" d="M482.9 749.9l-2 27.1"/><path class="c36 l" d="M480.9 777l-2.1 28.1"/><path fill="#8fa2fe" stroke="#8fa2fe" d="M474.6 859.2l4.2-54.1 35.4 58.8-4.2 .8z"/><path class="c28 l" d="M478.8 805.1l-2.1 27.9"/><path fill="#6a82fd" stroke="#6a82fd" d="M472.3 881.1l2.3-21.9 35.4 5.5-2.3 .5z"/><path class="c12" d="M468.4 893.2l2.1-3.3 1.8-8.8 35.4-15.9-3.9 .7z"/><path class="c12" d="M470.6 872.2l33.2-6.3-35.4 27.3-2 .8-24.9 4.8-2.1 .1-2-1.7-2.2-8.5z"/><path fill="#6a82fd" stroke="#6a82fd" d="M468.6 872.5l2-.3-35.4 16.5-2-16.3z"/><path fill="#8fa2fe" stroke="#8fa2fe" d="M466.5 872.9l2.1-.4-35.4-.1-2-23.7z"/><path fill="#6a82fd" stroke="#6a82fd" d="M464.5 873.3l2-.4-35.3-24.2-2.1-25.9z"/><path class="c12" d="M456.4 874.8l8.1-1.5-35.4-50.5-4.2-52-2-23.4-1.9-15.1z"/><path class="c28 l" d="M429.1 822.8l-2.1-26.2"/><path class="c36 l" d="M427 796.6l-2.1-25.8"/><path class="c44 l" d="M424.9 770.8l-2-23.4"/><path class="c52 l" d="M422.9 747.4l-1.9-15.1"/><path class="c12" d="M391.1 761.3l1.4-14.6 1.4-10.7 2-8.1 2.1-2.3 2.1-.5 12.4-2.4 4.2-.6 2 1.5 2.1 7.3 .2 1.4 35.4 142.5-29.9 5.7z"/><path class="c60 l" d="M421 732.3l-.2-1.4-2.1-7.3-2-1.5-2.1 .2"/><path class="c60 l" d="M414.6 722.3l-8.3 1.6"/><path class="c60 l" d="M406.3 723.9l-6.2 1.2-2.1 .5"/><path class="c60 l" d="M398 725.6l-2.1 2.3-2 8.1-1.4 10.7"/><path class="c52 l" d="M392.5 746.7l-1.4 14.6"/><path fill="#6a82fd" stroke="#6a82fd" d="M387 814.8l4.1-53.5 35.4 119.2-4.1 .7z"/><path class="c52 l" d="M391.1 761.3l-1.4 17"/><path class="c44 l" d="M389.7 778.3l-1.3 18.1"/><path class="c36 l" d="M388.4 796.4l-1.4 18.4"/><path fill="#8fa2fe" stroke="#8fa2fe" d="M381.5 885l1.3-15.8 4.2-54.4 35.4 66.4-5.6 1.1z"/><path class="c28 l" d="M387 814.8l-2.8 36.7"/><path fill="#6a82fd" stroke="#6a82fd" d="M379.7 900l1.8-15 35.3-2.7-1.7 .3z"/><path class="c12" d="M377.3 910.1l1.4-4.3 1-5.8 35.4-17.4-2.4 .5z"/><path class="c12" d="M398.9 885.7l13.8-2.6-35.4 27-1.4 1.8-1.4 .6-5.5 1.1-1.4-.1-1.3-.9-1.4-3.2-1.4-7z"/><path fill="#6a82fd" stroke="#6a82fd" d="M397.5 885.9l1.4-.2-35.4 16.7-1.4-11.6z"/><path fill="#8fa2fe" stroke="#8fa2fe" d="M394.7 886.5l2.8-.6-35.4 4.9-2.7-32.7z"/><path fill="#6a82fd" stroke="#6a82fd" d="M392 887l2.7-.5-35.3-28.4-2.8-36.2z"/><path class="c28 l" d="M358 840.1l-1.4-18.2"/><path class="c12" d="M385.1 888.3l6.9-1.3-35.4-65.1-4.1-53.6-1.4-15.4-1.4-11.3z"/><path class="c28 l" d="M356.6 821.9l-1.4-18.1"/><path class="c36 l" d="M355.2 803.8l-1.4-18.1"/><path class="c44 l" d="M353.8 785.7l-1.3-17.4"/><path class="c52 l" d="M352.5 768.3l-1.4-15.4"/><path class="c60 l" d="M351.1 752.9l-1.4-11.3"/><path class="c12" d="M331.7 785.1l2.8-31.3 1.4-11.2 1.4-5.7 1.4-2.1 1.3-.5 5.6-1.1 1.3 .3 1.4 2 1.4 6.1 35.4 146.7-18 3.4z"/><path class="c60 l" d="M349.7 741.6l-1.4-6.1-1.4-2-1.3-.3-4.2 .8"/><path class="c60 l" d="M341.4 734l-1.4 .3-1.3 .5-1.4 2.1-1.4 5.7-1.4 11.2-1.4 14.9"/><path class="c52 l" d="M333.1 768.7l-1.4 16.4"/><path fill="#6a82fd" stroke="#6a82fd" d="M327.6 834.6l4.1-49.5 35.4 106.6-4.1 .7z"/><path class="c44 l" d="M331.7 785.1l-2.7 33"/><path class="c36 l" d="M329 818.1l-1.4 16.5"/><path fill="#8fa2fe" stroke="#8fa2fe" d="M322.1 900.3l5.5-65.7 35.4 57.8-5.5 1.1z"/><path class="c28 l" d="M327.6 834.6l-1.4 16.6"/><path fill="#6a82fd" stroke="#6a82fd" d="M320.7 913.1l1.4-12.8 35.4-6.8-1.4 .2z"/><path class="c12" d="M319.8 916.6l.9-3.5 35.4-19.4-.9 .2z"/><path class="c12" d="M354.7 894l.5-.1-35.4 22.7-.5-.3z"/><path fill="#6a82fd" stroke="#6a82fd" d="M353.3 894.3l1.4-.3-35.4 22.3-1.4-8.1z"/><path fill="#8fa2fe" stroke="#8fa2fe" d="M350.6 894.8l2.7-.5-35.4 13.9-2.7-26.4z"/><path fill="#6a82fd" stroke="#6a82fd" d="M347.8 895.3l2.8-.5-35.4-13-2.8-26.9z"/><path class="c12" d="M338.1 897.1l9.7-1.8-35.4-40.4-9.6-94.1z"/><path class="c28 l" d="M311 841.4l-1.3-13.5"/><path class="c36 l" d="M309.7 827.9l-2.8-27"/><path class="c44 l" d="M306.9 800.9l-2.8-26.9"/><path class="c52 l" d="M304.1 774l-1.3-13.2"/><path class="c12" d="M291.7 828.2l8.3-70.7 1.3-5 1.5 8.3 35.3 136.3-11 2.1z"/><path class="c60 l" d="M302.8 760.8l-1.5-8.3-1.3 5-1.4 11.4"/><path class="c52 l" d="M298.6 768.9l-2.7 23.7"/><path class="c44 l" d="M295.9 792.6l-2.8 23.7"/><path class="c36 l" d="M293.1 816.3l-1.4 11.9"/><path fill="#6a82fd" stroke="#6a82fd" d="M282.7 903.5l.7-4.4 8.3-70.9 35.4 71-9 1.7z"/><path class="c36 l" d="M291.7 828.2l-1.4 11.8"/><path class="c28 l" d="M290.3 840l-2.7 23.8"/><path class="c12" d="M282 904.6l.7-1.1 35.4-2.6-.7 .1z"/><path class="c12" d="M308.7 902.7l8.7-1.7-35.4 3.6-8.7-9.4z"/><path class="c12" d="M265 894.4l8.3 .8 35.4 7.5-2.3 .1-6.1 0z"/><path class="c12" d="M296.2 900l3.3 2.7 .8 .1-35.3-8.4-3.4-2.7-.8-2.1z"/><path class="c14" d="M294.5 895.8l1.7 4.2-35.4-10.4-.8-2.2-.9-7.7z"/><path class="c16" d="M294 890.8l.5 5-35.4-16.1-.5-10.2z"/><path class="c18" d="M293.7 888.2l.3 2.6-35.4-21.3-.3-5.1z"/><path class="c20" d="M293.4 882.8l.3 5.4-35.4-23.8-.3-3.4z"/><path fill="#51afec" stroke="#51afec" d="M293.1 877.2l.3 5.6-35.4-21.8-.3-3.5z"/><path fill="#4cb7e8" stroke="#4cb7e8" d="M292.8 871.8l.3 5.4-35.4-19.7-.2-3.4z"/><path class="c24" d="M292.6 868.1l.2 3.7-35.3-17.7-.3-1.3z"/><path class="c26" d="M292.3 864.4l.3 3.7-35.4-15.3-.3-1.2z"/><path class="c28" d="M291.2 856.5l.8 4.3 .3 3.6-35.4-12.8-.3-1.3-.8 .2z"/></g>
<g class="q"><path class="c62" d="M713.2 701.3l2-2.1 2.1-.6 23.5-4.5-35.4 133.8-27.6 5.2z"/><path class="c12 l" d="M705.4 827.9l-6.9 1.3"/><path class="c12 l" d="M698.5 829.2l-8.3 1.5"/><path class="c12 l" d="M690.2 830.7l-8.3 1.6"/><path class="c60" d="M711.1 708.9l2.1-7.6-35.4 131.8-2.1 .4z"/><path class="c58" d="M710.7 711.2l.4-2.3-35.4 124.6-.4 0z"/><path class="c54" d="M673.6 833.9l1.7-.4 35.4-122.3-1.7 14.2z"/><path class="c46" d="M671.6 834.2l2-.3 35.4-108.5-2.1 23.6z"/><path class="c12 l" d="M681.9 832.3l-8.3 1.6"/><path fill="#5fd3ac" stroke="#5fd3ac" d="M669.5 834.6l2.1-.4 35.3-85.2-2 26.3z"/><path fill="#75ceea" stroke="#75ceea" d="M667.4 835l2.1-.4 35.4-59.3-2.1 26.8z"/><path fill="#81b7fa" stroke="#81b7fa" d="M665.3 835.4l2.1-.4 35.4-32.9-2.1 26.7z"/><path class="c12 l" d="M673.6 833.9l-6.2 1.1"/><path fill="#9194f6" stroke="#9194f6" d="M663.3 835.8l2-.4 35.4-6.6-2 24.9z"/><path fill="#6858cc" stroke="#6858cc" d="M660.9 836.3l2.4-.5 35.4 17.9-2.4 21.3z"/><path class="c12 l" d="M663.3 835.8l-2.4 .5"/><path class="c0" d="M597 848.3l63.9-12 35.4 38.7-1.8 8.3-2.1 3.3-2 .9-53.9 10.2-2 .1-2.1-1.8z"/><path class="c12 l" d="M660.9 836.3l-8 1.5"/><path class="c12 l" d="M652.9 837.8l-8.3 1.5"/><path class="c12 l" d="M644.6 839.3l-8.2 1.6"/><path class="c12 l" d="M636.4 840.9l-8.3 1.5"/><path class="c12 l" d="M628.1 842.4l-8.3 1.6"/><path class="c12 l" d="M619.8 844l-8.3 1.6"/><path class="c12 l" d="M611.5 845.6l-8.3 1.5"/><path class="c0" d="M630.3 887.8l2.1 8.2-35.4-47.7-2.1 .4z"/><path class="c12 l" d="M603.2 847.1l-6.2 1.2"/><path fill="#6c70f3" stroke="#6c70f3" d="M628.2 871.5l2.1 16.3-35.4-39.1-2 .4z"/><path class="c12 l" d="M597 848.3l-2.1 .4"/><path fill="#84b0fd" stroke="#84b0fd" d="M626.2 848.6l2 22.9-35.3-22.4-2.1 .4z"/><path fill="#79c9ee" stroke="#79c9ee" d="M624.1 823.6l2.1 25-35.4 .9-2.1 .4z"/><path fill="#56cfb9" stroke="#56cfb9" d="M622 798.3l2.1 25.3-35.4 26.3-2 .4z"/><path fill="#9ad67a" stroke="#9ad67a" d="M620 773.2l2 25.1-35.3 52-2.1 .4z"/><path class="c52" d="M617.9 749.8l2.1 23.4-35.4 77.5-2.1 .3z"/><path class="c58" d="M615.6 730.7l2.3 19.1-35.4 101.2-2.3 .5z"/><path class="c12 l" d="M590.8 849.5l-8.3 1.5"/><path class="c12 l" d="M582.5 851l-2.3 .5"/><path class="c62" d="M568.2 729.2l2.1-1 2-.4 37.3-7.1 2.1 0 2 2.4 1.9 7.6-35.4 120.8-47.4 8.9z"/><path class="c12 l" d="M580.2 851.5l-8 1.5"/><path class="c12 l" d="M572.2 853l-8.3 1.6"/><path class="c12 l" d="M563.9 854.6l-8.3 1.5"/><path class="c12 l" d="M555.6 856.1l-8.3 1.6"/><path class="c12 l" d="M547.3 857.7l-8.3 1.5"/><path class="c60" d="M566.1 733.1l2.1-3.9-35.4 131.2-2.1 .4z"/><path class="c58" d="M564.5 741.1l1.6-8-35.4 127.7-1.6 .3z"/><path class="c12 l" d="M539 859.2l-8.3 1.6"/><path class="c56" d="M528.7 861.2l.4-.1 35.4-120-.5 3.4z"/><path class="c50" d="M526.6 861.6l2.1-.4 35.3-116.7-2 20.6z"/><path class="c40" d="M524.5 862l2.1-.4 35.4-96.5-2.1 25.9z"/><path fill="#34c8cf" stroke="#34c8cf" d="M522.5 862.4l2-.4 35.4-71-2.1 27.5z"/><path fill="#7cc3f1" stroke="#7cc3f1" d="M520.4 862.8l2.1-.4 35.3-43.9-2 27.6z"/><path class="c12 l" d="M530.7 860.8l-8.2 1.6"/><path fill="#8fa2fe" stroke="#8fa2fe" d="M518.3 863.2l2.1-.4 35.4-16.7-2.1 26.6z"/><path class="c12 l" d="M522.5 862.4l-2.1 .4"/><path fill="#8f87e6" stroke="#8f87e6" d="M516.2 863.5l2.1-.3 35.4 9.5-2.1 22.2z"/><path fill="#6858cc" stroke="#6858cc" d="M515.3 863.7l.9-.2 35.4 31.4-.9 7.4z"/><path class="c12 l" d="M516.2 863.5l-.9 .2"/><path class="c0" d="M479 870.6l36.3-6.9 35.4 38.6-1.2 6.2-2 5.2-2.1 1.3-26.9 5.1-2.1-.2-2.1-3.3z"/><path class="c12 l" d="M515.3 863.7l-7.3 1.4"/><path class="c12 l" d="M508 865.1l-8.3 1.6"/><path class="c12 l" d="M499.7 866.7l-8.3 1.5"/><path class="c12 l" d="M491.4 868.2l-8.3 1.6"/><path class="c2" d="M512.3 905.9l.6 4.1 1.4 6.6-35.3-46-2.1 .4z"/><path fill="#6c79f9" stroke="#6c79f9" d="M510.2 886.5l2.1 19.4-35.4-34.9-2.1 .4z"/><path class="c12 l" d="M483.1 869.8l-6.2 1.2"/><path fill="#81b7fa" stroke="#81b7fa" d="M508.1 862.2l2.1 24.3-35.4-15.1-2.1 .3z"/><path fill="#6bd2e3" stroke="#6bd2e3" d="M506.1 836.6l2 25.6-35.4 9.5-2 .4z"/><path fill="#6ed69d" stroke="#6ed69d" d="M504 810.9l2.1 25.7-35.4 35.5-2.1 .4z"/><path fill="#c7d05a" stroke="#c7d05a" d="M501.9 785.8l2.1 25.1-35.4 61.6-2.1 .4z"/><path class="c54" d="M499.8 764.1l2.1 21.7-35.4 87.1-2 .4z"/><path class="c58" d="M498.5 753.7l1.3 10.4-35.3 109.2-1.4 .3z"/><path class="c12 l" d="M472.7 871.7l-8.2 1.6"/><path class="c60" d="M497.8 749.9l.7 3.8-35.4 119.9-.7 .1z"/><path class="c12 l" d="M464.5 873.3l-2.1 .4"/><path class="c62" d="M472.9 749.3l2.1-2.2 2.1-.7 16.5-3 2.1 .9 2.1 5.6-35.4 123.8-24.9 4.7z"/><path class="c12 l" d="M462.4 873.7l-8.3 1.6"/><path class="c12 l" d="M454.1 875.3l-8.3 1.5"/><path class="c58" d="M470.5 759.3l.3-2 2.1-8-35.4 129.1-2.3 .4z"/><path class="c12 l" d="M445.8 876.8l-8.3 1.6"/><path class="c52" d="M433.4 879.2l1.8-.4 35.3-119.5-1.7 15.1z"/><path class="c44" d="M431.3 879.6l2.1-.4 35.4-104.8-2.1 24.1z"/><path fill="#56cfb9" stroke="#56cfb9" d="M429.3 879.9l2-.3 35.4-81.1-2.1 26.7z"/><path fill="#39c3da" stroke="#39c3da" d="M427.9 880.2l1.4-.3 35.3-54.7-1.3 18.1z"/><path class="c12 l" d="M437.5 878.4l-8.2 1.5"/><path fill="#7cc3f1" stroke="#7cc3f1" d="M426.5 880.5l1.4-.3 35.4-36.9-1.4 18.1z"/><path fill="#84b0fd" stroke="#84b0fd" d="M425.1 880.7l1.4-.2 35.4-19.1-1.4 17.9z"/><path class="c12 l" d="M429.3 879.9l-2.8 .6"/><path fill="#919bfb" stroke="#919bfb" d="M423.7 881l1.4-.3 35.4-1.4-1.4 16.9z"/><path fill="#8f87e6" stroke="#8f87e6" d="M422.4 881.2l1.3-.2 35.4 15.2-1.4 14.7z"/><path fill="#6452ba" stroke="#6452ba" d="M421 881.5l1.4-.3 35.3 29.7-1.4 11.1z"/><path class="c12 l" d="M422.4 881.2l-1.4 .3"/><path class="c0" d="M405.8 884.4l15.2-2.9 35.3 40.5-1.3 6.8-1.4 3.4-1.4 1.4-1.4 .5-4.1 .8-1.4 .2-1.4-.1-1.4-1.2-1.3-3.4z"/><path class="c12 l" d="M421 881.5l-8.3 1.6"/><path class="c0" d="M440.1 924.9l1.1 5.5-35.4-46-1.1 .2z"/><path class="c2" d="M439.8 923.1l.3 1.8-35.4-40.3-.3 0z"/><path fill="#6c67ea" stroke="#6c67ea" d="M438.4 911.3l1.4 11.8-35.4-38.5-1.4 .3z"/><path class="c12 l" d="M412.7 883.1l-8.3 1.5"/><path fill="#8fa2fe" stroke="#8fa2fe" d="M437 896.1l1.4 15.2-35.4-26.4-1.4 .3z"/><path fill="#81b7fa" stroke="#81b7fa" d="M435.6 879l1.4 17.1-35.4-10.9-1.3 .2z"/><path fill="#79c9ee" stroke="#79c9ee" d="M434.3 861.3l1.3 17.7-35.3 6.4-1.4 .3z"/><path fill="#67d6db" stroke="#67d6db" d="M432.9 843.5l1.4 17.8-35.4 24.4-1.4 .2z"/><path fill="#5fd3ac" stroke="#5fd3ac" d="M431.5 825.6l1.4 17.9-35.4 42.4-1.4 .3z"/><path fill="#b1d468" stroke="#b1d468" d="M430.1 807.9l1.4 17.7-35.4 60.6-1.4 .3z"/><path fill="#ebc957" stroke="#ebc957" d="M428.7 790.8l1.4 17.1-35.4 78.6-1.3 .2z"/><path class="c56" d="M427.4 775.5l1.3 15.3-35.3 95.9-1.4 .3z"/><path class="c60" d="M425.9 763.8l1.5 11.7-35.4 111.5-1.4 .2z"/><path class="c12 l" d="M400.3 885.4l-8.3 1.6"/><path class="c12 l" d="M392 887l-1.4 .2"/><path class="c62" d="M413.5 757.7l1.4-1.5 1.4-.4 5.5-1 1.4 .3 1.4 2.4 1.3 6.3-35.3 123.4-12.4 2.4z"/><path class="c12 l" d="M390.6 887.2l-8.3 1.6"/><path class="c60" d="M411.8 764l.4-1.8 1.3-4.5-35.3 131.9-1.7 .3z"/><path class="c58" d="M375.4 890.1l1.1-.2 35.3-125.9-1 7.7z"/><path class="c52" d="M374 890.4l1.4-.3 35.4-118.4-1.4 13.9z"/><path class="c48" d="M372.6 890.6l1.4-.2 35.4-104.8-1.4 15.8z"/><path class="c12 l" d="M382.3 888.8l-8.3 1.6"/><path class="c42" d="M371.3 890.9l1.3-.3 35.4-89.2-1.4 16.2z"/><path fill="#5fd3ac" stroke="#5fd3ac" d="M369.9 891.1l1.4-.2 35.3-73.3-1.3 16.3z"/><path fill="#34c8cf" stroke="#34c8cf" d="M368.5 891.4l1.4-.3 35.4-57.2-1.4 16.2z"/><path fill="#79c9ee" stroke="#79c9ee" d="M367.1 891.7l1.4-.3 35.4-41.3-1.4 16.2z"/><path fill="#81b7fa" stroke="#81b7fa" d="M365.7 891.9l1.4-.2 35.4-25.4-1.4 16.3z"/><path class="c12 l" d="M374 890.4l-6.9 1.3"/><path fill="#8fa2fe" stroke="#8fa2fe" d="M364.4 892.2l1.3-.3 35.4-9.3-1.4 16.2z"/><path fill="#9194f6" stroke="#9194f6" d="M363 892.4l1.4-.2 35.3 6.6-1.3 16.1z"/><path fill="#6858cc" stroke="#6858cc" d="M361.6 892.7l1.4-.3 35.4 22.5-1.4 14.7z"/><path class="c0" d="M360.1 893l1.5-.3 35.4 36.9-1.5 8.6z"/><path class="c0" d="M394.2 934.9l1.3 3.3-35.4-45.2-1.3 .2z"/><path fill="#6a5fde" stroke="#6a5fde" d="M392.8 923.8l1.4 11.1-35.4-41.7-1.3 .3z"/><path class="c12 l" d="M363 892.4l-4.2 .8"/><path fill="#6c79f9" stroke="#6c79f9" d="M391.5 910.7l1.3 13.1-35.3-30.3-1.4 .2z"/><path fill="#8ba9ff" stroke="#8ba9ff" d="M390.1 897.4l1.4 13.3-35.4-17-1.4 .3z"/><path fill="#81b7fa" stroke="#81b7fa" d="M388.7 884.2l1.4 13.2-35.4-3.4-1.4 .3z"/><path fill="#4cb7e8" stroke="#4cb7e8" d="M387.3 870.9l1.4 13.3-35.4 10.1-1.4 .2z"/><path fill="#39c3da" stroke="#39c3da" d="M385.9 857.7l1.4 13.2-35.4 23.6-1.3 .3z"/><path fill="#56cfb9" stroke="#56cfb9" d="M384.6 844.5l1.3 13.2-35.3 37.1-1.4 .3z"/><path fill="#6ed69d" stroke="#6ed69d" d="M383.2 831.2l1.4 13.3-35.4 50.6-1.4 .2z"/><path class="c44" d="M381.8 818l1.4 13.2-35.4 64.1-1.4 .3z"/><path class="c48" d="M380.4 804.7l1.4 13.3-35.4 77.6-1.4 .2z"/><path class="c52" d="M379 791.5l1.4 13.2-35.4 91.1-1.3 .3z"/><path class="c12 l" d="M353.3 894.3l-8.3 1.5"/><path class="c58" d="M377.7 779.2l1.3 12.3-35.3 104.6-1.4 .3z"/><path class="c60" d="M376.3 774.4l.3-.2 1.1 5-35.4 117.2-1.4 .2z"/><path class="c56" d="M374.9 782l1.4-7.6-35.4 122.2-1.4 .3z"/><path class="c52" d="M338.1 897.1l1.4-.2 35.4-114.9-1.4 11.5z"/><path class="c48" d="M336.8 897.4l1.3-.3 35.4-103.6-1.4 11.7z"/><path class="c44" d="M335.4 897.7l1.4-.3 35.3-92.2-1.4 11.6z"/><path class="c12 l" d="M345 895.8l-8.2 1.6"/><path class="c40" d="M334 897.9l1.4-.2 35.3-80.9-1.3 11.7z"/><path class="c36" d="M332.6 898.2l1.4-.3 35.4-69.4-1.4 11.6z"/><path class="c32" d="M331.2 898.4l1.4-.2 35.4-58.1-1.4 11.7z"/><path fill="#39c3da" stroke="#39c3da" d="M329.8 898.7l1.4-.3 35.4-46.6-1.4 11.6z"/><path fill="#4cb7e8" stroke="#4cb7e8" d="M328.5 899l1.3-.3 35.4-35.3-1.4 11.7z"/><path fill="#55a7f2" stroke="#55a7f2" d="M327.1 899.2l1.4-.2 35.3-23.9-1.3 11.6z"/><path class="c12 l" d="M336.8 897.4l-8.3 1.6"/><path fill="#5b96fd" stroke="#5b96fd" d="M325.7 899.5l1.4-.3 35.4-12.5-1.4 11.7z"/><path fill="#6a82fd" stroke="#6a82fd" d="M324.3 899.7l1.4-.2 35.4-1.1-1.4 11.6z"/><path fill="#6c70f3" stroke="#6c70f3" d="M322.9 900l1.4-.3 35.4 10.3-1.4 11.4z"/><path fill="#6c67ea" stroke="#6c67ea" d="M322.3 900.1l.6-.1 35.4 21.4-.6 3.9z"/><path class="c6" d="M318.8 900.8l3.5-.7 35.4 25.2-.8 1.1-2.7-2.8z"/><path class="c8" d="M314.7 901.6l4.1-.8 35.4 22.8-4.2-4.6z"/><path class="c10" d="M303.6 902.8l4.2 0 6.9-1.2 35.3 17.4-1.9-2-8.5-.8-.6-.4z"/><path class="c12" d="M336.2 913.5l2.8 2.3-35.4-13-2.8 0z"/><path class="c14" d="M334.2 906.3l.3 3 1.7 4.2-35.4-10.7-1.3-.1-.7-.5z"/><path class="c18" d="M333.5 898.3l.7 8-35.4-4.1-.7-.6z"/><path class="c22" d="M332.8 885.9l.7 12.4-35.4 3.3-.7-.5z"/><path class="c26" d="M331 872.2l.8 3.1 1 10.6-35.4 15.2-1.2-1.1-.6-1.3z"/><path class="c12 l" d="M298.1 901.6l-1.9-1.6-.6-1.3"/><path class="c28" d="M326.6 873.1l4.4-.9-35.4 26.5-1.1-2.9-.5-5-.3-2.6-.9-16.4-.8-11-.8-4.3z"/><path class="c12 l" d="M295.6 898.7l-1.1-2.9-.3-2.4"/></g>
<g class="q"><path class="c12" d="M706.9 749l2.1-23.6 1.7-14.2 .4-2.3 2.1-7.6 2-2.1 2.1-.6 23.5-4.5 35.3 153.7-33.8 6.4z"/><path class="c60 l" d="M740.8 694.1l-6.9 1.3"/><path class="c60 l" d="M733.9 695.4l-8.3 1.6"/><path class="c60 l" d="M725.6 697l-8.3 1.6"/><path class="c60 l" d="M717.3 698.6l-2.1 .6-2 2.1-2.1 7.6-2.1 16.5"/><path class="c52 l" d="M709 725.4l-2.1 23.6"/><path fill="#6a82fd" stroke="#6a82fd" d="M702.8 802.1l4.1-53.1 35.4 105.2-4.1 .7z"/><path class="c44 l" d="M706.9 749l-2 26.3"/><path class="c36 l" d="M704.9 775.3l-2.1 26.8"/><path fill="#8fa2fe" stroke="#8fa2fe" d="M698.7 853.7l4.1-51.6 35.4 52.8-4.2 .8z"/><path class="c28 l" d="M702.8 802.1l-2.1 26.7"/><path fill="#6a82fd" stroke="#6a82fd" d="M696.3 875l2.4-21.3 35.3 2-2.3 .5z"/><path class="c12" d="M692.4 886.6l2.1-3.3 1.8-8.3 35.4-18.8-3.9 .7z"/><path class="c12" d="M665.6 868.6l62.2-11.7-35.4 29.7-2 .9-2.1 .4-51.8 9.8-2 .1-2.1-1.8-2.1-8.2z"/><path fill="#6a82fd" stroke="#6a82fd" d="M663.6 869l2-.4-35.3 19.2-2.1-16.3z"/><path fill="#8fa2fe" stroke="#8fa2fe" d="M661.5 869.4l2.1-.4-35.4 2.5-2-22.9z"/><path fill="#6a82fd" stroke="#6a82fd" d="M659.5 869.8l2-.4-35.3-20.8-2.1-25z"/><path class="c12" d="M651.2 871.3l8.3-1.5-35.4-46.2-6.2-73.8-2.1-17.7z"/><path class="c28 l" d="M624.1 823.6l-2.1-25.3"/><path class="c36 l" d="M622 798.3l-2-25.1"/><path class="c44 l" d="M620 773.2l-2.1-23.4"/><path class="c52 l" d="M617.9 749.8l-2.1-17.7"/><path class="c12" d="M562 765.1l2.5-24 1.6-8 2.1-3.9 2.1-1 2-.4 37.3-7.1 2.1 0 2 2.4 2.1 9 35.4 139.2-53.9 10.2z"/><path class="c60 l" d="M615.8 732.1l-2.1-9-2-2.4-2.1 0-2.1 .4"/><path class="c60 l" d="M607.5 721.1l-8.3 1.6"/><path class="c60 l" d="M599.2 722.7l-8.2 1.5"/><path class="c60 l" d="M591 724.2l-8.3 1.6"/><path class="c60 l" d="M582.7 725.8l-8.3 1.6"/><path class="c60 l" d="M574.4 727.4l-4.1 .8-2.1 1-2.1 3.9"/><path class="c60 l" d="M566.1 733.1l-1.6 8-.5 3.4-2 20.6"/><path fill="#6a82fd" stroke="#6a82fd" d="M557.8 818.5l4.2-53.4 35.3 116.4-4.1 .8z"/><path class="c52 l" d="M562 765.1l-2.1 25.9"/><path class="c44 l" d="M559.9 791l-2.1 27.5"/><path fill="#8fa2fe" stroke="#8fa2fe" d="M551.6 894.9l2.1-22.2 4.1-54.2 35.4 63.8-6.2 1.1z"/><path class="c28 l" d="M557.8 818.5l-2 27.6"/><path fill="#6a82fd" stroke="#6a82fd" d="M550.7 902.3l.9-7.4 35.4-11.5-.9 .2z"/><path class="c12" d="M547.5 913.7l2-5.2 1.2-6.2 35.4-18.7-3.2 .6z"/><path class="c12" d="M548.2 890.8l34.7-6.6-35.4 29.5-2.1 1.3-26.9 5.1-2.1-.2-2.1-3.3-1.4-6.6z"/><path fill="#6a82fd" stroke="#6a82fd" d="M547.6 890.9l.6-.1-35.3 19.2-.6-4.1z"/><path fill="#8fa2fe" stroke="#8fa2fe" d="M545.6 891.3l2-.4-35.3 15-2.1-19.4z"/><path fill="#6a82fd" stroke="#6a82fd" d="M541.4 892l4.2-.7-35.4-4.8-4.1-49.9z"/><path class="c12" d="M535.2 893.2l6.2-1.2-35.3-55.4-4.2-50.8-2.1-21.7z"/><path class="c28 l" d="M506.1 836.6l-2.1-25.7"/><path class="c36 l" d="M504 810.9l-2.1-25.1"/><path class="c44 l" d="M501.9 785.8l-2.1-21.7"/><path class="c12" d="M466.7 798.5l2.1-24.1 2-17.1 2.1-8 2.1-2.2 2.1-.7 14.5-2.7 2-.3 2.1 .9 2.1 5.6 .7 3.8 1.3 10.4 35.4 129.1-33.1 6.3z"/><path class="c52 l" d="M499.8 764.1l-1.3-10.4"/><path class="c60 l" d="M498.5 753.7l-.7-3.8-2.1-5.6-2.1-.9-2 .3"/><path class="c60 l" d="M491.6 743.7l-8.3 1.6"/><path class="c60 l" d="M483.3 745.3l-6.2 1.1-2.1 .7"/><path class="c60 l" d="M475 747.1l-2.1 2.2-2.1 8-2 17.1"/><path class="c52 l" d="M468.8 774.4l-2.1 24.1"/><path fill="#6a82fd" stroke="#6a82fd" d="M463.3 843.3l3.4-44.8 35.4 101-3.5 .6z"/><path class="c44 l" d="M466.7 798.5l-2.1 26.7"/><path class="c36 l" d="M464.6 825.2l-1.3 18.1"/><path fill="#8fa2fe" stroke="#8fa2fe" d="M457.7 910.9l1.4-14.7 4.2-52.9 35.3 56.8-5.5 1.1z"/><path class="c28 l" d="M463.3 843.3l-1.4 18.1"/><path fill="#6a82fd" stroke="#6a82fd" d="M456.3 922l1.4-11.1 35.4-9.7-1.4 .2z"/><path class="c12" d="M453.6 932.2l1.4-3.4 1.3-6.8 35.4-20.6-2.7 .5z"/><path class="c12" d="M475.4 904.5l13.6-2.6-35.4 30.3-1.4 1.4-1.4 .5-5.5 1-1.4-.1-1.4-1.2-1.3-3.4-1.1-5.5z"/><path fill="#6a82fd" stroke="#6a82fd" d="M473.8 904.8l1.6-.3-35.3 20.4-1.7-13.6z"/><path fill="#8fa2fe" stroke="#8fa2fe" d="M471 905.3l2.8-.5-35.4 6.5-2.8-32.3z"/><path fill="#6a82fd" stroke="#6a82fd" d="M468.3 905.8l2.7-.5-35.4-26.3-2.7-35.5z"/><path class="c28 l" d="M434.3 861.3l-1.4-17.8"/><path class="c12" d="M461.3 907.1l7-1.3-35.4-62.3-4.2-52.7-1.3-15.3-1.5-11.7z"/><path class="c28 l" d="M432.9 843.5l-1.4-17.9"/><path class="c36 l" d="M431.5 825.6l-1.4-17.7"/><path class="c44 l" d="M430.1 807.9l-1.4-17.1"/><path class="c52 l" d="M428.7 790.8l-1.3-15.3"/><path class="c60 l" d="M427.4 775.5l-1.5-11.7"/><path class="c12" d="M408 801.4l2.8-29.7 1.4-9.5 1.3-4.5 1.4-1.5 1.4-.4 5.5-1 1.4 .3 1.4 2.4 1.3 6.3 35.4 143.3-17.9 3.4z"/><path class="c60 l" d="M425.9 763.8l-1.3-6.3-1.4-2.4-1.4-.3-4.1 .7"/><path class="c60 l" d="M417.7 755.5l-2.8 .7-1.4 1.5-1.3 4.5-1.4 9.5-1.4 13.9"/><path class="c52 l" d="M409.4 785.6l-1.4 15.8"/><path fill="#6a82fd" stroke="#6a82fd" d="M402.5 866.3l5.5-64.9 35.4 109.1-5.5 1.1z"/><path class="c52 l" d="M408 801.4l-1.4 16.2"/><path class="c44 l" d="M406.6 817.6l-1.3 16.3"/><path class="c36 l" d="M405.3 833.9l-1.4 16.2"/><path class="c28 l" d="M403.9 850.1l-1.4 16.2"/><path fill="#8fa2fe" stroke="#8fa2fe" d="M397 929.6l5.5-63.3 35.4 45.3-5.5 1z"/><path class="c28 l" d="M402.5 866.3l-1.4 16.3"/><path class="c12" d="M395.5 938.2l1.5-8.6 35.4-17-1.6 .3z"/><path class="c12" d="M429.6 913.1l1.2-.2-35.3 25.3-1.3-3.3z"/><path fill="#6a82fd" stroke="#6a82fd" d="M428.2 913.4l1.4-.3-35.4 21.8-1.4-11.1z"/><path fill="#8fa2fe" stroke="#8fa2fe" d="M426.8 913.7l1.4-.3-35.4 10.4-1.3-13.1z"/><path fill="#6a82fd" stroke="#6a82fd" d="M422.7 914.4l4.1-.7-35.3-3-4.2-39.8z"/><path class="c12" d="M413 916.3l9.7-1.9-35.4-43.5-9.6-91.7z"/><path class="c28 l" d="M387.3 870.9l-2.7-26.4"/><path class="c36 l" d="M384.6 844.5l-2.8-26.5"/><path class="c44 l" d="M381.8 818l-1.4-13.3"/><path class="c52 l" d="M380.4 804.7l-2.7-25.5"/><path class="c12" d="M366.6 851.8l8.3-69.8 1.4-7.6 .3-.2 1.1 5 35.3 137.1-11 2z"/><path class="c60 l" d="M377.7 779.2l-1.1-5-.3 .2-1.4 7.6-1.4 11.5"/><path class="c52 l" d="M373.5 793.5l-2.8 23.3"/><path class="c44 l" d="M370.7 816.8l-2.7 23.3"/><path class="c36 l" d="M368 840.1l-1.4 11.7"/><path fill="#6a82fd" stroke="#6a82fd" d="M357.7 925.3l.6-3.9 8.3-69.6 35.4 66.5-9 1.7z"/><path class="c36 l" d="M366.6 851.8l-1.4 11.6"/><path class="c28 l" d="M365.2 863.4l-2.7 23.3"/><path class="c12" d="M356.9 926.4l.8-1.1 35.3-5.3-.7 .2z"/><path class="c12" d="M383.4 921.8l8.9-1.6-35.4 6.2-8.8-9.4z"/><path class="c12" d="M339.6 916.2l8.5 .8 35.3 4.8-4.9 .9-3.5 0z"/><path class="c12" d="M369.5 922.1l.7 .5 4.8 .1-35.4-6.5-3.4-2.7-1.7-4.2-.3-3z"/><path class="c14" d="M366.4 918.6l.5 1.3 2.6 2.2-35.3-15.8-2.1-28.9-.3-2.1-.8-3.1z"/><path class="c14" d="M330.4 872.3l.6-.1 35.4 46.4-.6-1.4z"/><path class="c16" d="M330.2 872.4l.2-.1 35.4 44.9-.3-.7z"/><path class="c16" d="M365 913.3l.3 2.4 .2 .8-35.3-44.1-.6 .1z"/><path class="c18" d="M364.4 908.1l.6 5.2-35.4-40.8-.5 .1z"/><path class="c20" d="M364.2 902.7l.2 5.4-35.3-35.5-.3 .1z"/><path class="c28 l" d="M332.1 877.4l-.3-2.1-.8-3.1-1.9 .4"/><path class="c22" d="M363.9 897.1l.3 5.6-35.4-30-.3 0z"/><path class="c24" d="M363.6 891.7l.3 5.4-35.4-24.4-.3 .1z"/><path class="c26" d="M363 884.3l.6 7.4-35.4-18.9-.5 .1z"/><path class="c28" d="M362.5 879.2l.5 5.1-35.3-11.4-.6 .1z"/><path class="c30" d="M361.9 876.4l.6 2.8-35.4-6.2-.5 .1z"/></g>
<g class="q"><path class="c62" d="M796.3 725.1l2.1-.6 13.1-2.5-35.4 125.8-15.1 2.8z"/><path class="c12 l" d="M776.1 847.8l-6.9 1.3"/><path class="c60" d="M794.3 727.3l2-2.2-35.3 125.5-2.1 .4z"/><path class="c12 l" d="M769.2 849.1l-8.2 1.5"/><path class="c58" d="M791.9 736.5l.3-1.9 2.1-7.3-35.4 123.7-2.4 .5z"/><path class="c52" d="M754.7 851.8l1.8-.3 35.4-115-1.8 13.6z"/><path class="c44" d="M752.7 852.2l2-.4 35.4-101.7-2 21.8z"/><path fill="#5fd3ac" stroke="#5fd3ac" d="M750.6 852.6l2.1-.4 35.4-80.3-2.1 24.4z"/><path class="c12 l" d="M761 850.6l-8.3 1.6"/><path fill="#39c3da" stroke="#39c3da" d="M748.5 853l2.1-.4 35.4-56.3-2.1 24.8z"/><path fill="#81b7fa" stroke="#81b7fa" d="M746.5 853.4l2-.4 35.4-31.9-2.1 24.6z"/><path class="c12 l" d="M752.7 852.2l-4.2 .8"/><path fill="#919bfb" stroke="#919bfb" d="M744.4 853.8l2.1-.4 35.3-7.7-2 23.3z"/><path fill="#6a5fde" stroke="#6a5fde" d="M742.3 854.2l2.1-.4 35.4 15.2-2.1 18.4z"/><path fill="#6858cc" stroke="#6858cc" d="M741.8 854.2l.5 0 35.4 33.2-.5 3.2z"/><path class="c12 l" d="M742.3 854.2l-.5 0"/><path class="c0" d="M676 866.7l65.8-12.5 35.4 36.4-1.6 7.2-2 3.6-2.1 1-55.9 10.6-2.1-.2-2.1-3.2z"/><path class="c12 l" d="M741.8 854.2l-7.8 1.5"/><path class="c12 l" d="M734 855.7l-8.2 1.6"/><path class="c12 l" d="M725.8 857.3l-8.3 1.5"/><path class="c12 l" d="M717.5 858.8l-8.3 1.6"/><path class="c12 l" d="M709.2 860.4l-8.3 1.6"/><path class="c12 l" d="M700.9 862l-8.3 1.5"/><path class="c12 l" d="M692.6 863.5l-8.3 1.6"/><path class="c2" d="M710 903.7l1.4 5.9-35.4-42.9-1.4 .2z"/><path class="c12 l" d="M684.3 865.1l-8.3 1.6"/><path class="c4" d="M709.4 899.6l.6 4.1-35.4-36.8-.6 .1z"/><path class="c12 l" d="M676 866.7l-1.4 .2"/><path fill="#6c79f9" stroke="#6c79f9" d="M707.3 881.8l2.1 17.8-35.4-32.6-2.1 .4z"/><path fill="#81b7fa" stroke="#81b7fa" d="M705.2 859.8l2.1 22-35.4-14.4-2.1 .4z"/><path fill="#6bd2e3" stroke="#6bd2e3" d="M703.1 836.6l2.1 23.2-35.4 8-2 .4z"/><path fill="#5fd3ac" stroke="#5fd3ac" d="M701.1 813.2l2 23.4-35.3 31.6-2.1 .4z"/><path fill="#b1d468" stroke="#b1d468" d="M699 790.3l2.1 22.9-35.4 55.4-2.1 .4z"/><path class="c52" d="M696.9 769.6l2.1 20.7-35.4 78.7-2.1 .4z"/><path class="c56" d="M695.1 756.2l1.8 13.4-35.4 99.8-1.8 .3z"/><path class="c12 l" d="M669.8 867.8l-8.3 1.6"/><path class="c58" d="M694.9 755l.2 1.2-35.4 113.5-.2 .1z"/><path class="c12 l" d="M661.5 869.4l-2 .4"/><path class="c60" d="M645.2 758l2-2.8 2.1-.8 39.3-7.4 2.1-.2 2.1 1.5 2.1 6.7-35.4 114.8-49.7 9.3z"/><path class="c12 l" d="M659.5 869.8l-8.3 1.5"/><path class="c12 l" d="M651.2 871.3l-8.3 1.6"/><path class="c12 l" d="M642.9 872.9l-8.3 1.6"/><path class="c12 l" d="M634.6 874.5l-8.3 1.5"/><path class="c12 l" d="M626.3 876l-8.2 1.6"/><path class="c56" d="M643.1 766.8l2.1-8.8-35.4 121.1-2.1 .4z"/><path class="c12 l" d="M618.1 877.6l-8.3 1.5"/><path class="c50" d="M605.6 879.9l2.1-.4 35.4-112.7-2.1 17.4z"/><path class="c42" d="M603.6 880.3l2-.4 35.4-95.7-2.1 23.2z"/><path fill="#56cfb9" stroke="#56cfb9" d="M601.5 880.7l2.1-.4 35.3-72.9-2 25.3z"/><path fill="#79c9ee" stroke="#79c9ee" d="M599.4 881.1l2.1-.4 35.4-48-2.1 25.5z"/><path class="c12 l" d="M609.8 879.1l-8.3 1.6"/><path fill="#84b0fd" stroke="#84b0fd" d="M597.3 881.5l2.1-.4 35.4-22.9-2.1 25.1z"/><path class="c12 l" d="M601.5 880.7l-2.1 .4"/><path fill="#9194f6" stroke="#9194f6" d="M595.3 881.9l2-.4 35.4 1.8-2 22.3z"/><path fill="#6a5fde" stroke="#6a5fde" d="M593.7 882.2l1.6-.3 35.4 23.7-1.7 12.8z"/><path class="c2" d="M593.2 882.3l.5-.1 35.3 36.2-.4 2.6z"/><path class="c12 l" d="M593.7 882.2l-.5 .1"/><path class="c0" d="M558 888.9l35.2-6.6 35.4 38.7-2.1 7.1-2.1 2.1-2 .6-24.9 4.7-2.1 .3-2-.9z"/><path class="c12 l" d="M593.2 882.3l-8.3 1.5"/><path class="c12 l" d="M584.9 883.8l-8.3 1.6"/><path class="c12 l" d="M576.6 885.4l-8.2 1.6"/><path class="c12 l" d="M568.4 887l-8.3 1.5"/><path class="c2" d="M555.9 889.3l2.1-.4 35.4 46-2.1-5z"/><path class="c2" d="M590.5 926.2l.8 3.7-35.4-40.6-.7 .1z"/><path class="c6" d="M589.2 917.1l1.3 9.1-35.3-36.8-1.3 .3z"/><path class="c12 l" d="M560.1 888.5l-4.9 .9"/><path fill="#8ba9ff" stroke="#8ba9ff" d="M587.2 897.2l2 19.9-35.3-27.4-2.1 .4z"/><path fill="#7cc3f1" stroke="#7cc3f1" d="M585.1 874.2l2.1 23-35.4-7.1-2.1 .4z"/><path fill="#34c8cf" stroke="#34c8cf" d="M583 850.5l2.1 23.7-35.4 16.3-2.1 .4z"/><path fill="#83d78c" stroke="#83d78c" d="M581 826.9l2 23.6-35.4 40.4-2 .4z"/><path fill="#dacc52" stroke="#dacc52" d="M578.9 804.2l2.1 22.7-35.4 64.4-2.1 .3z"/><path class="c54" d="M576.8 785.4l2.1 18.8-35.4 87.4-2.1 .4z"/><path class="c12 l" d="M551.8 890.1l-8.3 1.5"/><path class="c56" d="M575.9 779.5l.9 5.9-35.4 106.6-.9 .2z"/><path class="c58" d="M574.7 774.3l1.2 5.2-35.4 112.7-1.1 .2z"/><path class="c12 l" d="M543.5 891.6l-4.1 .8"/><path class="c60" d="M549.9 775.9l2.1-2.2 2-.6 16.6-3.1 2.1 .4 2 3.9-35.3 118.1-24.9 4.7z"/><path class="c12 l" d="M539.4 892.4l-8.3 1.6"/><path class="c12 l" d="M531.1 894l-8.3 1.6"/><path class="c58" d="M547.8 783.2l2.1-7.3-35.4 121.2-2.1 .4z"/><path class="c12 l" d="M522.8 895.6l-8.3 1.5"/><path class="c56" d="M547.5 785.2l.3-2-35.4 114.3-.3 .1z"/><path class="c52" d="M510.4 897.9l1.7-.3 35.4-112.4-1.8 13.6z"/><path class="c44" d="M508.3 898.3l2.1-.4 35.3-99.1-2 22.2z"/><path fill="#5fd3ac" stroke="#5fd3ac" d="M506.2 898.7l2.1-.4 35.4-77.3-2.1 24.7z"/><path fill="#75ceea" stroke="#75ceea" d="M504.2 899.1l2-.4 35.4-53-2.1 25.1z"/><path class="c12 l" d="M514.5 897.1l-8.3 1.6"/><path fill="#81b7fa" stroke="#81b7fa" d="M502.1 899.5l2.1-.4 35.3-28.3-2 24.9z"/><path class="c12 l" d="M506.2 898.7l-2 .4"/><path fill="#919bfb" stroke="#919bfb" d="M500 899.9l2.1-.4 35.4-3.8-2.1 23.2z"/><path fill="#6a5fde" stroke="#6a5fde" d="M498.6 900.1l1.4-.2 35.4 19-1.4 12.6z"/><path fill="#6858cc" stroke="#6858cc" d="M497.7 900.3l.9-.2 35.4 31.4-.9 6.4z"/><path class="c2" d="M497.2 900.4l.5-.1 35.4 37.6-.5 2.7z"/><path class="c12 l" d="M498.6 900.1l-1.4 .3"/><path class="c0" d="M482.1 903.2l15.1-2.8 35.4 40.2-1.4 5.4-1.3 2.5-1.4 1-5.5 1.2-1.4 .2-1.4-.2-1.4-1.2-1.4-3.5z"/><path class="c12 l" d="M497.2 900.4l-8.2 1.5"/><path class="c2" d="M516.5 941.3l.9 4.7-35.3-42.8-1 .2z"/><path class="c4" d="M516.1 938.8l.4 2.5-35.4-37.9-.4 .1z"/><path class="c12 l" d="M489 901.9l-7.9 1.5"/><path fill="#6c70f3" stroke="#6c70f3" d="M514.7 927.7l1.4 11.1-35.4-35.3-1.4 .3z"/><path fill="#8fa2fe" stroke="#8fa2fe" d="M513.3 913.5l1.4 14.2-35.4-23.9-1.4 .2z"/><path fill="#81b7fa" stroke="#81b7fa" d="M511.9 897.7l1.4 15.8-35.4-9.5-1.4 .3z"/><path fill="#79c9ee" stroke="#79c9ee" d="M510.5 881.4l1.4 16.3-35.4 6.6-1.3 .2z"/><path fill="#34c8cf" stroke="#34c8cf" d="M509.2 864.9l1.3 16.5-35.3 23.1-1.4 .3z"/><path fill="#5fd3ac" stroke="#5fd3ac" d="M507.8 848.5l1.4 16.4-35.4 39.9-1.4 .3z"/><path fill="#9ad67a" stroke="#9ad67a" d="M506.4 832.1l1.4 16.4-35.4 56.6-1.4 .2z"/><path fill="#dacc52" stroke="#dacc52" d="M505 816.3l1.4 15.8-35.4 73.2-1.4 .3z"/><path class="c54" d="M503.6 802l1.4 14.3-35.4 89.3-1.3 .2z"/><path class="c58" d="M502.1 790.1l1.5 11.9-35.3 103.8-1.6 .3z"/><path class="c12 l" d="M476.5 904.3l-8.2 1.5"/><path class="c60" d="M499.5 782.1l1.4 2.5 1.2 5.5-35.4 116-2.6 .5z"/><path class="c12 l" d="M468.3 905.8l-4.2 .8"/><path class="c62" d="M491.2 783l6.9-1.3 1.4 .4-35.4 124.5-8.3 1.6z"/><path class="c60" d="M488.4 787.3l1.4-3.2 1.4-1.1-35.4 125.2-2.7 .5z"/><path class="c12 l" d="M464.1 906.6l-8.3 1.6"/><path class="c58" d="M487.1 794.8l1.3-7.5-35.3 121.4-1.4 .3z"/><path class="c52" d="M450.3 909.2l1.4-.2 35.4-114.2-1.4 11.9z"/><path class="c48" d="M448.9 909.5l1.4-.3 35.4-102.5-1.4 14.3z"/><path class="c42" d="M447.5 909.7l1.4-.2 35.4-88.5-1.4 14.9z"/><path class="c38" d="M446.2 910l1.3-.3 35.4-73.8-1.4 15.1z"/><path class="c12 l" d="M455.8 908.2l-8.3 1.5"/><path fill="#47ccc4" stroke="#47ccc4" d="M444.8 910.3l1.4-.3 35.3-59-1.3 15z"/><path fill="#46bee2" stroke="#46bee2" d="M443.4 910.5l1.4-.2 35.4-44.3-1.4 15z"/><path fill="#7cc3f1" stroke="#7cc3f1" d="M442 910.8l1.4-.3 35.4-29.5-1.4 15z"/><path fill="#84b0fd" stroke="#84b0fd" d="M440.6 911l1.4-.2 35.4-14.8-1.4 15z"/><path class="c12 l" d="M447.5 909.7l-5.5 1.1"/><path fill="#919bfb" stroke="#919bfb" d="M439.3 911.3l1.3-.3 35.4 0-1.4 15z"/><path fill="#918df0" stroke="#918df0" d="M437.9 911.6l1.4-.3 35.3 14.7-1.3 14.5z"/><path fill="#6858cc" stroke="#6858cc" d="M436.5 911.8l1.4-.2 35.4 28.9-1.4 11.3z"/><path class="c0" d="M435.1 912.1l1.4-.3 35.4 40-.8 2.7-.6-.3z"/><path class="c4" d="M469.1 946.8l1.4 7.4-35.4-42.1-1.4 .3z"/><path class="c12 l" d="M437.9 911.6l-2.8 .5"/><path fill="#6c70f3" stroke="#6c70f3" d="M467.7 935.1l1.4 11.7-35.4-34.4-1.3 .2z"/><path fill="#6a82fd" stroke="#6a82fd" d="M466.4 922.9l1.3 12.2-35.3-22.5-1.4 .3z"/><path fill="#5b96fd" stroke="#5b96fd" d="M465 910.7l1.4 12.2-35.4-10-1.4 .2z"/><path fill="#51afec" stroke="#51afec" d="M463.6 898.5l1.4 12.2-35.4 2.4-1.4 .3z"/><path fill="#46bee2" stroke="#46bee2" d="M462.2 886.3l1.4 12.2-35.4 14.9-1.4 .3z"/><path fill="#34c8cf" stroke="#34c8cf" d="M460.8 874.1l1.4 12.2-35.4 27.4-1.3 .2z"/><path fill="#56cfb9" stroke="#56cfb9" d="M459.5 861.9l1.3 12.2-35.3 39.8-1.4 .3z"/><path fill="#83d78c" stroke="#83d78c" d="M458.1 849.7l1.4 12.2-35.4 52.3-1.4 .2z"/><path class="c44" d="M456.7 837.5l1.4 12.2-35.4 64.7-1.4 .3z"/><path class="c48" d="M455.3 825.2l1.4 12.3-35.4 77.2-1.4 .3z"/><path class="c12 l" d="M429.6 913.1l-8.3 1.6"/><path class="c52" d="M453.9 813.1l1.4 12.1-35.4 89.8-1.3 .2z"/><path class="c56" d="M452.5 802.8l1.4 10.3-35.3 102.1-1.4 .3z"/><path class="c58" d="M451.2 801.8l.6-1.1 .7 2.1-35.3 112.7-1.4 .2z"/><path class="c54" d="M414.4 916l1.4-.3 35.4-113.9-1.4 8.8z"/><path class="c50" d="M413 916.3l1.4-.3 35.4-105.4-1.4 10.8z"/><path class="c46" d="M411.6 916.5l1.4-.2 35.4-94.9-1.4 10.8z"/><path class="c12 l" d="M421.3 914.7l-8.3 1.6"/><path class="c42" d="M410.3 916.8l1.3-.3 35.4-84.3-1.4 10.8z"/><path class="c38" d="M408.9 917l1.4-.2 35.3-73.8-1.3 10.7z"/><path class="c36" d="M407.5 917.3l1.4-.3 35.4-63.3-1.4 10.8z"/><path class="c32" d="M406.1 917.6l1.4-.3 35.4-52.8-1.4 10.8z"/><path fill="#39c3da" stroke="#39c3da" d="M404.7 917.8l1.4-.2 35.4-42.3-1.4 10.8z"/><path fill="#4cb7e8" stroke="#4cb7e8" d="M403.4 918.1l1.3-.3 35.4-31.7-1.4 10.8z"/><path class="c12 l" d="M413 916.3l-8.3 1.5"/><path fill="#55a7f2" stroke="#55a7f2" d="M402 918.3l1.4-.2 35.3-21.2-1.3 10.7z"/><path class="c12 l" d="M404.7 917.8l-1.3 .3"/><path fill="#5b96fd" stroke="#5b96fd" d="M400.6 918.6l1.4-.3 35.4-10.7-1.4 10.8z"/><path fill="#6a82fd" stroke="#6a82fd" d="M399.2 918.9l1.4-.3 35.4-.2-1.4 10.8z"/><path fill="#6c70f3" stroke="#6c70f3" d="M397.8 919.1l1.4-.2 35.4 10.3-1.4 10.5z"/><path class="c8" d="M393.7 919.9l4.1-.8 35.4 20.6-.6 3.3-.8 .9-2.7-2.6z"/><path class="c10" d="M388.2 920.9l5.5-1 35.4 21.4-5.5-5.4z"/><path class="c12" d="M378.5 922.7l9.7-1.8 35.4 15-.8-.6-.6-.2-6.9-.3-1.1-.1-.3-.2z"/><path class="c12" d="M410.8 932.2l3.1 2.3-35.4-11.8-3.1 0z"/><path class="c14" d="M409.1 928.3l1.7 3.9-35.4-9.5-1.7 0z"/><path fill="#579ff9" stroke="#579ff9" d="M408.2 921.2l.9 7.1-35.4-5.6-.9 0z"/><path fill="#7cc3f1" stroke="#7cc3f1" d="M407.3 906.7l.9 14.5-35.4 1.5-.8 0z"/><path fill="#79c9ee" stroke="#79c9ee" d="M407 902.8l.3 3.9-35.3 16-.4 0z"/><path fill="#75ceea" stroke="#75ceea" d="M406.5 896.9l.5 5.9-35.4 19.9-.5 0z"/><path class="c12 l" d="M372.8 922.7l-1.7 0"/><path class="c28" d="M397.3 895l8.3-1.6 .9 3.5-35.4 25.8-.9-.1-3.3-2.7-1.6-4.2-.9-7.6-.8-16.4-.8-11-.9-4.3z"/><path class="c12 l" d="M371.1 922.7l-.9-.1-3.3-2.7-1.4-3.4"/></g>
<g class="q"><path class="c32" d="M790.1 750.1l2.1-15.5 2.1-7.3 2-2.2 2.1-.6 13.1-2.5 35.4 95.1-21.4 4.1z"/><path class="c60 l" d="M811.5 722l-6.9 1.3"/><path class="c60 l" d="M804.6 723.3l-6.2 1.2-2.1 .6"/><path fill="#47ccc4" stroke="#47ccc4" d="M788.1 771.9l2-21.8 35.4 71.1-2.1 .4z"/><path class="c60 l" d="M796.3 725.1l-2 2.2-2.1 7.3-2.1 15.5"/><path class="c52 l" d="M790.1 750.1l-2 21.8"/><path fill="#75d9d3" stroke="#75d9d3" d="M781.8 845.7l6.3-73.8 35.3 49.7-6.2 1.1z"/><path class="c44 l" d="M788.1 771.9l-2.1 24.4"/><path fill="#47ccc4" stroke="#47ccc4" d="M779.8 869l2-23.3 35.4-23-2.1 .4z"/><path class="c20 l" d="M781.8 845.7l-2 23.3"/><path class="c32" d="M775.6 897.8l1.6-7.2 .5-3.2 2.1-18.4 35.3-45.9-4.1 .8z"/><path class="c12 l" d="M779.8 869l-2.1 18.4"/><path class="c4 l" d="M777.7 887.4l-.5 3.2-1.6 7.2"/><path class="c32" d="M744.7 836.5l66.3-12.6-35.4 73.9-2 3.6-2.1 1-55.9 10.6-2.1-.2-2.1-3.2-1.4-5.9-.6-4.1z"/><path class="c4 l" d="M775.6 897.8l-2 3.6-2.1 1-4.2 .8"/><path class="c4 l" d="M767.3 903.2l-8.2 1.6"/><path class="c4 l" d="M759.1 904.8l-8.3 1.6"/><path class="c4 l" d="M750.8 906.4l-8.3 1.5"/><path class="c4 l" d="M742.5 907.9l-8.3 1.6"/><path class="c4 l" d="M734.2 909.5l-8.3 1.6"/><path class="c4 l" d="M725.9 911.1l-8.3 1.6"/><path fill="#47ccc4" stroke="#47ccc4" d="M742.7 836.9l2-.4-35.3 63.1-2.1-17.8z"/><path class="c4 l" d="M717.6 912.7l-2 .3-2.1-.2-2.1-3.2-1.4-5.9-.6-4.1"/><path class="c4 l" d="M709.4 899.6l-2.1-17.8"/><path fill="#75d9d3" stroke="#75d9d3" d="M736.4 838.1l6.3-1.2-35.4 44.9-6.2-68.6z"/><path class="c12 l" d="M707.3 881.8l-2.1-22"/><path class="c20 l" d="M705.2 859.8l-2.1-23.2"/><path fill="#47ccc4" stroke="#47ccc4" d="M734.4 838.5l2-.4-35.3-24.9-2.1-22.9z"/><path class="c32" d="M730.2 839.3l4.2-.8-35.4-48.2-2.1-20.7-2-14.6z"/><path class="c44 l" d="M699 790.3l-2.1-20.7"/><path class="c52 l" d="M696.9 769.6l-1.8-13.4"/><path class="c60 l" d="M695.1 756.2l-.2-1.2"/><path class="c32" d="M641 784.2l2.1-17.4 2.1-8.8 2-2.8 2.1-.8 2.1-.4 37.2-7 2.1-.2 2.1 1.5 2.1 6.7 35.3 84.3-53.8 10.2z"/><path class="c60 l" d="M694.9 755l-2.1-6.7-2.1-1.5-4.1 .6"/><path class="c60 l" d="M686.6 747.4l-8.3 1.5"/><path class="c60 l" d="M678.3 748.9l-8.3 1.6"/><path class="c60 l" d="M670 750.5l-8.3 1.6"/><path class="c60 l" d="M661.7 752.1l-8.3 1.5"/><path class="c60 l" d="M653.4 753.6l-4.1 .8-2.1 .8-2 2.8"/><path fill="#47ccc4" stroke="#47ccc4" d="M638.9 807.4l2.1-23.2 35.4 65.3-2.1 .4z"/><path class="c60 l" d="M645.2 758l-2.1 8.8-2.1 17.4"/><path class="c52 l" d="M641 784.2l-2.1 23.2"/><path fill="#75d9d3" stroke="#75d9d3" d="M634.8 858.2l4.1-50.8 35.4 42.5-4.1 .8z"/><path class="c44 l" d="M638.9 807.4l-2 25.3"/><path fill="#47ccc4" stroke="#47ccc4" d="M630.7 905.6l4.1-47.4 35.4-7.5-4.2 .8z"/><path class="c32" d="M628.6 921l2.1-15.4 35.3-54.1-2 .4z"/><path class="c20 l" d="M632.7 883.3l-2 22.3"/><path class="c12 l" d="M630.7 905.6l-1.7 12.8"/><path class="c4 l" d="M629 918.4l-.4 2.6"/><path class="c32" d="M624.6 859.3l39.4-7.4-35.4 69.1-2.1 7.1-2.1 2.1-2 .6-27 5-2-.9-2.1-5-.8-3.7-1.3-9.1z"/><path class="c4 l" d="M628.6 921l-2.1 7.1-2.1 2.1-4.1 1"/><path class="c4 l" d="M620.3 931.2l-8.3 1.5"/><path class="c4 l" d="M612 932.7l-8.3 1.6"/><path class="c4 l" d="M603.7 934.3l-8.3 1.5"/><path fill="#47ccc4" stroke="#47ccc4" d="M622.5 859.7l2.1-.4-35.4 57.8-2-19.9z"/><path class="c4 l" d="M595.4 935.8l-2-.9-2.1-5-.8-3.7-1.3-9.1-2-19.9"/><path fill="#75d9d3" stroke="#75d9d3" d="M618.4 860.5l4.1-.8-35.3 37.5-4.2-46.7z"/><path class="c12 l" d="M587.2 897.2l-2.1-23"/><path fill="#47ccc4" stroke="#47ccc4" d="M616.3 860.9l2.1-.4-35.4-10-2-23.6z"/><path class="c20 l" d="M585.1 874.2l-2.1-23.7"/><path class="c32" d="M611.3 861.9l5-1-35.3-34-2.1-22.7-2.1-18.8-.9-5.9z"/><path class="c44 l" d="M581 826.9l-2.1-22.7"/><path class="c52 l" d="M578.9 804.2l-2.1-18.8-.9-5.9"/><path class="c32" d="M545.7 798.8l2.1-15.6 2.1-7.3 2.1-2.2 2-.6 16.6-3.1 2.1 .4 2 3.9 1.2 5.2 35.4 82.4-30.2 5.7z"/><path class="c60 l" d="M575.9 779.5l-1.2-5.2-2-3.9-2.1-.4-2.1 .3"/><path class="c60 l" d="M568.5 770.3l-8.3 1.6"/><path class="c60 l" d="M560.2 771.9l-6.2 1.2-2 .6"/><path fill="#47ccc4" stroke="#47ccc4" d="M543.7 821l2-22.2 35.4 68.8-2 .4z"/><path class="c60 l" d="M552 773.7l-2.1 2.2-2.1 7.3-2.1 15.6"/><path class="c52 l" d="M545.7 798.8l-2 22.2"/><path fill="#75d9d3" stroke="#75d9d3" d="M537.5 895.7l6.2-74.7 35.4 47-6.3 1.2z"/><path class="c44 l" d="M543.7 821l-2.1 24.7"/><path fill="#47ccc4" stroke="#47ccc4" d="M535.4 918.9l2.1-23.2 35.3-26.5-2 .4z"/><path class="c32" d="M532.6 940.6l1.4-9.1 1.4-12.6 35.4-49.3-2.8 .5z"/><path class="c20 l" d="M537.5 895.7l-2.1 23.2"/><path class="c12 l" d="M535.4 918.9l-1.4 12.6"/><path class="c4 l" d="M534 931.5l-1.4 9.1"/><path class="c32" d="M551.4 873.2l16.6-3.1-35.4 70.5-1.4 5.4-1.3 2.5-1.4 1-1.4 .4-5.5 1-1.4-.2-1.4-1.2-1.4-3.5-1.3-7.2z"/><path class="c4 l" d="M532.6 940.6l-1.4 5.4-1.3 2.5-1.4 1-4.2 .9"/><path fill="#47ccc4" stroke="#47ccc4" d="M548.7 873.8l2.7-.6-35.3 65.6-1.4-11.1-1.4-14.2z"/><path class="c4 l" d="M524.3 950.4l-2.7 .5-1.4-.2-1.4-1.2-1.4-3.5-1.3-7.2"/><path class="c4 l" d="M516.1 938.8l-1.4-11.1"/><path class="c12 l" d="M514.7 927.7l-1.4-14.2"/><path fill="#75d9d3" stroke="#75d9d3" d="M543.2 874.8l5.5-1-35.4 39.7-5.5-65z"/><path class="c12 l" d="M513.3 913.5l-1.4-15.8"/><path class="c20 l" d="M511.9 897.7l-1.4-16.3"/><path fill="#47ccc4" stroke="#47ccc4" d="M540.4 875.3l2.8-.5-35.4-26.3-2.8-32.2z"/><path class="c32" d="M537.5 875.9l2.9-.6-35.4-59-1.4-14.3-1.5-11.9z"/><path class="c44 l" d="M506.4 832.1l-1.4-15.8"/><path class="c52 l" d="M505 816.3l-1.4-14.3-1.5-11.9"/><path class="c32" d="M485.7 806.7l1.4-11.9 .6-4.3 .7-3.2 1.4-3.2 1.4-1.1 1.4-.4 5.5-.9 1.4 .4 1.4 2.5 1.2 5.5 35.4 85.8-16.4 3.1z"/><path class="c60 l" d="M502.1 790.1l-1.2-5.5-1.4-2.5-1.4-.4-4.1 .7"/><path fill="#47ccc4" stroke="#47ccc4" d="M482.9 835.9l2.8-29.2 35.4 72.3-2.8 .5z"/><path class="c60 l" d="M494 782.4l-2.8 .6-1.4 1.1-1.4 3.2-1.3 7.5-1.4 11.9"/><path class="c52 l" d="M485.7 806.7l-2.8 29.2"/><path fill="#75d9d3" stroke="#75d9d3" d="M477.4 896l5.5-60.1 35.4 43.6-5.5 1.1z"/><path class="c44 l" d="M482.9 835.9l-1.4 15.1"/><path fill="#47ccc4" stroke="#47ccc4" d="M474.6 926l2.8-30 35.4-15.4-2.8 .5z"/><path class="c32" d="M471.9 951.8l1.4-11.3 1.3-14.5 35.4-44.9-2.7 .5z"/><path class="c20 l" d="M477.4 896l-2.8 30"/><path class="c12 l" d="M474.6 926l-1.3 14.5"/><path class="c32" d="M504.5 882.2l2.8-.6-35.4 70.2-.8 2.7-.6-.3-1.4-7.4z"/><path class="c4 l" d="M473.3 940.5l-1.4 11.3-.8 2.7-.6-.3-1.4-7.4"/><path fill="#47ccc4" stroke="#47ccc4" d="M493.4 884.3l11.1-2.1-35.4 64.6-11-97.1z"/><path class="c4 l" d="M469.1 946.8l-1.4-11.7"/><path class="c12 l" d="M467.7 935.1l-2.7-24.4"/><path class="c20 l" d="M465 910.7l-2.8-24.4"/><path class="c32" d="M487.9 885.3l5.5-1-35.3-34.6-4.2-36.6-1.4-10.3z"/><path class="c44 l" d="M458.1 849.7l-2.8-24.5"/><path class="c52 l" d="M455.3 825.2l-2.8-22.4"/><path class="c32" d="M448.4 821.4l1.4-10.8 1.4-8.8 .6-1.1 .7 2.1 35.4 82.5-4.1 .8z"/><path class="c60 l" d="M452.5 802.8l-.7-2.1-.6 1.1-1.4 8.8"/><path class="c52 l" d="M449.8 810.6l-1.4 10.8"/><path fill="#47ccc4" stroke="#47ccc4" d="M436 918.4l12.4-97 35.4 64.7-12.4 2.4z"/><path class="c52 l" d="M448.4 821.4l-1.4 10.8"/><path class="c44 l" d="M447 832.2l-2.7 21.5"/><path class="c20 l" d="M437.4 907.6l-1.4 10.8"/><path class="c32" d="M432.6 943l.6-3.3 2.8-21.3 35.4-29.9-3.4 .6z"/><path class="c20 l" d="M436 918.4l-1.4 10.8"/><path class="c12 l" d="M434.6 929.2l-1.4 10.5-.6 3.3"/><path class="c32" d="M444.4 893.6l23.6-4.5-35.4 53.9-.8 .9-9-8.6-7.5-.5-1.1-.1-.3-.2-3.1-2.3-1.7-3.9z"/><path class="c12 l" d="M432.6 943l-.8 .9-6.9-6.7"/><path class="c12 l" d="M424.9 937.2l-2.1-1.9-6.1-.5"/><path fill="#47ccc4" stroke="#47ccc4" d="M443.6 893.7l.8-.1-35.3 34.7-.9-7.1z"/><path class="c12 l" d="M416.7 934.8l-2.5-.1-3.1-2.2-.3-.3-1.7-3.9"/><path fill="#75d9d3" stroke="#75d9d3" d="M441.8 894.1l1.8-.4-35.4 27.5-.9-14.5-.8-9.8z"/><path class="c12 l" d="M409.1 928.3l-.9-7.1"/><path class="c20 l" d="M408.2 921.2l-1.2-18.4"/><path class="c32" d="M441 894.2l.8-.1-35.3 2.8-.9-3.5z"/><path class="c32" d="M397.3 895l8.3-1.6 35.4 .8-8.3 1.6z"/></g>
<path class="a" d="M114.3 905.6L114.3 682.8M114.3 905.6L432.7 1007.2M432.7 1007.2L846.9 928.5M432.7 1007.2L444.1 1010.8M570.8 981L582.2 984.6M708.8 954.7L720.3 958.4M846.9 928.5L858.3 932.1M432.7 1007.2L420.9 1009.4M273.5 956.4L261.7 958.6M114.3 905.6L102.5 907.8M114.3 905.6L102.9 902M114.3 794.2L102.9 790.6M114.3 682.8L102.9 679.2"/>
<text class="k" text-anchor="start" transform="translate(452.3 1053.5) scale(0.575 1)">0</text>
<text class="k" text-anchor="start" transform="translate(590.4 1027.3) scale(0.575 1)">50</text>
<text class="k" text-anchor="start" transform="translate(728.4 1001) scale(0.575 1)">100</text>
<text class="k" text-anchor="start" transform="translate(866.5 974.8) scale(0.575 1)">150</text>
<text class="k" text-anchor="end" transform="translate(411.9 1051.5) scale(0.575 1)">-5</text>
<text class="k" text-anchor="end" transform="translate(252.7 1000.7) scale(0.575 1)">0</text>
<text class="k" text-anchor="end" transform="translate(93.5 949.9) scale(0.575 1)">5</text>
<text class="k" text-anchor="end" transform="translate(94.3 915.2) scale(0.575 1)">-10</text>
<text class="k" text-anchor="end" transform="translate(94.3 803.8) scale(0.575 1)">0</text>
<text class="k" text-anchor="end" transform="translate(94.3 692.4) scale(0.575 1)">10</text>
<text class="m" text-anchor="middle" transform="translate(286.9 1084.2) scale(.53 1)">y</text>
<text class="m n" text-anchor="middle" transform="translate(616.9 1090.6) scale(.75 1)">t</text>
<text class="b" text-anchor="middle" transform="translate(44.5 796) rotate(-90) scale(.985 .56)">e<tspan class="s" dy="7">2</tspan><tspan class="p" dy="-4" dx="1">(</tspan><tspan dy="-3">y</tspan><tspan class="p" dx="1">,</tspan><tspan dx="9">t</tspan><tspan class="p" dy="3" dx="1">)</tspan></text>
</g>
<g>
<path class="g" d="M1193.3 345.6L1607.5 266.9M1925.9 368.5L1607.5 266.9M1352.5 396.4L1766.7 317.7M1649.8 421L1331.4 319.4M1787.8 394.7L1469.4 293.1M1331.4 319.4L1331.4 96.6M1469.4 293.1L1469.4 70.3M1607.5 266.9L1607.5 44.1M1193.3 234.2L1607.5 155.5M1193.3 122.8L1607.5 44.1M1766.7 317.7L1766.7 94.9M1925.9 368.5L1925.9 145.7M1925.9 257.1L1607.5 155.5M1925.9 145.7L1607.5 44.1"/>
<g class="q"><path class="c31" d="M1623.5 169.8l19.4-3.7-35.4 74.1-11 1.9-2.1-.4-2.1-2.7-1.4-3.9-.7-2.7-2-11z"/><path class="c4 l" d="M1607.5 240.2l-6.9 1.3"/><path class="c4 l" d="M1600.6 241.5l-4.1 .6-2.1-.4-2.1-2.7"/><path class="c4 l" d="M1592.3 239l-1.4-3.9-.7-2.7-2-11"/><path fill="#3ccaca" stroke="#3ccaca" d="M1613.2 171.8l10.3-2-35.3 51.6-2.1-13.8-8.3-60.5z"/><path class="c12 l" d="M1588.2 221.4l-4.2-28.8"/><path class="c20 l" d="M1584 192.6l-2-15.1"/><path class="c31" d="M1604.9 173.3l8.3-1.5-35.4-24.7-6.2-44.5-2.1-11.9z"/><path class="c44 l" d="M1575.7 131.9l-4.1-29.3"/><path class="c52 l" d="M1571.6 102.6l-2.1-11.9"/><path class="c31" d="M1499.1 130.7l4.2-25.4 2-9.1 2.1-5.2 2.1-2.2 2-.8 2.1-.4 45.6-8.7 4.1-.5 2.1 .8 2.1 3.6 .8 2.6 1.2 5.3 35.4 82.6-70.4 13.4z"/><path class="c60 l" d="M1569.5 90.7l-1.2-5.3-.8-2.6-2.1-3.6-2.1-.8-2.1 .1"/><path class="c60 l" d="M1561.2 78.5l-8.2 1.6"/><path class="c60 l" d="M1553 80.1l-8.3 1.6"/><path class="c60 l" d="M1544.7 81.7l-8.3 1.5"/><path class="c60 l" d="M1536.4 83.2l-8.3 1.6"/><path class="c60 l" d="M1528.1 84.8l-8.3 1.6"/><path class="c60 l" d="M1519.8 86.4l-8.3 1.6"/><path class="c60 l" d="M1511.5 88l-2 .8-2.1 2.2-2.1 5.2-2 9.1"/><path class="c60 l" d="M1503.3 105.3l-2.1 12"/><path class="c52 l" d="M1501.2 117.3l-2.1 13.4"/><path fill="#3ccaca" stroke="#3ccaca" d="M1488.8 199.9l10.3-69.2 35.4 56-10.4 2z"/><path class="c44 l" d="M1499.1 130.7l-4.1 27.7"/><path class="c31" d="M1479.1 257.5l1.4-5.7 2-11.2 6.3-40.7 35.3-11.2-9.6 1.8z"/><path class="c20 l" d="M1488.8 199.9l-4.2 27.6"/><path class="c12 l" d="M1484.6 227.5l-2.1 13.1-2 11.2"/><path class="c4 l" d="M1480.5 251.8l-1.4 5.7"/><path class="c31" d="M1472.4 198.5l42.1-8-35.4 67-.7 2.1-2.1 4-2 1.6-2.1 .7-22.8 4.3-2.1 .4-2 .1-2.1-.9-2.1-3.6-.7-2.1-1.3-5.7-2.1-11.6z"/><path class="c4 l" d="M1479.1 257.5l-.7 2.1-2.1 4-2 1.6-2.1 .7"/><path class="c4 l" d="M1472.2 265.9l-8.3 1.5"/><path class="c4 l" d="M1463.9 267.4l-8.3 1.6"/><path class="c4 l" d="M1455.6 269l-8.3 1.6"/><path class="c4 l" d="M1447.3 270.6l-2 .1-2.1-.9-2.1-3.6-.7-2.1-1.3-5.7"/><path class="c4 l" d="M1439.1 258.4l-2.1-11.6"/><path fill="#3ccaca" stroke="#3ccaca" d="M1462 200.5l10.4-2-35.4 48.3-10.4-71.4z"/><path class="c12 l" d="M1437 246.8l-4.2-28"/><path class="c20 l" d="M1432.8 218.8l-2-14.4"/><path class="c31" d="M1453.7 202.1l8.3-1.6-35.4-25.1-6.2-42.6-2.1-12z"/><path class="c44 l" d="M1424.6 161l-4.2-28.2"/><path class="c52 l" d="M1420.4 132.8l-2.1-12"/><path class="c31" d="M1379 155.4l2.1-15.1 2-13 1.6-7.1 .5-2 2.1-4.8 2.1-1.9 2-.7 16.6-3.2 2.1-.3 2-.1 2.1 1.2 2.1 4.1 2 8.3 35.4 81.3-39.3 7.4z"/><path class="c60 l" d="M1418.3 120.8l-2-8.3-2.1-4.1-2.1-1.2-2 .1"/><path class="c60 l" d="M1410.1 107.3l-8.3 1.5"/><path class="c60 l" d="M1401.8 108.8l-8.3 1.6"/><path class="c60 l" d="M1393.5 110.4l-2.1 .4-2 .7-2.1 1.9-2.1 4.8"/><path class="c60 l" d="M1385.2 118.2l-2.1 9.1-2 13"/><path class="c52 l" d="M1381.1 140.3l-2.1 15.1"/><path fill="#3ccaca" stroke="#3ccaca" d="M1368.6 234.2l10.4-78.8 35.4 54.1-10.4 2z"/><path class="c44 l" d="M1379 155.4l-4.1 31.4"/><path class="c31" d="M1361.7 278.7l.7-2.9 2.1-11.7 4.1-29.9 35.4-22.7-6.9 1.3z"/><path class="c20 l" d="M1368.6 234.2l-2 15.5"/><path class="c12 l" d="M1366.6 249.7l-2.1 14.4-2.1 11.7"/><path class="c4 l" d="M1362.4 275.8l-.7 2.9"/><path class="c31" d="M1368.8 218.2l28.3-5.4-35.4 65.9-1.3 4.4-2.1 3.4-2.1 1.3-10.3 2.1-2.1 .2-2.1-.4-2-2.5-1.4-3.7-.7-2.5-2.1-10.4-2.1-13z"/><path class="c4 l" d="M1361.7 278.7l-1.3 4.4-2.1 3.4-2.1 1.3-2.1 .5"/><path class="c4 l" d="M1354.1 288.3l-8.2 1.6"/><path class="c4 l" d="M1345.9 289.9l-2.1 .2-2.1-.4-2-2.5-1.4-3.7-.7-2.5"/><path class="c4 l" d="M1337.6 281l-2.1-10.4"/><path class="c12 l" d="M1335.5 270.6l-2.1-13"/><path fill="#3ccaca" stroke="#3ccaca" d="M1359.8 219.9l9-1.7-35.4 39.4-8.9-61.9z"/><path class="c12 l" d="M1333.4 257.6l-2-14.1"/><path class="c20 l" d="M1331.4 243.5l-2.8-19.1"/><path class="c31" d="M1351.6 221.5l8.2-1.6-35.3-24.2-5.6-38.1-2.7-17.6z"/><path class="c44 l" d="M1321.7 176.6l-2.8-19"/><path class="c52 l" d="M1318.9 157.6l-2.7-17.6"/><path class="c31" d="M1303.8 174.6l4.1-28 1.4-8.1 1.4-6.3 1.3-3.3 .6-.3 .8 .7 1.4 4 1.4 6.7 35.4 81.5-12.5 2.3z"/><path class="c60 l" d="M1316.2 140l-1.4-6.7-1.4-4-.8-.7-.6 .3-1.3 3.3-1.4 6.3-1.4 8.1"/><path class="c52 l" d="M1307.9 146.6l-4.1 28"/><path fill="#3ccaca" stroke="#3ccaca" d="M1294.1 241.4l9.7-66.8 35.3 49.2-9.6 1.9z"/><path class="c44 l" d="M1303.8 174.6l-2.8 19.1"/><path class="c31" d="M1285.8 293.3l1.4-6 1.4-8.2 5.5-37.7 35.4-15.7-8.3 1.5z"/><path class="c20 l" d="M1294.1 241.4l-2.8 19.1"/><path class="c12 l" d="M1291.3 260.5l-4.1 26.8"/><path class="c4 l" d="M1287.2 287.3l-1.4 6"/><path class="c31" d="M1315.7 228.3l5.5-1.1-35.4 66.1-1.4 2.4-1.4-2.2-1.3-6.1-1.4-8.5z"/><path class="c4 l" d="M1285.8 293.3l-1.4 2.4-1.4-2.2-1.3-6.1-1.4-8.5"/><path fill="#3ccaca" stroke="#3ccaca" d="M1306 230.1l9.7-1.8-35.4 50.6-9.7-67.5z"/><path class="c12 l" d="M1280.3 278.9l-2.8-19.1"/><path class="c20 l" d="M1277.5 259.8l-4.1-29"/><path class="c31" d="M1296.3 232l9.7-1.9-35.4-18.7-8.3-57.9-1.3-8.5z"/><path class="c44 l" d="M1267.9 192.1l-2.8-19.4"/><path class="c52 l" d="M1265.1 172.7l-2.8-19.2"/><path class="c60 l" d="M1262.3 153.5l-1.3-8.5"/><path class="c31" d="M1256.8 151.4l1.4-9.7 .5-1.7 .9-.1 1.4 5.1 35.3 87-4.1 .8z"/><path class="c60 l" d="M1261 145l-1.4-5.1-.9 .1-.5 1.7-1.4 9.7"/><path fill="#3ccaca" stroke="#3ccaca" d="M1252.7 196.4l4.1-45 35.4 81.4-4.2 .7z"/><path class="c60 l" d="M1256.8 151.4l-1.4 14.1"/><path class="c52 l" d="M1255.4 165.5l-1.4 15.4"/><path class="c44 l" d="M1254 180.9l-1.3 15.5"/><path fill="#6dd7d7" stroke="#6dd7d7" d="M1248.5 242.9l4.2-46.5 35.3 37.1-4.1 .8z"/><path class="c44 l" d="M1252.7 196.4l-1.4 15.5"/><path fill="#3ccaca" stroke="#3ccaca" d="M1245.8 273.8l2.7-30.9 35.4-8.6-2.8 .6z"/><path class="c31" d="M1243 295.9l1.4-8 1.4-14.1 35.3-38.9-2.7 .5z"/><path class="c20 l" d="M1247.1 258.4l-1.3 15.4"/><path class="c31" d="M1275.6 235.9l2.8-.5-35.4 60.5-1.4-2.1-1.4-8.6z"/><path class="c12 l" d="M1245.8 273.8l-1.4 14.1-1.4 8"/><path class="c4 l" d="M1243 295.9l-1.4-2.1-1.4-8.6"/><path fill="#3ccaca" stroke="#3ccaca" d="M1266 237.7l9.6-1.8-35.4 49.3-9.6-69z"/><path class="c12 l" d="M1240.2 285.2l-2.7-19.7"/><path class="c20 l" d="M1237.5 265.5l-2.8-19.7"/><path class="c31" d="M1260.4 238.8l5.6-1.1-35.4-21.5-4.2-29.5-1.3-7.5z"/><path class="c44 l" d="M1227.8 196.4l-1.4-9.7-1.3-7.5"/><path class="c31" d="M1218.2 211.7l5.5-30.5 1.1-2.5 .3 .5 35.3 59.6-6.9 1.2z"/><path class="c52 l" d="M1225.1 179.2l-.3-.5-1.1 2.5-1.4 7.4"/><path class="c44 l" d="M1222.3 188.6l-4.1 23.1"/><path fill="#3ccaca" stroke="#3ccaca" d="M1212.6 242.4l5.6-30.7 35.3 28.3-5.5-2.1z"/><path class="c33" d="M1209.9 256.2l1.3-6.1 1.4-7.7 35.4-4.5-2.8-1.2z"/><path class="c33" d="M1239.7 234.4l5.5 2.3-35.3 19.5-1.4-4.5-4.2-18.1z"/><path class="c20 l" d="M1209.9 256.2l-1.4-4.5-1.4-6"/><path class="c35" d="M1234.2 229.6l5.5 4.8-35.4-.8-2.7-11.8-2.8-3z"/><path class="c37" d="M1228.7 224.8l5.5 4.8-35.4-10.8-5.5-5.3z"/></g>
<g class="q"><path class="c0" d="M1629.8 168.6l13.1-2.5 35.4 96.6-11.1 2-2.1-.5z"/><path class="c28 l" d="M1642.9 166.1l-6.9 1.3"/><path class="c1" d="M1627.7 169l2.1-.4 35.3 95.6-2-2.6z"/><path class="c3" d="M1625.6 169.4l2.1-.4 35.4 92.6-1.4-3.9-.7-2.8z"/><path class="c28 l" d="M1636 167.4l-8.3 1.6"/><path class="c7" d="M1658.9 244l2.1 10.9-35.4-85.5-2.1 .4z"/><path class="c13" d="M1656.9 230.1l2 13.9-35.4-74.2-2 .4z"/><path class="c19" d="M1654.8 215.2l2.1 14.9-35.4-59.9-2.1 .4z"/><path fill="#4abae6" stroke="#4abae6" d="M1652.7 200l2.1 15.2-35.4-44.6-2.1 .4z"/><path class="c28 l" d="M1627.7 169l-8.3 1.6"/><path fill="#34c6d5" stroke="#34c6d5" d="M1650.6 184.8l2.1 15.2-35.4-29-2 .4z"/><path fill="#5bd1b3" stroke="#5bd1b3" d="M1648.6 169.7l2 15.1-35.3-13.4-2.1 .4z"/><path fill="#8ed783" stroke="#8ed783" d="M1646.5 154.5l2.1 15.2-35.4 2.1-2.1 .4z"/><path fill="#d1ce55" stroke="#d1ce55" d="M1644.4 139.4l2.1 15.1-35.4 17.7-2 .3z"/><path class="c53" d="M1642.4 125.2l2 14.2-35.3 33.1-2.1 .4z"/><path class="c57" d="M1640.3 113.2l2.1 12-35.4 47.7-2.1 .4z"/><path class="c59" d="M1638.2 105.4l.8 2.6 1.3 5.2-35.4 60.1-2.1 .4z"/><path class="c28 l" d="M1613.2 171.8l-8.3 1.5"/><path class="c28 l" d="M1604.9 173.3l-2.1 .4"/><path class="c61" d="M1578.2 113.6l2-2.2 2.1-.8 49.7-9.5 2.1-.1 2 .8 2.1 3.6-35.4 68.3-60 11.4z"/><path class="c28 l" d="M1602.8 173.7l-8.2 1.6"/><path class="c28 l" d="M1594.6 175.3l-8.3 1.6"/><path class="c28 l" d="M1586.3 176.9l-8.3 1.6"/><path class="c28 l" d="M1578 178.5l-8.3 1.5"/><path class="c28 l" d="M1569.7 180l-8.3 1.6"/><path class="c28 l" d="M1561.4 181.6l-8.3 1.6"/><path class="c28 l" d="M1553.1 183.2l-8.2 1.5"/><path class="c59" d="M1576.1 118.8l2.1-5.2-35.4 71.5-2.1 .4z"/><path class="c57" d="M1538.6 185.9l2.1-.4 35.4-66.7-2.1 9.1z"/><path class="c51" d="M1536.6 186.3l2-.4 35.4-58-2.1 12z"/><path class="c47" d="M1534.5 186.7l2.1-.4 35.3-46.4-2 13.4z"/><path class="c28 l" d="M1544.9 184.7l-8.3 1.6"/><path fill="#a6d571" stroke="#a6d571" d="M1532.4 187.1l2.1-.4 35.4-33.4-2.1 13.8z"/><path fill="#65d5a5" stroke="#65d5a5" d="M1530.4 187.5l2-.4 35.4-20-2.1 13.9z"/><path fill="#50cebf" stroke="#50cebf" d="M1528.3 187.9l2.1-.4 35.3-6.5-2 13.8z"/><path class="c28 l" d="M1536.6 186.3l-6.2 1.2"/><path fill="#41c1de" stroke="#41c1de" d="M1526.2 188.3l2.1-.4 35.4 6.9-2.1 13.9z"/><path fill="#4fb3ea" stroke="#4fb3ea" d="M1524.1 188.7l2.1-.4 35.4 20.4-2.1 13.8z"/><path class="c17" d="M1522.1 189.1l2-.4 35.4 33.8-2.1 13.9z"/><path class="c13" d="M1520 189.5l2.1-.4 35.3 47.3-2 13.7z"/><path class="c7" d="M1517.9 189.9l2.1-.4 35.4 60.6-2.1 13.1z"/><path class="c28 l" d="M1524.1 188.7l-6.2 1.2"/><path class="c3" d="M1514.5 190.5l3.4-.6 35.4 73.3-2.1 11.2-1.3 5.6z"/><path class="c1" d="M1513.8 190.6l.7-.1 35.4 89.5-.7 2.2z"/><path class="c28 l" d="M1517.9 189.9l-4.1 .7"/><path class="c0" d="M1478.6 197.3l35.2-6.7 35.4 91.6-2.1 4-2.1 1.6-2 .6-24.9 4.8-2.1 .1-2-.9z"/><path class="c28 l" d="M1513.8 190.6l-8.3 1.6"/><path class="c28 l" d="M1505.5 192.2l-8.3 1.6"/><path class="c28 l" d="M1497.2 193.8l-8.3 1.6"/><path class="c28 l" d="M1488.9 195.4l-8.3 1.5"/><path class="c1" d="M1476.5 197.7l2.1-.4 35.4 95.1-2.1-3.7z"/><path class="c3" d="M1475.8 197.9l.7-.2 35.4 91-.7-2.1z"/><path class="c5" d="M1474.4 198.1l1.4-.2 35.4 88.7-1.4-5.6z"/><path class="c9" d="M1507.7 269.4l2.1 11.6-35.4-82.9-2 .4z"/><path class="c13" d="M1505.7 255.8l2 13.6-35.3-70.9-2.1 .4z"/><path class="c28 l" d="M1480.6 196.9l-8.2 1.6"/><path class="c19" d="M1503.6 241.4l2.1 14.4-35.4-56.9-2.1 .4z"/><path class="c25" d="M1501.5 227l2.1 14.4-35.4-42.1-2 .4z"/><path class="c28 l" d="M1472.4 198.5l-4.2 .8"/><path fill="#3ccaca" stroke="#3ccaca" d="M1499.5 212.5l2 14.5-35.3-27.3-2.1 .4z"/><path fill="#5bd1b3" stroke="#5bd1b3" d="M1497.4 198l2.1 14.5-35.4-12.4-2.1 .4z"/><path fill="#8ed783" stroke="#8ed783" d="M1495.3 183.5l2.1 14.5-35.4 2.5-2.1 .4z"/><path fill="#d1ce55" stroke="#d1ce55" d="M1493.2 169.2l2.1 14.3-35.4 17.4-2 .4z"/><path class="c51" d="M1491.2 155.4l2 13.8-35.3 32.1-2.1 .4z"/><path class="c57" d="M1489.1 143.4l2.1 12-35.4 46.3-2.1 .4z"/><path class="c59" d="M1487 135.1l2.1 8.3-35.4 58.7-2 .4z"/><path class="c28 l" d="M1462 200.5l-8.3 1.6"/><path class="c28 l" d="M1453.7 202.1l-2 .4"/><path class="c61" d="M1458 136l2.1-1.9 2.1-.7 18.6-3.6 2.1 0 2.1 1.2 2 4.1-35.3 67.4-29 5.5z"/><path class="c28 l" d="M1451.7 202.5l-8.3 1.5"/><path class="c28 l" d="M1443.4 204l-8.3 1.6"/><path class="c28 l" d="M1435.1 205.6l-8.3 1.6"/><path class="c59" d="M1456 140.8l2-4.8-35.3 72-2.1 .4z"/><path class="c59" d="M1420 208.5l.6-.1 35.4-67.6-.6 2z"/><path class="c57" d="M1418.5 208.7l1.5-.2 35.4-65.7-1.5 7.1z"/><path class="c51" d="M1416.4 209.1l2.1-.4 35.4-58.8-2.1 13z"/><path class="c28 l" d="M1426.8 207.2l-8.3 1.5"/><path class="c47" d="M1414.4 209.5l2-.4 35.4-46.2-2 15z"/><path fill="#8ed783" stroke="#8ed783" d="M1412.3 209.9l2.1-.4 35.4-31.6-2.1 15.7z"/><path fill="#5bd1b3" stroke="#5bd1b3" d="M1410.2 210.3l2.1-.4 35.4-16.3-2.1 15.8z"/><path class="c28 l" d="M1418.5 208.7l-6.2 1.2"/><path fill="#34c6d5" stroke="#34c6d5" d="M1408.2 210.7l2-.4 35.4-.9-2.1 15.8z"/><path fill="#4fb3ea" stroke="#4fb3ea" d="M1406.1 211.1l2.1-.4 35.3 14.5-2 15.8z"/><path fill="#57a3f5" stroke="#57a3f5" d="M1404 211.5l2.1-.4 35.4 29.9-2.1 15.8z"/><path class="c13" d="M1402 211.9l2-.4 35.4 45.3-2.1 15.5z"/><path class="c7" d="M1399.9 212.3l2.1-.4 35.3 60.4-2 14.4z"/><path class="c3" d="M1397.1 212.8l2.8-.5 35.4 74.4-2.1 11.7-.7 2.9z"/><path class="c28 l" d="M1406.1 211.1l-8.3 1.6"/><path class="c1" d="M1395.7 213.1l1.4-.3 35.4 88.5-1.4 4.4z"/><path class="c28 l" d="M1397.8 212.7l-2.1 .4"/><path class="c0" d="M1377.1 216.6l18.6-3.5 35.4 92.6-2.1 3.4-2 1.2-10.4 2.1-2.1 .3-2-.4z"/><path class="c28 l" d="M1395.7 213.1l-8.2 1.6"/><path class="c28 l" d="M1387.5 214.7l-8.3 1.5"/><path class="c1" d="M1375 217l2.1-.4 35.4 95.7-2.1-2.5z"/><path class="c3" d="M1373 217.4l2-.4 35.4 92.8-1.4-3.7-.7-2.5z"/><path class="c7" d="M1406.3 293.2l2 10.4-35.3-86.2-2.1 .4z"/><path class="c13" d="M1404.2 280.2l2.1 13-35.4-75.4-2.1 .4z"/><path class="c28 l" d="M1379.2 216.2l-8.3 1.6"/><path class="c17" d="M1402.1 266.1l2.1 14.1-35.4-62-2.1 .4z"/><path class="c21" d="M1400.7 256.5l1.4 9.6-35.4-47.5-1.3 .2z"/><path class="c28 l" d="M1370.9 217.8l-4.2 .8"/><path class="c25" d="M1399.4 247l1.3 9.5-35.3-37.7-1.4 .3z"/><path fill="#34c6d5" stroke="#34c6d5" d="M1398 237.4l1.4 9.6-35.4-27.9-1.4 .3z"/><path fill="#3ccaca" stroke="#3ccaca" d="M1396.6 227.9l1.4 9.5-35.4-18-1.4 .2z"/><path fill="#5bd1b3" stroke="#5bd1b3" d="M1395.2 218.3l1.4 9.6-35.4-8.3-1.4 .3z"/><path fill="#78d695" stroke="#78d695" d="M1393.8 208.7l1.4 9.6-35.4 1.6-1.3 .3z"/><path fill="#a6d571" stroke="#a6d571" d="M1392.5 199.2l1.3 9.5-35.3 11.5-1.4 .2z"/><path fill="#d1ce55" stroke="#d1ce55" d="M1391.1 189.6l1.4 9.6-35.4 21.2-1.4 .3z"/><path fill="#e3ca54" stroke="#e3ca54" d="M1389.7 180.1l1.4 9.5-35.4 31.1-1.4 .2z"/><path class="c53" d="M1388.3 171l1.4 9.1-35.4 40.8-1.4 .3z"/><path class="c57" d="M1386.9 162.6l1.4 8.4-35.4 50.2-1.3 .3z"/><path class="c59" d="M1385.6 155.9l1.3 6.7-35.3 58.9-1.4 .2z"/><path class="c28 l" d="M1359.8 219.9l-8.2 1.6"/><path class="c61" d="M1382.8 151.5l.5-.3 .9 .7 1.4 4-35.4 65.8-2.8 .6z"/><path class="c59" d="M1381.4 154.8l1.4-3.3-35.4 70.8-1.4 .2z"/><path class="c57" d="M1344.7 222.8l1.3-.3 35.4-67.7-1.4 6.2z"/><path class="c55" d="M1343.3 223l1.4-.2 35.3-61.8-1.3 8.2z"/><path class="c51" d="M1341.9 223.3l1.4-.3 35.4-53.8-1.4 9z"/><path class="c28 l" d="M1351.6 221.5l-8.3 1.5"/><path class="c47" d="M1340.5 223.6l1.4-.3 35.4-45.1-1.4 9.4z"/><path class="c45" d="M1339.1 223.8l1.4-.2 35.4-36-1.4 9.6z"/><path fill="#8ed783" stroke="#8ed783" d="M1337.8 224.1l1.3-.3 35.4-26.6-1.4 9.5z"/><path fill="#65d5a5" stroke="#65d5a5" d="M1336.4 224.4l1.4-.3 35.3-17.4-1.4 9.6z"/><path fill="#5bd1b3" stroke="#5bd1b3" d="M1335 224.6l1.4-.2 35.3-8.1-1.3 9.5z"/><path class="c28 l" d="M1343.3 223l-6.9 1.4"/><path fill="#3ccaca" stroke="#3ccaca" d="M1333.6 224.9l1.4-.3 35.4 1.2-1.4 9.6z"/><path fill="#41c1de" stroke="#41c1de" d="M1332.2 225.1l1.4-.2 35.4 10.5-1.4 9.5z"/><path fill="#4abae6" stroke="#4abae6" d="M1330.8 225.4l1.4-.3 35.4 19.8-1.4 9.5z"/><path fill="#52abef" stroke="#52abef" d="M1329.5 225.7l1.3-.3 35.4 29-1.4 9.6z"/><path class="c17" d="M1328.1 225.9l1.4-.2 35.3 38.3-1.3 9.5z"/><path class="c13" d="M1326.7 226.2l1.4-.3 35.4 47.6-1.4 9.6z"/><path class="c11" d="M1325.3 226.5l1.4-.3 35.4 56.9-1.4 9.4z"/><path class="c7" d="M1323.9 226.7l1.4-.2 35.4 66-1.4 9.2z"/><path class="c5" d="M1322.6 227l1.3-.3 35.4 75-1.4 8.2z"/><path class="c3" d="M1321.2 227.2l1.4-.2 35.3 82.9-1.3 6z"/><path class="c1" d="M1319.8 227.5l1.4-.3 35.4 88.7-1.4 2.4z"/><path class="c28 l" d="M1329.5 225.7l-8.3 1.5"/><path class="c3" d="M1318.4 227.8l1.4-.3 35.4 90.8-1.4-2.2z"/><path class="c5" d="M1317 228l1.4-.2 35.4 88.3-1.4-6.1z"/><path class="c7" d="M1351 301.5l1.4 8.5-35.4-82-1.3 .3z"/><path class="c11" d="M1349.7 292.1l1.3 9.4-35.3-73.2-1.4 .3z"/><path class="c15" d="M1348.3 282.4l1.4 9.7-35.4-63.5-1.4 .2z"/><path class="c19" d="M1346.9 272.7l1.4 9.7-35.4-53.6-1.4 .3z"/><path class="c28 l" d="M1321.2 227.2l-8.3 1.6"/><path class="c23" d="M1345.5 263.1l1.4 9.6-35.4-43.6-1.4 .2z"/><path class="c28 l" d="M1312.9 228.8l-1.4 .3"/><path fill="#41c1de" stroke="#41c1de" d="M1344.1 253.4l1.4 9.7-35.4-33.8-1.3 .3z"/><path fill="#34c6d5" stroke="#34c6d5" d="M1342.8 243.7l1.3 9.7-35.3-23.8-1.4 .3z"/><path fill="#50cebf" stroke="#50cebf" d="M1341.4 234l1.4 9.7-35.4-13.8-1.4 .2z"/><path fill="#65d5a5" stroke="#65d5a5" d="M1340 224.3l1.4 9.7-35.4-3.9-1.4 .3z"/><path fill="#8ed783" stroke="#8ed783" d="M1338.6 214.7l1.4 9.6-35.4 6.1-1.4 .3z"/><path fill="#bcd260" stroke="#bcd260" d="M1337.2 205l1.4 9.7-35.4 16-1.3 .2z"/><path fill="#d1ce55" stroke="#d1ce55" d="M1335.9 195.3l1.3 9.7-35.3 25.9-1.4 .3z"/><path fill="#f3c85e" stroke="#f3c85e" d="M1334.5 185.6l1.4 9.7-35.4 35.9-1.4 .2z"/><path class="c55" d="M1333.1 176.1l1.4 9.5-35.4 45.8-1.4 .3z"/><path class="c59" d="M1331.7 167.6l1.4 8.5-35.4 55.6-1.4 .3z"/><path class="c28 l" d="M1306 230.1l-8.3 1.6"/><path class="c61" d="M1329.5 162.6l.8-.1 1.4 5.1-35.4 64.4-2.2 .4z"/><path class="c59" d="M1328.9 164.3l.6-1.7-35.4 69.8-.5 .1z"/><path class="c57" d="M1292.2 232.8l1.4-.3 35.3-68.2-1.3 9.7z"/><path fill="#f3c85e" stroke="#f3c85e" d="M1290.8 233l1.4-.2 35.4-58.8-1.4 14.1z"/><path fill="#bcd260" stroke="#bcd260" d="M1289.4 233.3l1.4-.3 35.4-44.9-1.4 15.4z"/><path fill="#aae1a2" stroke="#aae1a2" d="M1288 233.5l1.4-.2 35.4-29.8-1.4 15.5z"/><path class="c28 l" d="M1297.7 231.7l-8.3 1.6"/><path fill="#84ddc6" stroke="#84ddc6" d="M1286.7 233.8l1.3-.3 35.4-14.5-1.4 15.5z"/><path class="c28 l" d="M1289.4 233.3l-1.4 .2"/><path fill="#67d4df" stroke="#67d4df" d="M1285.3 234.1l1.4-.3 35.3 .7-1.3 15.5z"/><path fill="#7bc6ef" stroke="#7bc6ef" d="M1283.9 234.3l1.4-.2 35.4 15.9-1.4 15.5z"/><path fill="#589bfb" stroke="#589bfb" d="M1282.5 234.6l1.4-.3 35.4 31.2-1.4 15.5z"/><path fill="#6887fe" stroke="#6887fe" d="M1281.1 234.9l1.4-.3 35.4 46.4-1.4 15.4z"/><path fill="#6c6cef" stroke="#6c6cef" d="M1279.8 235.1l1.3-.2 35.4 61.5-1.4 14z"/><path class="c5" d="M1277 235.6l2.8-.5 35.3 75.3-1.3 8.1-1.4-2.2z"/><path class="c9" d="M1311 307.8l1.4 8.5-35.4-80.7-1.4 .3z"/><path class="c13" d="M1309.6 297.9l1.4 9.9-35.4-71.9-1.4 .3z"/><path class="c28 l" d="M1283.9 234.3l-8.3 1.6"/><path class="c15" d="M1308.2 288.1l1.4 9.8-35.4-61.7-1.3 .2z"/><path class="c19" d="M1306.9 278.2l1.3 9.9-35.3-51.7-1.4 .3z"/><path class="c23" d="M1305.5 268.4l1.4 9.8-35.4-41.5-1.4 .3z"/><path class="c28 l" d="M1275.6 235.9l-4.1 .8"/><path fill="#41c1de" stroke="#41c1de" d="M1304.1 258.5l1.4 9.9-35.4-31.4-1.4 .2z"/><path fill="#3ccaca" stroke="#3ccaca" d="M1302.7 248.6l1.4 9.9-35.4-21.3-1.4 .3z"/><path fill="#5bd1b3" stroke="#5bd1b3" d="M1301.3 238.8l1.4 9.8-35.4-11.1-1.3 .2z"/><path fill="#78d695" stroke="#78d695" d="M1300 228.9l1.3 9.9-35.3-1.1-1.4 .3z"/><path fill="#8ed783" stroke="#8ed783" d="M1298.6 219l1.4 9.9-35.4 9.1-1.4 .3z"/><path fill="#bcd260" stroke="#bcd260" d="M1297.2 209.2l1.4 9.8-35.4 19.3-1.4 .2z"/><path class="c49" d="M1295.5 201.3l.3 .5 1.4 7.4-35.4 29.3-1.6 .3z"/><path class="c47" d="M1259.1 239l1.1-.2 35.3-37.5-1.1 2.5z"/><path class="c45" d="M1257.7 239.3l1.4-.3 35.3-35.2-1.4 7.4z"/><path class="c43" d="M1256.3 239.6l1.4-.3 35.3-28.1-1.3 7.7z"/><path class="c28 l" d="M1266 237.7l-8.3 1.6"/><path class="c39" d="M1254.9 239.8l1.4-.2 35.4-20.7-1.4 7.6z"/><path fill="#65d5a5" stroke="#65d5a5" d="M1253.5 240l1.4-.2 35.4-13.3-1.4 7.7z"/><path fill="#5bd1b3" stroke="#5bd1b3" d="M1252.1 239.5l1.4 .5 35.4-5.8-1.4 7.7z"/><path class="c28 l" d="M1257.7 239.3l-4.2 .7"/><path fill="#3ccaca" stroke="#3ccaca" d="M1250.8 239l1.3 .5 35.4 2.4-1.4 7.7z"/><path fill="#34c6d5" stroke="#34c6d5" d="M1249.4 238.4l1.4 .6 35.3 10.6-1.3 7.7z"/><path class="c27" d="M1248 237.9l1.4 .5 35.4 18.9-1.4 7.7z"/><path class="c23" d="M1246.6 237.3l1.4 .6 35.4 27.1-1.4 7.7z"/><path class="c21" d="M1245.2 236.7l1.4 .6 35.4 35.4-1.4 6z"/><path class="c23" d="M1279.2 274.3l1.4 4.4-35.4-42-1.3-.5z"/><path class="c25" d="M1277.9 268.3l1.3 6-35.3-38.1-1.4-.6z"/><path class="c27" d="M1276.5 262.2l1.4 6.1-35.4-32.7-1.4-.6z"/><path class="c29" d="M1275.1 256.2l1.4 6-35.4-27.2-1.4-.6z"/><path class="c36 l" d="M1249.4 238.4l-8.3-3.4"/><path class="c33" d="M1273.7 250.1l1.4 6.1-35.4-21.8-1.4-1.1z"/><path class="c35" d="M1269.6 241.4l2.7 2.9 1.4 5.8-35.4-16.8-4.1-3.7z"/><path class="c37" d="M1264.1 236.1l5.5 5.3-35.4-11.8-5.5-4.8z"/></g>
<g class="q"><path class="c31" d="M1694.3 192.4l19.3-3.7-35.3 74-11.1 2-2.1-.5-2-2.6-1.4-3.9-.7-2.8-2.1-10.9z"/><path class="c4 l" d="M1678.3 262.7l-6.9 1.4"/><path class="c4 l" d="M1671.4 264.1l-4.2 .6-2.1-.5-2-2.6"/><path class="c4 l" d="M1663.1 261.6l-1.4-3.9-.7-2.8-2.1-10.9"/><path fill="#3ccaca" stroke="#3ccaca" d="M1683.9 194.3l10.4-1.9-35.4 51.6-2-13.9-8.3-60.4z"/><path class="c12 l" d="M1658.9 244l-4.1-28.8"/><path class="c20 l" d="M1654.8 215.2l-2.1-15.2"/><path class="c31" d="M1675.7 195.9l8.2-1.6-35.3-24.6-6.2-44.5-2.1-12z"/><path class="c44 l" d="M1646.5 154.5l-4.1-29.3"/><path class="c52 l" d="M1642.4 125.2l-2.1-12"/><path class="c31" d="M1569.9 153.3l4.1-25.4 2.1-9.1 2.1-5.2 2-2.2 2.1-.8 2.1-.5 45.5-8.6 4.2-.5 2 .8 2.1 3.6 .8 2.6 1.3 5.2 35.4 82.7-70.4 13.4z"/><path class="c60 l" d="M1640.3 113.2l-1.3-5.2-.8-2.6-2.1-3.6-2-.8-2.1 .1"/><path class="c60 l" d="M1632 101.1l-8.3 1.6"/><path class="c60 l" d="M1623.7 102.7l-8.3 1.5"/><path class="c60 l" d="M1615.4 104.2l-8.2 1.6"/><path class="c60 l" d="M1607.2 105.8l-8.3 1.6"/><path class="c60 l" d="M1598.9 107.4l-8.3 1.6"/><path class="c60 l" d="M1590.6 109l-8.3 1.6"/><path class="c60 l" d="M1582.3 110.6l-2.1 .8-2 2.2-2.1 5.2-2.1 9.1"/><path class="c60 l" d="M1574 127.9l-2.1 12"/><path class="c52 l" d="M1571.9 139.9l-2 13.4"/><path fill="#3ccaca" stroke="#3ccaca" d="M1559.5 222.5l10.4-69.2 35.4 56-10.4 2z"/><path class="c44 l" d="M1569.9 153.3l-4.2 27.7"/><path class="c31" d="M1549.9 280l1.3-5.6 2.1-11.2 6.2-40.7 35.4-11.2-9.7 1.8z"/><path class="c20 l" d="M1559.5 222.5l-4.1 27.6"/><path class="c12 l" d="M1555.4 250.1l-2.1 13.1-2.1 11.2"/><path class="c4 l" d="M1551.2 274.4l-1.3 5.6"/><path class="c31" d="M1543.1 221.1l42.1-8-35.3 66.9-.7 2.2-2.1 4-2.1 1.6-2 .6-22.8 4.4-2.1 .4-2.1 .1-2-.9-2.1-3.7-.7-2.1-1.4-5.6-2.1-11.6z"/><path class="c4 l" d="M1549.9 280l-.7 2.2-2.1 4-2.1 1.6-2 .6"/><path class="c4 l" d="M1543 288.4l-8.3 1.6"/><path class="c4 l" d="M1534.7 290l-8.3 1.6"/><path class="c4 l" d="M1526.4 291.6l-8.3 1.6"/><path class="c4 l" d="M1518.1 293.2l-2.1 .1-2-.9-2.1-3.7-.7-2.1-1.4-5.6"/><path class="c4 l" d="M1509.8 281l-2.1-11.6"/><path fill="#3ccaca" stroke="#3ccaca" d="M1532.8 223.1l10.3-2-35.4 48.3-10.3-71.4z"/><path class="c12 l" d="M1507.7 269.4l-4.1-28"/><path class="c20 l" d="M1503.6 241.4l-2.1-14.4"/><path class="c31" d="M1524.5 224.6l8.3-1.5-35.4-25.1-6.2-42.6-2.1-12z"/><path class="c44 l" d="M1495.3 183.5l-4.1-28.1"/><path class="c52 l" d="M1491.2 155.4l-2.1-12"/><path class="c31" d="M1449.8 177.9l2-15 2.1-13 1.5-7.1 .6-2 2-4.8 2.1-1.9 2.1-.7 16.5-3.2 2.1-.4 2.1 0 2.1 1.2 2 4.1 2.1 8.3 35.4 81.2-39.4 7.5z"/><path class="c60 l" d="M1489.1 143.4l-2.1-8.3-2-4.1-2.1-1.2-2.1 0"/><path class="c60 l" d="M1480.8 129.8l-8.3 1.6"/><path class="c60 l" d="M1472.5 131.4l-8.2 1.6"/><path class="c60 l" d="M1464.3 133l-2.1 .4-2.1 .7-2.1 1.9-2 4.8"/><path class="c60 l" d="M1456 140.8l-2.1 9.1-2.1 13"/><path class="c52 l" d="M1451.8 162.9l-2 15"/><path fill="#3ccaca" stroke="#3ccaca" d="M1439.4 256.8l10.4-78.9 35.3 54.2-10.3 2z"/><path class="c44 l" d="M1449.8 177.9l-4.2 31.5"/><path class="c31" d="M1432.5 301.3l.7-2.9 2.1-11.7 4.1-29.9 35.4-22.7-6.9 1.3z"/><path class="c20 l" d="M1439.4 256.8l-2.1 15.5"/><path class="c12 l" d="M1437.3 272.3l-2 14.4-2.1 11.7"/><path class="c4 l" d="M1433.2 298.4l-.7 2.9"/><path class="c31" d="M1439.6 240.8l28.3-5.4-35.4 65.9-1.4 4.4-2.1 3.4-2 1.2-10.4 2.1-2.1 .3-2-.4-2.1-2.5-1.4-3.7-.7-2.5-2-10.4-2.1-13z"/><path class="c4 l" d="M1432.5 301.3l-1.4 4.4-2.1 3.4-2 1.2-2.1 .6"/><path class="c4 l" d="M1424.9 310.9l-8.3 1.5"/><path class="c4 l" d="M1416.6 312.4l-2.1 .3-2-.4-2.1-2.5-1.4-3.7-.7-2.5"/><path class="c4 l" d="M1408.3 303.6l-2-10.4"/><path class="c12 l" d="M1406.3 293.2l-2.1-13"/><path fill="#3ccaca" stroke="#3ccaca" d="M1430.6 242.5l9-1.7-35.4 39.4-9-61.9z"/><path class="c12 l" d="M1404.2 280.2l-2.1-14.1"/><path class="c20 l" d="M1402.1 266.1l-2.7-19.1"/><path class="c31" d="M1422.3 244.1l8.3-1.6-35.4-24.2-5.5-38.2-2.8-17.5z"/><path class="c44 l" d="M1392.5 199.2l-2.8-19.1"/><path class="c52 l" d="M1389.7 180.1l-2.8-17.5"/><path class="c31" d="M1374.5 197.2l4.2-28 1.3-8.2 1.4-6.2 1.4-3.3 .5-.3 .9 .7 1.4 4 1.3 6.7 35.4 81.5-12.4 2.3z"/><path class="c60 l" d="M1386.9 162.6l-1.3-6.7-1.4-4-.9-.7-.5 .3-1.4 3.3-1.4 6.2-1.3 8.2"/><path class="c52 l" d="M1378.7 169.2l-4.2 28"/><path fill="#3ccaca" stroke="#3ccaca" d="M1364.8 264l9.7-66.8 35.4 49.2-9.7 1.8z"/><path class="c44 l" d="M1374.5 197.2l-2.8 19.1"/><path class="c31" d="M1356.6 315.9l1.3-6 1.4-8.2 5.5-37.7 35.4-15.8-8.3 1.6z"/><path class="c20 l" d="M1364.8 264l-2.7 19.1"/><path class="c12 l" d="M1362.1 283.1l-4.2 26.8"/><path class="c4 l" d="M1357.9 309.9l-1.3 6"/><path class="c31" d="M1386.4 250.9l5.5-1.1-35.3 66.1-1.4 2.4-1.4-2.2-1.4-6.1-1.4-8.5z"/><path class="c4 l" d="M1356.6 315.9l-1.4 2.4-1.4-2.2-1.4-6.1-1.4-8.5"/><path fill="#3ccaca" stroke="#3ccaca" d="M1376.8 252.7l9.6-1.8-35.4 50.6-9.6-67.5z"/><path class="c12 l" d="M1351 301.5l-2.7-19.1"/><path class="c20 l" d="M1348.3 282.4l-4.2-29"/><path class="c31" d="M1367.1 254.5l9.7-1.8-35.4-18.7-8.3-57.9-1.4-8.5z"/><path class="c44 l" d="M1338.6 214.7l-2.7-19.4"/><path class="c52 l" d="M1335.9 195.3l-2.8-19.2"/><path class="c60 l" d="M1333.1 176.1l-1.4-8.5"/><path class="c31" d="M1327.6 174l1.3-9.7 .6-1.7 .8-.1 1.4 5.1 35.4 86.9-4.2 .8z"/><path class="c60 l" d="M1331.7 167.6l-1.4-5.1-.8 .1-.6 1.7-1.3 9.7"/><path fill="#3ccaca" stroke="#3ccaca" d="M1323.4 219l4.2-45 35.3 81.3-4.1 .8z"/><path class="c60 l" d="M1327.6 174l-1.4 14.1"/><path class="c52 l" d="M1326.2 188.1l-1.4 15.4"/><path class="c44 l" d="M1324.8 203.5l-1.4 15.5"/><path fill="#6dd7d7" stroke="#6dd7d7" d="M1319.3 265.5l4.1-46.5 35.4 37.1-4.1 .8z"/><path class="c44 l" d="M1323.4 219l-1.4 15.5"/><path fill="#3ccaca" stroke="#3ccaca" d="M1316.5 296.4l2.8-30.9 35.4-8.6-2.8 .5z"/><path class="c31" d="M1313.8 318.5l1.3-8.1 1.4-14 35.4-39-2.8 .6z"/><path class="c20 l" d="M1317.9 281l-1.4 15.4"/><path class="c31" d="M1346.4 258.5l2.7-.5-35.3 60.5-1.4-2.2-1.4-8.5z"/><path class="c12 l" d="M1316.5 296.4l-1.4 14-1.3 8.1"/><path class="c4 l" d="M1313.8 318.5l-1.4-2.2-1.4-8.5"/><path fill="#3ccaca" stroke="#3ccaca" d="M1336.7 260.3l9.7-1.8-35.4 49.3-9.7-69z"/><path class="c12 l" d="M1311 307.8l-2.8-19.7"/><path class="c20 l" d="M1308.2 288.1l-2.7-19.7"/><path class="c31" d="M1331.2 261.4l5.5-1.1-35.4-21.5-4.1-29.6-1.4-7.4z"/><path class="c44 l" d="M1298.6 219l-1.4-9.8-1.4-7.4"/><path class="c31" d="M1288.9 234.2l5.5-30.4 1.1-2.5 .3 .5 35.4 59.6-6.9 1.1z"/><path class="c52 l" d="M1295.8 201.8l-.3-.5-1.1 2.5-1.4 7.4"/><path class="c44 l" d="M1293 211.2l-4.1 23"/><path fill="#3ccaca" stroke="#3ccaca" d="M1283.4 265l5.5-30.8 35.4 28.3-5.5-2.1z"/><path class="c33" d="M1280.6 278.7l1.4-6 1.4-7.7 35.4-4.6-2.8-1.1z"/><path class="c33" d="M1310.5 257l5.5 2.3-35.4 19.4-1.4-4.4-4.1-18.1z"/><path class="c20 l" d="M1280.6 278.7l-1.4-4.4-1.3-6"/><path class="c35" d="M1305 252.2l5.5 4.8-35.4-.8-2.8-11.9-2.7-2.9z"/><path class="c37" d="M1299.4 247.4l5.6 4.8-35.4-10.8-5.5-5.3z"/></g>
<g class="q"><path class="c0" d="M1704.7 190.4l8.9-1.7 35.4 96.6-6.9 1.3-2.1-.1z"/><path class="c28 l" d="M1713.6 188.7l-6.9 1.3"/><path class="c1" d="M1702.6 190.8l2.1-.4 35.3 96.1-2-1.6z"/><path class="c3" d="M1700.4 191.2l2.2-.4 35.4 94.1-2.2-5.3z"/><path class="c5" d="M1698.4 191.6l2-.4 35.4 88.4-2-8.8z"/><path class="c11" d="M1731.8 257.9l2 12.9-35.4-79.2-2 .4z"/><path class="c28 l" d="M1706.7 190l-8.3 1.6"/><path class="c17" d="M1729.7 243.4l2.1 14.5-35.4-65.9-2.1 .4z"/><path class="c21" d="M1727.6 228.4l2.1 15-35.4-51-2.1 .4z"/><path class="c28 l" d="M1698.4 191.6l-4.1 .8"/><path fill="#41c1de" stroke="#41c1de" d="M1725.5 213.3l2.1 15.1-35.4-35.6-2 .4z"/><path fill="#50cebf" stroke="#50cebf" d="M1723.5 198.3l2 15-35.3-20.1-2.1 .4z"/><path fill="#78d695" stroke="#78d695" d="M1721.4 183.2l2.1 15.1-35.4-4.7-2.1 .3z"/><path fill="#bcd260" stroke="#bcd260" d="M1719.3 168.2l2.1 15-35.4 10.7-2.1 .4z"/><path fill="#e3ca54" stroke="#e3ca54" d="M1717.3 153.5l2 14.7-35.4 26.1-2 .4z"/><path class="c55" d="M1715.2 140.4l2.1 13.1-35.4 41.2-2.1 .4z"/><path class="c59" d="M1713 130l2.2 10.4-35.4 54.7-2.2 .4z"/><path class="c28 l" d="M1688.1 193.6l-8.3 1.5"/><path class="c28 l" d="M1679.8 195.1l-2.2 .4"/><path class="c61" d="M1651 136.9l2.1-3 2-1.1 51.8-9.8 2.1 .1 2 2 2 4.9-35.4 65.5-62 11.8z"/><path class="c28 l" d="M1677.6 195.5l-8.1 1.6"/><path class="c28 l" d="M1669.5 197.1l-8.3 1.6"/><path class="c28 l" d="M1661.2 198.7l-8.3 1.5"/><path class="c28 l" d="M1652.9 200.2l-8.3 1.6"/><path class="c28 l" d="M1644.6 201.8l-8.3 1.6"/><path class="c28 l" d="M1636.3 203.4l-8.3 1.6"/><path class="c28 l" d="M1628 205l-8.3 1.5"/><path class="c59" d="M1649.5 140.9l1.5-4-35.4 70.4-1.4 .3z"/><path class="c59" d="M1613.5 207.7l.7-.1 35.3-66.7-.6 2.3z"/><path class="c55" d="M1611.5 208.1l2-.4 35.4-64.5-2.1 10z"/><path class="c51" d="M1609.4 208.5l2.1-.4 35.3-54.9-2 12.4z"/><path class="c28 l" d="M1619.7 206.5l-8.2 1.6"/><path class="c45" d="M1607.3 208.9l2.1-.4 35.4-42.9-2.1 13.5z"/><path fill="#8ed783" stroke="#8ed783" d="M1605.3 209.3l2-.4 35.4-29.8-2.1 13.8z"/><path fill="#5bd1b3" stroke="#5bd1b3" d="M1603.2 209.7l2.1-.4 35.3-16.4-2 13.7z"/><path class="c28 l" d="M1611.5 208.1l-6.2 1.2"/><path fill="#3ccaca" stroke="#3ccaca" d="M1601.1 210.1l2.1-.4 35.4-3.1-2.1 13.8z"/><path fill="#41c1de" stroke="#41c1de" d="M1599 210.5l2.1-.4 35.4 10.3-2.1 13.7z"/><path fill="#52abef" stroke="#52abef" d="M1597 210.9l2-.4 35.4 23.6-2.1 13.8z"/><path class="c17" d="M1594.9 211.3l2.1-.4 35.3 37-2 13.7z"/><path class="c11" d="M1592.8 211.7l2.1-.4 35.4 50.3-2.1 13.5z"/><path class="c7" d="M1590.8 212l2-.3 35.4 63.4-2.1 12.8z"/><path class="c3" d="M1587.7 212.6l3.1-.6 35.3 75.9-2 10.5-1 3.7z"/><path class="c28 l" d="M1597 210.9l-8.3 1.5"/><path class="c1" d="M1586.6 212.8l1.1-.2 35.4 89.5-1.1 3.3z"/><path class="c28 l" d="M1588.7 212.4l-2.1 .4"/><path class="c0" d="M1553.5 219.1l33.1-6.3 35.4 92.6-2.1 3.4-2.1 1.3-2 .5-22.8 4.4-2.1 .3-2 .1z"/><path class="c28 l" d="M1586.6 212.8l-8.3 1.6"/><path class="c28 l" d="M1578.3 214.4l-8.3 1.6"/><path class="c28 l" d="M1570 216l-8.2 1.6"/><path class="c28 l" d="M1561.8 217.6l-8.3 1.5"/><path class="c1" d="M1549.3 219.9l4.2-.8 35.4 96.3-2.1-1-2.1-3.9z"/><path class="c3" d="M1548.8 220l.5-.1 35.4 90.6-.6-1.7z"/><path class="c5" d="M1547.3 220.3l1.5-.3 35.3 88.8-1.5-6.2z"/><path class="c9" d="M1580.6 290.9l2 11.7-35.3-82.3-2.1 .4z"/><path class="c15" d="M1578.5 277.3l2.1 13.6-35.4-70.2-2.1 .4z"/><path class="c28 l" d="M1553.5 219.1l-8.3 1.6"/><path class="c19" d="M1576.4 263.1l2.1 14.2-35.4-56.2-2.1 .4z"/><path class="c25" d="M1574.4 248.7l2 14.4-35.4-41.6-2 .4z"/><path class="c28 l" d="M1545.2 220.7l-4.2 .8"/><path fill="#3ccaca" stroke="#3ccaca" d="M1572.3 234.4l2.1 14.3-35.4-26.8-2.1 .4z"/><path fill="#5bd1b3" stroke="#5bd1b3" d="M1570.2 220l2.1 14.4-35.4-12.1-2.1 .4z"/><path fill="#8ed783" stroke="#8ed783" d="M1568.1 205.7l2.1 14.3-35.4 2.7-2 .4z"/><path fill="#d1ce55" stroke="#d1ce55" d="M1566.1 191.4l2 14.3-35.3 17.4-2.1 .4z"/><path class="c51" d="M1564 177.7l2.1 13.7-35.4 32.1-2.1 .4z"/><path class="c57" d="M1561.9 165.8l2.1 11.9-35.4 46.2-2 .3z"/><path class="c59" d="M1559.9 157.4l2 8.4-35.3 58.4-2.1 .4z"/><path class="c28 l" d="M1534.8 222.7l-8.2 1.5"/><path class="c28 l" d="M1526.6 224.2l-2.1 .4"/><path class="c61" d="M1530.9 157.8l2-1.6 2.1-.6 18.6-3.6 2.1 0 2.1 1.2 2.1 4.2-35.4 67.2-29 5.5z"/><path class="c28 l" d="M1524.5 224.6l-8.3 1.6"/><path class="c28 l" d="M1516.2 226.2l-8.3 1.6"/><path class="c28 l" d="M1507.9 227.8l-8.3 1.6"/><path class="c59" d="M1528 165l.8-2.9 2.1-4.3-35.4 72.3-2.9 .6z"/><path class="c57" d="M1491.3 230.9l1.3-.2 35.4-65.7-1.3 5.6z"/><path class="c53" d="M1489.3 231.3l2-.4 35.4-60.3-2 12.4z"/><path class="c28 l" d="M1499.6 229.4l-8.3 1.5"/><path class="c47" d="M1487.2 231.7l2.1-.4 35.4-48.3-2.1 14.7z"/><path fill="#8ed783" stroke="#8ed783" d="M1485.1 232.1l2.1-.4 35.4-34-2.1 15.5z"/><path fill="#65d5a5" stroke="#65d5a5" d="M1483.1 232.5l2-.4 35.4-18.9-2.1 15.7z"/><path fill="#3ccaca" stroke="#3ccaca" d="M1481 232.9l2.1-.4 35.3-3.6-2 15.7z"/><path class="c28 l" d="M1491.3 230.9l-8.2 1.6"/><path fill="#4abae6" stroke="#4abae6" d="M1478.9 233.3l2.1-.4 35.4 11.7-2.1 15.7z"/><path fill="#57a3f5" stroke="#57a3f5" d="M1476.8 233.7l2.1-.4 35.4 27-2.1 15.6z"/><path class="c13" d="M1474.8 234.1l2-.4 35.4 42.2-2 15.5z"/><path class="c9" d="M1472.7 234.5l2.1-.4 35.4 57.3-2.1 14.7z"/><path class="c5" d="M1470.6 234.9l2.1-.4 35.4 71.6-2.1 12.3z"/><path class="c3" d="M1469.5 235.1l1.1-.2 35.4 83.5-1.1 5.2z"/><path class="c28 l" d="M1478.9 233.3l-8.3 1.6"/><path class="c1" d="M1468.6 235.3l.9-.2 35.4 88.5-1 3.1z"/><path class="c28 l" d="M1470.6 234.9l-2 .4"/><path class="c0" d="M1449.9 238.8l18.7-3.5 35.3 91.4-2 4.1-2.1 1.6-2.1 .6-8.3 1.6-2 .4-2.1-.1z"/><path class="c28 l" d="M1468.6 235.3l-8.3 1.5"/><path class="c28 l" d="M1460.3 236.8l-8.3 1.6"/><path class="c1" d="M1447.9 239.2l2-.4 35.4 96.1-2.1-1.7z"/><path class="c3" d="M1445.8 239.6l2.1-.4 35.3 94-2-4.9z"/><path class="c5" d="M1443.7 240l2.1-.4 35.4 88.7-2.1-9.1z"/><path class="c11" d="M1477 306.9l2.1 12.3-35.4-79.2-2.1 .4z"/><path class="c28 l" d="M1452 238.4l-8.3 1.6"/><path class="c15" d="M1474.9 293.1l2.1 13.8-35.4-66.5-2 .4z"/><path class="c21" d="M1472.9 278.9l2 14.2-35.3-52.3-2.1 .4z"/><path class="c28 l" d="M1443.7 240l-4.1 .8"/><path class="c25" d="M1471.5 269.4l1.4 9.5-35.4-37.7-1.4 .2z"/><path fill="#34c6d5" stroke="#34c6d5" d="M1470.1 260l1.4 9.4-35.4-28-1.4 .3z"/><path fill="#3ccaca" stroke="#3ccaca" d="M1468.7 250.5l1.4 9.5-35.4-18.3-1.3 .3z"/><path fill="#5bd1b3" stroke="#5bd1b3" d="M1467.4 241l1.3 9.5-35.3-8.5-1.4 .2z"/><path fill="#78d695" stroke="#78d695" d="M1466 231.5l1.4 9.5-35.4 1.2-1.4 .3z"/><path fill="#a6d571" stroke="#a6d571" d="M1464.6 222l1.4 9.5-35.4 11-1.4 .2z"/><path fill="#bcd260" stroke="#bcd260" d="M1463.2 212.5l1.4 9.5-35.4 20.7-1.4 .3z"/><path fill="#e3ca54" stroke="#e3ca54" d="M1461.8 203.1l1.4 9.4-35.4 30.5-1.3 .3z"/><path class="c53" d="M1460.5 194l1.3 9.1-35.3 40.2-1.4 .2z"/><path class="c57" d="M1459.1 185.6l1.4 8.4-35.4 49.5-1.4 .3z"/><path class="c59" d="M1457.7 178.7l1.4 6.9-35.4 58.2-1.4 .3z"/><path class="c28 l" d="M1432 242.2l-8.3 1.6"/><path class="c61" d="M1454.9 173.7l.4-.2 1 1 1.4 4.2-35.4 65.4-2.7 .5z"/><path class="c59" d="M1453.5 176.6l1.4-2.9-35.3 70.9-1.4 .2z"/><path class="c57" d="M1416.8 245.1l1.4-.3 35.3-68.2-1.3 5.9z"/><path class="c55" d="M1415.4 245.4l1.4-.3 35.4-62.6-1.4 7.9z"/><path class="c51" d="M1414 245.6l1.4-.2 35.4-55-1.4 8.9z"/><path class="c28 l" d="M1423.7 243.8l-8.3 1.6"/><path class="c49" d="M1412.6 245.9l1.4-.3 35.4-46.3-1.4 9.3z"/><path class="c45" d="M1411.3 246.1l1.3-.2 35.4-37.3-1.4 9.5z"/><path fill="#8ed783" stroke="#8ed783" d="M1409.9 246.4l1.4-.3 35.3-28-1.3 9.5z"/><path fill="#78d695" stroke="#78d695" d="M1408.5 246.7l1.4-.3 35.4-18.8-1.4 9.5z"/><path fill="#5bd1b3" stroke="#5bd1b3" d="M1407.1 246.9l1.4-.2 35.4-9.6-1.4 9.4z"/><path class="c28 l" d="M1415.4 245.4l-6.9 1.3"/><path fill="#3ccaca" stroke="#3ccaca" d="M1405.7 247.2l1.4-.3 35.4-.4-1.4 9.5z"/><path fill="#34c6d5" stroke="#34c6d5" d="M1404.4 247.5l1.3-.3 35.4 8.8-1.4 9.5z"/><path fill="#4abae6" stroke="#4abae6" d="M1403 247.7l1.4-.2 35.3 18-1.3 9.5z"/><path fill="#52abef" stroke="#52abef" d="M1401.6 248l1.4-.3 35.4 27.3-1.4 9.4z"/><path fill="#57a3f5" stroke="#57a3f5" d="M1400.2 248.2l1.4-.2 35.4 36.4-1.4 9.5z"/><path class="c15" d="M1398.8 248.5l1.4-.3 35.4 45.7-1.4 9.5z"/><path class="c11" d="M1397.5 248.8l1.3-.3 35.4 54.9-1.4 9.4z"/><path class="c9" d="M1396.1 249l1.4-.2 35.3 64-1.3 9.2z"/><path class="c5" d="M1394.7 249.3l1.4-.3 35.4 73-1.4 8.4z"/><path class="c3" d="M1393.3 249.6l1.4-.3 35.4 81.1-1.4 6.7z"/><path class="c1" d="M1391.6 249.9l1.7-.3 35.4 87.5-1.4 3.4-.3 .1z"/><path class="c28 l" d="M1401.6 248l-8.3 1.6"/><path class="c3" d="M1390.6 250.1l1-.2 35.4 90.7-1.1-1.1z"/><path class="c5" d="M1389.2 250.3l1.4-.2 35.3 89.4-1.3-5.2z"/><path class="c7" d="M1423.2 326.4l1.4 7.9-35.4-84-1.4 .3z"/><path class="c11" d="M1421.8 317.2l1.4 9.2-35.4-75.8-1.4 .3z"/><path class="c15" d="M1420.4 307.6l1.4 9.6-35.4-66.3-1.4 .2z"/><path class="c17" d="M1419 298l1.4 9.6-35.4-56.5-1.3 .3z"/><path class="c28 l" d="M1393.3 249.6l-8.3 1.5"/><path class="c21" d="M1417.7 288.4l1.3 9.6-35.3-46.6-1.4 .3z"/><path class="c28 l" d="M1385 251.1l-1.3 .3"/><path class="c25" d="M1416.3 278.8l1.4 9.6-35.4-36.7-1.4 .2z"/><path fill="#34c6d5" stroke="#34c6d5" d="M1414.9 269.2l1.4 9.6-35.4-26.9-1.4 .3z"/><path fill="#50cebf" stroke="#50cebf" d="M1413.5 259.6l1.4 9.6-35.4-17-1.4 .2z"/><path fill="#5bd1b3" stroke="#5bd1b3" d="M1412.1 250l1.4 9.6-35.4-7.2-1.3 .3z"/><path fill="#78d695" stroke="#78d695" d="M1410.7 240.4l1.4 9.6-35.3 2.7-1.4 .3z"/><path fill="#a6d571" stroke="#a6d571" d="M1409.4 230.8l1.3 9.6-35.3 12.6-1.4 .2z"/><path fill="#d1ce55" stroke="#d1ce55" d="M1408 221.2l1.4 9.6-35.4 22.4-1.4 .3z"/><path fill="#f3c85e" stroke="#f3c85e" d="M1406.6 211.6l1.4 9.6-35.4 32.3-1.4 .3z"/><path class="c53" d="M1405.2 202l1.4 9.6-35.4 42.2-1.4 .2z"/><path class="c57" d="M1403.8 193l1.4 9-35.4 52-1.3 .3z"/><path class="c59" d="M1402.5 186.2l1.3 6.8-35.3 61.3-1.4 .2z"/><path class="c28 l" d="M1376.8 252.7l-8.3 1.6"/><path class="c61" d="M1401.1 185l1.4 1.2-35.4 68.3-1.4 .3z"/><path class="c57" d="M1364.3 255.1l1.4-.3 35.4-69.8-1.4 6.7z"/><path class="c53" d="M1362.9 255.3l1.4-.2 35.4-63.4-1.4 12.8z"/><path fill="#d1ce55" stroke="#d1ce55" d="M1361.6 255.6l1.3-.3 35.4-50.8-1.4 15z"/><path fill="#bce095" stroke="#bce095" d="M1360.2 255.9l1.4-.3 35.3-36.1-1.3 15.3z"/><path fill="#8cdfbb" stroke="#8cdfbb" d="M1358.8 256.1l1.4-.2 35.4-21.1-1.4 15.4z"/><path class="c28 l" d="M1368.5 254.3l-8.3 1.6"/><path fill="#6dd7d7" stroke="#6dd7d7" d="M1357.4 256.4l1.4-.3 35.4-5.9-1.4 15.4z"/><path class="c28 l" d="M1360.2 255.9l-1.4 .2"/><path fill="#77ccec" stroke="#77ccec" d="M1356 256.6l1.4-.2 35.4 9.2-1.4 15.4z"/><path fill="#52abef" stroke="#52abef" d="M1354.7 256.9l1.3-.3 35.4 24.4-1.4 15.4z"/><path fill="#6091fe" stroke="#6091fe" d="M1353.3 257.2l1.4-.3 35.3 39.5-1.3 15.4z"/><path fill="#6c75f6" stroke="#6c75f6" d="M1351.9 257.4l1.4-.2 35.4 54.6-1.4 14.9z"/><path class="c5" d="M1349.1 258l2.8-.6 35.4 69.3-1.4 11.5-.7 2.7-.7 .2z"/><path class="c7" d="M1347.8 258.2l1.3-.2 35.4 83.1-1.4-6.3z"/><path class="c11" d="M1381.8 325.3l1.3 9.5-35.3-76.6-1.4 .3z"/><path class="c13" d="M1380.4 315.5l1.4 9.8-35.4-66.8-1.4 .2z"/><path class="c28 l" d="M1354.7 256.9l-8.3 1.6"/><path class="c17" d="M1379 305.7l1.4 9.8-35.4-56.8-1.4 .3z"/><path class="c21" d="M1377.6 295.9l1.4 9.8-35.4-46.7-1.4 .3z"/><path class="c28 l" d="M1346.4 258.5l-2.8 .5"/><path fill="#4abae6" stroke="#4abae6" d="M1376.2 286.2l1.4 9.7-35.4-36.6-1.3 .2z"/><path fill="#34c6d5" stroke="#34c6d5" d="M1374.9 276.4l1.3 9.8-35.3-26.7-1.4 .3z"/><path fill="#50cebf" stroke="#50cebf" d="M1373.5 266.6l1.4 9.8-35.4-16.6-1.4 .3z"/><path fill="#65d5a5" stroke="#65d5a5" d="M1372.1 256.8l1.4 9.8-35.4-6.5-1.4 .2z"/><path fill="#78d695" stroke="#78d695" d="M1370.7 247l1.4 9.8-35.4 3.5-1.4 .3z"/><path fill="#a6d571" stroke="#a6d571" d="M1369.3 237.2l1.4 9.8-35.4 13.6-1.3 .2z"/><path fill="#d1ce55" stroke="#d1ce55" d="M1367.9 227.8l1.4 9.4-35.3 23.6-1.4 .3z"/><path class="c49" d="M1366.6 223.8l.3-.1 1 4.1-35.3 33.3-1.4 .3z"/><path class="c47" d="M1329.8 261.6l1.4-.2 35.4-37.6-1.4 5.3z"/><path class="c43" d="M1328.4 261.9l1.4-.3 35.4-32.5-1.4 7.6z"/><path class="c28 l" d="M1338.1 260.1l-8.3 1.5"/><path class="c41" d="M1327 262.2l1.4-.3 35.4-25.2-1.4 7.7z"/><path class="c39" d="M1325.7 262.4l1.3-.2 35.4-17.8-1.4 7.6z"/><path fill="#5bd1b3" stroke="#5bd1b3" d="M1324.3 262.5l1.4-.1 35.3-10.4-1.3 7.6z"/><path class="c28 l" d="M1329.8 261.6l-4.1 .8"/><path fill="#50cebf" stroke="#50cebf" d="M1322.9 262.1l1.4 .4 35.4-2.9-1.4 7.7z"/><path fill="#3ccaca" stroke="#3ccaca" d="M1321.5 261.6l1.4 .5 35.4 5.2-1.4 7.6z"/><path fill="#41c1de" stroke="#41c1de" d="M1320.1 261l1.4 .6 35.4 13.3-1.4 7.6z"/><path class="c25" d="M1318.8 260.4l1.3 .6 35.4 21.5-1.4 7.7z"/><path class="c23" d="M1317.4 259.9l1.4 .5 35.3 29.8-1.3 7.6z"/><path class="c21" d="M1316 259.3l1.4 .6 35.4 37.9-1 3.4-.4-.6z"/><path class="c23" d="M1350 294.8l1.4 5.8-35.4-41.3-1.4-.6z"/><path class="c25" d="M1348.6 288.8l1.4 6-35.4-36.1-1.4-.5z"/><path class="c29" d="M1347.2 282.8l1.4 6-35.4-30.6-1.3-.6z"/><path class="c36 l" d="M1321.5 261.6l-8.3-3.4"/><path class="c31" d="M1345.9 276.8l1.3 6-35.3-25.2-1.4-.6z"/><path class="c33" d="M1344.5 270.8l1.4 6-35.4-19.8-1.4-1.2z"/><path class="c35" d="M1340.3 263.5l2.8 2.7 .4 .6 1 4-35.4-15-4.1-3.6z"/><path class="c37" d="M1334.8 258.6l.4 0 5.1 4.9-35.3-11.3-5.6-4.8z"/></g>
<g class="q"><path class="c31" d="M1767.1 214.6l17.3-3.3-35.4 74-6.9 1.3-2.1-.1-2-1.6-2.2-5.3-2-8.8-2-12.9z"/><path class="c4 l" d="M1749 285.3l-6.9 1.3"/><path class="c4 l" d="M1742.1 286.6l-2.1-.1-2-1.6-2.2-5.3-2-8.8"/><path class="c4 l" d="M1733.8 270.8l-2-12.9"/><path fill="#3ccaca" stroke="#3ccaca" d="M1758.8 216.1l8.3-1.5-35.3 43.3-8.3-59.6z"/><path class="c12 l" d="M1731.8 257.9l-2.1-14.5"/><path class="c20 l" d="M1729.7 243.4l-4.2-30.1"/><path class="c31" d="M1750.6 217.7l8.2-1.6-35.3-17.8-6.2-44.8-2.1-13.1z"/><path class="c44 l" d="M1719.3 168.2l-2-14.7"/><path class="c52 l" d="M1717.3 153.5l-2.1-13.1"/><path class="c31" d="M1642.7 179.1l4.1-25.9 2.1-10 .6-2.3 1.5-4 2.1-3 2-1.1 2.1-.5 47.6-9 2.1-.3 2.1 .1 2 2 2 4.9 2.2 10.4 35.4 77.3-72.5 13.8z"/><path class="c52 l" d="M1715.2 140.4l-2.2-10.4"/><path class="c60 l" d="M1713 130l-2-4.9-2-2-2.1-.1-2.1 .3"/><path class="c60 l" d="M1704.8 123.3l-8.3 1.5"/><path class="c60 l" d="M1696.5 124.8l-8.2 1.6"/><path class="c60 l" d="M1688.3 126.4l-8.3 1.6"/><path class="c60 l" d="M1680 128l-8.3 1.6"/><path class="c60 l" d="M1671.7 129.6l-8.3 1.5"/><path class="c60 l" d="M1663.4 131.1l-8.3 1.7"/><path class="c60 l" d="M1655.1 132.8l-2 1.1-2.1 3-1.5 4-.6 2.3-2.1 10"/><path class="c52 l" d="M1646.8 153.2l-4.1 25.9"/><path fill="#3ccaca" stroke="#3ccaca" d="M1632.3 247.9l10.4-68.8 35.4 52.4-10.4 1.9z"/><path class="c44 l" d="M1642.7 179.1l-4.1 27.5"/><path class="c31" d="M1623.1 302.1l1-3.7 2-10.5 6.2-40 35.4-14.5-9.2 1.8z"/><path class="c20 l" d="M1632.3 247.9l-4.1 27.2"/><path class="c12 l" d="M1628.2 275.1l-2.1 12.8-2 10.5"/><path class="c4 l" d="M1624.1 298.4l-1 3.7"/><path class="c31" d="M1615.9 243.3l42.6-8.1-35.4 66.9-1.1 3.3-2.1 3.4-2.1 1.3-2 .5-22.8 4.4-2.1 .3-2 .1-2.1-1-2.1-3.9-2.1-7.9-2-11.7z"/><path class="c4 l" d="M1623.1 302.1l-1.1 3.3-2.1 3.4-2.1 1.3-2 .5"/><path class="c4 l" d="M1615.8 310.6l-8.3 1.6"/><path class="c4 l" d="M1607.5 312.2l-8.3 1.6"/><path class="c4 l" d="M1599.2 313.8l-8.3 1.5"/><path class="c4 l" d="M1590.9 315.3l-2 .1-2.1-1-2.1-3.9-2.1-7.9"/><path class="c4 l" d="M1582.6 302.6l-2-11.7"/><path fill="#3ccaca" stroke="#3ccaca" d="M1605.6 245.2l10.3-1.9-35.3 47.6-10.4-70.9z"/><path class="c12 l" d="M1580.6 290.9l-4.2-27.8"/><path class="c20 l" d="M1576.4 263.1l-2-14.4"/><path class="c31" d="M1597.3 246.8l8.3-1.6-35.4-25.2-6.2-42.3-2.1-11.9z"/><path class="c44 l" d="M1568.1 205.7l-4.1-28"/><path class="c52 l" d="M1564 177.7l-2.1-11.9"/><path class="c31" d="M1522.6 197.7l2.1-14.7 2-12.4 1.3-5.6 .8-2.9 2.1-4.3 2-1.6 2.1-.6 18.6-3.6 2.1 0 2.1 1.2 2.1 4.2 2 8.4 35.4 81-39.3 7.5z"/><path class="c60 l" d="M1561.9 165.8l-2-8.4-2.1-4.2-2.1-1.2-2.1 0"/><path class="c60 l" d="M1553.6 152l-8.2 1.6"/><path class="c60 l" d="M1545.4 153.6l-8.3 1.5"/><path class="c60 l" d="M1537.1 155.1l-4.2 1.1-2 1.6-2.1 4.3"/><path class="c60 l" d="M1528.8 162.1l-.8 2.9-1.3 5.6-2 12.4"/><path class="c52 l" d="M1524.7 183l-2.1 14.7"/><path fill="#3ccaca" stroke="#3ccaca" d="M1512.2 275.9l10.4-78.2 35.4 56.6-10.4 2z"/><path class="c52 l" d="M1522.6 197.7l-2.1 15.5"/><path class="c44 l" d="M1520.5 213.2l-2.1 15.7"/><path class="c31" d="M1504.9 323.6l1.1-5.2 2.1-12.3 4.1-30.2 35.4-19.6-7.4 1.4z"/><path class="c20 l" d="M1512.2 275.9l-2 15.5"/><path class="c12 l" d="M1510.2 291.4l-2.1 14.7-2.1 12.3"/><path class="c4 l" d="M1506 318.4l-1.1 5.2"/><path class="c31" d="M1512.4 263l27.8-5.3-35.3 65.9-1 3.1-2 4.1-2.1 1.6-2.1 .6-8.3 1.6-2 .4-2.1-.1-2.1-1.7-2-4.9-2.1-9.1-2.1-12.3z"/><path class="c4 l" d="M1504.9 323.6l-1 3.1-2 4.1-2.1 1.6-2.1 .6"/><path class="c4 l" d="M1497.7 333l-8.3 1.6"/><path class="c4 l" d="M1489.4 334.6l-2 .4-2.1-.1-2.1-1.7-2-4.9"/><path class="c4 l" d="M1481.2 328.3l-2.1-9.1-2.1-12.3"/><path fill="#3ccaca" stroke="#3ccaca" d="M1502.7 264.8l9.7-1.8-35.4 43.9-9.6-65.9z"/><path class="c12 l" d="M1477 306.9l-2.1-13.8"/><path class="c20 l" d="M1474.9 293.1l-3.4-23.7"/><path class="c31" d="M1493.1 266.6l9.6-1.8-35.3-23.8-6.9-47-1.4-8.4-1.4-6.9z"/><path class="c44 l" d="M1464.6 222l-2.8-18.9"/><path class="c52 l" d="M1461.8 203.1l-2.7-17.5"/><path class="c60 l" d="M1459.1 185.6l-1.4-6.9"/><path class="c31" d="M1446.6 218.1l4.2-27.7 1.4-7.9 1.3-5.9 1.4-2.9 .4-.2 1 1 1.4 4.2 35.4 87.9-11.1 2.1z"/><path class="c60 l" d="M1457.7 178.7l-1.4-4.2-1-1-.4 .2-1.4 2.9-1.3 5.9-1.4 7.9"/><path class="c52 l" d="M1450.8 190.4l-4.2 27.7"/><path fill="#3ccaca" stroke="#3ccaca" d="M1435.6 293.9l11-75.8 35.4 50.6-11 2.1z"/><path class="c44 l" d="M1446.6 218.1l-2.7 19"/><path class="c20 l" d="M1437 284.4l-1.4 9.5"/><path class="c31" d="M1428.7 337.1l1.4-6.7 1.4-8.4 4.1-28.1 35.4-23.1-6.9 1.3z"/><path class="c20 l" d="M1435.6 293.9l-1.4 9.5"/><path class="c12 l" d="M1434.2 303.4l-4.1 27"/><path class="c4 l" d="M1430.1 330.4l-1.4 6.7"/><path class="c31" d="M1457.2 273.4l6.9-1.3-35.4 65-1.4 3.4-.3 .1-1.1-1.1-1.3-5.2-2.8-17.1z"/><path class="c4 l" d="M1428.7 337.1l-1.4 3.4-.3 .1-1.1-1.1-1.3-5.2-1.4-7.9"/><path class="c12 l" d="M1423.2 326.4l-1.4-9.2"/><path fill="#3ccaca" stroke="#3ccaca" d="M1447.5 275.3l9.7-1.9-35.4 43.8-9.7-67.2z"/><path class="c12 l" d="M1421.8 317.2l-2.8-19.2"/><path class="c20 l" d="M1419 298l-2.7-19.2"/><path class="c31" d="M1439.2 276.9l8.3-1.6-35.4-25.3-8.3-57z"/><path class="c44 l" d="M1410.7 240.4l-4.1-28.8"/><path class="c52 l" d="M1406.6 211.6l-2.8-18.6"/><path class="c31" d="M1399.7 191.7l1.4-6.7 1.4 1.2 1.3 6.8 35.4 83.9-4.1 .7z"/><path class="c60 l" d="M1403.8 193l-1.3-6.8-1.4-1.2-1.4 6.7"/><path fill="#3ccaca" stroke="#3ccaca" d="M1395.6 234.8l2.7-30.3 1.4-12.8 35.4 85.9-4.2 .8z"/><path class="c60 l" d="M1399.7 191.7l-1.4 12.8"/><path class="c52 l" d="M1398.3 204.5l-2.7 30.3"/><path fill="#6dd7d7" stroke="#6dd7d7" d="M1390 296.4l5.6-61.6 35.3 43.6-5.5 1.1z"/><path class="c44 l" d="M1395.6 234.8l-1.4 15.4"/><path fill="#3ccaca" stroke="#3ccaca" d="M1387.3 326.7l2.7-30.3 35.4-16.9-2.7 .5z"/><path class="c20 l" d="M1390 296.4l-1.3 15.4"/><path class="c31" d="M1385.2 340.9l.7-2.7 1.4-11.5 35.4-46.7-2.1 .4z"/><path class="c12 l" d="M1388.7 311.8l-1.4 14.9-1.4 11.5"/><path class="c31" d="M1418.5 280.8l2.1-.4-35.4 60.5-.7 .2-1.4-6.3z"/><path class="c4 l" d="M1385.9 338.2l-.7 2.7-.7 .2-1.4-6.3"/><path fill="#3ccaca" stroke="#3ccaca" d="M1407.5 282.9l11-2.1-35.4 54-11-78z"/><path class="c4 l" d="M1383.1 334.8l-1.3-9.5"/><path class="c12 l" d="M1381.8 325.3l-2.8-19.6"/><path class="c20 l" d="M1379 305.7l-2.8-19.5"/><path class="c31" d="M1402.3 283.9l5.2-1-35.4-26.1-4.2-29-1-4.1z"/><path class="c44 l" d="M1370.7 247l-2.8-19.2-1-4.1"/><path class="c31" d="M1361 252l4.2-22.9 1.4-5.3 .3-.1 35.4 60.2-5.9 1.1z"/><path class="c52 l" d="M1366.9 223.7l-.3 .1-1.4 5.3"/><path class="c44 l" d="M1365.2 229.1l-4.2 22.9"/><path fill="#3ccaca" stroke="#3ccaca" d="M1354.1 290.2l6.9-38.2 35.4 33-1.4 .1-5.5-2.1z"/><path class="c33" d="M1351.8 301.2l1-3.4 1.3-7.6 35.4-7.2-2.3-.9z"/><path class="c20 l" d="M1352.8 297.8l-1 3.4"/><path class="c33" d="M1381.2 279.6l6 2.5-35.4 19.1-.4-.6-5.5-23.8z"/><path class="c20 l" d="M1351.8 301.2l-.4-.6-1.4-5.8"/><path class="c35" d="M1375.7 274.8l5.5 4.8-35.3-2.8-2.4-10-.4-.6-2.8-2.7z"/><path class="c37" d="M1370.2 269.9l5.5 4.9-35.4-11.3-5.1-4.9-.4 0z"/></g>
<g class="q"><path class="c0" d="M1781.6 211.8l2.8-.5 35.4 96.6-2.8-.2z"/><path class="c1" d="M1779.6 212.2l2-.4 35.4 95.9-2.1-2z"/><path class="c3" d="M1777.5 212.6l2.1-.4 35.3 93.5-2-5.4z"/><path class="c7" d="M1775.4 213l2.1-.4 35.4 87.7-2.1-9.7z"/><path class="c28 l" d="M1784.4 211.3l-6.9 1.3"/><path class="c11" d="M1808.7 277.6l2.1 13-35.4-77.6-2.1 .4z"/><path class="c17" d="M1806.7 263.2l2 14.4-35.4-64.2-2 .4z"/><path class="c23" d="M1804.6 248.4l2.1 14.8-35.4-49.4-2.1 .4z"/><path class="c28 l" d="M1777.5 212.6l-6.2 1.2"/><path fill="#41c1de" stroke="#41c1de" d="M1802.5 233.6l2.1 14.8-35.4-34.2-2.1 .4z"/><path fill="#50cebf" stroke="#50cebf" d="M1800.4 218.7l2.1 14.9-35.4-19-2 .3z"/><path fill="#78d695" stroke="#78d695" d="M1798.4 203.9l2 14.8-35.3-3.8-2.1 .4z"/><path fill="#bcd260" stroke="#bcd260" d="M1796.3 189.1l2.1 14.8-35.4 11.4-2.1 .4z"/><path fill="#e3ca54" stroke="#e3ca54" d="M1794.2 174.7l2.1 14.4-35.4 26.6-2.1 .4z"/><path class="c55" d="M1792.2 161.7l2 13-35.4 41.4-2 .4z"/><path class="c59" d="M1789.9 151.4l2.3 10.3-35.4 54.8-2.3 .5z"/><path class="c28 l" d="M1765.1 214.9l-8.3 1.6"/><path class="c28 l" d="M1756.8 216.5l-2.3 .5"/><path class="c61" d="M1728 156.8l2-1.9 2.1-.7 51.8-9.8 2 .2 2.1 2 1.9 4.8-35.4 65.6-61.9 11.7z"/><path class="c28 l" d="M1754.5 217l-8.1 1.5"/><path class="c28 l" d="M1746.4 218.5l-8.3 1.6"/><path class="c28 l" d="M1738.1 220.1l-8.2 1.5"/><path class="c28 l" d="M1729.9 221.6l-8.3 1.6"/><path class="c28 l" d="M1721.6 223.2l-8.3 1.6"/><path class="c28 l" d="M1713.3 224.8l-8.3 1.6"/><path class="c28 l" d="M1705 226.4l-8.3 1.5"/><path class="c59" d="M1725.5 162.5l2.5-5.7-35.4 71.9-2.4 .5z"/><path class="c57" d="M1688.4 229.5l1.8-.3 35.3-66.7-1.7 7.1z"/><path class="c53" d="M1686.4 229.9l2-.4 35.4-59.9-2.1 11.4z"/><path class="c28 l" d="M1696.7 227.9l-8.3 1.6"/><path class="c49" d="M1684.3 230.3l2.1-.4 35.3-48.9-2 12.9z"/><path class="c43" d="M1682.2 230.7l2.1-.4 35.4-36.4-2.1 13.5z"/><path fill="#78d695" stroke="#78d695" d="M1680.1 231.1l2.1-.4 35.4-23.3-2.1 13.5z"/><path fill="#50cebf" stroke="#50cebf" d="M1678.1 231.5l2-.4 35.4-10.2-2 13.6z"/><path class="c28 l" d="M1688.4 229.5l-8.3 1.6"/><path fill="#34c6d5" stroke="#34c6d5" d="M1676 231.9l2.1-.4 35.4 3-2.1 13.6z"/><path fill="#4abae6" stroke="#4abae6" d="M1673.9 232.3l2.1-.4 35.4 16.2-2.1 13.5z"/><path fill="#57a3f5" stroke="#57a3f5" d="M1671.9 232.7l2-.4 35.4 29.3-2.1 13.6z"/><path class="c15" d="M1669.8 233l2.1-.3 35.3 42.5-2 13.5z"/><path class="c9" d="M1667.7 233.4l2.1-.4 35.4 55.7-2.1 13.2z"/><path class="c5" d="M1665.7 233.8l2-.4 35.4 68.5-2.1 11.9z"/><path class="c3" d="M1663.4 234.3l2.3-.5 35.3 80-2.3 10z"/><path class="c28 l" d="M1673.9 232.3l-8.2 1.5"/><path class="c1" d="M1661.5 234.6l1.9-.3 35.3 89.5-1.8 4.7z"/><path class="c28 l" d="M1665.7 233.8l-4.2 .8"/><path class="c0" d="M1628.4 240.9l33.1-6.3 35.4 93.9-2.1 2.5-2.1 .9-24.8 4.9-2.1 .3-2 0z"/><path class="c28 l" d="M1661.5 234.6l-8.3 1.6"/><path class="c28 l" d="M1653.2 236.2l-8.3 1.6"/><path class="c28 l" d="M1644.9 237.8l-8.2 1.5"/><path class="c28 l" d="M1636.7 239.3l-8.3 1.6"/><path class="c1" d="M1624.2 241.7l4.2-.8 35.4 96.2-2.1-1.2-2.1-4.1z"/><path class="c3" d="M1623.8 241.8l.4-.1 35.4 90.1-.4-1.2z"/><path class="c5" d="M1622.2 242.1l1.6-.3 35.4 88.8-1.7-7z"/><path class="c9" d="M1655.5 312l2 11.6-35.3-81.5-2.1 .4z"/><path class="c15" d="M1653.4 298.5l2.1 13.5-35.4-69.5-2.1 .4z"/><path class="c28 l" d="M1628.4 240.9l-8.3 1.6"/><path class="c19" d="M1651.3 284.5l2.1 14-35.4-55.6-2.1 .4z"/><path class="c25" d="M1649.3 270.4l2 14.1-35.4-41.2-2 .4z"/><path class="c28 l" d="M1620.1 242.5l-4.2 .8"/><path fill="#3ccaca" stroke="#3ccaca" d="M1647.2 256.2l2.1 14.2-35.4-26.7-2.1 .4z"/><path fill="#5bd1b3" stroke="#5bd1b3" d="M1645.1 242.1l2.1 14.1-35.4-12.1-2.1 .4z"/><path fill="#8ed783" stroke="#8ed783" d="M1643 227.9l2.1 14.2-35.4 2.4-2 .4z"/><path fill="#d1ce55" stroke="#d1ce55" d="M1641 213.9l2 14-35.3 17-2.1 .3z"/><path class="c51" d="M1638.9 200.3l2.1 13.6-35.4 31.3-2.1 .4z"/><path class="c55" d="M1636.8 188.4l2.1 11.9-35.4 45.3-2 .4z"/><path class="c59" d="M1634.8 179.8l2 8.6-35.3 57.6-2.1 .4z"/><path class="c28 l" d="M1609.7 244.5l-8.2 1.5"/><path class="c28 l" d="M1601.5 246l-2.1 .4"/><path class="c61" d="M1603.7 182.3l2.1-3.2 2-1.2 2.1-.6 18.6-3.5 2.1 .1 2.1 1.4 2.1 4.5-35.4 66.6-31.1 5.9z"/><path class="c28 l" d="M1599.4 246.4l-8.3 1.6"/><path class="c28 l" d="M1591.1 248l-8.3 1.6"/><path class="c28 l" d="M1582.8 249.6l-8.3 1.6"/><path class="c59" d="M1602.2 186.9l1.5-4.6-35.4 70-1.5 .3z"/><path class="c57" d="M1566.2 252.7l.6-.1 35.4-65.7-.6 2.4z"/><path class="c55" d="M1564.2 253.1l2-.4 35.4-63.4-2 11.1z"/><path class="c28 l" d="M1574.5 251.2l-8.3 1.5"/><path class="c49" d="M1562.1 253.5l2.1-.4 35.4-52.7-2.1 14z"/><path fill="#a6d571" stroke="#a6d571" d="M1560 253.9l2.1-.4 35.4-39.1-2.1 15.1z"/><path fill="#78d695" stroke="#78d695" d="M1558 254.3l2-.4 35.4-24.4-2.1 15.4z"/><path fill="#50cebf" stroke="#50cebf" d="M1555.9 254.7l2.1-.4 35.3-9.4-2 15.5z"/><path class="c28 l" d="M1566.2 252.7l-8.2 1.6"/><path fill="#41c1de" stroke="#41c1de" d="M1553.8 255.1l2.1-.4 35.4 5.7-2.1 15.5z"/><path fill="#52abef" stroke="#52abef" d="M1551.7 255.5l2.1-.4 35.4 20.8-2.1 15.4z"/><path fill="#589bfb" stroke="#589bfb" d="M1549.7 255.9l2-.4 35.4 35.8-2 15.4z"/><path class="c11" d="M1547.6 256.3l2.1-.4 35.4 50.8-2.1 15z"/><path class="c7" d="M1545.5 256.7l2.1-.4 35.4 65.4-2.1 13.4z"/><path class="c3" d="M1543.4 257.1l2.1-.4 35.4 78.4-2.1 10.5z"/><path class="c28 l" d="M1551.7 255.5l-6.2 1.2"/><path class="c1" d="M1541.4 257.4l2-.3 35.4 88.5-2 5.6z"/><path class="c28 l" d="M1545.5 256.7l-4.1 .7"/><path class="c0" d="M1522.8 261l18.6-3.6 35.4 93.8-2.1 2.6-2.1 1-10.3 2-2.1 .2-2.1-.5z"/><path class="c28 l" d="M1541.4 257.4l-8.3 1.6"/><path class="c28 l" d="M1533.1 259l-8.3 1.6"/><path class="c1" d="M1520.7 261.4l2.1-.4 35.3 95.5-2-2.6z"/><path class="c3" d="M1518.6 261.8l2.1-.4 35.4 92.5-1.3-3.4-.8-2.9z"/><path class="c7" d="M1551.9 337.3l2.1 10.3-35.4-85.8-2.1 .4z"/><path class="c13" d="M1549.8 324.6l2.1 12.7-35.4-75.1-2 .4z"/><path class="c28 l" d="M1524.8 260.6l-8.3 1.6"/><path class="c17" d="M1547.8 310.8l2 13.8-35.3-62-2.1 .4z"/><path class="c23" d="M1545.7 296.8l2.1 14-35.4-47.8-2.1 .3z"/><path class="c28 l" d="M1516.5 262.2l-4.1 .8"/><path fill="#41c1de" stroke="#41c1de" d="M1543.6 282.8l2.1 14-35.4-33.5-2 .4z"/><path fill="#3ccaca" stroke="#3ccaca" d="M1542.3 273.5l1.3 9.3-35.3-19.1-1.4 .3z"/><path fill="#5bd1b3" stroke="#5bd1b3" d="M1540.9 264.1l1.4 9.4-35.4-9.5-1.4 .3z"/><path fill="#78d695" stroke="#78d695" d="M1539.5 254.8l1.4 9.3-35.4 .2-1.4 .2z"/><path fill="#8ed783" stroke="#8ed783" d="M1538.1 245.4l1.4 9.4-35.4 9.7-1.4 .3z"/><path fill="#bcd260" stroke="#bcd260" d="M1536.7 236.1l1.4 9.3-35.4 19.4-1.3 .3z"/><path fill="#e3ca54" stroke="#e3ca54" d="M1535.3 226.8l1.4 9.3-35.3 29-1.4 .2z"/><path class="c53" d="M1534 217.7l1.3 9.1-35.3 38.5-1.4 .3z"/><path class="c55" d="M1532.6 209.2l1.4 8.5-35.4 47.9-1.4 .2z"/><path class="c59" d="M1531.2 202.1l1.4 7.1-35.4 56.6-1.4 .3z"/><path class="c28 l" d="M1505.5 264.3l-8.3 1.5"/><path class="c28 l" d="M1497.2 265.8l-1.4 .3"/><path class="c61" d="M1527.1 197.7l1.3-2 1.4 1.6 1.4 4.8-35.4 64-4.1 .8z"/><path class="c59" d="M1490.3 267.2l1.4-.3 35.4-69.2-1.4 5.1z"/><path class="c55" d="M1488.9 267.4l1.4-.2 35.4-64.4-1.4 7.4z"/><path class="c53" d="M1487.5 267.7l1.4-.3 35.4-57.2-1.4 8.5z"/><path class="c49" d="M1486.2 267.9l1.3-.2 35.4-49-1.4 9.1z"/><path class="c28 l" d="M1495.8 266.1l-8.3 1.6"/><path class="c47" d="M1484.8 268.2l1.4-.3 35.3-40.1-1.3 9.3z"/><path fill="#a6d571" stroke="#a6d571" d="M1483.4 268.5l1.4-.3 35.4-31.1-1.4 9.4z"/><path fill="#78d695" stroke="#78d695" d="M1482 268.7l1.4-.2 35.4-22-1.4 9.3z"/><path fill="#65d5a5" stroke="#65d5a5" d="M1480.6 269l1.4-.3 35.4-12.9-1.4 9.4z"/><path fill="#50cebf" stroke="#50cebf" d="M1479.3 269.3l1.3-.3 35.4-3.8-1.4 9.3z"/><path class="c28 l" d="M1487.5 267.7l-6.9 1.3"/><path fill="#34c6d5" stroke="#34c6d5" d="M1477.9 269.5l1.4-.2 35.3 5.2-1.3 9.4z"/><path fill="#41c1de" stroke="#41c1de" d="M1476.5 269.8l1.4-.3 35.4 14.4-1.4 9.3z"/><path fill="#4fb3ea" stroke="#4fb3ea" d="M1475.1 270l1.4-.2 35.4 23.4-1.4 9.4z"/><path fill="#57a3f5" stroke="#57a3f5" d="M1473.7 270.3l1.4-.3 35.4 32.6-1.4 9.3z"/><path class="c17" d="M1472.4 270.6l1.3-.3 35.4 41.6-1.4 9.3z"/><path class="c13" d="M1471 270.8l1.4-.2 35.3 50.6-1.3 9.4z"/><path class="c9" d="M1469.6 271.1l1.4-.3 35.4 59.8-1.4 9.2z"/><path class="c7" d="M1468.2 271.4l1.4-.3 35.4 68.7-1.4 8.8z"/><path class="c3" d="M1465.5 271.9l2.7-.5 35.4 77.2-1.4 7.6-1.4 5.2z"/><path class="c28 l" d="M1475.1 270l-8.3 1.6"/><path class="c1" d="M1464.1 272.1l1.4-.2 35.3 89.5-1.1 1.4-.2 0z"/><path class="c3" d="M1462.7 272.4l1.4-.3 35.4 90.7-1.4-3z"/><path class="c5" d="M1461.3 272.7l1.4-.3 35.4 87.4-1.4-6.5z"/><path class="c9" d="M1495.3 344.8l1.4 8.5-35.4-80.6-1.4 .2z"/><path class="c11" d="M1493.9 335.6l1.4 9.2-35.4-71.9-1.3 .3z"/><path class="c15" d="M1492.5 326.1l1.4 9.5-35.3-62.4-1.4 .2z"/><path class="c28 l" d="M1466.8 271.6l-8.2 1.6"/><path class="c19" d="M1491.2 316.7l1.3 9.4-35.3-52.7-1.4 .3z"/><path class="c23" d="M1489.8 307.2l1.4 9.5-35.4-43-1.4 .3z"/><path class="c28 l" d="M1458.6 273.2l-2.8 .5"/><path fill="#41c1de" stroke="#41c1de" d="M1488.4 297.7l1.4 9.5-35.4-33.2-1.4 .2z"/><path fill="#34c6d5" stroke="#34c6d5" d="M1487 288.3l1.4 9.4-35.4-23.5-1.4 .3z"/><path fill="#50cebf" stroke="#50cebf" d="M1485.6 278.8l1.4 9.5-35.4-13.8-1.3 .3z"/><path fill="#65d5a5" stroke="#65d5a5" d="M1484.3 269.3l1.3 9.5-35.3-4-1.4 .2z"/><path fill="#8ed783" stroke="#8ed783" d="M1482.9 259.9l1.4 9.4-35.4 5.7-1.4 .3z"/><path fill="#a6d571" stroke="#a6d571" d="M1481.5 250.4l1.4 9.5-35.4 15.4-1.4 .2z"/><path fill="#d1ce55" stroke="#d1ce55" d="M1480.1 241l1.4 9.4-35.4 25.1-1.4 .3z"/><path fill="#f3c85e" stroke="#f3c85e" d="M1478.7 231.5l1.4 9.5-35.4 34.8-1.3 .3z"/><path class="c55" d="M1477.4 222.1l1.3 9.4-35.3 44.6-1.4 .2z"/><path class="c57" d="M1476 213.5l1.4 8.6-35.4 54.2-1.4 .3z"/><path class="c28 l" d="M1450.3 274.8l-8.3 1.5"/><path class="c61" d="M1473.2 207.9l.3-.6 1.1 .4 1.4 5.8-35.4 63.1-2.8 .5z"/><path class="c57" d="M1436.5 277.4l1.3-.3 35.4-69.2-1.4 7.9z"/><path class="c53" d="M1435.1 277.6l1.4-.2 35.3-61.6-1.3 13.2z"/><path fill="#d1ce55" stroke="#d1ce55" d="M1433.7 277.9l1.4-.3 35.4-48.6-1.4 14.9z"/><path fill="#aae1a2" stroke="#aae1a2" d="M1432.3 278.2l1.4-.3 35.4-34-1.4 15.2z"/><path class="c28 l" d="M1442 276.3l-8.3 1.6"/><path fill="#8cdfbb" stroke="#8cdfbb" d="M1430.9 278.4l1.4-.2 35.4-19.1-1.4 15.1z"/><path fill="#6dd7d7" stroke="#6dd7d7" d="M1429.6 278.7l1.3-.3 35.4-4.2-1.4 15.2z"/><path class="c28 l" d="M1433.7 277.9l-2.8 .5"/><path fill="#77ccec" stroke="#77ccec" d="M1428.2 279l1.4-.3 35.3 10.7-1.3 15.2z"/><path fill="#57a3f5" stroke="#57a3f5" d="M1426.8 279.2l1.4-.2 35.4 25.6-1.4 15.2z"/><path fill="#6091fe" stroke="#6091fe" d="M1425.4 279.5l1.4-.3 35.4 40.6-1.4 15.1z"/><path fill="#6c75f6" stroke="#6c75f6" d="M1424 279.7l1.4-.2 35.4 55.4-1.4 14.6z"/><path class="c5" d="M1421.3 280.3l2.7-.6 35.4 69.8-1.4 11.3-.6 2.5-.7 0z"/><path class="c7" d="M1419.9 280.5l1.4-.2 35.4 83-1.4-6.2z"/><path class="c11" d="M1453.9 347.8l1.4 9.3-35.4-76.6-1.4 .3z"/><path class="c28 l" d="M1428.2 279l-8.3 1.5"/><path class="c13" d="M1452.5 338.2l1.4 9.6-35.4-67-1.4 .3z"/><path class="c17" d="M1451.1 328.5l1.4 9.7-35.4-57.1-1.3 .2z"/><path class="c21" d="M1449.7 318.9l1.4 9.6-35.3-47.2-1.4 .3z"/><path class="c28 l" d="M1419.9 280.5l-4.1 .8"/><path class="c25" d="M1448.4 309.2l1.3 9.7-35.3-37.3-1.4 .2z"/><path fill="#34c6d5" stroke="#34c6d5" d="M1447 299.6l1.4 9.6-35.4-27.4-1.4 .3z"/><path fill="#3ccaca" stroke="#3ccaca" d="M1445.6 289.9l1.4 9.7-35.4-17.5-1.4 .3z"/><path fill="#5bd1b3" stroke="#5bd1b3" d="M1444.2 280.3l1.4 9.6-35.4-7.5-1.4 .2z"/><path fill="#78d695" stroke="#78d695" d="M1442.8 270.6l1.4 9.7-35.4 2.3-1.3 .3z"/><path fill="#a6d571" stroke="#a6d571" d="M1441.5 261l1.3 9.6-35.3 12.3-1.4 .3z"/><path fill="#d1ce55" stroke="#d1ce55" d="M1440.1 251.6l1.4 9.4-35.4 22.2-1.4 .2z"/><path class="c49" d="M1438.7 246.1l1.4 5.5-35.4 31.8-1.4 .3z"/><path class="c47" d="M1401.9 283.9l1.4-.2 35.4-37.6-1.4 4z"/><path class="c45" d="M1400.6 284.2l1.3-.3 35.4-33.8-1.4 7.5z"/><path class="c41" d="M1399.2 284.5l1.4-.3 35.3-26.6-1.3 7.5z"/><path class="c28 l" d="M1408.8 282.6l-8.2 1.6"/><path class="c39" d="M1397.8 284.7l1.4-.2 35.4-19.4-1.4 7.5z"/><path fill="#65d5a5" stroke="#65d5a5" d="M1396.4 285l1.4-.3 35.4-12.1-1.4 7.5z"/><path fill="#50cebf" stroke="#50cebf" d="M1395 285.1l1.4-.1 35.4-4.9-1.4 7.6z"/><path class="c28 l" d="M1400.6 284.2l-4.2 .8"/><path fill="#3ccaca" stroke="#3ccaca" d="M1393.7 284.7l1.3 .4 35.4 2.6-1.4 7.5z"/><path fill="#34c6d5" stroke="#34c6d5" d="M1392.3 284.1l1.4 .6 35.3 10.5-1.3 7.5z"/><path class="c25" d="M1390.9 283.6l1.4 .5 35.4 18.6-1.4 7.6z"/><path class="c23" d="M1389.5 283l1.4 .6 35.4 26.7-1.4 7.5z"/><path class="c21" d="M1388.1 282.4l1.4 .6 35.4 34.8-1.4 5.8z"/><path class="c23" d="M1422.1 319.3l1.4 4.3-35.4-41.2-1.3-.5z"/><path class="c25" d="M1420.8 313.4l1.3 5.9-35.3-37.4-1.4-.6z"/><path class="c27" d="M1419.4 307.5l1.4 5.9-35.4-32.1-1.4-.5z"/><path class="c29" d="M1418 301.6l1.4 5.9-35.4-26.7-1.4-.6z"/><path class="c36 l" d="M1392.3 284.1l-8.3-3.3"/><path class="c31" d="M1416.6 295.7l1.4 5.9-35.4-21.4-1.4-.6z"/><path class="c35" d="M1412.5 286.6l2.6 2.7 1.5 6.4-35.4-16.1-4.1-3.6z"/><path class="c37" d="M1405.6 281.2l1-.2 5.9 5.6-35.4-10.6-6.9-6.1z"/></g>
<g class="q"><path class="c31" d="M1844.1 236l11-2.1-35.3 74-2.8-.2-2.1-2-2-5.4-2.1-9.7-2.1-13z"/><path class="c4 l" d="M1819.8 307.9l-2.8-.2-2.1-2-2-5.4"/><path class="c4 l" d="M1812.9 300.3l-2.1-9.7-2.1-13"/><path fill="#3ccaca" stroke="#3ccaca" d="M1835.8 237.5l8.3-1.5-35.4 41.6-8.3-58.9z"/><path class="c12 l" d="M1808.7 277.6l-2-14.4"/><path class="c20 l" d="M1806.7 263.2l-4.2-29.6"/><path class="c31" d="M1827.5 239.1l8.3-1.6-35.4-18.8-6.2-44-2-13z"/><path class="c44 l" d="M1796.3 189.1l-2.1-14.4"/><path class="c52 l" d="M1794.2 174.7l-2-13"/><path class="c31" d="M1717.6 207.4l4.1-26.4 2.1-11.4 2.1-8.2 2.1-4.6 2-1.9 2.1-.7 2.1-.5 47.6-9 2.1-.3 2 .2 2.1 2 1.9 4.8 2.3 10.3 35.3 77.4-74.5 14.2z"/><path class="c52 l" d="M1792.2 161.7l-2.3-10.3"/><path class="c60 l" d="M1789.9 151.4l-1.9-4.8-2.1-2-2-.2-2.1 .3"/><path class="c60 l" d="M1781.8 144.7l-8.3 1.5"/><path class="c60 l" d="M1773.5 146.2l-8.3 1.6"/><path class="c60 l" d="M1765.2 147.8l-8.3 1.6"/><path class="c60 l" d="M1756.9 149.4l-8.2 1.6"/><path class="c60 l" d="M1748.7 151l-8.3 1.5"/><path class="c60 l" d="M1740.4 152.5l-8.3 1.7"/><path class="c60 l" d="M1732.1 154.2l-2.1 .7-2 1.9-2.1 4.6-2.1 8.2"/><path class="c60 l" d="M1723.8 169.6l-2.1 11.4"/><path class="c52 l" d="M1721.7 181l-4.1 26.4"/><path fill="#3ccaca" stroke="#3ccaca" d="M1707.2 275.2l10.4-67.8 35.4 45.9-10.4 1.9z"/><path class="c44 l" d="M1717.6 207.4l-2.1 13.5"/><path class="c31" d="M1699 323l2-9.2 2.1-11.9 4.1-26.7 35.4-20-8.3 1.6z"/><path class="c20 l" d="M1707.2 275.2l-2 13.5"/><path class="c12 l" d="M1705.2 288.7l-4.2 25.1"/><path class="c4 l" d="M1701 313.8l-2 9.2"/><path class="c31" d="M1690.8 265.1l43.5-8.3-35.3 66.2-2.1 5.5-2.1 2.5-2.1 .9-24.8 4.9-2.1 .3-2 0-2.1-1.2-2.1-4.1-2.1-8.2-2-11.6z"/><path class="c4 l" d="M1699 323l-2.1 5.5-2.1 2.5-2.1 .9-2 .5"/><path class="c4 l" d="M1690.7 332.4l-8.3 1.6"/><path class="c4 l" d="M1682.4 334l-8.3 1.6"/><path class="c4 l" d="M1674.1 335.6l-8.3 1.5"/><path class="c4 l" d="M1665.8 337.1l-2 0-2.1-1.2-2.1-4.1-2.1-8.2"/><path class="c4 l" d="M1657.5 323.6l-2-11.6"/><path fill="#3ccaca" stroke="#3ccaca" d="M1680.5 267l10.3-1.9-35.3 46.9-10.4-69.9z"/><path class="c12 l" d="M1655.5 312l-4.2-27.5"/><path class="c20 l" d="M1651.3 284.5l-2-14.1"/><path class="c31" d="M1672.2 268.6l8.3-1.6-35.4-24.9-6.2-41.8-2.1-11.9z"/><path class="c44 l" d="M1643 227.9l-4.1-27.6"/><path class="c52 l" d="M1638.9 200.3l-2.1-11.9"/><path class="c31" d="M1597.5 214.4l2.1-14 2-11.1 .6-2.4 1.5-4.6 2.1-3.2 2-1.2 2.1-.6 16.6-3.1 2-.4 2.1 .1 2.1 1.4 2.1 4.5 2 8.6 35.4 80.2-39.3 7.5z"/><path class="c60 l" d="M1636.8 188.4l-2-8.6-2.1-4.5-2.1-1.4-2.1-.1"/><path class="c60 l" d="M1628.5 173.8l-8.2 1.6"/><path class="c60 l" d="M1620.3 175.4l-8.3 1.5"/><path class="c60 l" d="M1612 176.9l-4.2 1-2 1.2-2.1 3.2"/><path class="c60 l" d="M1603.7 182.3l-1.5 4.6-.6 2.4-2 11.1"/><path class="c52 l" d="M1599.6 200.4l-2.1 14"/><path fill="#3ccaca" stroke="#3ccaca" d="M1585.1 306.7l12.4-92.3 35.4 61.7-12.5 2.4z"/><path class="c52 l" d="M1597.5 214.4l-2.1 15.1"/><path class="c44 l" d="M1595.4 229.5l-2.1 15.4"/><path class="c20 l" d="M1587.1 291.3l-2 15.4"/><path class="c31" d="M1578.8 345.6l2.1-10.5 4.2-28.4 35.3-28.2-6.3 1.1z"/><path class="c20 l" d="M1585.1 306.7l-2.1 15"/><path class="c12 l" d="M1583 321.7l-2.1 13.4"/><path class="c4 l" d="M1580.9 335.1l-2.1 10.5"/><path class="c31" d="M1585.2 285.1l28.9-5.5-35.3 66-2 5.6-2.1 2.6-2.1 1-10.3 2-2.1 .2-2.1-.5-2-2.6-1.3-3.4-.8-2.9-2.1-10.3-2.1-12.7z"/><path class="c4 l" d="M1578.8 345.6l-2 5.6-2.1 2.6-2.1 1-2 .4"/><path class="c4 l" d="M1570.6 355.2l-8.3 1.6"/><path class="c4 l" d="M1562.3 356.8l-2.1 .2-2.1-.5-2-2.6-1.3-3.4-.8-2.9"/><path class="c4 l" d="M1554 347.6l-2.1-10.3"/><path class="c12 l" d="M1551.9 337.3l-2.1-12.7"/><path fill="#3ccaca" stroke="#3ccaca" d="M1576.2 286.8l9-1.7-35.4 39.5-8.9-60.5z"/><path class="c12 l" d="M1549.8 324.6l-2-13.8"/><path class="c20 l" d="M1547.8 310.8l-4.2-28"/><path class="c31" d="M1566.6 288.7l9.6-1.9-35.3-22.7-6.9-46.4-2.8-15.6z"/><path class="c44 l" d="M1538.1 245.4l-2.8-18.6"/><path class="c52 l" d="M1535.3 226.8l-2.7-17.6"/><path class="c60 l" d="M1532.6 209.2l-1.4-7.1"/><path class="c31" d="M1520.2 237.1l4.1-26.9 1.4-7.4 1.4-5.1 1.3-2 1.4 1.6 1.4 4.8 35.4 86.6-11.1 2.1z"/><path class="c60 l" d="M1531.2 202.1l-1.4-4.8-1.4-1.6-1.3 2-1.4 5.1-2.8 15.9"/><path class="c52 l" d="M1522.9 218.7l-2.7 18.4"/><path fill="#3ccaca" stroke="#3ccaca" d="M1509.1 311.9l11.1-74.8 35.3 53.7-11 2.1z"/><path class="c44 l" d="M1520.2 237.1l-4.2 28.1"/><path class="c20 l" d="M1510.5 302.6l-1.4 9.3"/><path class="c31" d="M1500.8 361.4l1.4-5.2 1.4-7.6 5.5-36.7 35.4-19-8.3 1.6z"/><path class="c20 l" d="M1509.1 311.9l-2.7 18.7"/><path class="c12 l" d="M1506.4 330.6l-2.8 18"/><path class="c4 l" d="M1503.6 348.6l-1.4 7.6-1.4 5.2"/><path class="c31" d="M1530.7 295.5l5.5-1-35.4 66.9-1.1 1.4-.2 0-1.4-3-1.4-6.5-1.4-8.5z"/><path class="c4 l" d="M1500.8 361.4l-1.1 1.4-.2 0-1.4-3-1.4-6.5-1.4-8.5"/><path fill="#3ccaca" stroke="#3ccaca" d="M1521 297.3l9.7-1.8-35.4 49.3-9.7-66z"/><path class="c12 l" d="M1495.3 344.8l-2.8-18.7"/><path class="c20 l" d="M1492.5 326.1l-4.1-28.4"/><path class="c31" d="M1511.4 299.2l9.6-1.9-35.4-18.5-9.6-65.3z"/><path class="c44 l" d="M1482.9 259.9l-2.8-18.9"/><path class="c52 l" d="M1480.1 241l-4.1-27.5"/><path class="c31" d="M1471.8 215.8l1.4-7.9 .3-.6 1.1 .4 1.4 5.8 35.4 85.7-4.2 .8z"/><path class="c60 l" d="M1476 213.5l-1.4-5.8-1.1-.4-.3 .6-1.4 7.9"/><path fill="#3ccaca" stroke="#3ccaca" d="M1467.7 259.1l2.8-30.1 1.3-13.2 35.4 84.2-4.1 .7z"/><path class="c60 l" d="M1471.8 215.8l-1.3 13.2"/><path class="c52 l" d="M1470.5 229l-2.8 30.1"/><path fill="#6dd7d7" stroke="#6dd7d7" d="M1462.2 319.8l5.5-60.7 35.4 41.6-5.5 1.1z"/><path class="c44 l" d="M1467.7 259.1l-1.4 15.1"/><path fill="#3ccaca" stroke="#3ccaca" d="M1459.4 349.5l2.8-29.7 35.4-18-2.8 .5z"/><path class="c20 l" d="M1462.2 319.8l-1.4 15.1"/><path class="c31" d="M1457.4 363.3l.6-2.5 1.4-11.3 35.4-47.2-2 .4z"/><path class="c12 l" d="M1460.8 334.9l-1.4 14.6-1.4 11.3"/><path class="c4 l" d="M1458 360.8l-.6 2.5"/><path class="c31" d="M1489.3 303.4l3.5-.7-35.4 60.6-.7 0-1.4-6.2-1.4-9.3z"/><path class="c4 l" d="M1457.4 363.3l-.7 0-1.4-6.2-1.4-9.3"/><path fill="#3ccaca" stroke="#3ccaca" d="M1479.6 305.2l9.7-1.8-35.4 44.4-9.7-67.5z"/><path class="c12 l" d="M1453.9 347.8l-2.8-19.3"/><path class="c20 l" d="M1451.1 328.5l-2.7-19.3"/><path class="c31" d="M1474.1 306.3l5.5-1.1-35.4-24.9-4.1-28.7-1.4-5.5z"/><path class="c44 l" d="M1442.8 270.6l-2.7-19-1.4-5.5"/><path class="c31" d="M1431.8 280.1l5.5-30 1.4-4 35.4 60.2-6.9 1.3z"/><path class="c52 l" d="M1438.7 246.1l-1.4 4-1.4 7.5"/><path class="c44 l" d="M1435.9 257.6l-4.1 22.5"/><path fill="#3ccaca" stroke="#3ccaca" d="M1426.3 310.3l5.5-30.2 35.4 27.5-1.4 .1-4.1-1.6z"/><path class="c31" d="M1424.9 317.8l1.4-7.5 35.4-4.2-1.4-.5z"/><path class="c33" d="M1423.5 323.6l1.4-5.8 35.4-12.2-1.4-.6z"/><path class="c33" d="M1452 302.2l6.9 2.8-35.4 18.6-1.4-4.3-5.5-23.6z"/><path class="c20 l" d="M1423.5 323.6l-1.4-4.3-1.3-5.9"/><path class="c35" d="M1446.5 297.4l5.5 4.8-35.4-6.5-1.5-6.4-1.2-1.4-2.8-2.6z"/><path class="c37" d="M1440.9 292.5l5.6 4.9-35.4-12.1-4.5-4.3-1 .2z"/></g>
<g class="q"><path class="c3" d="M1852.4 234.4l2.7-.5 35.4 89.5-.7-.6-2-3.8z"/><path class="c5" d="M1851.9 234.5l.5-.1 35.4 84.6-.5-1.5z"/><path class="c7" d="M1850.3 234.8l1.6-.3 35.4 83-1.6-6.2z"/><path class="c11" d="M1883.6 300.2l2.1 11.1-35.4-76.5-2.1 .4z"/><path class="c15" d="M1881.5 287.3l2.1 12.9-35.4-65-2 .4z"/><path class="c28 l" d="M1855.1 233.9l-6.9 1.3"/><path class="c21" d="M1879.5 273.7l2 13.6-35.3-51.7-2.1 .4z"/><path class="c28 l" d="M1848.2 235.2l-2 .4"/><path class="c27" d="M1877.4 260l2.1 13.7-35.4-37.7-2.1 .3z"/><path fill="#3ccaca" stroke="#3ccaca" d="M1875.3 246.4l2.1 13.6-35.4-23.7-2 .4z"/><path fill="#65d5a5" stroke="#65d5a5" d="M1873.3 232.7l2 13.7-35.3-9.7-2.1 .4z"/><path fill="#8ed783" stroke="#8ed783" d="M1871.2 219l2.1 13.7-35.4 4.4-2.1 .4z"/><path fill="#d1ce55" stroke="#d1ce55" d="M1869.1 205.5l2.1 13.5-35.4 18.5-2.1 .4z"/><path class="c51" d="M1867.1 192.9l2 12.6-35.4 32.4-2 .4z"/><path class="c55" d="M1865 182.6l2.1 10.3-35.4 45.4-2.1 .4z"/><path class="c28 l" d="M1840 236.7l-8.3 1.6"/><path class="c57" d="M1862.9 175.9l1 2.8 1.1 3.9-35.4 56.1-2.1 .4z"/><path class="c28 l" d="M1831.7 238.3l-4.2 .8"/><path class="c59" d="M1800.8 185.9l2-2.5 2.1-1 51.8-9.9 2.1-.2 2 .7 2.1 2.9-35.4 63.2-62.1 11.8z"/><path class="c28 l" d="M1827.5 239.1l-8.3 1.6"/><path class="c28 l" d="M1819.2 240.7l-8.2 1.5"/><path class="c28 l" d="M1811 242.2l-8.3 1.6"/><path class="c28 l" d="M1802.7 243.8l-8.3 1.6"/><path class="c28 l" d="M1794.4 245.4l-8.3 1.6"/><path class="c28 l" d="M1786.1 247l-8.3 1.5"/><path class="c28 l" d="M1777.8 248.5l-8.3 1.6"/><path class="c57" d="M1799.1 190l1.7-4.1-35.4 65-1.7 .3z"/><path class="c57" d="M1763.3 251.3l.4-.1 35.4-61.2-.4 1.3z"/><path class="c53" d="M1761.3 251.7l2-.4 35.4-60-2.1 8.7z"/><path class="c49" d="M1759.2 252.1l2.1-.4 35.3-51.7-2 11.2z"/><path class="c28 l" d="M1769.5 250.1l-8.2 1.6"/><path class="c45" d="M1757.1 252.5l2.1-.4 35.4-40.9-2.1 12.2z"/><path class="c41" d="M1755 252.9l2.1-.4 35.4-29.1-2.1 12.5z"/><path fill="#65d5a5" stroke="#65d5a5" d="M1753 253.3l2-.4 35.4-17-2 12.6z"/><path fill="#50cebf" stroke="#50cebf" d="M1750.9 253.7l2.1-.4 35.4-4.8-2.1 12.5z"/><path class="c28 l" d="M1761.3 251.7l-8.3 1.6"/><path fill="#41c1de" stroke="#41c1de" d="M1748.8 254.1l2.1-.4 35.4 7.3-2.1 12.6z"/><path fill="#4fb3ea" stroke="#4fb3ea" d="M1746.8 254.4l2-.3 35.4 19.5-2.1 12.5z"/><path class="c19" d="M1744.7 254.8l2.1-.4 35.3 31.7-2 12.5z"/><path class="c15" d="M1742.6 255.2l2.1-.4 35.4 43.8-2.1 12.5z"/><path class="c11" d="M1740.5 255.6l2.1-.4 35.4 55.9-2.1 12z"/><path class="c7" d="M1738.5 256l2-.4 35.4 67.5-2 10.5z"/><path class="c28 l" d="M1746.8 254.4l-8.3 1.6"/><path class="c3" d="M1734.3 256.8l4.2-.8 35.4 77.6-2.1 7.7-2.1 4.3z"/><path class="c28 l" d="M1738.5 256l-4.2 .8"/><path class="c1" d="M1701.2 263.1l33.1-6.3 35.4 88.8-2.1 1.9-2 .7-24.9 4.8-2.1 .4-2-.1z"/><path class="c28 l" d="M1734.3 256.8l-8.2 1.6"/><path class="c28 l" d="M1726.1 258.4l-8.3 1.6"/><path class="c28 l" d="M1717.8 260l-8.3 1.5"/><path class="c3" d="M1699.1 263.5l2.1-.4 35.4 90.2-2.1-1.3z"/><path class="c28 l" d="M1709.5 261.5l-8.3 1.6"/><path class="c5" d="M1696.9 263.9l2.2-.4 35.4 88.5-2.2-4.7z"/><path class="c7" d="M1695 264.3l1.9-.4 35.4 83.4-1.9-7.3z"/><path class="c11" d="M1728.3 329.1l2.1 10.9-35.4-75.7-2.1 .4z"/><path class="c15" d="M1726.2 316.6l2.1 12.5-35.4-64.4-2.1 .4z"/><path class="c28 l" d="M1701.2 263.1l-8.3 1.6"/><path class="c21" d="M1724.2 303.6l2 13-35.4-51.5-2 .4z"/><path class="c28 l" d="M1692.9 264.7l-2.1 .4"/><path class="c25" d="M1722.1 290.6l2.1 13-35.4-38.1-2.1 .4z"/><path fill="#3ccaca" stroke="#3ccaca" d="M1720 277.6l2.1 13-35.4-24.7-2.1 .4z"/><path fill="#5bd1b3" stroke="#5bd1b3" d="M1717.9 264.6l2.1 13-35.4-11.3-2 .3z"/><path fill="#8ed783" stroke="#8ed783" d="M1715.9 251.5l2 13.1-35.3 2-2.1 .4z"/><path fill="#bcd260" stroke="#bcd260" d="M1713.8 238.6l2.1 12.9-35.4 15.5-2.1 .4z"/><path class="c51" d="M1711.7 226.1l2.1 12.5-35.4 28.8-2.1 .4z"/><path class="c55" d="M1709.7 215.2l2 10.9-35.4 41.7-2 .4z"/><path class="c57" d="M1707.6 207.4l2.1 7.8-35.4 53-2.1 .4z"/><path class="c28 l" d="M1682.6 266.6l-8.3 1.6"/><path class="c28 l" d="M1674.3 268.2l-2.1 .4"/><path class="c59" d="M1676.5 209.8l2.1-2.7 2.1-1.1 20.7-4 2 0 2.1 1.3 2.1 4.1-35.4 61.2-31.1 5.9z"/><path class="c28 l" d="M1672.2 268.6l-8.3 1.6"/><path class="c28 l" d="M1663.9 270.2l-8.3 1.6"/><path class="c28 l" d="M1655.6 271.8l-8.2 1.5"/><path class="c57" d="M1674.8 214.6l1.7-4.8-35.4 64.7-1.7 .3z"/><path class="c57" d="M1639.1 274.9l.3-.1 35.4-60.2-.4 1.3z"/><path class="c53" d="M1637 275.3l2.1-.4 35.3-59-2 9.9z"/><path class="c28 l" d="M1647.4 273.3l-8.3 1.6"/><path class="c49" d="M1634.9 275.7l2.1-.4 35.4-49.5-2.1 12.7z"/><path class="c43" d="M1632.9 276.1l2-.4 35.4-37.2-2.1 13.9z"/><path fill="#78d695" stroke="#78d695" d="M1630.8 276.5l2.1-.4 35.3-23.7-2 14.3z"/><path fill="#50cebf" stroke="#50cebf" d="M1628.7 276.9l2.1-.4 35.4-9.8-2.1 14.3z"/><path class="c28 l" d="M1639.1 274.9l-8.3 1.6"/><path fill="#34c6d5" stroke="#34c6d5" d="M1626.6 277.3l2.1-.4 35.4 4.1-2.1 14.3z"/><path fill="#4fb3ea" stroke="#4fb3ea" d="M1624.6 277.7l2-.4 35.4 18-2 14.3z"/><path fill="#57a3f5" stroke="#57a3f5" d="M1622.5 278.1l2.1-.4 35.4 31.9-2.1 14.2z"/><path class="c13" d="M1620.4 278.5l2.1-.4 35.4 45.7-2.1 14z"/><path class="c9" d="M1618.4 278.8l2-.3 35.4 59.3-2.1 12.8z"/><path class="c5" d="M1615.8 279.3l2.6-.5 35.3 71.8-2.5 11.9z"/><path class="c28 l" d="M1624.6 277.7l-8.3 1.5"/><path class="c3" d="M1614.2 279.6l1.6-.3 35.4 83.2-1.6 4.5z"/><path class="c28 l" d="M1616.3 279.2l-2.1 .4"/><path class="c1" d="M1595.6 283.2l18.6-3.6 35.4 87.4-2.1 2.9-2 1.1-10.4 2.1-2.1 .3-2-.2z"/><path class="c28 l" d="M1614.2 279.6l-8.3 1.6"/><path class="c28 l" d="M1605.9 281.2l-8.2 1.6"/><path class="c3" d="M1593.5 283.6l2.1-.4 35.4 90-2.1-1.7z"/><path class="c5" d="M1591.4 284l2.1-.4 35.4 87.9-2.1-4.8z"/><path class="c7" d="M1589.4 284.4l2-.4 35.4 82.7-2.1-8.4z"/><path class="c11" d="M1622.7 347l2 11.3-35.3-73.9-2.1 .3z"/><path class="c28 l" d="M1597.7 282.8l-8.3 1.6"/><path class="c17" d="M1620.6 334.5l2.1 12.5-35.4-62.3-2.1 .4z"/><path class="c21" d="M1618.5 321.7l2.1 12.8-35.4-49.4-2 .4z"/><path class="c28 l" d="M1589.4 284.4l-4.2 .7"/><path class="c27" d="M1616.5 308.8l2 12.9-35.3-36.2-2.1 .4z"/><path fill="#3ccaca" stroke="#3ccaca" d="M1614.4 295.9l2.1 12.9-35.4-22.9-2.1 .4z"/><path fill="#5bd1b3" stroke="#5bd1b3" d="M1613 287.3l1.4 8.6-35.4-9.6-1.4 .3z"/><path fill="#65d5a5" stroke="#65d5a5" d="M1611.6 278.7l1.4 8.6-35.4-.7-1.4 .2z"/><path fill="#8ed783" stroke="#8ed783" d="M1610.2 270l1.4 8.7-35.4 8.1-1.3 .3z"/><path fill="#bcd260" stroke="#bcd260" d="M1608.9 261.4l1.3 8.6-35.3 17.1-1.4 .3z"/><path fill="#d1ce55" stroke="#d1ce55" d="M1607.5 252.9l1.4 8.5-35.4 26-1.4 .2z"/><path class="c51" d="M1606.1 244.5l1.4 8.4-35.4 34.7-1.4 .3z"/><path class="c53" d="M1604.7 236.7l1.4 7.8-35.4 43.4-1.4 .3z"/><path class="c57" d="M1602 225.4l1.3 4.6 1.4 6.7-35.4 51.5-2.7 .5z"/><path class="c28 l" d="M1577.6 286.6l-8.3 1.6"/><path class="c59" d="M1599.2 225.4l1.4-1.6 1.4 1.6-35.4 63.3-2.8 .5z"/><path class="c57" d="M1562.4 289.5l1.4-.3 35.4-63.8-1.4 4.6z"/><path class="c55" d="M1561.1 289.7l1.3-.2 35.4-59.5-1.4 6.7z"/><path class="c51" d="M1559.7 290l1.4-.3 35.3-53-1.3 7.8z"/><path class="c28 l" d="M1569.3 288.2l-8.2 1.5"/><path class="c49" d="M1558.3 290.3l1.4-.3 35.4-45.5-1.4 8.4z"/><path class="c45" d="M1556.9 290.5l1.4-.2 35.4-37.4-1.4 8.6z"/><path class="c43" d="M1555.5 290.8l1.4-.3 35.4-29-1.4 8.7z"/><path fill="#78d695" stroke="#78d695" d="M1554.2 291l1.3-.2 35.4-20.6-1.4 8.6z"/><path fill="#65d5a5" stroke="#65d5a5" d="M1552.8 291.3l1.4-.3 35.3-12.2-1.3 8.7z"/><path fill="#50cebf" stroke="#50cebf" d="M1551.4 291.6l1.4-.3 35.4-3.8-1.4 8.6z"/><path class="c28 l" d="M1561.1 289.7l-8.3 1.6"/><path fill="#3ccaca" stroke="#3ccaca" d="M1550 291.8l1.4-.2 35.4 4.5-1.4 8.7z"/><path fill="#41c1de" stroke="#41c1de" d="M1548.6 292.1l1.4-.3 35.4 13-1.4 8.6z"/><path fill="#4fb3ea" stroke="#4fb3ea" d="M1547.3 292.4l1.3-.3 35.4 21.3-1.4 8.6z"/><path fill="#52abef" stroke="#52abef" d="M1545.9 292.6l1.4-.2 35.3 29.6-1.3 8.7z"/><path class="c17" d="M1544.5 292.9l1.4-.3 35.4 38.1-1.4 8.6z"/><path class="c15" d="M1543.1 293.1l1.4-.2 35.4 46.4-1.4 8.7z"/><path class="c11" d="M1541.7 293.4l1.4-.3 35.4 54.9-1.4 8.5z"/><path class="c9" d="M1540.4 293.7l1.3-.3 35.4 63.1-1.4 8.3z"/><path class="c7" d="M1539 293.9l1.4-.2 35.3 71.1-1.4 7.3z"/><path class="c5" d="M1537.6 294.2l1.4-.3 35.3 78.2-1.3 5.4z"/><path class="c3" d="M1536.2 294.5l1.4-.3 35.4 83.3-1.4 2.2z"/><path class="c28 l" d="M1545.9 292.6l-8.3 1.6"/><path class="c5" d="M1534.8 294.7l1.4-.2 35.4 85.2-1.4-1.8z"/><path class="c7" d="M1533.4 295l1.4-.3 35.4 83.2-1.4-5.3z"/><path class="c9" d="M1567.4 365.1l1.4 7.5-35.4-77.6-1.3 .2z"/><path class="c13" d="M1566.1 356.7l1.3 8.4-35.3-69.9-1.4 .3z"/><path class="c15" d="M1564.7 348l1.4 8.7-35.4-61.2-1.4 .3z"/><path class="c19" d="M1563.3 339.3l1.4 8.7-35.4-52.2-1.4 .2z"/><path class="c28 l" d="M1537.6 294.2l-8.3 1.6"/><path class="c23" d="M1561.9 330.5l1.4 8.8-35.4-43.3-1.4 .3z"/><path class="c28 l" d="M1529.3 295.8l-1.4 .2"/><path class="c25" d="M1560.5 321.8l1.4 8.7-35.4-34.2-1.3 .3z"/><path fill="#34c6d5" stroke="#34c6d5" d="M1559.2 313.1l1.3 8.7-35.3-25.2-1.4 .2z"/><path fill="#50cebf" stroke="#50cebf" d="M1557.8 304.4l1.4 8.7-35.4-16.3-1.4 .3z"/><path fill="#5bd1b3" stroke="#5bd1b3" d="M1556.4 295.7l1.4 8.7-35.4-7.3-1.4 .2z"/><path fill="#78d695" stroke="#78d695" d="M1555 287l1.4 8.7-35.4 1.6-1.4 .3z"/><path fill="#8ed783" stroke="#8ed783" d="M1553.6 278.3l1.4 8.7-35.4 10.6-1.3 .3z"/><path fill="#bcd260" stroke="#bcd260" d="M1552.3 269.5l1.3 8.8-35.3 19.6-1.4 .2z"/><path fill="#e3ca54" stroke="#e3ca54" d="M1550.9 260.8l1.4 8.7-35.4 28.6-1.4 .3z"/><path class="c51" d="M1549.5 252.1l1.4 8.7-35.4 37.6-1.4 .3z"/><path class="c55" d="M1548.1 243.9l1.4 8.2-35.4 46.6-1.4 .2z"/><path class="c57" d="M1546.7 237.2l1.4 6.7-35.4 55-1.3 .3z"/><path class="c28 l" d="M1521 297.3l-8.3 1.6"/><path class="c59" d="M1545.1 235.4l.3-.3 1.3 2.1-35.3 62-1.7 .3z"/><path class="c57" d="M1508.6 299.7l1.1-.2 35.4-64.1-1.1 4.4z"/><path class="c53" d="M1507.2 300l1.4-.3 35.4-59.9-1.4 10.8z"/><path fill="#e3ca54" stroke="#e3ca54" d="M1505.8 300.2l1.4-.2 35.4-49.4-1.4 13.4z"/><path fill="#a6d571" stroke="#a6d571" d="M1504.5 300.5l1.3-.3 35.4-36.2-1.4 14z"/><path fill="#8cdfbb" stroke="#8cdfbb" d="M1503.1 300.7l1.4-.2 35.3-22.5-1.3 14.1z"/><path class="c28 l" d="M1512.7 298.9l-8.2 1.6"/><path fill="#7cdacf" stroke="#7cdacf" d="M1501.7 301l1.4-.3 35.4-8.6-1.4 14z"/><path class="c28 l" d="M1504.5 300.5l-1.4 .2"/><path fill="#71d0e6" stroke="#71d0e6" d="M1500.3 301.3l1.4-.3 35.4 5.1-1.4 14z"/><path fill="#4fb3ea" stroke="#4fb3ea" d="M1498.9 301.5l1.4-.2 35.4 18.8-1.4 14z"/><path fill="#589bfb" stroke="#589bfb" d="M1497.6 301.8l1.3-.3 35.4 32.6-1.4 14.1z"/><path fill="#6887fe" stroke="#6887fe" d="M1496.2 302.1l1.4-.3 35.3 46.4-1.4 13.8z"/><path class="c9" d="M1494.8 302.3l1.4-.2 35.3 59.9-1.3 12.4z"/><path class="c7" d="M1492 302.8l2.8-.5 35.4 72.1-1.4 6.5-1.4-2.5z"/><path class="c11" d="M1526 370.6l1.4 7.8-35.4-75.6-1.4 .3z"/><path class="c13" d="M1524.6 361.8l1.4 8.8-35.4-67.5-1.3 .3z"/><path class="c28 l" d="M1498.9 301.5l-8.3 1.6"/><path class="c17" d="M1523.3 352.9l1.3 8.9-35.3-58.4-1.4 .2z"/><path class="c21" d="M1521.9 344l1.4 8.9-35.4-49.3-1.4 .3z"/><path class="c28 l" d="M1490.6 303.1l-2.7 .5"/><path class="c23" d="M1520.5 335.1l1.4 8.9-35.4-40.1-1.4 .3z"/><path class="c27" d="M1519.1 326.2l1.4 8.9-35.4-30.9-1.4 .2z"/><path fill="#3ccaca" stroke="#3ccaca" d="M1517.7 317.4l1.4 8.8-35.4-21.8-1.3 .3z"/><path fill="#50cebf" stroke="#50cebf" d="M1516.4 308.5l1.3 8.9-35.3-12.7-1.4 .2z"/><path fill="#65d5a5" stroke="#65d5a5" d="M1515 299.6l1.4 8.9-35.4-3.6-1.4 .3z"/><path fill="#8ed783" stroke="#8ed783" d="M1513.6 290.7l1.4 8.9-35.4 5.6-1.4 .3z"/><path fill="#a6d571" stroke="#a6d571" d="M1512.2 281.8l1.4 8.9-35.4 14.8-1.4 .2z"/><path class="c47" d="M1509.5 272.7l.6-.7 .7 1.9 1.4 7.9-35.4 23.9-2.7 .6z"/><path class="c45" d="M1472.7 306.5l1.4-.2 35.4-33.6-1.4 6z"/><path class="c43" d="M1471.3 306.8l1.4-.3 35.4-27.8-1.4 7z"/><path class="c28 l" d="M1481 304.9l-8.3 1.6"/><path class="c41" d="M1469.9 307l1.4-.2 35.4-21.1-1.4 6.9z"/><path class="c37" d="M1468.6 307.3l1.3-.3 35.4-14.4-1.4 7z"/><path class="c35" d="M1467.2 307.6l1.4-.3 35.3-7.7-1.3 7z"/><path class="c28 l" d="M1472.7 306.5l-4.1 .8"/><path class="c33" d="M1465.8 307.7l1.4-.1 35.4-1-1.4 6.9z"/><path class="c31" d="M1464.4 307.3l1.4 .4 35.4 5.8-1.4 7z"/><path class="c27" d="M1463 306.7l1.4 .6 35.4 13.2-1.4 7z"/><path class="c25" d="M1461.7 306.1l1.3 .6 35.4 20.8-1.4 6.9z"/><path class="c23" d="M1460.3 305.6l1.4 .5 35.3 28.3-1.3 7z"/><path class="c21" d="M1459.4 305.2l.9 .4 35.4 35.8-.9 3z"/><path class="c23" d="M1458.9 305l.5 .2 35.4 39.2-.5-.7z"/><path class="c25" d="M1492.9 338.5l1.4 5.2-35.4-38.7-1.4-.5z"/><path class="c27" d="M1491.5 333l1.4 5.5-35.4-34-1.4-.6z"/><path class="c29" d="M1490.1 327.6l1.4 5.4-35.4-29.1-1.3-.6z"/><path class="c36 l" d="M1463 306.7l-6.9-2.8"/><path class="c31" d="M1488.7 322.2l1.4 5.4-35.3-24.3-1.4-.5z"/><path class="c33" d="M1487.4 316.7l1.3 5.5-35.3-19.4-1.4-.6z"/><path class="c35" d="M1481.8 308.5l4.2 3.6 1.4 4.6-35.4-14.5-5.5-4.8z"/><path class="c37" d="M1476.3 305.2l1.4-.2 4.1 3.5-35.3-11.1-5.6-4.9z"/></g>
<g class="q"><path class="c31" d="M1919 258.4l6.9-1.3-35.4 66.3-.7-.6-2-3.8-.5-1.5-1.6-6.2-2.1-11.1z"/><path class="c4 l" d="M1890.5 323.4l-.7-.6-2-3.8-.5-1.5-1.6-6.2-2.1-11.1"/><path fill="#3ccaca" stroke="#3ccaca" d="M1910.7 260l8.3-1.6-35.4 41.8-8.3-53.8z"/><path class="c12 l" d="M1883.6 300.2l-2.1-12.9"/><path class="c20 l" d="M1881.5 287.3l-4.1-27.3"/><path class="c31" d="M1900.4 262l10.3-2-35.4-13.6-6.2-40.9-2-12.6-2.1-10.3z"/><path class="c44 l" d="M1871.2 219l-4.1-26.1"/><path class="c52 l" d="M1867.1 192.9l-2.1-10.3"/><path class="c31" d="M1790.4 235.9l4.2-24.7 2-11.2 2.5-10 1.7-4.1 2-2.5 2.1-1 2.1-.5 47.6-9 4.2-.6 2 .7 2.1 2.9 1 2.8 1.1 3.9 35.4 79.4-74.6 14.1z"/><path class="c60 l" d="M1865 182.6l-1.1-3.9-1-2.8-2.1-2.9-2-.7-2.1 .2"/><path class="c60 l" d="M1856.7 172.5l-8.3 1.5"/><path class="c60 l" d="M1848.4 174l-8.3 1.6"/><path class="c60 l" d="M1840.1 175.6l-8.3 1.6"/><path class="c60 l" d="M1831.8 177.2l-8.2 1.6"/><path class="c60 l" d="M1823.6 178.8l-8.3 1.5"/><path class="c60 l" d="M1815.3 180.3l-8.3 1.6"/><path class="c60 l" d="M1807 181.9l-2.1 .5-2.1 1-2 2.5-2.1 5.4"/><path class="c60 l" d="M1798.7 191.3l-2.1 8.7"/><path class="c52 l" d="M1796.6 200l-4.1 23.4"/><path class="c44 l" d="M1792.5 223.4l-2.1 12.5"/><path fill="#3ccaca" stroke="#3ccaca" d="M1782.1 286.1l8.3-50.2 35.4 40.2-8.3 1.6z"/><path class="c44 l" d="M1790.4 235.9l-2 12.6"/><path class="c31" d="M1772.1 340.5l1.8-6.9 2-10.5 6.2-37 35.4-8.4-10 1.9z"/><path class="c20 l" d="M1780.1 298.6l-2.1 12.5"/><path class="c12 l" d="M1778 311.1l-2.1 12-2 10.5"/><path class="c4 l" d="M1773.9 333.6l-1.8 6.9"/><path class="c31" d="M1763.7 287.9l43.8-8.3-35.4 60.9-2.4 5.1-2.1 1.9-2 .7-2.1 .5-22.8 4.3-2.1 .4-2-.1-2.1-1.3-2.2-4.7-1.9-7.3-2.1-10.9z"/><path class="c4 l" d="M1772.1 340.5l-2.4 5.1-2.1 1.9-2 .7"/><path class="c4 l" d="M1765.6 348.2l-8.3 1.7"/><path class="c4 l" d="M1757.3 349.9l-8.3 1.5"/><path class="c4 l" d="M1749 351.4l-8.3 1.6"/><path class="c4 l" d="M1740.7 353l-2.1 .4-2-.1-2.1-1.3"/><path class="c4 l" d="M1734.5 352l-2.2-4.7-1.9-7.3"/><path class="c12 l" d="M1730.4 340l-2.1-10.9"/><path fill="#3ccaca" stroke="#3ccaca" d="M1755.4 289.5l8.3-1.6-35.4 41.2-8.3-51.5z"/><path class="c12 l" d="M1728.3 329.1l-2.1-12.5"/><path class="c20 l" d="M1726.2 316.6l-4.1-26"/><path class="c31" d="M1745 291.5l10.4-2-35.4-11.9-6.2-39-2.1-12.5-2-10.9z"/><path class="c44 l" d="M1715.9 251.5l-4.2-25.4"/><path class="c52 l" d="M1711.7 226.1l-2-10.9"/><path class="c31" d="M1668.2 252.4l4.2-26.6 2-9.9 2.1-6.1 2.1-2.7 2.1-1.1 2-.5 16.6-3.1 2.1-.4 2 0 2.1 1.3 2.1 4.1 2.1 7.8 35.3 76.3-41.4 7.8z"/><path class="c52 l" d="M1709.7 215.2l-2.1-7.8"/><path class="c60 l" d="M1707.6 207.4l-2.1-4.1-2.1-1.3-2 0-2.1 .4"/><path class="c60 l" d="M1699.3 202.4l-8.3 1.5"/><path class="c60 l" d="M1691 203.9l-8.3 1.6"/><path class="c60 l" d="M1682.7 205.5l-2 .5-2.1 1.1-2.1 2.7-2.1 6.1"/><path class="c60 l" d="M1674.4 215.9l-2 9.9"/><path class="c52 l" d="M1672.4 225.8l-4.2 26.6"/><path fill="#3ccaca" stroke="#3ccaca" d="M1657.9 323.8l10.3-71.4 35.4 46.9-10.3 2z"/><path class="c44 l" d="M1668.2 252.4l-2 14.3"/><path class="c31" d="M1651.2 362.5l2.5-11.9 4.2-26.8 35.4-22.5-6.7 1.3z"/><path class="c20 l" d="M1657.9 323.8l-2.1 14"/><path class="c12 l" d="M1655.8 337.8l-2.1 12.8-2 10.1"/><path class="c4 l" d="M1651.7 360.7l-.5 1.8"/><path class="c31" d="M1658.1 308l28.5-5.4-35.4 59.9-1.6 4.5-2.1 2.9-2 1.1-10.4 2.1-2.1 .3-2-.2-2.1-1.7-2.1-4.8-2.1-8.4-2-11.3z"/><path class="c4 l" d="M1651.2 362.5l-1.6 4.5-2.1 2.9-2 1.1-2.1 .5"/><path class="c4 l" d="M1643.4 371.5l-8.3 1.6"/><path class="c4 l" d="M1635.1 373.1l-2.1 .3-2-.2-2.1-1.7-2.1-4.8"/><path class="c4 l" d="M1626.8 366.7l-2.1-8.4"/><path class="c12 l" d="M1624.7 358.3l-2-11.3"/><path fill="#3ccaca" stroke="#3ccaca" d="M1649.8 309.6l8.3-1.6-35.4 39-8.3-51.1z"/><path class="c12 l" d="M1622.7 347l-2.1-12.5"/><path class="c20 l" d="M1620.6 334.5l-4.1-25.7"/><path class="c31" d="M1638.7 311.7l11.1-2.1-35.4-13.7-8.3-51.4-2.8-14.5z"/><path class="c44 l" d="M1610.2 270l-2.7-17.1"/><path class="c52 l" d="M1607.5 252.9l-2.8-16.2-1.4-6.7"/><path class="c31" d="M1590.9 270.2l5.5-33.5 1.4-6.7 1.4-4.6 1.4-1.6 1.4 1.6 1.3 4.6 35.4 81.7-12.4 2.3z"/><path class="c60 l" d="M1603.3 230l-1.3-4.6-1.4-1.6-1.4 1.6-1.4 4.6-1.4 6.7"/><path class="c52 l" d="M1596.4 236.7l-4.1 24.8"/><path class="c44 l" d="M1592.3 261.5l-1.4 8.7"/><path fill="#3ccaca" stroke="#3ccaca" d="M1581.3 330.7l9.6-60.5 35.4 43.8-9.7 1.9z"/><path class="c44 l" d="M1590.9 270.2l-2.7 17.3"/><path class="c31" d="M1573 377.5l1.3-5.4 1.4-7.3 5.6-34.1 35.3-14.8-8.3 1.5z"/><path class="c20 l" d="M1581.3 330.7l-2.8 17.3"/><path class="c12 l" d="M1578.5 348l-4.2 24.1"/><path class="c4 l" d="M1574.3 372.1l-1.3 5.4"/><path class="c31" d="M1601.4 318.7l6.9-1.3-35.3 60.1-1.4 2.2-1.4-1.8-1.4-5.3-2.7-15.9z"/><path class="c4 l" d="M1573 377.5l-1.4 2.2-1.4-1.8-1.4-5.3-1.4-7.5"/><path class="c12 l" d="M1567.4 365.1l-1.3-8.4"/><path fill="#3ccaca" stroke="#3ccaca" d="M1593.2 320.3l8.2-1.6-35.3 38-8.3-52.3z"/><path class="c12 l" d="M1566.1 356.7l-1.4-8.7"/><path class="c20 l" d="M1564.7 348l-4.2-26.2"/><path class="c31" d="M1583.5 322.2l9.7-1.9-35.4-15.9-9.7-60.5z"/><path class="c44 l" d="M1553.6 278.3l-2.7-17.5"/><path class="c52 l" d="M1550.9 260.8l-2.8-16.9"/><path class="c31" d="M1542.6 250.6l1.4-10.8 1.1-4.4 .3-.3 1.3 2.1 1.4 6.7 35.4 78.3-5.5 1z"/><path class="c52 l" d="M1548.1 243.9l-1.4-6.7"/><path class="c60 l" d="M1546.7 237.2l-1.3-2.1-.3 .3-1.1 4.4-1.4 10.8"/><path fill="#3ccaca" stroke="#3ccaca" d="M1538.5 292.1l4.1-41.5 35.4 72.6-4.2 .8z"/><path class="c52 l" d="M1542.6 250.6l-2.8 27.4"/><path class="c44 l" d="M1539.8 278l-1.3 14.1"/><path fill="#6dd7d7" stroke="#6dd7d7" d="M1534.3 334.1l4.2-42 35.3 31.9-4.1 .8z"/><path fill="#3ccaca" stroke="#3ccaca" d="M1531.5 362l2.8-27.9 35.4-9.3-2.8 .5z"/><path class="c31" d="M1528.8 380.9l1.4-6.5 1.3-12.4 35.4-36.7-2.7 .5z"/><path class="c20 l" d="M1534.3 334.1l-2.8 27.9"/><path class="c31" d="M1561.4 326.4l2.8-.6-35.4 55.1-1.4-2.5-1.4-7.8z"/><path class="c12 l" d="M1531.5 362l-1.3 12.4-1.4 6.5"/><path class="c4 l" d="M1528.8 380.9l-1.4-2.5"/><path class="c12 l" d="M1527.4 378.4l-1.4-7.8"/><path fill="#3ccaca" stroke="#3ccaca" d="M1551.7 328.2l9.7-1.8-35.4 44.2-9.6-62.1z"/><path class="c12 l" d="M1526 370.6l-2.7-17.7"/><path class="c20 l" d="M1523.3 352.9l-2.8-17.8"/><path class="c31" d="M1546.2 329.2l5.5-1-35.3-19.7-5.6-34.6z"/><path class="c44 l" d="M1513.6 290.7l-2.8-16.8"/><path class="c31" d="M1501.2 313.5l6.9-34.8 1.4-6 .6-.7 .7 1.9 35.4 55.3-9.6 1.9z"/><path class="c44 l" d="M1510.8 273.9l-.7-1.9"/><path class="c52 l" d="M1510.1 272l-.6 .7-1.4 6"/><path class="c44 l" d="M1508.1 278.7l-4.2 20.9"/><path fill="#3ccaca" stroke="#3ccaca" d="M1499.8 320.5l1.4-7 35.4 17.6-1.4 .2z"/><path class="c31" d="M1494.8 344.4l.9-3 4.1-20.9 35.4 10.8-5.1 1z"/><path class="c20 l" d="M1495.7 341.4l-.9 3"/><path class="c31" d="M1521.4 334l8.7-1.7-35.3 12.1-.5-.7-6.9-27-1.4-4.6z"/><path class="c20 l" d="M1494.8 344.4l-.5-.7-1.4-5.2"/><path class="c31" d="M1476.3 305.2l1.4-.2 8.3 7.1 35.4 21.9-9.7 1.8z"/></g>
<path class="a" d="M1193.3 345.6L1193.3 122.8M1193.3 345.6L1511.7 447.2M1511.7 447.2L1925.9 368.5M1511.7 447.2L1523.1 450.8M1649.8 421L1661.2 424.6M1787.8 394.7L1799.3 398.4M1925.9 368.5L1937.3 372.1M1511.7 447.2L1499.9 449.4M1352.5 396.4L1340.7 398.6M1193.3 345.6L1181.5 347.8M1193.3 345.6L1181.9 342M1193.3 234.2L1181.9 230.6M1193.3 122.8L1181.9 119.2"/>
<text class="k" text-anchor="start" transform="translate(1531.3 493.5) scale(0.575 1)">0</text>
<text class="k" text-anchor="start" transform="translate(1669.4 467.3) scale(0.575 1)">50</text>
<text class="k" text-anchor="start" transform="translate(1807.4 441) scale(0.575 1)">100</text>
<text class="k" text-anchor="start" transform="translate(1945.5 414.8) scale(0.575 1)">150</text>
<text class="k" text-anchor="end" transform="translate(1490.9 491.5) scale(0.575 1)">-5</text>
<text class="k" text-anchor="end" transform="translate(1331.7 440.7) scale(0.575 1)">0</text>
<text class="k" text-anchor="end" transform="translate(1172.5 389.9) scale(0.575 1)">5</text>
<text class="k" text-anchor="end" transform="translate(1173.3 355.2) scale(0.575 1)">-5</text>
<text class="k" text-anchor="end" transform="translate(1173.3 243.8) scale(0.575 1)">0</text>
<text class="k" text-anchor="end" transform="translate(1173.3 132.4) scale(0.575 1)">5</text>
<text class="m" text-anchor="middle" transform="translate(1365.9 524.2) scale(.53 1)">y</text>
<text class="m n" text-anchor="middle" transform="translate(1695.9 530.6) scale(.75 1)">t</text>
<text class="b" text-anchor="middle" transform="translate(1135.2 236) rotate(-90) scale(.985 .56)">e<tspan class="s" dy="7">3</tspan><tspan class="p" dy="-4" dx="1">(</tspan><tspan dy="-3">y</tspan><tspan class="p" dx="1">,</tspan><tspan dx="9">t</tspan><tspan class="p" dy="3" dx="1">)</tspan></text>
</g>
<g>
<path class="g" d="M1193.3 905.6L1607.5 826.9M1925.9 928.5L1607.5 826.9M1352.5 956.4L1766.7 877.7M1649.8 981L1331.4 879.4M1787.8 954.7L1469.4 853.1M1331.4 879.4L1331.4 656.6M1469.4 853.1L1469.4 630.3M1607.5 826.9L1607.5 604.1M1193.3 794.2L1607.5 715.5M1193.3 682.8L1607.5 604.1M1766.7 877.7L1766.7 654.9M1925.9 928.5L1925.9 705.7M1925.9 817.1L1607.5 715.5M1925.9 705.7L1607.5 604.1"/>
<g class="q"><path class="c63" d="M1526.2 686.7l.7-.7 1.4-.7 2.1-.6 112.5-21.4-35.4 31.2-4.8 1.9-6.2 2.9-2.1 1.7-.7 .8-1.4 2.1-2.1 3.9-12.4 26.5-2.1 3.9-2 2.7-2.1 1.4-4.1 1.2-31.1 7.5-8.3 1.7-31.1 4.2-2 .1-2.1-.6-1.4-1.4-.7-1.1z"/><path class="c44 l" d="M1607.5 694.5l-6.9 2.8"/><path class="c44 l" d="M1600.6 697.3l-4.1 2-2.1 1.7-.7 .8"/><path class="c36 l" d="M1593.7 701.8l-1.4 2.1-2.1 3.9-4.1 8.8"/><path class="c36 l" d="M1586.1 716.6l-2.1 4.5"/><path class="c28 l" d="M1584 721.1l-6.2 13.2-2.1 3.9"/><path class="c20 l" d="M1575.7 738.2l-2 2.7-2.1 1.4-4.1 1.2"/><path class="c20 l" d="M1567.5 743.5l-8.3 2"/><path class="c20 l" d="M1559.2 745.5l-8.3 2"/><path class="c20 l" d="M1550.9 747.5l-8.3 2"/><path class="c20 l" d="M1542.6 749.5l-8.3 2"/><path class="c20 l" d="M1534.3 751.5l-4.1 .9-4.2 .6"/><path class="c20 l" d="M1526 753l-8.2 1.1"/><path class="c20 l" d="M1517.8 754.1l-8.3 1.1"/><path class="c20 l" d="M1509.5 755.2l-8.3 1.1"/><path class="c20 l" d="M1501.2 756.3l-6.2 .7-2.1-.6"/><path class="c61" d="M1524.1 690.1l2.1-3.4-35.4 67.2-2-4.5z"/><path class="c57" d="M1522.1 696.5l2-6.4-35.3 59.3-2.1-5.5z"/><path class="c20 l" d="M1492.9 756.4l-1.4-1.4-.7-1.1-2-4.5"/><path class="c53" d="M1520 704.9l2.1-8.4-35.4 47.4-2.1-5.9z"/><path class="c49" d="M1482.5 732.2l2.1 5.8 35.4-33.1-2.1 9.3z"/><path class="c28 l" d="M1488.8 749.4l-4.2-11.4"/><path fill="#bcd260" stroke="#bcd260" d="M1480.5 726.6l2 5.6 35.4-18-2 9.4z"/><path fill="#78d695" stroke="#78d695" d="M1478.4 722.1l2.1 4.5 35.4-3-2.1 9.4z"/><path class="c36 l" d="M1484.6 738l-4.1-11.4"/><path class="c39" d="M1477.7 721.1l.7 1 35.4 10.9-.7 3.2z"/><path class="c35" d="M1476.3 719.8l1.4 1.3 35.4 15.1-1.4 6.2z"/><path class="c31" d="M1474.3 719.2l2 .6 35.4 22.6-2.1 9.5z"/><path class="c27" d="M1472.2 719.5l2.1-.3 35.3 32.7-2 9.4z"/><path class="c21" d="M1470.1 719.9l2.1-.4 35.4 41.8-2.1 9.4z"/><path class="c17" d="M1468.1 720.3l2-.4 35.4 50.8-2.1 9.5z"/><path class="c44 l" d="M1477.7 721.1l-1.4-1.3-2-.6-4.2 .7"/><path class="c13" d="M1466 720.7l2.1-.4 35.3 59.9-2 9.4z"/><path class="c7" d="M1463.9 721.1l2.1-.4 35.4 68.9-2.1 9.4z"/><path class="c3" d="M1461.8 721.5l2.1-.4 35.4 77.9-2.1 9.1z"/><path class="c44 l" d="M1470.1 719.9l-8.3 1.6"/><path class="c0" d="M1424.6 767.2l2-16.1 2.1-13.2 .7-3.3 1.4-4.4 2-2.8 2.1-.8 26.9-5.1 35.4 86.6-2.1 7.9-1.3 3.9-.7 1.4-2.1 2.7-2.1 .9-2 .5-27 4.6z"/><path class="c44 l" d="M1461.8 721.5l-8.2 1.5"/><path class="c44 l" d="M1453.6 723l-8.3 1.6"/><path class="c44 l" d="M1445.3 724.6l-8.3 1.6"/><path class="c44 l" d="M1437 726.2l-2.1 .4-2.1 .8-2 2.8-1.4 4.4"/><path class="c36 l" d="M1429.4 734.6l-.7 3.3-2.1 13.2"/><path class="c28 l" d="M1426.6 751.1l-2 16.1"/><path fill="#6452ba" stroke="#6452ba" d="M1420.4 796.6l2.1-13.2 2.1-16.2 35.3 62.8-4.1 .7z"/><path class="c20 l" d="M1424.6 767.2l-2.1 16.2"/><path class="c12 l" d="M1422.5 783.4l-2.1 13.2"/><path class="c0" d="M1337.6 816.2l2.1 .4 2-.2 72.5-8.9 2.1-.6 2-2.7 1.4-4.4 .7-3.2 35.4 34.1-76.6 13.2-2.1 .2-2.1-.4-2-2.6z"/><path class="c12 l" d="M1420.4 796.6l-.7 3.2"/><path class="c0" d="M1372.3 839.5l.7 1.6-35.4-24.9-.7-.3z"/><path class="c1" d="M1370.9 835l1.4 4.5-35.4-23.6-1.4-1z"/><path class="c7" d="M1368.8 825.7l2.1 9.3-35.4-20.1-2.1-2.1z"/><path fill="#6887fe" stroke="#6887fe" d="M1366.7 814.9l2.1 10.8-35.4-12.9-2-2.5z"/><path fill="#589bfb" stroke="#589bfb" d="M1365.4 807.4l1.3 7.5-35.3-4.6-1.4-1.7z"/><path fill="#52abef" stroke="#52abef" d="M1364 799.9l1.4 7.5-35.4 1.2-1.4-1.7z"/><path fill="#4abae6" stroke="#4abae6" d="M1362.6 792.4l1.4 7.5-35.4 7-1.4-1.7z"/><path fill="#34c6d5" stroke="#34c6d5" d="M1361.2 784.9l1.4 7.5-35.4 12.8-1.4-1.6z"/><path fill="#50cebf" stroke="#50cebf" d="M1359.8 777.3l1.4 7.6-35.4 18.7-1.3-1.7z"/><path fill="#65d5a5" stroke="#65d5a5" d="M1358.5 769.8l1.3 7.5-35.3 24.6-1.4-1.6z"/><path class="c41" d="M1357.1 762.3l1.4 7.5-35.4 30.5-1.4-1.4z"/><path class="c12 l" d="M1330 808.6l-6.9-8.3"/><path class="c45" d="M1355.7 754.8l1.4 7.5-35.4 36.6-1.4-1.2z"/><path class="c47" d="M1354.3 747.4l1.4 7.4-35.4 42.9-1.4-.8z"/><path class="c51" d="M1352.9 740.2l1.4 7.2-35.4 49.5-1.3-.5z"/><path class="c55" d="M1351.6 733.6l1.3 6.6-35.3 56.2-1.4-.3z"/><path class="c59" d="M1349.3 725.7l.9 2.5 1.4 5.4-35.4 62.5-2.2-.5z"/><path class="c20 l" d="M1323.1 800.3l-2.8-2.6-1.4-.8-1.3-.5-2.8-.6"/><path class="c20 l" d="M1314.8 795.8l-.8-.2"/><path class="c61" d="M1346 721.4l1.4 .9 1.4 2.1 .5 1.3-35.3 69.9-3.3-.6z"/><path class="c20 l" d="M1314 795.6l-3.3-.6"/><path class="c63" d="M1319.8 725.8l23.5-4.5 1.4-.1 1.3 .2-35.3 73.6-4.2-.8-1.4-.6-1.3-1.4-1.4-2.5-1.4-4.1-1.4-5.3-4.1-17.4-1.4-3.9-1.4-2-1.4-.6-1.4 .3-2.7 1-1.4 .8-1.4 1.3z"/><path class="c20 l" d="M1310.7 795l-4.2-.8-1.4-.6-1.3-1.4-1.4-2.5"/><path class="c20 l" d="M1302.4 789.7l-1.4-4.1"/><path class="c28 l" d="M1301 785.6l-4.2-17.3"/><path class="c36 l" d="M1296.8 768.3l-1.3-5.4-1.4-3.9-1.4-2"/><path class="c44 l" d="M1292.7 757l-1.4-.6-1.4 .3-2.7 1-1.4 .8-1.4 1.3"/><path class="c63" d="M1276.1 792.2l5.6-25.2 1.3-4.5 1.4-2.7 35.4-34-8.3 1.6z"/><path class="c44 l" d="M1284.4 759.8l-1.4 2.7"/><path class="c36 l" d="M1283 762.5l-1.3 4.5-2.8 12.6"/><path class="c28 l" d="M1278.9 779.6l-2.8 12.6"/><path class="c63" d="M1306 728.6l5.5-1.2-35.4 64.8-1.3 4.4-1.4 2.1-1.4 .3-1.4-.2z"/><path class="c28 l" d="M1276.1 792.2l-1.3 4.4"/><path class="c20 l" d="M1274.8 796.6l-1.4 2.1-1.4 .3-1.4-.2"/><path class="c61" d="M1300.5 733.3l2.7-2.9 1.4-1.1 1.4-.7-35.4 70.2-4.1-1.2-1.4-.6z"/><path class="c20 l" d="M1270.6 798.8l-4.1-1.2-1.4-.6"/><path class="c59" d="M1296.3 738.4l1.4-2 2.8-3.1-35.4 63.7-4.1-2.7z"/><path class="c20 l" d="M1265.1 797l-2.8-1.7"/><path class="c57" d="M1294.9 741.4l1.4-3-35.3 55.9-1.4-1z"/><path class="c55" d="M1293.6 746.1l1.3-4.7-35.3 51.9-1.4-1z"/><path class="c51" d="M1256.8 791.3l1.4 1 35.4-46.2-1.4 5.8z"/><path class="c49" d="M1255.4 790.4l1.4 .9 35.4-39.4-1.4 6.2z"/><path class="c45" d="M1254 789.6l1.4 .8 35.4-32.3-1.4 6.2z"/><path class="c43" d="M1252.7 789.3l1.3 .3 35.4-25.3-1.4 6.2z"/><path class="c28 l" d="M1262.3 795.3l-6.9-4.9-1.4-.8"/><path class="c39" d="M1251.3 789.1l1.4 .2 35.3-18.8-1.3 6.2z"/><path class="c37" d="M1249.9 789l1.4 .1 35.4-12.4-1.4 6.2z"/><path class="c33" d="M1248.5 788.9l1.4 .1 35.4-6.1-1.4 6.2z"/><path class="c28 l" d="M1254 789.6l-1.3-.3-2.8-.3"/><path class="c31" d="M1247.1 788.8l1.4 .1 35.4 .2-1.4 6.2z"/><path class="c27" d="M1245.8 788.7l1.3 .1 35.4 6.5-1.4 6.2z"/><path class="c25" d="M1244.4 788.6l1.4 .1 35.3 12.8-1.3 6.2z"/><path class="c21" d="M1243 788.5l1.4 .1 35.4 19.1-1.4 6.3z"/><path class="c19" d="M1241.6 788.4l1.4 .1 35.4 25.5-1.4 6.2z"/><path class="c15" d="M1240.2 788.3l1.4 .1 35.4 31.8-1.4 6.2z"/><path class="c13" d="M1238.9 788.1l1.3 .2 35.4 38.1-1.4 6.2z"/><path class="c9" d="M1237.5 788.1l1.4 0 35.3 44.5-1.3 6.2z"/><path class="c7" d="M1236.1 788.2l1.4-.1 35.4 50.7-1.4 6.2z"/><path class="c3" d="M1234.7 788.3l1.4-.1 35.4 56.8-1.4 6.2z"/><path class="c1" d="M1233.3 788.4l1.4-.1 35.4 62.9-1.4 6.2z"/><path class="c28 l" d="M1243 788.5l-5.5-.4-2.8 .2"/><path class="c0" d="M1230.6 788.6l2.7-.2 35.4 69-1.4 5.5-.8 1.2-.5-.9z"/><path class="c1" d="M1264.6 857.2l1.4 6-35.4-74.6-1.4 .2z"/><path class="c5" d="M1263.2 850l1.4 7.2-35.4-68.4-1.4 .1z"/><path class="c9" d="M1261.8 842.7l1.4 7.3-35.4-61.1-1.4 .1z"/><path class="c13" d="M1260.4 835.4l1.4 7.3-35.4-53.7-1.3 .1z"/><path class="c28 l" d="M1234.7 788.3l-8.3 .7"/><path class="c17" d="M1259.1 828.2l1.3 7.2-35.3-46.3-1.4 .2z"/><path class="c19" d="M1257.7 820.9l1.4 7.3-35.4-38.9-1.4 .1z"/><path class="c23" d="M1256.3 813.7l1.4 7.2-35.4-31.5-1.4 .1z"/><path class="c28 l" d="M1226.4 789l-4.1 .4"/><path class="c27" d="M1254.9 806.4l1.4 7.3-35.4-24.2-1.4 .1z"/><path class="c31" d="M1253.5 799.2l1.4 7.2-35.4-16.8-1.3 .2z"/><path class="c35" d="M1252.1 791.9l1.4 7.3-35.3-9.4-1.4 .1z"/><path fill="#78d695" stroke="#78d695" d="M1250.8 784.6l1.3 7.3-35.3-2-1.4 .2z"/><path fill="#a6d571" stroke="#a6d571" d="M1249.4 777.4l1.4 7.2-35.4 5.5-1.4 .7z"/><path class="c47" d="M1248 770.1l1.4 7.3-35.4 13.4-1.4 .8z"/><path class="c51" d="M1246.6 762.9l1.4 7.2-35.4 21.5-1.4 .9z"/><path class="c55" d="M1244.4 752.6l.8 3 1.4 7.3-35.4 29.6-2.2 1.3z"/><path class="c55" d="M1208.5 794.1l.5-.3 35.4-41.2-.5 1z"/><path class="c53" d="M1207.1 794.9l1.4-.8 35.4-40.5-1.4 5.8z"/><path class="c28 l" d="M1216.8 789.9l-1.4 .2-6.9 4"/><path class="c49" d="M1205.7 795.7l1.4-.8 35.4-35.5-1.4 5.9z"/><path class="c47" d="M1204.3 796.6l1.4-.9 35.4-30.4-1.4 5.8z"/><path class="c45" d="M1203 797.4l1.3-.8 35.4-25.5-1.4 5.8z"/><path class="c41" d="M1201.6 798.2l1.4-.8 35.3-20.5-1.3 5.8z"/><path class="c39" d="M1200.2 799.4l1.4-1.2 35.4-15.5-1.4 5.9z"/><path class="c35" d="M1198.8 800.6l1.4-1.2 35.4-10.8-1.4 5.8z"/><path class="c28 l" d="M1208.5 794.1l-6.9 4.1-1.4 1.2"/><path class="c33" d="M1197.4 801.8l1.4-1.2 35.4-6.2-1.4 5.8z"/><path class="c31" d="M1196.1 803l1.3-1.2 35.4-1.6-1.4 5.9z"/><path class="c27" d="M1194.7 804.1l1.4-1.1 35.3 3.1-1.3 5.8z"/><path class="c25" d="M1193.3 805.3l1.4-1.2 35.4 7.8-1.4 5.8z"/></g>
<g class="q"><path class="c41" d="M1633.9 665l9-1.7 35.4 53.8-9 3.7z"/><path class="c60 l" d="M1642.9 663.3l-6.9 1.3"/><path class="c60 l" d="M1636 664.6l-2.1 .4"/><path class="c39" d="M1629.1 665.9l4.8-.9 35.4 55.8-2.1 1.1-2.1 1.7-.7 .8z"/><path class="c60 l" d="M1633.9 665l-4.8 .9"/><path class="c37" d="M1625.6 666.6l3.5-.7 35.3 58.5-1.3 2-2.1 4z"/><path class="c35" d="M1623.5 667l2.1-.4 35.4 63.8-2.1 4.4z"/><path class="c33" d="M1621.5 667.4l2-.4 35.4 67.8-2 4.4z"/><path class="c31" d="M1619.4 667.8l2.1-.4 35.4 71.8-2.1 4.5z"/><path class="c60 l" d="M1629.1 665.9l-7.6 1.5"/><path class="c27" d="M1617.3 668.1l2.1-.3 35.4 75.9-2.1 4.4z"/><path class="c25" d="M1615.3 668.5l2-.4 35.4 80-2.1 4.5z"/><path class="c60 l" d="M1621.5 667.4l-6.2 1.1"/><path class="c23" d="M1611.1 669.3l4.2-.8 35.3 84.1-4.1 8.2z"/><path class="c60 l" d="M1615.3 668.5l-4.2 .8"/><path class="c21" d="M1594.6 672.5l16.5-3.2 35.4 91.5-2.1 2.7-2 1.4-2.1 .7-10.4 2.5z"/><path class="c60 l" d="M1611.1 669.3l-8.3 1.6"/><path class="c60 l" d="M1602.8 670.9l-8.2 1.6"/><path class="c19" d="M1542.8 682.3l51.8-9.8 35.3 95.6-29 6.9-22.7 3.1z"/><path class="c60 l" d="M1594.6 672.5l-8.3 1.5"/><path class="c60 l" d="M1586.3 674l-8.3 1.6"/><path class="c60 l" d="M1578 675.6l-8.3 1.6"/><path class="c60 l" d="M1569.7 677.2l-8.3 1.6"/><path class="c60 l" d="M1561.4 678.8l-8.3 1.5"/><path class="c60 l" d="M1553.1 680.3l-8.2 1.6"/><path class="c60 l" d="M1544.9 681.9l-2.1 .4"/><path class="c21" d="M1526.9 686l1.4-.7 2.1-.6 12.4-2.4 35.4 95.8-12.5 1.5-2-.7-1.4-1.3z"/><path class="c60 l" d="M1542.8 682.3l-8.3 1.6"/><path class="c23" d="M1526.2 686.7l.7-.7 35.4 91.6-.7-1.1z"/><path class="c25" d="M1524.1 690.1l2.1-3.4 35.4 89.8-2.1-4.5z"/><path class="c60 l" d="M1534.5 683.9l-6.2 1.4-1.4 .7-.7 .7"/><path class="c27" d="M1522.1 696.5l2-6.4 35.4 81.9-2.1-5.6z"/><path class="c31" d="M1520 704.9l2.1-8.4 35.3 69.9-2-5.8z"/><path class="c35" d="M1517.9 714.2l2.1-9.3 35.4 55.7-2.1-5.9z"/><path class="c60 l" d="M1526.2 686.7l-2.1 3.4-2 6.4-2.1 8.4"/><path class="c37" d="M1515.9 723.6l2-9.4 35.4 40.5-2.1-5.5z"/><path fill="#78d695" stroke="#78d695" d="M1513.8 733l2.1-9.4 35.3 25.6-2-4.5z"/><path class="c52 l" d="M1520 704.9l-4.1 18.7"/><path class="c41" d="M1495.1 816l2.1-7.9 2.1-9.1 14.5-66 35.4 11.7-.7-1-1.4-1.4-2.1-.5-2 .3-12.5 2.3z"/><path class="c28 l" d="M1509.6 751.9l-4.1 18.8"/><path class="c20 l" d="M1505.5 770.7l-4.1 18.9"/><path class="c12 l" d="M1501.4 789.6l-4.2 18.5"/><path class="c4 l" d="M1497.2 808.1l-2.1 7.9"/><path class="c41" d="M1501.5 752.7l2.1-2.7 2.1-.8 24.8-4.8-35.4 71.6-2 5.3-2.1 2.7-2.1 .9-22.7 4z"/><path class="c4 l" d="M1495.1 816l-2 5.3-2.1 2.7-2.1 .9-2 .5"/><path class="c4 l" d="M1486.9 825.4l-8.3 1.4"/><path class="c4 l" d="M1478.6 826.8l-8.3 1.4"/><path class="c39" d="M1500.1 757.2l1.4-4.5-35.3 76.2-1.4 .3z"/><path class="c37" d="M1464.1 829.3l.7-.1 35.3-72-.6 3.2z"/><path class="c29" d="M1462 829.6l2.1-.3 35.4-68.9-2.1 13.3z"/><path class="c21" d="M1459.9 830l2.1-.4 35.4-55.9-2.1 16.1z"/><path class="c4 l" d="M1470.3 828.2l-8.3 1.4"/><path fill="#6091fe" stroke="#6091fe" d="M1457.9 830.4l2-.4 35.4-40.2-2.1 16.2z"/><path fill="#6c6cef" stroke="#6c6cef" d="M1455.8 830.7l2.1-.3 35.3-24.4-2 13.2z"/><path class="c4 l" d="M1462 829.6l-4.1 .8"/><path class="c5" d="M1455.1 830.8l.7-.1 35.4-11.5-.7 3.2z"/><path class="c3" d="M1408.2 838.9l46.9-8.1 35.4-8.4-1.4 4.4-2.1 2.7-2 .6-41.5 5.1z"/><path class="c5" d="M1379.2 843.9l29-5 35.3-3.7-29 3.6z"/><path class="c5" d="M1407.6 838.4l.7 .4 2.1 .3 4.1-.3-35.3 5.1-2.1 .2-2.1-.4-2-2.6-.7-1.6z"/><path class="c7" d="M1404.2 835.3l2.1 2.2 1.3 .9-35.3 1.1-1.4-4.5-2.1-9.3z"/><path class="c9" d="M1402.1 832.9l2.1 2.4-35.4-9.6-2.1-10.8z"/><path class="c11" d="M1399.4 829.5l2.7 3.4-35.4-18-2.7-15z"/><path class="c13" d="M1396.6 826.1l2.8 3.4-35.4-29.6-2.8-15z"/><path class="c20 l" d="M1365.4 807.4l-1.4-7.5"/><path class="c28 l" d="M1362.6 792.4l-1.4-7.5"/><path class="c15" d="M1392.5 821.4l4.1 4.7-35.4-41.2-4.1-22.6z"/><path class="c28 l" d="M1361.2 784.9l-1.4-7.6"/><path class="c36 l" d="M1359.8 777.3l-2.7-15"/><path class="c17" d="M1386.9 818.6l2.8 .9 1.4 .8 1.4 1.1-35.4-59.1-5.5-28.7z"/><path class="c44 l" d="M1357.1 762.3l-2.8-14.9"/><path class="c52 l" d="M1354.3 747.4l-2.7-13.8"/><path class="c19" d="M1341.9 721.6l2.8-.4 1.3 .2 1.4 .9 1.4 2.1 .5 1.3 .9 2.5 1.4 5.4 35.3 85-9.6-1.8z"/><path class="c60 l" d="M1351.6 733.6l-1.4-5.4-.9-2.5-.5-1.3-1.4-2.1-1.4-.9-1.3-.2-1.4 .1"/><path class="c21" d="M1339.1 722.1l2.8-.5 35.4 95.2-1.4-.7-1.4-1.3z"/><path class="c23" d="M1337.8 722.4l1.3-.3 35.4 92.7-1.4-2.6z"/><path class="c25" d="M1336.4 722.6l1.4-.2 35.3 89.8-1.4-4z"/><path class="c27" d="M1335 722.9l1.4-.3 35.3 85.6-1.3-5.3z"/><path class="c31" d="M1333.6 723.2l1.4-.3 35.4 80-1.4-6.1z"/><path class="c60 l" d="M1343.3 721.3l-8.3 1.6"/><path class="c33" d="M1367.6 790.8l1.4 6-35.4-73.6-1.4 .2z"/><path class="c37" d="M1366.2 785.5l1.4 5.3-35.4-67.4-1.4 .3z"/><path class="c39" d="M1328.1 724.2l2.7-.5 35.4 61.8-1.4-3.9-1.3-2.1z"/><path class="c60 l" d="M1335 722.9l-6.9 1.3"/><path class="c41" d="M1322.6 725.3l5.5-1.1 35.4 55.3-1.4-.5-1.4 .2-2.8 1.1z"/><path class="c39" d="M1319.8 725.8l2.8-.5 35.3 55-1.3 .8-1.4 1.3z"/><path class="c37" d="M1318.4 726.1l1.4-.3 35.4 56.6-1.4 2.7z"/><path class="c60 l" d="M1328.1 724.2l-8.3 1.6"/><path class="c35" d="M1317 726.3l1.4-.2 35.4 59-1.4 4.5z"/><path class="c33" d="M1315.7 726.6l1.3-.3 35.4 63.3-1.4 6z"/><path class="c29" d="M1314.3 726.8l1.4-.2 35.3 69-1.3 6.6z"/><path class="c27" d="M1312.9 727.1l1.4-.3 35.4 75.4-1.4 6.6z"/><path class="c23" d="M1311.5 727.4l1.4-.3 35.4 81.7-1.4 6z"/><path class="c60 l" d="M1319.8 725.8l-8.3 1.6"/><path class="c21" d="M1301.9 731.8l2.7-2.5 1.4-.7 5.5-1.2 35.4 87.4-1.4 4.3-1.4 2.1-1.3 .4-5.6-1.4z"/><path class="c60 l" d="M1311.5 727.4l-5.5 1.2-1.4 .7-1.4 1.1"/><path class="c60 l" d="M1303.2 730.4l-1.3 1.4"/><path class="c23" d="M1297.7 736.4l4.2-4.6 35.3 88.4-1.3-.6-2.8-1.7z"/><path class="c60 l" d="M1301.9 731.8l-4.2 4.6"/><path class="c25" d="M1292.2 751.9l1.4-5.8 1.3-4.7 1.4-3 1.4-2 35.4 81.5-5.5-4z"/><path class="c60 l" d="M1297.7 736.4l-1.4 2-1.4 3-1.3 4.7"/><path class="c52 l" d="M1293.6 746.1l-1.4 5.8"/><path class="c27" d="M1283.9 789.1l8.3-37.2 35.4 62-2.8-1.7-1.4-.3-4.1-.4z"/><path class="c52 l" d="M1292.2 751.9l-2.8 12.4"/><path class="c44 l" d="M1289.4 764.3l-4.1 18.6"/><path class="c36 l" d="M1285.3 782.9l-1.4 6.2"/><path class="c29" d="M1267.3 862.9l1.4-5.5 15.2-68.3 35.4 22.4-11.1-.8-5.5 .4z"/><path class="c20 l" d="M1278.4 814l-4.2 18.6"/><path class="c12 l" d="M1274.2 832.6l-2.7 12.4"/><path class="c4 l" d="M1271.5 845l-4.2 17.9"/><path class="c29" d="M1298.6 811.5l4.1-.4-35.4 51.8-.8 1.2-.5-.9-1.4-6-1.4-7.2z"/><path class="c31" d="M1295.8 811.7l2.8-.2-35.4 38.5-2.8-14.6z"/><path class="c4 l" d="M1267.3 862.9l-.8 1.2-.5-.9-1.4-6-2.8-14.5"/><path class="c12 l" d="M1261.8 842.7l-1.4-7.3"/><path fill="#3ccaca" stroke="#3ccaca" d="M1291.7 812.1l4.1-.4-35.4 23.7-4.1-21.7z"/><path class="c12 l" d="M1260.4 835.4l-1.3-7.2"/><path class="c20 l" d="M1259.1 828.2l-2.8-14.5"/><path class="c31" d="M1283.4 814.2l2.7-1.5 5.6-.6-35.4 1.6-8.3-43.6z"/><path class="c29" d="M1280.6 815.9l2.8-1.7-35.4-44.1-2.8-14.5z"/><path class="c44 l" d="M1250.8 784.6l-4.2-21.7"/><path class="c52 l" d="M1246.6 762.9l-1.4-7.3"/><path class="c29" d="M1238.3 776.9l5.6-23.3 .5-1 .8 3 35.4 60.3-6.9 4.1z"/><path class="c52 l" d="M1245.2 755.6l-.8-3"/><path class="c60 l" d="M1244.4 752.6l-.5 1-1.4 5.8"/><path class="c52 l" d="M1242.5 759.4l-2.8 11.7"/><path class="c44 l" d="M1239.7 771.1l-1.4 5.8"/><path class="c27" d="M1232.8 800.2l5.5-23.3 35.4 43.1-1.4 .8-4.1 3.5z"/><path class="c44 l" d="M1238.3 776.9l-2.7 11.7"/><path class="c36 l" d="M1235.6 788.6l-2.8 11.6"/><path class="c25" d="M1228.7 817.7l4.1-17.5 35.4 24.1-4.1 3.6z"/><path class="c36 l" d="M1232.8 800.2l-1.4 5.9"/></g>
<g class="q"><path class="c63" d="M1597 709.2l.7-.6 1.3-.8 2.1-.5 112.5-21.4-35.3 31.2-4.9 1.9-6.2 2.9-2.1 1.7-.7 .8-1.3 2-2.1 4-12.4 26.5-2.1 3.9-2.1 2.7-2 1.4-4.2 1.2-31 7.5-8.3 1.7-31.1 4.1-2.1 .2-2-.7-1.4-1.3-.7-1.1z"/><path class="c44 l" d="M1678.3 717.1l-6.9 2.8"/><path class="c44 l" d="M1671.4 719.9l-4.2 2-2.1 1.7-.7 .8"/><path class="c36 l" d="M1664.4 724.4l-1.3 2-2.1 4-4.1 8.8"/><path class="c36 l" d="M1656.9 739.2l-2.1 4.5"/><path class="c28 l" d="M1654.8 743.7l-6.2 13.2-2.1 3.9"/><path class="c20 l" d="M1646.5 760.8l-2.1 2.7-2 1.4-4.2 1.2"/><path class="c20 l" d="M1638.2 766.1l-8.3 2"/><path class="c20 l" d="M1629.9 768.1l-8.3 2"/><path class="c20 l" d="M1621.6 770.1l-8.2 2"/><path class="c20 l" d="M1613.4 772.1l-8.3 2"/><path class="c20 l" d="M1605.1 774.1l-4.2 .9-4.1 .6"/><path class="c20 l" d="M1596.8 775.6l-8.3 1.1"/><path class="c20 l" d="M1588.5 776.7l-8.3 1.1"/><path class="c20 l" d="M1580.2 777.8l-8.3 1.1"/><path class="c20 l" d="M1571.9 778.9l-6.2 .7-2-.7"/><path class="c61" d="M1594.9 712.7l2.1-3.5-35.4 67.3-2.1-4.5z"/><path class="c57" d="M1592.8 719.1l2.1-6.4-35.4 59.3-2.1-5.6z"/><path class="c20 l" d="M1563.7 778.9l-1.4-1.3-.7-1.1-2.1-4.5"/><path class="c53" d="M1590.8 727.5l2-8.4-35.4 47.3-2-5.8z"/><path class="c49" d="M1553.3 754.7l2.1 5.9 35.4-33.1-2.1 9.2z"/><path class="c28 l" d="M1559.5 772l-4.1-11.4"/><path fill="#bcd260" stroke="#bcd260" d="M1551.2 749.2l2.1 5.5 35.4-18-2.1 9.5z"/><path fill="#78d695" stroke="#78d695" d="M1549.2 744.7l2 4.5 35.4-3-2.1 9.4z"/><path class="c36 l" d="M1555.4 760.6l-4.2-11.4"/><path class="c39" d="M1548.5 743.7l.7 1 35.3 10.9-.6 3.1z"/><path class="c35" d="M1547.1 742.3l1.4 1.4 35.4 15-1.4 6.3z"/><path class="c31" d="M1545 741.8l2.1 .5 35.4 22.7-2.1 9.5z"/><path class="c27" d="M1543 742.1l2-.3 35.4 32.7-2.1 9.4z"/><path class="c21" d="M1540.9 742.5l2.1-.4 35.3 41.8-2 9.4z"/><path class="c17" d="M1538.8 742.9l2.1-.4 35.4 50.8-2.1 9.5z"/><path class="c44 l" d="M1548.5 743.7l-1.4-1.4-2.1-.5-4.1 .7"/><path class="c13" d="M1536.7 743.2l2.1-.3 35.4 59.9-2.1 9.4z"/><path class="c7" d="M1534.7 743.6l2-.4 35.4 69-2.1 9.4z"/><path class="c3" d="M1532.6 744l2.1-.4 35.3 78-2 9.1z"/><path class="c44 l" d="M1540.9 742.5l-8.3 1.5"/><path class="c0" d="M1495.3 789.8l2.1-16.1 2.1-13.3 .6-3.2 1.4-4.5 2.1-2.7 2.1-.8 26.9-5.2 35.4 86.7-2.1 7.8-1.4 4-.7 1.4-2 2.6-2.1 1-2.1 .4-26.9 4.7z"/><path class="c44 l" d="M1532.6 744l-8.3 1.6"/><path class="c44 l" d="M1524.3 745.6l-8.3 1.6"/><path class="c44 l" d="M1516 747.2l-8.3 1.6"/><path class="c44 l" d="M1507.7 748.8l-2 .4-2.1 .8-2.1 2.7-1.4 4.5"/><path class="c36 l" d="M1500.1 757.2l-.6 3.2-2.1 13.3"/><path class="c28 l" d="M1497.4 773.7l-2.1 16.1"/><path fill="#6452ba" stroke="#6452ba" d="M1491.2 819.2l2-13.2 2.1-16.2 35.4 62.8-4.1 .7z"/><path class="c20 l" d="M1495.3 789.8l-2.1 16.2"/><path class="c12 l" d="M1493.2 806l-2 13.2"/><path class="c0" d="M1408.3 838.8l2.1 .3 2.1-.1 72.5-8.9 2-.6 2.1-2.7 1.4-4.4 .7-3.2 35.4 34.1-76.7 13.1-2 .3-2.1-.5-2.1-2.5z"/><path class="c12 l" d="M1491.2 819.2l-.7 3.2"/><path class="c0" d="M1443 862.1l.7 1.6-35.4-24.9-.7-.4z"/><path class="c1" d="M1441.6 857.6l1.4 4.5-35.4-23.7-1.3-.9z"/><path class="c7" d="M1439.6 848.3l2 9.3-35.3-20.1-2.1-2.2z"/><path fill="#6887fe" stroke="#6887fe" d="M1437.5 837.5l2.1 10.8-35.4-13-2.1-2.4z"/><path fill="#589bfb" stroke="#589bfb" d="M1436.1 830l1.4 7.5-35.4-4.6-1.4-1.7z"/><path fill="#52abef" stroke="#52abef" d="M1434.7 822.5l1.4 7.5-35.4 1.2-1.3-1.7z"/><path fill="#4abae6" stroke="#4abae6" d="M1433.4 815l1.3 7.5-35.3 7-1.4-1.7z"/><path fill="#34c6d5" stroke="#34c6d5" d="M1432 807.4l1.4 7.6-35.4 12.8-1.4-1.7z"/><path fill="#50cebf" stroke="#50cebf" d="M1430.6 799.9l1.4 7.5-35.4 18.7-1.4-1.6z"/><path fill="#65d5a5" stroke="#65d5a5" d="M1429.2 792.4l1.4 7.5-35.4 24.6-1.4-1.6z"/><path class="c41" d="M1427.8 784.9l1.4 7.5-35.4 30.5-1.3-1.5z"/><path class="c12 l" d="M1400.7 831.2l-6.9-8.3"/><path class="c45" d="M1426.5 777.4l1.3 7.5-35.3 36.5-1.4-1.1z"/><path class="c47" d="M1425.1 769.9l1.4 7.5-35.4 42.9-1.4-.8z"/><path class="c51" d="M1423.7 762.7l1.4 7.2-35.4 49.6-1.4-.5z"/><path class="c55" d="M1422.3 756.2l1.4 6.5-35.4 56.3-1.4-.4z"/><path class="c59" d="M1420.1 748.3l.8 2.5 1.4 5.4-35.4 62.4-2.2-.4z"/><path class="c20 l" d="M1393.8 822.9l-2.7-2.6-1.4-.8-1.4-.5-2.7-.6"/><path class="c20 l" d="M1385.6 818.4l-.9-.2"/><path class="c61" d="M1416.8 743.9l1.4 .9 1.4 2.2 .5 1.3-35.4 69.9-3.3-.6z"/><path class="c20 l" d="M1384.7 818.2l-3.3-.6"/><path class="c63" d="M1390.6 748.4l23.4-4.5 1.4-.1 1.4 .1-35.4 73.7-4.1-.8-1.4-.7-1.4-1.3-1.4-2.6-1.4-4-1.3-5.3-4.2-17.4-1.4-3.9-1.3-2.1-1.4-.5-1.4 .2-2.8 1.1-1.3 .8-1.4 1.3z"/><path class="c20 l" d="M1381.4 817.6l-4.1-.8-1.4-.7-1.4-1.3-1.4-2.6"/><path class="c20 l" d="M1373.1 812.2l-1.4-4"/><path class="c28 l" d="M1371.7 808.2l-4.1-17.4"/><path class="c36 l" d="M1367.6 790.8l-1.4-5.3-1.4-3.9-1.3-2.1"/><path class="c44 l" d="M1363.5 779.5l-1.4-.5-1.4 .2-2.8 1.1-1.3 .8-1.4 1.3"/><path class="c63" d="M1346.9 814.8l5.5-25.2 1.4-4.5 1.4-2.7 35.4-34-8.3 1.5z"/><path class="c44 l" d="M1355.2 782.4l-1.4 2.7"/><path class="c36 l" d="M1353.8 785.1l-1.4 4.5-2.7 12.6"/><path class="c28 l" d="M1349.7 802.2l-2.8 12.6"/><path class="c63" d="M1376.8 751.2l5.5-1.3-35.4 64.9-1.4 4.3-1.4 2.1-1.3 .4-1.4-.3z"/><path class="c28 l" d="M1346.9 814.8l-1.4 4.3"/><path class="c20 l" d="M1345.5 819.1l-1.4 2.1-1.3 .4-1.4-.3"/><path class="c61" d="M1371.2 755.9l2.8-2.9 1.4-1.1 1.4-.7-35.4 70.1-4.2-1.1-1.3-.6z"/><path class="c20 l" d="M1341.4 821.3l-4.2-1.1-1.3-.6"/><path class="c59" d="M1367.1 761l1.4-2 2.7-3.1-35.3 63.7-4.2-2.7z"/><path class="c20 l" d="M1335.9 819.6l-2.8-1.7"/><path class="c57" d="M1365.7 764l1.4-3-35.4 55.9-1.4-1z"/><path class="c55" d="M1364.3 768.7l1.4-4.7-35.4 51.9-1.4-1z"/><path class="c51" d="M1327.6 813.9l1.3 1 35.4-46.2-1.4 5.8z"/><path class="c49" d="M1326.2 813l1.4 .9 35.3-39.4-1.3 6.1z"/><path class="c45" d="M1324.8 812.2l1.4 .8 35.4-32.4-1.4 6.2z"/><path class="c43" d="M1323.4 811.9l1.4 .3 35.4-25.4-1.4 6.3z"/><path class="c28 l" d="M1333.1 817.9l-6.9-4.9-1.4-.8"/><path class="c39" d="M1322 811.7l1.4 .2 35.4-18.8-1.4 6.2z"/><path class="c37" d="M1320.7 811.6l1.3 .1 35.4-12.4-1.4 6.2z"/><path class="c33" d="M1319.3 811.5l1.4 .1 35.3-6.1-1.3 6.2z"/><path class="c28 l" d="M1324.8 812.2l-1.4-.3-2.7-.3"/><path class="c31" d="M1317.9 811.4l1.4 .1 35.4 .2-1.4 6.2z"/><path class="c27" d="M1316.5 811.3l1.4 .1 35.4 6.5-1.4 6.2z"/><path class="c25" d="M1315.1 811.2l1.4 .1 35.4 12.8-1.4 6.2z"/><path class="c21" d="M1313.8 811l1.3 .2 35.4 19.1-1.4 6.2z"/><path class="c19" d="M1312.4 810.9l1.4 .1 35.3 25.5-1.3 6.2z"/><path class="c15" d="M1311 810.8l1.4 .1 35.4 31.8-1.4 6.3z"/><path class="c13" d="M1309.6 810.7l1.4 .1 35.4 38.2-1.4 6.2z"/><path class="c9" d="M1308.2 810.7l1.4 0 35.4 44.5-1.4 6.2z"/><path class="c7" d="M1306.9 810.7l1.3 0 35.4 50.7-1.4 6.2z"/><path class="c3" d="M1305.5 810.9l1.4-.2 35.3 56.9-1.3 6.2z"/><path class="c1" d="M1304.1 811l1.4-.1 35.4 62.9-1.4 6.2z"/><path class="c28 l" d="M1313.8 811l-5.6-.3-2.7 .2"/><path class="c0" d="M1301.3 811.2l2.8-.2 35.4 69-1.4 5.5-.8 1.2-.6-.9z"/><path class="c1" d="M1335.3 879.8l1.4 6-35.4-74.6-1.3 .1z"/><path class="c5" d="M1334 872.5l1.3 7.3-35.3-68.5-1.4 .2z"/><path class="c9" d="M1332.6 865.3l1.4 7.2-35.4-61-1.4 .1z"/><path class="c13" d="M1331.2 858l1.4 7.3-35.4-53.7-1.4 .1z"/><path class="c28 l" d="M1305.5 810.9l-8.3 .7"/><path class="c17" d="M1329.8 850.8l1.4 7.2-35.4-46.3-1.4 .1z"/><path class="c19" d="M1328.4 843.5l1.4 7.3-35.4-39-1.4 .2z"/><path class="c23" d="M1327 836.2l1.4 7.3-35.4-31.5-1.3 .1z"/><path class="c28 l" d="M1297.2 811.6l-4.2 .4"/><path class="c27" d="M1325.7 829l1.3 7.2-35.3-24.1-1.4 .1z"/><path class="c31" d="M1324.3 821.7l1.4 7.3-35.4-16.8-1.4 .1z"/><path class="c35" d="M1322.9 814.5l1.4 7.2-35.4-9.4-1.4 .2z"/><path fill="#78d695" stroke="#78d695" d="M1321.5 807.2l1.4 7.3-35.4-2-1.4 .2z"/><path fill="#a6d571" stroke="#a6d571" d="M1320.1 800l1.4 7.2-35.4 5.5-1.3 .7z"/><path class="c47" d="M1318.8 792.7l1.3 7.3-35.3 13.4-1.4 .8z"/><path class="c51" d="M1317.4 785.4l1.4 7.3-35.4 21.5-1.4 .8z"/><path class="c55" d="M1315.2 775.1l.8 3.1 1.4 7.2-35.4 29.6-2.2 1.3z"/><path class="c55" d="M1279.2 816.7l.6-.4 35.4-41.2-.6 1.1z"/><path class="c53" d="M1277.9 817.5l1.3-.8 35.4-40.5-1.4 5.8z"/><path class="c28 l" d="M1287.5 812.5l-1.4 .2-6.9 4"/><path class="c49" d="M1276.5 818.3l1.4-.8 35.3-35.5-1.3 5.8z"/><path class="c47" d="M1275.1 819.1l1.4-.8 35.4-30.5-1.4 5.9z"/><path class="c45" d="M1273.7 820l1.4-.9 35.4-25.4-1.4 5.8z"/><path class="c41" d="M1272.3 820.8l1.4-.8 35.4-20.5-1.4 5.8z"/><path class="c39" d="M1271 822l1.3-1.2 35.4-15.5-1.4 5.9z"/><path class="c35" d="M1269.6 823.2l1.4-1.2 35.3-10.8-1.3 5.8z"/><path class="c28 l" d="M1279.2 816.7l-6.9 4.1-1.3 1.2"/><path class="c33" d="M1268.2 824.3l1.4-1.1 35.4-6.2-1.4 5.8z"/><path class="c31" d="M1266.8 825.5l1.4-1.2 35.4-1.5-1.4 5.9z"/><path class="c27" d="M1265.4 826.7l1.4-1.2 35.4 3.2-1.4 5.8z"/><path class="c25" d="M1264.1 827.9l1.3-1.2 35.4 7.8-1.4 5.8z"/></g>
<g class="q"><path class="c41" d="M1704.7 687.6l8.9-1.7 35.4 53.8-9 3.7z"/><path class="c60 l" d="M1713.6 685.9l-6.9 1.3"/><path class="c60 l" d="M1706.7 687.2l-2 .4"/><path class="c39" d="M1699.8 688.5l4.9-.9 35.3 55.8-2 1-2.1 1.7-.7 .9z"/><path class="c60 l" d="M1704.7 687.6l-4.9 .9"/><path class="c37" d="M1696.4 689.1l3.4-.6 35.4 58.5-1.4 2-2 4z"/><path class="c35" d="M1694.3 689.5l2.1-.4 35.4 63.9-2.1 4.3z"/><path class="c33" d="M1692.2 689.9l2.1-.4 35.4 67.8-2.1 4.5z"/><path class="c31" d="M1690.2 690.3l2-.4 35.4 71.9-2.1 4.4z"/><path class="c60 l" d="M1699.8 688.5l-7.6 1.4"/><path class="c27" d="M1688.1 690.7l2.1-.4 35.3 75.9-2 4.5z"/><path class="c25" d="M1686 691.1l2.1-.4 35.4 80-2.1 4.4z"/><path class="c60 l" d="M1692.2 689.9l-6.2 1.2"/><path class="c23" d="M1681.9 691.9l4.1-.8 35.4 84-4.1 8.3z"/><path class="c60 l" d="M1686 691.1l-4.1 .8"/><path class="c21" d="M1665.3 695.1l16.6-3.2 35.4 91.5-2.1 2.7-2.1 1.4-2.1 .7-10.3 2.5z"/><path class="c60 l" d="M1681.9 691.9l-8.3 1.6"/><path class="c60 l" d="M1673.6 693.5l-8.3 1.6"/><path class="c19" d="M1615.6 704.5l49.7-9.4 35.4 95.6-26.9 6.4-22.8 3.2z"/><path class="c60 l" d="M1665.3 695.1l-8.3 1.5"/><path class="c60 l" d="M1657 696.6l-8.3 1.6"/><path class="c60 l" d="M1648.7 698.2l-8.2 1.6"/><path class="c60 l" d="M1640.5 699.8l-8.3 1.5"/><path class="c60 l" d="M1632.2 701.3l-8.3 1.6"/><path class="c60 l" d="M1623.9 702.9l-8.3 1.6"/><path class="c21" d="M1599.5 707.7l16.1-3.2 35.4 95.8-12.4 1.5-2.1-.5-1.6-1.5z"/><path class="c60 l" d="M1615.6 704.5l-8.3 1.6"/><path class="c23" d="M1599 707.8l.5-.1 35.4 92.1-.5-.7z"/><path class="c25" d="M1597 709.2l2-1.4 35.4 91.3-2.1-4.3z"/><path class="c60 l" d="M1607.3 706.1l-6.2 1.2-2.1 .5"/><path class="c27" d="M1594.9 712.7l2.1-3.5 35.3 85.6-2-5.5z"/><path class="c31" d="M1592.8 719.1l2.1-6.4 35.4 76.6-2.1-5.8z"/><path class="c33" d="M1590.8 727.5l2-8.4 35.4 64.4-2.1-5.8z"/><path class="c37" d="M1588.7 736.7l2.1-9.2 35.3 50.2-2-5.6z"/><path class="c60 l" d="M1599 707.8l-2 1.4-2.1 3.5-2.1 6.4-2 8.4"/><path class="c39" d="M1586.6 746.2l2.1-9.5 35.4 35.4-2.1-4.7z"/><path class="c52 l" d="M1590.8 727.5l-4.2 18.7"/><path class="c41" d="M1565.9 838.5l2.1-7.8 2-9.1 16.6-75.4 35.4 21.2-1-1.5-1.1-1.1-2.1-.7-2 .2-14.5 2.7z"/><path class="c28 l" d="M1580.4 774.5l-4.1 18.8"/><path class="c20 l" d="M1576.3 793.3l-4.2 18.9"/><path class="c12 l" d="M1572.1 812.2l-4.1 18.5"/><path class="c4 l" d="M1568 830.7l-2.1 7.8"/><path class="c41" d="M1574.4 773.9l2-2 2.1-.6 22.8-4.3-35.4 71.5-2.1 5.4-2 2.6-2.1 1-2.1 .4-18.6 3.3z"/><path class="c4 l" d="M1565.9 838.5l-2.1 5.4-2 2.6-2.1 1-2.1 .4"/><path class="c4 l" d="M1557.6 847.9l-8.3 1.5"/><path class="c4 l" d="M1549.3 849.4l-8.3 1.4"/><path class="c37" d="M1572.3 780.1l2.1-6.2-35.4 77.3-2.1 .3z"/><path class="c31" d="M1534.8 851.9l2.1-.4 35.4-71.4-2.1 11.9z"/><path class="c25" d="M1532.8 852.2l2-.3 35.4-59.9-2.1 15.5z"/><path fill="#589bfb" stroke="#589bfb" d="M1530.7 852.6l2.1-.4 35.3-44.7-2 16.3z"/><path class="c4 l" d="M1541 850.8l-8.2 1.4"/><path fill="#6c75f6" stroke="#6c75f6" d="M1528.6 852.9l2.1-.3 35.4-28.8-2.1 14.3z"/><path class="c4 l" d="M1532.8 852.2l-2.1 .4"/><path class="c5" d="M1526.6 853.3l2-.4 35.4-14.8-1.3 6.6-.8 2.8z"/><path class="c3" d="M1481 861.1l45.6-7.8 35.3-5.8-2 3.8-2.1 1-41.4 5.2z"/><path class="c5" d="M1449.9 866.4l31.1-5.3 35.4-3.6-31.1 3.8z"/><path class="c5" d="M1479.1 860.6l2.1 .8 2 .1 2.1-.2-35.4 5.1-2 .3-2.1-.5-1.8-1.9-.3-.6z"/><path class="c7" d="M1477 858.9l2.1 1.7-35.4 3.1-.7-1.6-1.4-4.5z"/><path class="c9" d="M1472.9 854.1l4.1 4.8-35.4-1.3-2-9.3-2.1-10.8z"/><path class="c11" d="M1470.1 850.7l2.8 3.4-35.4-16.6-2.8-15z"/><path class="c13" d="M1467.4 847.4l2.7 3.3-35.4-28.2-2.7-15.1z"/><path class="c20 l" d="M1436.1 830l-1.4-7.5"/><path class="c15" d="M1464.6 844.3l2.8 3.1-35.4-40-2.8-15z"/><path class="c28 l" d="M1433.4 815l-2.8-15.1"/><path class="c36 l" d="M1430.6 799.9l-1.4-7.5"/><path class="c17" d="M1457.7 840.9l2.8 .6 1.3 .6 1.4 .9 1.4 1.3-35.4-51.9-4.1-22.5-2.8-13.7z"/><path class="c36 l" d="M1429.2 792.4l-1.4-7.5"/><path class="c44 l" d="M1427.8 784.9l-2.7-15"/><path class="c52 l" d="M1425.1 769.9l-2.8-13.7"/><path class="c19" d="M1412.6 744.2l2.8-.4 1.4 .1 1.4 .9 1.4 2.2 .5 1.3 .8 2.5 1.4 5.4 35.4 84.7-6.9-1.3-2.8-.7z"/><path class="c60 l" d="M1422.3 756.2l-1.4-5.4-.8-2.5-.5-1.3-1.4-2.2-1.4-.9-1.4-.1-1.4 .1"/><path class="c21" d="M1409.9 744.7l2.7-.5 35.4 94.7-1.4-1-1.3-2z"/><path class="c23" d="M1408.5 745l1.4-.3 35.4 91.2-1.4-3.4z"/><path class="c27" d="M1407.1 745.2l1.4-.2 35.4 87.5-1.4-4.9z"/><path class="c29" d="M1405.7 745.5l1.4-.3 35.4 82.4-1.4-5.8z"/><path class="c33" d="M1439.7 815.8l1.4 6-35.4-76.3-1.3 .2z"/><path class="c60 l" d="M1414 743.9l-8.3 1.6"/><path class="c35" d="M1438.4 810.1l1.3 5.7-35.3-70.1-1.4 .3z"/><path class="c37" d="M1401.6 746.3l1.4-.3 35.4 64.1-1.4-4.6z"/><path class="c39" d="M1400.2 746.5l1.4-.2 35.4 59.2-1.4-2.8z"/><path class="c60 l" d="M1405.7 745.5l-5.5 1"/><path class="c41" d="M1394.7 747.6l5.5-1.1 35.4 56.2-1.4-1.2-1.4 0-2.7 1z"/><path class="c60 l" d="M1400.2 746.5l-5.5 1.1"/><path class="c39" d="M1390.6 748.4l4.1-.8 35.4 54.9-1.4 .6-1.4 1-1.4 1.9z"/><path class="c37" d="M1389.2 748.6l1.4-.2 35.3 57.6-1.3 3.6z"/><path class="c35" d="M1387.8 748.9l1.4-.3 35.4 61-1.4 5.4z"/><path class="c31" d="M1386.4 749.2l1.4-.3 35.4 66.1-1.4 6.3z"/><path class="c29" d="M1385 749.4l1.4-.2 35.4 72.1-1.4 6.6z"/><path class="c60 l" d="M1394.7 747.6l-8.3 1.6"/><path class="c25" d="M1383.7 749.7l1.3-.3 35.4 78.5-1.4 6.4z"/><path class="c23" d="M1382.3 749.9l1.4-.2 35.3 84.6-1.3 5.3z"/><path class="c60 l" d="M1386.4 749.2l-4.1 .7"/><path class="c21" d="M1374 753l1.4-1.1 1.4-.7 5.5-1.3 35.4 89.7-1.4 3.3-1.4 1.1-1.4 0-4.1-1.1z"/><path class="c60 l" d="M1382.3 749.9l-5.5 1.3-1.4 .7-1.4 1.1"/><path class="c23" d="M1368.5 759l5.5-6 35.4 89.9-2.8-1.2-2.8-1.8z"/><path class="c60 l" d="M1374 753l-5.5 6"/><path class="c25" d="M1364.3 768.7l1.4-4.7 1.4-3 1.4-2 35.3 80.9-4.1-3z"/><path class="c60 l" d="M1368.5 759l-1.4 2-1.4 3-1.4 4.7"/><path class="c27" d="M1356 805.5l8.3-36.8 35.4 68.2-3.6-2.2-1.9-.4-2.8-.3z"/><path class="c52 l" d="M1364.3 768.7l-3.6 15.6"/><path class="c44 l" d="M1360.7 784.3l-4.7 21.2"/><path class="c29" d="M1338.1 885.5l1.4-5.5 16.5-74.5 35.4 28.5-11.9-.8-6 .4z"/><path class="c20 l" d="M1349.1 836.5l-4.1 18.7"/><path class="c12 l" d="M1345 855.2l-2.8 12.4"/><path class="c4 l" d="M1342.2 867.6l-4.1 17.9"/><path class="c29" d="M1369.3 834l4.2-.4-35.4 51.9-.8 1.2-.6-.9-1.4-6-1.3-7.3z"/><path class="c31" d="M1366.6 834.3l2.7-.3-35.3 38.5-2.8-14.5z"/><path class="c4 l" d="M1338.1 885.5l-.8 1.2-.6-.9-1.4-6-2.7-14.5"/><path class="c12 l" d="M1332.6 865.3l-1.4-7.3"/><path fill="#3ccaca" stroke="#3ccaca" d="M1362.4 834.6l4.2-.3-35.4 23.7-4.2-21.8z"/><path class="c12 l" d="M1331.2 858l-1.4-7.2"/><path class="c20 l" d="M1329.8 850.8l-2.8-14.6"/><path class="c31" d="M1355.5 836.1l1.7-.9 5.2-.6-35.4 1.6-6.9-36.2z"/><path class="c44 l" d="M1321.5 807.2l-1.4-7.2"/><path class="c29" d="M1351.4 838.6l4.1-2.5-35.4-36.1-4.1-21.8z"/><path class="c44 l" d="M1320.1 800l-2.7-14.6"/><path class="c52 l" d="M1317.4 785.4l-1.4-7.2"/><path class="c29" d="M1310.5 793.7l4.1-17.5 .6-1.1 .8 3.1 35.4 60.4-5.5 3.2z"/><path class="c52 l" d="M1316 778.2l-.8-3.1"/><path class="c60 l" d="M1315.2 775.1l-.6 1.1-1.4 5.8"/><path class="c52 l" d="M1313.2 782l-2.7 11.7"/><path class="c27" d="M1303.6 822.8l6.9-29.1 35.4 48.1-2.5 1.5-4.4 3.8z"/><path class="c44 l" d="M1310.5 793.7l-4.2 17.5"/><path class="c36 l" d="M1306.3 811.2l-2.7 11.6"/><path class="c25" d="M1299.4 840.3l4.2-17.5 35.4 24.3-4.2 3.4z"/><path class="c36 l" d="M1303.6 822.8l-1.4 5.9"/></g>
<g class="q"><path class="c63" d="M1673.9 730.2l2.1-1.1 2.1-.5 106.3-20.2-35.4 31.3-4.8 1.9-6.2 2.8-2.1 1.7-.7 .9-1.4 2-2 4-12.5 26.5-2 3.9-2.1 2.7-2.1 1.4-4.1 1.2-35.2 8.4-35.2 4.7z"/><path class="c44 l" d="M1749 739.7l-6.9 2.8"/><path class="c44 l" d="M1742.1 742.5l-4.1 1.9-2.1 1.7-.7 .9"/><path class="c36 l" d="M1735.2 747l-1.4 2-2 4-4.2 8.8"/><path class="c36 l" d="M1727.6 761.8l-2.1 4.4"/><path class="c28 l" d="M1725.5 766.2l-6.2 13.3-2 3.9"/><path class="c20 l" d="M1717.3 783.4l-2.1 2.7-2.1 1.4-4.1 1.2"/><path class="c20 l" d="M1709 788.7l-8.3 2"/><path class="c20 l" d="M1700.7 790.7l-8.3 2"/><path class="c20 l" d="M1692.4 792.7l-8.3 2"/><path class="c20 l" d="M1684.1 794.7l-8.3 2"/><path class="c20 l" d="M1675.8 796.7l-8.2 1.4"/><path class="c20 l" d="M1667.6 798.1l-8.3 1.1"/><path class="c20 l" d="M1659.3 799.2l-8.3 1.1"/><path class="c20 l" d="M1651 800.3l-8.3 1.1"/><path class="c61" d="M1671.2 734.3l.7-1.5 2-2.6-35.3 71.6-2.1-.5-.7-.5z"/><path class="c59" d="M1669.8 738.2l1.4-3.9-35.4 66.5-1.4-1.7z"/><path class="c55" d="M1667.7 745.9l2.1-7.7-35.4 60.9-2.1-4.3z"/><path class="c20 l" d="M1642.7 801.4l-4.1 .4-2.1-.5-.7-.5-1.4-1.7"/><path class="c51" d="M1665.7 754.8l2-8.9-35.4 48.9-2-5.5z"/><path class="c20 l" d="M1634.4 799.1l-2.1-4.3"/><path class="c47" d="M1628.2 783.5l2.1 5.8 35.4-34.5-2.1 9.3z"/><path fill="#8ed783" stroke="#8ed783" d="M1626.1 777.7l2.1 5.8 35.4-19.4-2.1 9.3z"/><path fill="#65d5a5" stroke="#65d5a5" d="M1624.1 772.1l2 5.6 35.4-4.3-2.1 9.2z"/><path class="c28 l" d="M1632.3 794.8l-6.2-17.1"/><path class="c33" d="M1622 767.4l2.1 4.7 35.3 10.5-2 9.3z"/><path class="c31" d="M1621 765.9l1 1.5 35.4 24.5-1 4.4z"/><path class="c29" d="M1619.9 764.8l1.1 1.1 35.4 30.4-1.1 4.9z"/><path class="c23" d="M1617.8 764.1l2.1 .7 35.4 36.4-2.1 9.3z"/><path class="c19" d="M1615.8 764.3l2-.2 35.4 46.4-2 9.3z"/><path class="c15" d="M1613.7 764.6l2.1-.3 35.4 55.5-2.1 9.3z"/><path class="c11" d="M1611.6 765l2.1-.4 35.4 64.5-2.1 9.2z"/><path class="c44 l" d="M1622 767.4l-1-1.5-1.1-1.1-2.1-.7-4.1 .5"/><path class="c5" d="M1609.6 765.4l2-.4 35.4 73.3-2.1 9.2z"/><path class="c1" d="M1607.5 765.8l2.1-.4 35.3 82.1-2 8.6z"/><path class="c44 l" d="M1613.7 764.6l-6.2 1.2"/><path class="c0" d="M1568.1 807.5l2.1-15.5 2.1-11.9 2.1-6.2 2-2 2.1-.6 29-5.5 35.4 90.3-2.6 8-1.6 2.8-2 1.8-2.1 .6-2.1 .4-29 5z"/><path class="c44 l" d="M1607.5 765.8l-8.3 1.6"/><path class="c44 l" d="M1599.2 767.4l-8.3 1.6"/><path class="c44 l" d="M1590.9 769l-8.3 1.5"/><path class="c44 l" d="M1582.6 770.5l-4.1 .8-2.1 .6-2 2"/><path class="c44 l" d="M1574.4 773.9l-2.1 6.2"/><path class="c36 l" d="M1572.3 780.1l-2.1 11.9-2.1 15.5"/><path fill="#6452ba" stroke="#6452ba" d="M1564 838.1l2.1-14.3 2-16.3 35.4 67.2-4.1 .7z"/><path class="c28 l" d="M1568.1 807.5l-2 16.3"/><path class="c20 l" d="M1566.1 823.8l-2.1 14.3"/><path class="c0" d="M1483.2 861.5l74.6-9.2 2.1-1 2-3.8 .8-2.8 1.3-6.6 35.4 37.3-76.6 13.2-2.1 0-2.1-1.2z"/><path class="c12 l" d="M1564 838.1l-1.3 6.6"/><path class="c0" d="M1516.5 883.4l2.1 4-35.4-25.9-2-.1z"/><path class="c3" d="M1514.5 875.8l2 7.6-35.3-22-2.1-.8z"/><path class="c9" d="M1512.4 865.8l2.1 10-35.4-15.2-2.1-1.7z"/><path fill="#6091fe" stroke="#6091fe" d="M1510.3 854.9l2.1 10.9-35.4-6.9-2.1-2.3z"/><path fill="#52abef" stroke="#52abef" d="M1508.3 843.8l2 11.1-35.4 1.7-2-2.5z"/><path fill="#4abae6" stroke="#4abae6" d="M1506.9 836.4l1.4 7.4-35.4 10.3-1.4-1.7z"/><path fill="#34c6d5" stroke="#34c6d5" d="M1505.5 829l1.4 7.4-35.4 16-1.4-1.7z"/><path fill="#50cebf" stroke="#50cebf" d="M1504.1 821.6l1.4 7.4-35.4 21.7-1.4-1.7z"/><path class="c37" d="M1502.7 814.2l1.4 7.4-35.4 27.4-1.3-1.6z"/><path class="c41" d="M1501.4 806.8l1.3 7.4-35.3 33.2-1.4-1.6z"/><path class="c12 l" d="M1474.9 856.6l-7.5-9.2"/><path class="c45" d="M1500 799.4l1.4 7.4-35.4 39-1.4-1.5z"/><path class="c47" d="M1498.6 792.1l1.4 7.3-35.4 44.9-1.4-1.3z"/><path class="c12 l" d="M1467.4 847.4l-2.8-3.1"/><path class="c49" d="M1498.1 789.7l.5 2.4-35.4 50.9-.4-.3z"/><path class="c51" d="M1497.2 785l.9 4.7-35.3 53-1-.6z"/><path class="c55" d="M1495.8 778.6l1.4 6.4-35.4 57.1-1.3-.6z"/><path class="c57" d="M1494.4 773.2l1.4 5.4-35.3 62.9-1.4-.3z"/><path class="c59" d="M1493.1 769.3l1.3 3.9-35.3 68-1.4-.3z"/><path class="c61" d="M1490.3 766.1l1.4 1 1.4 2.2-35.4 71.6-2.8-.5z"/><path class="c20 l" d="M1464.6 844.3l-1.4-1.3-1.4-.9-2.7-.9-2.8-.6"/><path class="c20 l" d="M1456.3 840.6l-1.4-.2"/><path class="c63" d="M1461.3 770.9l26.2-4.9 1.4-.1 1.4 .2-35.4 74.3-5.5-1.1-1.4-.4-1.4-1-1.3-2-1.4-3.4-1.4-4.9-4.1-17.5-1.4-4.6-1.4-2.8-1.4-1.2-1.4 0-1.3 .4-2.8 1.2-1.4 1-1.4 1.9z"/><path class="c20 l" d="M1454.9 840.4l-5.5-1.1-1.4-.4-1.4-1"/><path class="c20 l" d="M1446.6 837.9l-1.3-2-1.4-3.4"/><path class="c28 l" d="M1443.9 832.5l-1.4-4.9-2.8-11.8"/><path class="c36 l" d="M1439.7 815.8l-1.3-5.7-1.4-4.6-1.4-2.8"/><path class="c44 l" d="M1435.6 802.7l-1.4-1.2-1.4 0-4.1 1.6-1.4 1"/><path class="c44 l" d="M1427.3 804.1l-1.4 1.9"/><path class="c63" d="M1417.7 839.6l1.3-5.3 4.2-19.3 1.4-5.4 1.3-3.6 35.4-35.1-8.3 1.6z"/><path class="c36 l" d="M1425.9 806l-1.3 3.6-1.4 5.4-2.8 12.9"/><path class="c63" d="M1450.3 773.1l2.7-.6-35.3 67.1-1.4 3.3-1.4 1.1z"/><path class="c28 l" d="M1420.4 827.9l-1.4 6.4-1.3 5.3"/><path class="c20 l" d="M1417.7 839.6l-1.4 3.3-1.4 1.1"/><path class="c61" d="M1443.4 778.6l2.7-2.9 1.4-1.2 1.4-.9 1.4-.5-35.4 70.9-1.4 0-5.5-1.6z"/><path class="c59" d="M1440.6 781.8l2.8-3.2-35.4 63.8-2.8-1.5z"/><path class="c20 l" d="M1414.9 844l-1.4 0-2.8-.7-2.7-.9-1.4-.7"/><path class="c57" d="M1437.8 787.3l1.4-3.4 1.4-2.1-35.4 59.1-2.7-2z"/><path class="c20 l" d="M1406.6 841.7l-1.4-.8"/><path class="c53" d="M1401.1 837.9l1.4 1 35.3-51.6-1.3 5z"/><path class="c51" d="M1399.7 836.9l1.4 1 35.4-45.6-1.4 5.9z"/><path class="c47" d="M1398.3 836l1.4 .9 35.4-38.7-1.4 6.1z"/><path class="c45" d="M1396.9 835.1l1.4 .9 35.4-31.7-1.4 6.1z"/><path class="c43" d="M1395.6 834.5l1.3 .6 35.4-24.7-1.4 6.1z"/><path class="c28 l" d="M1405.2 840.9l-8.3-5.8"/><path class="c39" d="M1394.2 834.3l1.4 .2 35.3-18-1.3 6.1z"/><path class="c37" d="M1392.8 834.1l1.4 .2 35.4-11.7-1.4 6.1z"/><path class="c33" d="M1391.4 834l1.4 .1 35.4-5.4-1.4 6.1z"/><path class="c28 l" d="M1396.9 835.1l-1.3-.6-2.8-.4"/><path class="c31" d="M1390 833.9l1.4 .1 35.4 .8-1.4 6.1z"/><path class="c27" d="M1388.7 833.8l1.3 .1 35.4 7-1.4 6.2z"/><path class="c25" d="M1387.3 833.7l1.4 .1 35.3 13.3-1.3 6.1z"/><path class="c21" d="M1385.9 833.6l1.4 .1 35.4 19.5-1.4 6.1z"/><path class="c19" d="M1384.5 833.5l1.4 .1 35.4 25.7-1.4 6.1z"/><path class="c15" d="M1383.1 833.4l1.4 .1 35.4 31.9-1.4 6.1z"/><path class="c13" d="M1381.8 833.3l1.3 .1 35.4 38.1-1.4 6.1z"/><path class="c9" d="M1380.4 833.2l1.4 .1 35.3 44.3-1.3 6.1z"/><path class="c7" d="M1379 833.2l1.4 0 35.4 50.5-1.4 6.2z"/><path class="c3" d="M1377.6 833.3l1.4-.1 35.4 56.7-1.4 6.1z"/><path class="c1" d="M1376.2 833.4l1.4-.1 35.4 62.7-1.4 6.1z"/><path class="c28 l" d="M1385.9 833.6l-5.5-.4-2.8 .1"/><path class="c0" d="M1373.5 833.6l2.7-.2 35.4 68.7-1.4 5.5-.9 1.4-.5-.6z"/><path class="c1" d="M1372.1 833.8l1.4-.2 35.3 74.8-1.3-5.6z"/><path class="c5" d="M1406.1 895.6l1.4 7.2-35.4-69-1.4 .1z"/><path class="c9" d="M1404.7 888.5l1.4 7.1-35.4-61.7-1.4 .1z"/><path class="c11" d="M1403.3 881.4l1.4 7.1-35.4-54.5-1.4 .1z"/><path class="c28 l" d="M1377.6 833.3l-8.3 .7"/><path class="c15" d="M1401.9 874.2l1.4 7.2-35.4-47.3-1.3 .2z"/><path class="c19" d="M1400.6 867.1l1.3 7.1-35.3-39.9-1.4 .1z"/><path class="c23" d="M1399.2 860l1.4 7.1-35.4-32.7-1.4 .1z"/><path class="c28 l" d="M1369.3 834l-4.1 .4"/><path class="c27" d="M1397.8 852.8l1.4 7.2-35.4-25.5-1.4 .1z"/><path class="c31" d="M1396.4 845.7l1.4 7.1-35.4-18.2-1.4 .2z"/><path class="c35" d="M1395 838.6l1.4 7.1-35.4-10.9-1.3 .1z"/><path fill="#78d695" stroke="#78d695" d="M1393.7 831.4l1.3 7.2-35.3-3.7-1.4 .1z"/><path fill="#8ed783" stroke="#8ed783" d="M1392.3 824.3l1.4 7.1-35.4 3.6-1.4 .3z"/><path class="c45" d="M1390.9 817.2l1.4 7.1-35.4 11-1.4 .8z"/><path class="c49" d="M1389.5 810l1.4 7.2-35.4 18.9-1.4 .8z"/><path class="c53" d="M1388.1 802.9l1.4 7.1-35.4 26.9-1.3 .8z"/><path class="c55" d="M1386.8 797.6l1.3 5.3-35.3 34.8-1.4 .9z"/><path class="c53" d="M1350 839.4l1.4-.8 35.4-41-1.4 4.8z"/><path class="c28 l" d="M1359.7 834.9l-2.8 .4-5.5 3.3"/><path class="c51" d="M1348.6 840.2l1.4-.8 35.4-37-1.4 5.7z"/><path class="c49" d="M1347.2 841l1.4-.8 35.4-32.1-1.4 5.8z"/><path class="c45" d="M1345.9 841.8l1.3-.8 35.4-27.1-1.4 5.7z"/><path class="c43" d="M1344.5 842.6l1.4-.8 35.3-22.2-1.3 5.7z"/><path class="c41" d="M1343.4 843.3l1.1-.7 35.4-17.3-1.2 4.7z"/><path class="c39" d="M1343.1 843.5l.3-.2 35.3-13.3-.2 1.1z"/><path class="c37" d="M1341.7 844.7l1.4-1.2 35.4-12.4-1.4 5.7z"/><path class="c28 l" d="M1351.4 838.6l-8.3 4.9"/><path class="c35" d="M1340.3 845.9l1.4-1.2 35.4-7.9-1.4 5.8z"/><path class="c28 l" d="M1343.1 843.5l-1.4 1.2"/><path class="c31" d="M1339 847.1l1.3-1.2 35.4-3.3-1.4 5.7z"/><path class="c29" d="M1337.6 848.3l1.4-1.2 35.3 1.2-1.3 5.7z"/><path class="c25" d="M1334.8 850.5l2.8-2.2 35.4 5.7-2.1 8.8-.7 .1z"/></g>
<g class="q"><path class="c41" d="M1775.4 710.2l9-1.8 35.4 53.9-2.8 1-6.2 2.7z"/><path class="c60 l" d="M1784.4 708.4l-6.9 1.4"/><path class="c60 l" d="M1777.5 709.8l-2.1 .4"/><path class="c39" d="M1770.6 711.1l4.8-.9 35.4 55.8-2.1 1.1-2 1.7-.7 .8z"/><path class="c60 l" d="M1775.4 710.2l-4.8 .9"/><path class="c37" d="M1767.1 711.7l3.5-.6 35.4 58.5-1.4 2.1-2.1 3.9z"/><path class="c35" d="M1765.1 712.1l2-.4 35.4 63.9-2.1 4.3z"/><path class="c33" d="M1763 712.5l2.1-.4 35.3 67.8-2 4.5z"/><path class="c31" d="M1760.9 712.9l2.1-.4 35.4 71.9-2.1 4.4z"/><path class="c60 l" d="M1770.6 711.1l-7.6 1.4"/><path class="c27" d="M1758.8 713.3l2.1-.4 35.4 75.9-2.1 4.5z"/><path class="c25" d="M1756.8 713.7l2-.4 35.4 80-2 4.4z"/><path class="c60 l" d="M1763 712.5l-6.2 1.2"/><path class="c23" d="M1752.6 714.5l4.2-.8 35.4 84-4.2 8.2z"/><path class="c60 l" d="M1756.8 713.7l-4.2 .8"/><path class="c21" d="M1744.3 716.1l8.3-1.6 35.4 91.4-2.1 2.7-2 1.5-4.2 1.4z"/><path class="c60 l" d="M1752.6 714.5l-8.3 1.6"/><path class="c19" d="M1702.9 723.9l41.4-7.8 35.4 95.4-16.5 4.6-24.9 3.5z"/><path class="c60 l" d="M1744.3 716.1l-8.2 1.5"/><path class="c60 l" d="M1736.1 717.6l-8.3 1.6"/><path class="c60 l" d="M1727.8 719.2l-8.3 1.6"/><path class="c60 l" d="M1719.5 720.8l-8.3 1.6"/><path class="c60 l" d="M1711.2 722.4l-8.3 1.5"/><path class="c21" d="M1687 726.9l15.9-3 35.4 95.7-10.3 1.4-2.1 .1-2.1-.6-1.4-1.3z"/><path class="c60 l" d="M1702.9 723.9l-8.3 1.6"/><path class="c23" d="M1686.4 727.1l.6-.2 35.4 92.3-.7-1z"/><path class="c25" d="M1684.3 727.5l2.1-.4 35.3 91.1-2-4.1z"/><path class="c60 l" d="M1694.6 725.5l-8.2 1.6"/><path class="c27" d="M1682.2 727.9l2.1-.4 35.4 86.6-2.1-5.2z"/><path class="c31" d="M1680.1 728.3l2.1-.4 35.4 81-2.1-5.5z"/><path class="c33" d="M1678.1 728.6l2-.3 35.4 75.1-2-5.6z"/><path class="c37" d="M1676 729.1l2.1-.5 35.4 69.2-2.1-5.3z"/><path class="c60 l" d="M1686.4 727.1l-8.3 1.5"/><path class="c39" d="M1673.9 730.2l2.1-1.1 35.4 63.4-2.1-4.7z"/><path class="c60 l" d="M1678.1 728.6l-2.1 .5-2.1 1.1"/><path class="c41" d="M1642.9 856.1l4.1-17.8 20.7-92.4 2.1-7.7 1.4-3.9 1.3-2.5 1.4-1.6 35.4 57.6-1.5-2.4-1.2-1.2-1.4-.5-2.1 0-24.9 4.7z"/><path class="c60 l" d="M1673.9 730.2l-1.4 1.6-1.3 2.5-1.4 3.9-2.1 7.7"/><path class="c52 l" d="M1667.7 745.9l-4.1 18.2"/><path class="c28 l" d="M1655.3 801.2l-4.1 18.6"/><path class="c20 l" d="M1651.2 819.8l-2.1 9.3"/><path class="c12 l" d="M1649.1 829.1l-4.2 18.4"/><path class="c4 l" d="M1644.9 847.5l-2 8.6"/><path class="c41" d="M1659.6 792.9l2.1-1.3 16.5-3.2-35.3 67.7-2.6 8-1.6 2.8-2 1.8-2.1 .6-10.4 1.9z"/><path class="c4 l" d="M1642.9 856.1l-2.1 6.8-2.1 4-2 1.8-2.1 .6"/><path class="c4 l" d="M1634.6 869.3l-8.3 1.5"/><path class="c39" d="M1656.9 799.5l.6-2.5 2.1-4.1-35.4 78.3-2.7 .4z"/><path class="c35" d="M1620.1 871.9l1.4-.3 35.4-72.1-1.4 6.7z"/><path class="c29" d="M1618 872.2l2.1-.3 35.4-65.7-2.1 13.7z"/><path class="c21" d="M1615.9 872.6l2.1-.4 35.4-52.3-2.1 15.5z"/><path class="c4 l" d="M1626.3 870.8l-8.3 1.4"/><path fill="#6887fe" stroke="#6887fe" d="M1613.9 872.9l2-.3 35.4-37.2-2 15.1z"/><path fill="#6c6cef" stroke="#6c6cef" d="M1611.8 873.3l2.1-.4 35.4-22.4-2.1 12z"/><path class="c4 l" d="M1618 872.2l-4.1 .7"/><path class="c5" d="M1611.3 873.4l.5-.1 35.4-10.8-.5 2.3z"/><path class="c3" d="M1562.1 881.8l49.2-8.4 35.4-8.6-1.6 4.6-2.1 2.5-2 .6-43.5 5.5z"/><path class="c5" d="M1531 887.2l31.1-5.4 35.4-3.8-31.1 4z"/><path class="c5" d="M1559.3 881.7l.9 .4 2.1 .2 4.1-.3-35.4 5.2-7.1 1.2z"/><path class="c7" d="M1556.1 879.1l2 1.9 1.2 .7-35.4 6.7-3.2 .2z"/><path class="c9" d="M1552.2 874.7l3.9 4.4-35.4 9.5-2.1-1.2-1.8-3.3z"/><path class="c11" d="M1549.8 872l2.4 2.7-35.4 9.4-2.3-8.3z"/><path class="c13" d="M1547.8 869.7l2 2.3-35.3 3.8-2.1-10z"/><path class="c4 l" d="M1514.5 875.8l-2.1-10"/><path class="c15" d="M1543.6 865.2l4.2 4.5-35.4-3.9-4.1-22z"/><path class="c17" d="M1536.7 862l2.8 .6 1.4 .6 1.4 .8 1.3 1.2-35.3-21.4-6.9-37z"/><path class="c28 l" d="M1506.9 836.4l-2.8-14.8"/><path class="c36 l" d="M1504.1 821.6l-2.7-14.8"/><path class="c19" d="M1531.2 861.1l5.5 .9-35.3-55.2-5.6-28.2z"/><path class="c44 l" d="M1501.4 806.8l-2.8-14.7"/><path class="c52 l" d="M1498.6 792.1l-2.8-13.5"/><path class="c19" d="M1491.7 767.1l1.4 2.2 .4 1.1 .9 2.8 1.4 5.4 35.4 82.5-4.1-.8z"/><path class="c52 l" d="M1495.8 778.6l-1.4-5.4"/><path class="c21" d="M1488.9 765.9l1.4 .2 1.4 1 35.4 93.2-1.4-.6-1.4-1.3z"/><path class="c23" d="M1487.5 766l1.4-.1 35.4 92.5-1.5-2.6z"/><path class="c25" d="M1486.2 766.2l1.3-.2 35.3 89.8-1.3-3.5z"/><path class="c27" d="M1484.8 766.5l1.4-.3 35.3 86.1-1.3-4.9z"/><path class="c60 l" d="M1494.4 773.2l-1.3-3.9-1.4-2.2-1.4-1-1.4-.2-2.7 .3"/><path class="c29" d="M1483.4 766.7l1.4-.2 35.4 80.9-1.4-5.6z"/><path class="c33" d="M1482 767l1.4-.3 35.4 75.1-1.4-5.8z"/><path class="c35" d="M1480.6 767.3l1.4-.3 35.4 69-1.4-5.3z"/><path class="c39" d="M1477.9 767.8l2.7-.5 35.4 63.4-1.4-4.2-1.3-2.6z"/><path class="c60 l" d="M1486.2 766.2l-8.3 1.6"/><path class="c41" d="M1472.4 768.8l5.5-1 35.4 56.1-1.4-1.1-1.4 0-2.8 .9z"/><path class="c60 l" d="M1477.9 767.8l-5.5 1"/><path class="c39" d="M1468.2 769.6l4.2-.8 35.3 54.9-2.7 1.4-1.4 1.5z"/><path class="c37" d="M1466.8 769.9l1.4-.3 35.4 57-1.4 2.9z"/><path class="c35" d="M1465.5 770.2l1.3-.3 35.4 59.6-1.4 4.6z"/><path class="c33" d="M1464.1 770.4l1.4-.2 35.3 63.9-1.3 5.7z"/><path class="c29" d="M1462.7 770.7l1.4-.3 35.4 69.4-1.4 6.3z"/><path class="c60 l" d="M1472.4 768.8l-8.3 1.6"/><path class="c27" d="M1461.3 770.9l1.4-.2 35.4 75.4-1.4 6.3z"/><path class="c23" d="M1459.9 771.2l1.4-.3 35.4 81.5-1.4 5.7z"/><path class="c60 l" d="M1464.1 770.4l-4.2 .8"/><path class="c21" d="M1450.3 773.1l9.6-1.9 35.4 86.9-1.6 4.9-1.2 1.9-1.3 .6-1.4-.1-4.2-1.1z"/><path class="c60 l" d="M1459.9 771.2l-8.3 1.6"/><path class="c60 l" d="M1451.6 772.8l-1.3 .3"/><path class="c23" d="M1444.7 777.1l2.8-2.6 1.4-.9 1.4-.5 35.3 91.2-2.7-1-2.8-1.7z"/><path class="c60 l" d="M1450.3 773.1l-1.4 .5-1.4 .9-2.8 2.6"/><path class="c25" d="M1440.6 781.8l4.1-4.7 35.4 84.5-4.1-2.8z"/><path class="c60 l" d="M1444.7 777.1l-4.1 4.7"/><path class="c27" d="M1430.9 816.5l5.6-24.2 1.7-6.1 1-2.3 1.4-2.1 35.4 77-2.8-1.8-1.4-.7-1.3-.3-4.2-.3z"/><path class="c60 l" d="M1440.6 781.8l-1.4 2.1-1 2.3-1.7 6.1"/><path class="c52 l" d="M1436.5 792.3l-4.2 18.1"/><path class="c44 l" d="M1432.3 810.4l-1.4 6.1"/><path class="c29" d="M1410.2 907.6l1.4-5.5 19.3-85.6 35.4 39.2-11.9-.8-8.8 .8z"/><path class="c44 l" d="M1430.9 816.5l-2.7 12.2"/><path class="c20 l" d="M1421.3 859.3l-4.2 18.3"/><path class="c12 l" d="M1417.1 877.6l-2.7 12.3"/><path class="c29" d="M1444.2 855.8l1.4-.1-35.4 51.9-.9 1.4-.5-.6z"/><path class="c4 l" d="M1414.4 889.9l-4.2 17.7-.9 1.4-.5-.6"/><path class="c31" d="M1437.3 856.5l6.9-.7-35.4 52.6-1.3-5.6-5.6-28.6z"/><path class="c4 l" d="M1408.8 908.4l-1.3-5.6-2.8-14.3"/><path fill="#3ccaca" stroke="#3ccaca" d="M1435.9 856.6l1.4-.1-35.4 17.7-1.3-7.1z"/><path class="c12 l" d="M1404.7 888.5l-2.8-14.3"/><path class="c20 l" d="M1401.9 874.2l-1.3-7.1"/><path class="c31" d="M1429 858.3l2.1-1.1 4.8-.6-35.3 10.5-6.9-35.7z"/><path class="c20 l" d="M1400.6 867.1l-1.4-7.1"/><path class="c29" d="M1423.5 861.4l5.5-3.1-35.3-26.9-5.6-28.5z"/><path class="c44 l" d="M1392.3 824.3l-2.8-14.3"/><path class="c52 l" d="M1389.5 810l-1.4-7.1"/><path class="c29" d="M1382.6 813.9l2.8-11.5 1.4-4.8 1.3 5.3 35.4 58.5-5.5 3.2z"/><path class="c52 l" d="M1388.1 802.9l-1.3-5.3"/><path class="c60 l" d="M1386.8 797.6l-1.4 4.8"/><path class="c52 l" d="M1385.4 802.4l-2.8 11.5"/><path class="c27" d="M1375.7 842.6l6.9-28.7 35.4 50.7-1.5 .8-5.4 4.5z"/><path class="c52 l" d="M1382.6 813.9l-1.5 6.1"/><path class="c44 l" d="M1381.1 820l-4 16.8"/><path class="c36 l" d="M1377.1 836.8l-1.4 5.8"/><path class="c25" d="M1370.2 862.9l.7-.1 4.8-20.2 35.4 27.3-3.3 2.8-2.2 .4z"/><path class="c36 l" d="M1375.7 842.6l-2.7 11.4"/></g>
<g class="q"><path class="c61" d="M1840 738.4l15.1-2.9-35.3 26.8-6.9 2.8-4.2 2-2 1.7-2.1 2.9z"/><path class="c44 l" d="M1819.8 762.3l-6.9 2.8"/><path class="c44 l" d="M1812.9 765.1l-4.2 2-2 1.7-.7 .8"/><path class="c36 l" d="M1806 769.6l-1.4 2.1"/><path class="c61" d="M1800.4 779.9l4.2-8.2 35.4-33.3-4.2 .7z"/><path class="c36 l" d="M1804.6 771.7l-4.2 8.2"/><path class="c61" d="M1777.8 750.4l4.2-1 53.8-10.3-35.4 40.8-10.3 22.1-2.1 3.9-2.1 2.7-2 1.5-4.2 1.4-16.5 4.6-20.8 3z"/><path class="c36 l" d="M1800.4 779.9l-4.1 8.9"/><path class="c28 l" d="M1796.3 788.8l-6.2 13.2-2.1 3.9"/><path class="c20 l" d="M1788 805.9l-2.1 2.7-2 1.5-4.2 1.4"/><path class="c20 l" d="M1779.7 811.5l-8.3 2.4"/><path class="c20 l" d="M1771.4 813.9l-8.2 2.2"/><path class="c20 l" d="M1763.2 816.1l-8.3 1.3"/><path class="c20 l" d="M1754.9 817.4l-8.3 1.1"/><path class="c20 l" d="M1746.6 818.5l-4.2 .6"/><path class="c59" d="M1773.3 755l2.5-3.4 2-1.2-35.4 68.7-4.5 .6z"/><path class="c57" d="M1771.6 759.2l1.7-4.2-35.4 64.7-1.7 .2z"/><path class="c53" d="M1734.2 820.2l2-.3 35.4-60.7-2.1 6.7z"/><path class="c49" d="M1732.1 820.5l2.1-.3 35.3-54.3-2 7.7z"/><path class="c20 l" d="M1742.4 819.1l-8.2 1.1"/><path class="c45" d="M1730 820.8l2.1-.3 35.4-46.9-2.1 7.9z"/><path class="c41" d="M1728 821l2-.2 35.4-39.3-2.1 8z"/><path class="c39" d="M1725.9 821.1l2.1-.1 35.3-31.5-2 7.9z"/><path class="c35" d="M1723.8 820.5l2.1 .6 35.4-23.7-2.1 8z"/><path class="c20 l" d="M1734.2 820.2l-6.2 .8-2.1 .1"/><path class="c31" d="M1721.7 818.2l.7 1 1.4 1.3 35.4-15.1-2.1 8z"/><path class="c27" d="M1719.7 814.1l2 4.1 35.4-4.8-2.1 7.9z"/><path class="c20 l" d="M1725.9 821.1l-2.1-.6-1.4-1.3-.7-1"/><path class="c23" d="M1717.6 808.9l2.1 5.2 35.3 7.2-2 8z"/><path class="c19" d="M1715.5 803.4l2.1 5.5 35.4 20.4-2.1 8z"/><path class="c15" d="M1713.5 797.8l2 5.6 35.4 33.9-2.1 7.9z"/><path class="c11" d="M1711.4 792.5l2.1 5.3 35.3 47.4-2 8z"/><path class="c28 l" d="M1717.6 808.9l-4.1-11.1"/><path class="c7" d="M1709.3 787.8l2.1 4.7 35.4 60.7-2.1 7.9z"/><path class="c5" d="M1707.8 785.4l1.5 2.4 35.4 73.3-1.5 5.3z"/><path class="c3" d="M1707.2 784.8l.6 .6 35.4 81-.6 2z"/><path class="c36 l" d="M1713.5 797.8l-2.1-5.3-2.1-4.7-1.5-2.4"/><path class="c1" d="M1704.2 783.6l1 .1 2 1.1 35.4 83.6-2.1 6.2-.9 2.1z"/><path class="c44 l" d="M1707.8 785.4l-.6-.6-2-1.1-1-.1"/><path class="c0" d="M1651.3 835.4l2.1-15.5 2.1-13.7 1.4-6.7 .6-2.5 2.1-4.1 2.1-1.3 2.1-.4 37.2-7.1 3.2-.5 35.4 93.1-1.1 1.9-2.1 2.1-2.1 .8-47.6 8.4z"/><path class="c44 l" d="M1704.2 783.6l-7.3 1.3"/><path class="c44 l" d="M1696.9 784.9l-8.3 1.5"/><path class="c44 l" d="M1688.6 786.4l-8.3 1.6"/><path class="c44 l" d="M1680.3 788l-8.3 1.6"/><path class="c44 l" d="M1672 789.6l-8.2 1.6"/><path class="c44 l" d="M1663.8 791.2l-2.1 .4-2.1 1.3-2.1 4.1-.6 2.5"/><path class="c36 l" d="M1656.9 799.5l-1.4 6.7-2.1 13.7"/><path class="c28 l" d="M1653.4 819.9l-2.1 15.5"/><path fill="#6452ba" stroke="#6452ba" d="M1647.2 862.5l2.1-12 2-15.1 35.4 54.5-4.1 .8z"/><path class="c20 l" d="M1651.3 835.4l-2 15.1"/><path class="c12 l" d="M1649.3 850.5l-2.1 12"/><path class="c0" d="M1572.6 881.2l68.4-8.7 2-.6 2.1-2.5 1.6-4.6 .5-2.3 35.4 28.2-70.5 12.3-2 .2-2.1-.2z"/><path class="c12 l" d="M1647.2 862.5l-.5 2.3"/><path class="c1" d="M1570.6 881.4l2-.2 35.4 21.8-2.1-1.8z"/><path class="c1" d="M1604.7 899.1l1.2 2.1-35.3-19.8-1.2 .2z"/><path class="c3" d="M1603.9 896.9l.8 2.2-35.3-17.5-.9 .1z"/><path class="c7" d="M1601.8 890l2.1 6.9-35.4-15.2-2.1 .3z"/><path class="c11" d="M1599.7 881.3l2.1 8.7-35.4-8-2.1 .2z"/><path class="c17" d="M1597.7 872.1l2 9.2-35.4 .9-2 .1z"/><path class="c21" d="M1595.6 862.7l2.1 9.4-35.4 10.2-2.1-.2z"/><path class="c23" d="M1594.6 858.4l1 4.3-35.4 19.4-.9-.4z"/><path class="c25" d="M1593.5 853.3l1.1 5.1-35.3 23.3-1.2-.7z"/><path class="c31" d="M1591.4 843.9l2.1 9.4-35.4 27.7-2-1.9z"/><path class="c35" d="M1589.4 834.5l2 9.4-35.3 35.2-2.1-2.3z"/><path class="c4 l" d="M1564.3 882.2l-2 .1-2.1-.2-2.1-1.1-2-1.9"/><path class="c41" d="M1587.3 825.1l2.1 9.4-35.4 42.3-2.1-2.4z"/><path class="c45" d="M1585.2 815.8l2.1 9.3-35.4 49.3-2.1-2.4z"/><path class="c51" d="M1583.2 806.8l2 9-35.4 56.2-2-2.3z"/><path class="c55" d="M1581.1 799l2.1 7.8-35.4 62.9-2.1-2.4z"/><path class="c12 l" d="M1556.1 879.1l-8.3-9.4"/><path class="c57" d="M1579 793.5l2.1 5.5-35.4 68.3-2.1-2.1z"/><path class="c12 l" d="M1547.8 869.7l-3.9-4.2"/><path class="c20 l" d="M1543.9 865.5l-.3-.3"/><path class="c59" d="M1539 796.6l34.5-6.5 1.4-.1 1.3 .3 1.4 1.1 1.4 2.1-35.4 71.7-1.8-1.5-2.3-1.1-12.4-2.3-1.4-.6-1.4-1.3-1.5-2.6-1.3-3.5-5.5-21.6-1.4-4.2-1.3-2.6-1.4-1.1-1.4 0-4.1 1.5-1.4 .8-1.4 1.5z"/><path class="c20 l" d="M1543.6 865.2l-1.3-1.2-1.4-.8-2.8-1-2.8-.5"/><path class="c20 l" d="M1535.3 861.7l-8.2-1.4"/><path class="c20 l" d="M1527.1 860.3l-1.4-.6-1.4-1.3-1.5-2.6-1.3-3.5"/><path class="c28 l" d="M1521.5 852.3l-1.3-4.9-2.8-11.4"/><path class="c36 l" d="M1517.4 836l-1.4-5.3-1.4-4.2-1.3-2.6"/><path class="c44 l" d="M1513.3 823.9l-1.4-1.1-1.4 0-2.8 .9-2.7 1.4"/><path class="c44 l" d="M1505 825.1l-1.4 1.5"/><path class="c59" d="M1494.3 861.6l1-3.5 1.4-5.7 4.1-18.3 1.4-4.6 1.4-2.9 35.4-30-6.9 1.4-2.4 .9z"/><path class="c44 l" d="M1503.6 826.6l-1.1 2.3"/><path class="c36 l" d="M1502.5 828.9l-1.7 5.2-2.7 12"/><path class="c28 l" d="M1498.1 846.1l-2.8 12-1 3.5"/><path class="c59" d="M1525.2 802.7l2.7-2.6 1.8-1.2-35.4 62.7-.6 1.4-1.2 1.9-1.3 .6-1.4-.1z"/><path class="c20 l" d="M1494.3 861.6l-.6 1.4-1.2 1.9-1.3 .6-1.4-.1"/><path class="c57" d="M1521 806.9l4.2-4.2-35.4 62.7-4.2-1.1z"/><path class="c55" d="M1518.3 812.2l1.3-3.2 1.4-2.1-35.4 57.4-2.7-1z"/><path class="c51" d="M1516.9 816.7l1.4-4.5-35.4 51.1-1.4-.8z"/><path class="c49" d="M1480.1 861.6l1.4 .9 35.4-45.8-1.4 5z"/><path class="c20 l" d="M1489.8 865.4l-5.5-1.5-2.8-1.4"/><path class="c47" d="M1478.7 860.6l1.4 1 35.4-39.9-1.4 5.2z"/><path class="c45" d="M1477.4 859.7l1.3 .9 35.4-33.7-1.4 5.3z"/><path class="c41" d="M1476 858.8l1.4 .9 35.3-27.5-1.3 5.2z"/><path class="c39" d="M1474.6 857.9l1.4 .9 35.4-21.4-1.4 5.3z"/><path class="c37" d="M1473.2 857l1.4 .9 35.4-15.2-1.4 5.2z"/><path class="c35" d="M1471.8 856.3l1.4 .7 35.4-9.1-1.4 5.3z"/><path class="c28 l" d="M1481.5 862.5l-8.3-5.5"/><path class="c31" d="M1470.5 856l1.3 .3 35.4-3.1-1.4 5.2z"/><path class="c29" d="M1469.1 855.8l1.4 .2 35.3 2.4-1.3 5.3z"/><path class="c27" d="M1467.7 855.7l1.4 .1 35.4 7.9-1.4 5.2z"/><path class="c25" d="M1466.3 855.7l1.4 0 35.4 13.2-1.4 5.2z"/><path class="c21" d="M1464.9 855.6l1.4 .1 35.4 18.4-1.4 5.3z"/><path class="c19" d="M1463.6 855.5l1.3 .1 35.4 23.8-1.4 5.2z"/><path class="c17" d="M1462.2 855.4l1.4 .1 35.3 29.1-1.3 5.3z"/><path class="c15" d="M1460.8 855.3l1.4 .1 35.4 34.5-1.4 5.2z"/><path class="c11" d="M1459.4 855.2l1.4 .1 35.4 39.8-1.4 5.3z"/><path class="c9" d="M1458 855.1l1.4 .1 35.4 45.2-1.4 5.2z"/><path class="c7" d="M1456.7 855l1.3 .1 35.4 50.5-1.4 5.3z"/><path class="c5" d="M1455.3 855l1.4 0 35.3 55.9-1.4 5.2z"/><path class="c28 l" d="M1464.9 855.6l-8.2-.6"/><path class="c3" d="M1454.4 854.9l.9 .1 35.3 61.1-.8 3.4z"/><path class="c1" d="M1453.9 855l.5-.1 35.4 64.6-.5 1.8z"/><path class="c0" d="M1452 855.1l1.9-.1 35.4 66.3-1.4 3.9-.5 .4z"/><path class="c1" d="M1451.1 855.2l.9-.1 35.4 70.5-.9-1.4z"/><path class="c3" d="M1485.1 918.9l1.4 5.3-35.4-69-1.4 .1z"/><path class="c7" d="M1483.7 912.9l1.4 6-35.4-63.6-1.3 .2z"/><path class="c9" d="M1482.4 906.8l1.3 6.1-35.3-57.4-1.4 .1z"/><path class="c28 l" d="M1456.7 855l-2.8 0-5.5 .5"/><path class="c13" d="M1481 900.8l1.4 6-35.4-51.2-1.4 .1z"/><path class="c15" d="M1479.6 894.7l1.4 6.1-35.4-45.1-1.4 .1z"/><path class="c19" d="M1478.2 888.7l1.4 6-35.4-38.9-1.4 .2z"/><path class="c23" d="M1476.8 882.7l1.4 6-35.4-32.7-1.3 .1z"/><path class="c28 l" d="M1448.4 855.5l-5.6 .5"/><path class="c25" d="M1475.5 876.6l1.3 6.1-35.3-26.6-1.4 .1z"/><path class="c29" d="M1474.1 870.6l1.4 6-35.4-20.4-1.4 .2z"/><path class="c31" d="M1472.7 864.6l1.4 6-35.4-14.2-1.4 .1z"/><path class="c35" d="M1471.3 858.5l1.4 6.1-35.4-8.1-1.4 .1z"/><path class="c39" d="M1469.9 852.5l1.4 6-35.4-1.9-1.3 .2z"/><path class="c41" d="M1468.6 846.4l1.3 6.1-35.3 4.3-1.4 .1z"/><path class="c45" d="M1467.2 840.4l1.4 6-35.4 10.5-1.4 .1z"/><path class="c47" d="M1465.8 834.4l1.4 6-35.4 16.6-1.4 .5z"/><path class="c51" d="M1464.4 828.3l1.4 6.1-35.4 23.1-1.4 .8z"/><path class="c55" d="M1462.8 822.6l1.6 5.7-35.4 30-1.5 .9z"/><path class="c28 l" d="M1435.9 856.6l-4.8 .6-2.1 1.1"/><path class="c53" d="M1426.3 859.8l1.2-.6 35.3-36.6-1.1 3z"/><path class="c51" d="M1424.9 860.6l1.4-.8 35.4-34.2-1.4 4.9z"/><path class="c47" d="M1423.5 861.4l1.4-.8 35.4-30.1-1.4 5z"/><path class="c45" d="M1422.1 862.2l1.4-.8 35.4-25.9-1.4 4.9z"/><path class="c43" d="M1420.8 863l1.3-.8 35.4-21.8-1.4 4.9z"/><path class="c41" d="M1419.4 863.8l1.4-.8 35.3-17.7-1.3 5z"/><path class="c28 l" d="M1429 858.3l-8.2 4.7"/><path class="c39" d="M1418 864.6l1.4-.8 35.4-13.5-1.4 4.9z"/><path class="c35" d="M1416.5 865.4l1.5-.8 35.4-9.4-1.5 5.3z"/><path class="c28 l" d="M1420.8 863l-2.8 1.6"/><path class="c33" d="M1415.2 866.5l1.3-1.1 35.4-4.9-1.3 4.5z"/><path class="c31" d="M1413.9 867.6l1.3-1.1 35.4-1.5-1.4 5z"/><path class="c29" d="M1412.5 868.8l1.4-1.2 35.3 2.4-1.4 4.9z"/><path class="c27" d="M1411.1 869.9l1.4-1.1 35.3 6.1-1.3 4.9z"/><path class="c25" d="M1405.6 873.1l2.2-.4 3.3-2.8 35.4 9.9-1.1 4-4.5 .8z"/></g>
<g class="q"><path class="c41" d="M1848.2 736.8l6.9-1.3 35.4 51.3-6.9 .7z"/><path class="c60 l" d="M1855.1 735.5l-6.9 1.3"/><path class="c39" d="M1844.1 737.6l4.1-.8 35.4 50.7-4.1 .4z"/><path class="c37" d="M1842 738l2.1-.4 35.4 50.3-2.1 .1z"/><path class="c60 l" d="M1848.2 736.8l-6.2 1.2"/><path class="c35" d="M1838.6 738.6l3.4-.6 35.4 50-3.4 .4z"/><path class="c33" d="M1837.9 738.7l.7-.1 35.4 49.8-.7 .1z"/><path class="c31" d="M1835.8 739.1l2.1-.4 35.4 49.8-2.1 .4z"/><path class="c29" d="M1833.7 739.5l2.1-.4 35.4 49.8-2.1 .4z"/><path class="c27" d="M1831.7 739.9l2-.4 35.4 49.8-2 .4z"/><path class="c60 l" d="M1842 738l-8.3 1.5"/><path class="c25" d="M1829.6 740.3l2.1-.4 35.4 49.8-2.1 .4z"/><path class="c23" d="M1827.5 740.7l2.1-.4 35.4 49.8-2.1 .4z"/><path class="c60 l" d="M1833.7 739.5l-6.2 1.2"/><path class="c21" d="M1779.9 749.8l47.6-9.1 35.4 49.8-47.6 9.4z"/><path class="c60 l" d="M1827.5 740.7l-8.3 1.6"/><path class="c60 l" d="M1819.2 742.3l-8.2 1.6"/><path class="c60 l" d="M1811 743.9l-8.3 1.5"/><path class="c60 l" d="M1802.7 745.4l-8.3 1.6"/><path class="c60 l" d="M1794.4 747l-8.3 1.6"/><path class="c60 l" d="M1786.1 748.6l-6.2 1.2"/><path class="c19" d="M1767.5 773.6l2-7.7 2.1-6.7 2.1-4.9 2.1-2.7 2-1.2 2.1-.6 35.4 50.1-12.5 2.4z"/><path class="c60 l" d="M1779.9 749.8l-2.1 .6-2 1.2-2.1 2.7-2.1 4.9"/><path class="c60 l" d="M1771.6 759.2l-2.1 6.7"/><path class="c52 l" d="M1769.5 765.9l-2 7.7"/><path class="c21" d="M1759.2 805.4l8.3-31.8 35.3 28.7-8.2 1.6z"/><path class="c52 l" d="M1767.5 773.6l-2.1 7.9"/><path class="c44 l" d="M1765.4 781.5l-4.1 15.9"/><path class="c36 l" d="M1761.3 797.4l-2.1 8"/><path class="c23" d="M1755 821.3l4.2-15.9 35.4-1.5-4.2 .8z"/><path class="c36 l" d="M1759.2 805.4l-2.1 8"/><path class="c25" d="M1750.9 837.3l4.1-16 35.4-16.6-4.1 .8z"/><path class="c27" d="M1744.7 861.1l6.2-23.8 35.4-31.8-6.2 1.5z"/><path class="c29" d="M1742.6 868.4l2.1-7.3 35.4-54.1-2.1 .5z"/><path class="c29" d="M1775.9 808l2.1-.5-35.4 60.9-2.1 6.2z"/><path class="c12 l" d="M1747.5 850.5l-4.9 17.9"/><path class="c4 l" d="M1742.6 868.4l-2.1 6.2"/><path class="c31" d="M1771.8 809.1l4.1-1.1-35.4 66.6-.9 2.1-1.1 1.9-2.1 2.1z"/><path class="c4 l" d="M1740.5 874.6l-.9 2.1-1.1 1.9-2.1 2.1"/><path class="c33" d="M1767.6 810.2l4.2-1.1-35.4 71.6-2.1 .8-2 .5z"/><path class="c4 l" d="M1736.4 880.7l-2.1 .8-2 .5"/><path class="c35" d="M1761.4 811.9l6.2-1.7-35.3 71.8-6.2 1.1z"/><path class="c4 l" d="M1732.3 882l-6.2 1.1"/><path class="c37" d="M1757.3 812.9l4.1-1-35.3 71.2-4.2 .7z"/><path class="c4 l" d="M1726.1 883.1l-4.2 .7"/><path class="c39" d="M1734.5 820.5l16.6-5.8 6.2-1.8-35.4 70.9-22.8 4z"/><path class="c4 l" d="M1721.9 883.8l-8.3 1.4"/><path class="c4 l" d="M1713.6 885.2l-8.3 1.5"/><path class="c4 l" d="M1705.3 886.7l-6.2 1.1"/><path class="c37" d="M1724.2 825.6l2-1.7 2.1-1.1 6.2-2.3-35.4 67.3-10.3 1.8z"/><path class="c4 l" d="M1699.1 887.8l-8.3 1.4"/><path class="c4 l" d="M1690.8 889.2l-2 .4"/><path class="c35" d="M1720 831.3l2.1-3 2.1-2.7-35.4 64-4.2 .7z"/><path class="c33" d="M1717.9 834.5l2.1-3.2-35.4 59-2 .4z"/><path class="c31" d="M1715.9 837.6l2-3.1-35.3 56.2-2.1 .3z"/><path class="c4 l" d="M1688.8 889.6l-8.3 1.4"/><path class="c29" d="M1711.7 843.9l4.2-6.3-35.4 53.4-4.2 .8z"/><path class="c27" d="M1709.7 847.1l2-3.2-35.4 47.9-2 .3z"/><path class="c4 l" d="M1680.5 891l-6.2 1.1"/><path class="c25" d="M1705.5 853.2l4.2-6.1-35.4 45-4.2 .7z"/><path class="c4 l" d="M1674.3 892.1l-4.2 .7"/><path class="c23" d="M1701.4 855.7l1.4-.1 .6-.4 2.1-2-35.4 39.6-4.1 .8z"/><path class="c4 l" d="M1670.1 892.8l-4.1 .8"/><path class="c25" d="M1697.2 853l2.1 1.6 2.1 1.1-35.4 37.9-4.1 .7z"/><path class="c4 l" d="M1666 893.6l-4.1 .7"/><path class="c27" d="M1693.1 849.6l4.1 3.4-35.3 41.3-4.2 .7z"/><path class="c4 l" d="M1661.9 894.3l-4.2 .7"/><path class="c29" d="M1688.9 846.1l4.2 3.5-35.4 45.4-4.1 .7z"/><path class="c4 l" d="M1657.7 895l-4.1 .7"/><path class="c31" d="M1684.8 842.6l4.1 3.5-35.3 49.6-4.2 .8z"/><path class="c4 l" d="M1653.6 895.7l-4.2 .8"/><path class="c33" d="M1680.7 839.2l4.1 3.4-35.4 53.9-4.1 .7z"/><path class="c35" d="M1678.6 837.5l2.1 1.7-35.4 58-2.1 .3z"/><path class="c4 l" d="M1649.4 896.5l-6.2 1"/><path class="c37" d="M1674.4 834l4.2 3.5-35.4 60-4.1 .8z"/><path class="c4 l" d="M1643.2 897.5l-4.1 .8"/><path class="c39" d="M1666.2 830.2l2 .1 2.1 .7 2.1 1.4 2 1.6-35.3 64.3-8.3 1.4z"/><path class="c4 l" d="M1639.1 898.3l-8.3 1.4"/><path class="c41" d="M1637.2 831.5l29-1.3-35.4 69.5-18.7 3.3-2 .2-2.1-.2-2.1-1.8-1.2-2.1-.8-2.2-2.1-6.9z"/><path class="c4 l" d="M1630.8 899.7l-8.3 1.5"/><path class="c4 l" d="M1622.5 901.2l-8.3 1.4"/><path class="c4 l" d="M1614.2 902.6l-4.1 .6-2.1-.2-2.1-1.8"/><path class="c4 l" d="M1605.9 901.2l-1.2-2.1-.8-2.2-2.1-6.9"/><path class="c43" d="M1633 831.9l4.2-.4-35.4 58.5-4.1-17.9z"/><path class="c4 l" d="M1601.8 890l-2.1-8.7"/><path class="c12 l" d="M1599.7 881.3l-2-9.2"/><path class="c41" d="M1626.8 837l2.1-2.4 2.1-1.8 2-.9-35.3 40.2-6.3-28.2z"/><path class="c20 l" d="M1597.7 872.1l-4.2-18.8"/><path class="c39" d="M1624.7 839.6l2.1-2.6-35.4 6.9-2-9.4z"/><path class="c28 l" d="M1593.5 853.3l-4.1-18.8"/><path class="c37" d="M1620.6 844.8l4.1-5.2-35.3-5.1-4.2-18.7z"/><path class="c35" d="M1618.5 847.5l2.1-2.7-35.4-29-2-9z"/><path class="c35" d="M1581.1 799l2.1 7.8 35.3 40.7-2 2.8z"/><path class="c44 l" d="M1585.2 815.8l-2-9"/><path class="c33" d="M1579 793.5l2.1 5.5 35.4 51.3-2.1 3.3z"/><path class="c52 l" d="M1583.2 806.8l-2.1-7.8-1.8-4.9"/><path class="c31" d="M1576.2 790.3l1.4 1.1 1.4 2.1 35.4 60.1-2.8 5.6z"/><path class="c29" d="M1574.9 790l1.3 .3 35.4 68.9-1.4 3.1z"/><path class="c27" d="M1572.1 790.3l2.8-.3 35.3 72.3-2.7 6.3z"/><path class="c25" d="M1570.7 790.5l1.4-.2 35.4 78.3-1.4 2.9z"/><path class="c60 l" d="M1579.3 794.1l-1.7-2.7-1.4-1.1-1.3-.3-2.8 .3"/><path class="c60 l" d="M1572.1 790.3l-1.4 .2"/><path class="c23" d="M1561.1 792.4l9.6-1.9 35.4 81-1.4 2.6-1.4 1.7-1.3 .9-1.4 .1-1.4-.4-2.8-1.1z"/><path class="c60 l" d="M1570.7 790.5l-8.3 1.6"/><path class="c25" d="M1558.3 792.9l2.8-.5 35.3 82.9-1.3-.8-1.4-1.3z"/><path class="c27" d="M1555.5 793.4l2.8-.5 35.4 80.3-1.4-2.1-1.4-3.1z"/><path class="c29" d="M1554.2 793.7l1.3-.3 35.4 74.6-1.4-3.8z"/><path class="c33" d="M1552.8 794l1.4-.3 35.3 70.5-1.3-4.3z"/><path class="c60 l" d="M1562.4 792.1l-8.2 1.6"/><path class="c35" d="M1551.4 794.2l1.4-.2 35.4 65.9-1.4-4.2z"/><path class="c37" d="M1550 794.5l1.4-.3 35.4 61.5-1.4-3.7z"/><path class="c60 l" d="M1554.2 793.7l-4.2 .8"/><path class="c39" d="M1537.6 796.8l12.4-2.3 35.4 57.5-1.4-2.8-1.4-1.6-1.3-.5-2.8 .2-2.8 .7-1.4 .9-1.3 1.8z"/><path class="c60 l" d="M1550 794.5l-8.3 1.6"/><path class="c37" d="M1536.2 797.1l1.4-.3 35.4 53.9-1.4 3z"/><path class="c35" d="M1534.8 797.4l1.4-.3 35.4 56.6-1.4 4z"/><path class="c33" d="M1533.4 797.6l1.4-.2 35.4 60.3-1.4 4.4z"/><path class="c31" d="M1532.1 798l1.3-.4 35.4 64.5-1.4 4.5z"/><path class="c60 l" d="M1541.7 796.1l-8.3 1.5"/><path class="c29" d="M1530.7 798.4l1.4-.4 35.3 68.6-1.3 4.6z"/><path class="c27" d="M1529.3 799.1l1.4-.7 35.4 72.8-1.4 4.5z"/><path class="c25" d="M1527.9 800.1l1.4-1 35.4 76.6-1.4 4z"/><path class="c60 l" d="M1533.4 797.6l-2.7 .8-1.4 .7-1.4 1"/><path class="c23" d="M1516.9 816.7l2-6.2 .7-1.5 1.4-2.1 2.8-2.9 4.1-3.9 35.4 79.6-1.4 2.9-1.4 1.5-1.3 .3-6.9-.9z"/><path class="c60 l" d="M1527.9 800.1l-5.5 5.3-1.4 1.5-1.4 2.1"/><path class="c60 l" d="M1519.6 809l-.7 1.5"/><path class="c52 l" d="M1518.9 810.5l-2 6.2"/><path class="c25" d="M1504.5 863.7l12.4-47 35.4 66.8-12.5-2z"/><path class="c52 l" d="M1516.9 816.7l-2.8 10.2"/><path class="c44 l" d="M1514.1 826.9l-5.5 21"/><path class="c36 l" d="M1508.6 847.9l-4.1 15.8"/><path class="c27" d="M1493.4 905.6l11.1-41.9 35.3 17.8-11-1.8z"/><path class="c12 l" d="M1496.2 895.1l-2.8 10.5"/><path class="c29" d="M1487.9 925.2l1.4-3.9 4.1-15.7 35.4-25.9-5.5-.9z"/><path class="c12 l" d="M1493.4 905.6l-1.4 5.3"/><path class="c4 l" d="M1492 910.9l-2.7 10.4-1.4 3.9"/><path class="c29" d="M1510.8 879.2l8.3-.7 1.4-.1 2.8 .4-35.4 46.4-.5 .4-.9-1.4-1.4-5.3-9.6-42.3z"/><path class="c4 l" d="M1487.9 925.2l-.5 .4-.9-1.4-4.1-17.4"/><path class="c12 l" d="M1482.4 906.8l-2.8-12.1"/><path class="c20 l" d="M1479.6 894.7l-4.1-18.1"/><path class="c31" d="M1498.2 880.5l1.6-.3 11-1-35.3-2.6-11.1-48.3-1.6-5.7z"/><path class="c44 l" d="M1468.6 846.4l-2.8-12"/><path class="c31" d="M1460.3 830.5l1.4-4.9 1.1-3 35.4 57.9-2.5 1.5z"/><path class="c52 l" d="M1465.8 834.4l-1.4-6.1-1.6-5.7-1.1 3-1.4 4.9"/><path class="c29" d="M1450.6 865l9.7-34.5 35.4 51.5-9.7 5.7z"/><path class="c52 l" d="M1460.3 830.5l-2.8 9.9"/><path class="c44 l" d="M1457.5 840.4l-4.1 14.8"/><path class="c27" d="M1445.1 883.8l.3 0 5.2-18.8 35.4 22.7-1.4 .8-4.1 3.6z"/><path class="c36 l" d="M1450.6 865l-2.8 9.9"/><path class="c25" d="M1440.9 884.6l4.2-.8 35.4 8.3-4.2 3.6z"/></g>
<g class="q"><path class="c31" d="M1701.4 855.7l1.4-.1 .6-.4 2.1-2 14.5-21.9 2.1-3 2.1-2.7 2-1.7 2.1-1.1 2.1-.8 22.7-7.9 31.1-8.1 87-17.1 4.1-.6 15.2-1.5 35.4 30.3-189.2 35.9z"/><path class="c31" d="M1722.3 855.8l14.4-2.8-35.3 2.7-2.1-1.1-12.4-10.2z"/><path class="c31" d="M1602 876.7l1.3-.9 1.4-1.7 2.8-5.5 5.5-12.3 1.4-2.7 2.1-3.3 8.2-10.7 4.2-5 2.1-1.8 2-.9 4.2-.4 26.9-1.3 4.1 .1 2.1 .7 2.1 1.4 14.5 12 35.4 11.4-85 16.1z"/><path class="c31" d="M1619.4 875.3l17.9-3.4-35.3 4.8-1.4 .1-1.4-.4-2.8-1.1-1.3-.8-1.4-1.3-1.4-2.1-1.4-3.1-5.5-16-1.4-2.8z"/><path class="c31" d="M1559.2 884.4l1.3-.3 1.4-1.5 1.4-2.9 6.9-22 1.4-4 1.4-3 1.3-1.8 1.4-.9 1.4-.4 2.8-.5 1.4 0 1.3 .5 1.4 1.6 35.4 26.1-24.9 4.8z"/><path class="c31" d="M1583.5 882.2l11-2.1-35.3 4.3-11.1-1.6z"/><path class="c31" d="M1476.3 895.7l8.3-7.2 13.8-8.1 22.1-2 27.6 4.4 35.4-.6-71.8 13.6z"/></g>
<path class="a" d="M1193.3 905.6L1193.3 682.8M1193.3 905.6L1511.7 1007.2M1511.7 1007.2L1925.9 928.5M1511.7 1007.2L1523.1 1010.8M1649.8 981L1661.2 984.6M1787.8 954.7L1799.3 958.4M1925.9 928.5L1937.3 932.1M1511.7 1007.2L1499.9 1009.4M1352.5 956.4L1340.7 958.6M1193.3 905.6L1181.5 907.8M1193.3 905.6L1181.9 902M1193.3 794.2L1181.9 790.6M1193.3 682.8L1181.9 679.2"/>
<text class="k" text-anchor="start" transform="translate(1531.3 1053.5) scale(0.575 1)">0</text>
<text class="k" text-anchor="start" transform="translate(1669.4 1027.3) scale(0.575 1)">50</text>
<text class="k" text-anchor="start" transform="translate(1807.4 1001) scale(0.575 1)">100</text>
<text class="k" text-anchor="start" transform="translate(1945.5 974.8) scale(0.575 1)">150</text>
<text class="k" text-anchor="end" transform="translate(1490.9 1051.5) scale(0.575 1)">-5</text>
<text class="k" text-anchor="end" transform="translate(1331.7 1000.7) scale(0.575 1)">0</text>
<text class="k" text-anchor="end" transform="translate(1172.5 949.9) scale(0.575 1)">5</text>
<text class="k" text-anchor="end" transform="translate(1173.3 915.2) scale(0.575 1)">-10</text>
<text class="k" text-anchor="end" transform="translate(1173.3 803.8) scale(0.575 1)">0</text>
<text class="k" text-anchor="end" transform="translate(1173.3 692.4) scale(0.575 1)">10</text>
<text class="m" text-anchor="middle" transform="translate(1365.9 1084.2) scale(.53 1)">y</text>
<text class="m n" text-anchor="middle" transform="translate(1695.9 1090.6) scale(.75 1)">t</text>
<text class="b" text-anchor="middle" transform="translate(1123.5 796) rotate(-90) scale(.985 .56)">e<tspan class="s" dy="7">4</tspan><tspan class="p" dy="-4" dx="1">(</tspan><tspan dy="-3">y</tspan><tspan class="p" dx="1">,</tspan><tspan dx="9">t</tspan><tspan class="p" dy="3" dx="1">)</tspan></text>
</g>
</svg>
</body></html>
